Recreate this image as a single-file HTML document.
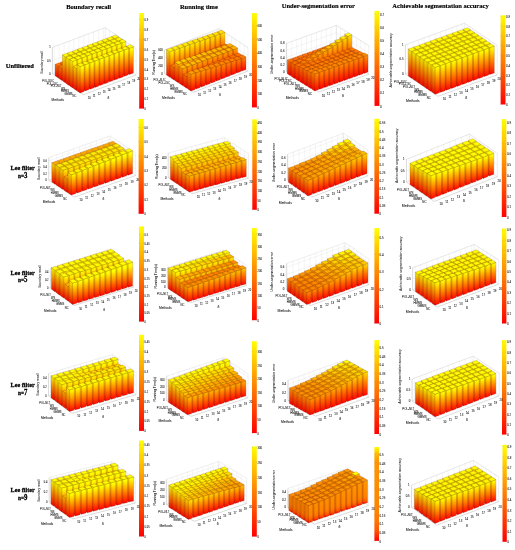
<!DOCTYPE html><html><head><meta charset="utf-8"><style>html,body{margin:0;padding:0;background:#fff;width:515px;height:550px;overflow:hidden}svg{display:block}.t{font-family:'Liberation Sans',sans-serif;fill:#222;stroke:#222;stroke-width:0.06px}.l{fill:#700;fill-opacity:.13;stroke:none}</style></head><body><svg width="515" height="550" viewBox="0 0 515 550"><path d="M52.4 73.8L105.3 54L136.1 75M52.4 60.6L105.3 40.8L136.1 61.8M52.4 47.4L105.3 27.6L136.1 48.6M54.2 73.1L54.2 46.7M54.2 73.1L85 94.1M59.1 71.3L59.1 44.9M59.1 71.3L89.9 92.3M64.1 69.4L64.1 43M64.1 69.4L94.9 90.4M69 67.6L69 41.2M69 67.6L99.8 88.6M73.9 65.7L73.9 39.3M73.9 65.7L104.7 86.7M78.8 63.9L78.8 37.5M78.8 63.9L109.7 84.9M83.8 62.1L83.8 35.7M83.8 62.1L114.6 83.1M88.7 60.2L88.7 33.8M88.7 60.2L119.5 81.2M93.6 58.4L93.6 32M93.6 58.4L124.4 79.4M98.6 56.5L98.6 30.1M98.6 56.5L129.4 77.5M103.5 54.7L103.5 28.3M103.5 54.7L134.3 75.7M109.6 57L109.6 30.6M56.7 76.7L109.6 57M113.3 59.5L113.3 33.1M60.4 79.3L113.3 59.5M117 62L117 35.6M64.1 81.8L117 62M120.7 64.5L120.7 38.1M67.8 84.3L120.7 64.5M124.4 67L124.4 40.6M71.5 86.8L124.4 67M128.1 69.5L128.1 43.1M75.2 89.3L128.1 69.5M131.8 72.1L131.8 45.7M78.9 91.8L131.8 72.1" stroke="#e2e2e2" stroke-width="0.35" fill="none"/>
<path d="M52.4 73.8L105.3 54M105.3 54L136.1 75M105.3 54L105.3 27.6M136.1 75L136.1 48.6M52.4 47.4L105.3 27.6M105.3 27.6L136.1 48.6" stroke="#d0d0d0" stroke-width="0.35" fill="none"/>
<path d="M52.4 73.8L83.2 94.8M83.2 94.8L136.1 75M52.4 73.8L52.4 47.4" stroke="#aaa" stroke-width="0.4" fill="none"/>
<linearGradient id="g0" gradientUnits="userSpaceOnUse" x1="0" y1="0" x2="0" y2="-25.5"><stop offset="0" stop-color="#f00"/><stop offset="1" stop-color="#ff0"/></linearGradient>
<g fill="url(#g0)" stroke="rgba(100,30,0,0.55)" stroke-width="0.35">
<g transform="translate(107.3 59.4)"><path d="M-3 -2l3 2 3.9 -1.5v-11.5l-3.9 1.5 -3 -2zM0 0v-11.5"/><path class="l" d="M-3 -2L0 0v-11.5l-3 -2z"/><path d="M-3 -13.5L0 -11.5L3.9 -13L1 -15z" fill="#ff7300"/></g>
<g transform="translate(102.4 61.2)"><path d="M-3 -2l3 2 3.9 -1.5v-11.5l-3.9 1.5 -3 -2zM0 0v-11.5"/><path class="l" d="M-3 -2L0 0v-11.5l-3 -2z"/><path d="M-3 -13.5L0 -11.5L3.9 -13L1 -15z" fill="#ff7300"/></g>
<g transform="translate(97.5 63.1)"><path d="M-3 -2l3 2 3.9 -1.5v-11.5l-3.9 1.5 -3 -2zM0 0v-11.5"/><path class="l" d="M-3 -2L0 0v-11.5l-3 -2z"/><path d="M-3 -13.5L0 -11.5L3.9 -13L1 -15z" fill="#ff7300"/></g>
<g transform="translate(92.5 64.9)"><path d="M-3 -2l3 2 3.9 -1.5v-11.5l-3.9 1.5 -3 -2zM0 0v-11.5"/><path class="l" d="M-3 -2L0 0v-11.5l-3 -2z"/><path d="M-3 -13.5L0 -11.5L3.9 -13L1 -15z" fill="#ff7300"/></g>
<g transform="translate(87.6 66.8)"><path d="M-3 -2l3 2 3.9 -1.5v-11.5l-3.9 1.5 -3 -2zM0 0v-11.5"/><path class="l" d="M-3 -2L0 0v-11.5l-3 -2z"/><path d="M-3 -13.5L0 -11.5L3.9 -13L1 -15z" fill="#ff7300"/></g>
<g transform="translate(82.7 68.6)"><path d="M-3 -2l3 2 3.9 -1.5v-11.5l-3.9 1.5 -3 -2zM0 0v-11.5"/><path class="l" d="M-3 -2L0 0v-11.5l-3 -2z"/><path d="M-3 -13.5L0 -11.5L3.9 -13L1 -15z" fill="#ff7300"/></g>
<g transform="translate(77.8 70.4)"><path d="M-3 -2l3 2 3.9 -1.5v-11.5l-3.9 1.5 -3 -2zM0 0v-11.5"/><path class="l" d="M-3 -2L0 0v-11.5l-3 -2z"/><path d="M-3 -13.5L0 -11.5L3.9 -13L1 -15z" fill="#ff7300"/></g>
<g transform="translate(72.8 72.3)"><path d="M-3 -2l3 2 3.9 -1.5v-11.5l-3.9 1.5 -3 -2zM0 0v-11.5"/><path class="l" d="M-3 -2L0 0v-11.5l-3 -2z"/><path d="M-3 -13.5L0 -11.5L3.9 -13L1 -15z" fill="#ff7300"/></g>
<g transform="translate(67.9 74.1)"><path d="M-3 -2l3 2 3.9 -1.5v-11.5l-3.9 1.5 -3 -2zM0 0v-11.5"/><path class="l" d="M-3 -2L0 0v-11.5l-3 -2z"/><path d="M-3 -13.5L0 -11.5L3.9 -13L1 -15z" fill="#ff7300"/></g>
<g transform="translate(63 76)"><path d="M-3 -2l3 2 3.9 -1.5v-11.5l-3.9 1.5 -3 -2zM0 0v-11.5"/><path class="l" d="M-3 -2L0 0v-11.5l-3 -2z"/><path d="M-3 -13.5L0 -11.5L3.9 -13L1 -15z" fill="#ff7300"/></g>
<g transform="translate(58.1 77.8)"><path d="M-3 -2l3 2 3.9 -1.5v-11.5l-3.9 1.5 -3 -2zM0 0v-11.5"/><path class="l" d="M-3 -2L0 0v-11.5l-3 -2z"/><path d="M-3 -13.5L0 -11.5L3.9 -13L1 -15z" fill="#ff7300"/></g>
<g transform="translate(111 61.9)"><path d="M-3 -2l3 2 3.9 -1.5v-12l-3.9 1.5 -3 -2zM0 0v-12"/><path class="l" d="M-3 -2L0 0v-12l-3 -2z"/><path d="M-3 -14L0 -12L3.9 -13.5L1 -15.5z" fill="#ff7800"/></g>
<g transform="translate(106.1 63.7)"><path d="M-3 -2l3 2 3.9 -1.5v-12l-3.9 1.5 -3 -2zM0 0v-12"/><path class="l" d="M-3 -2L0 0v-12l-3 -2z"/><path d="M-3 -14L0 -12L3.9 -13.5L1 -15.5z" fill="#ff7800"/></g>
<g transform="translate(101.2 65.6)"><path d="M-3 -2l3 2 3.9 -1.5v-12l-3.9 1.5 -3 -2zM0 0v-12"/><path class="l" d="M-3 -2L0 0v-12l-3 -2z"/><path d="M-3 -14L0 -12L3.9 -13.5L1 -15.5z" fill="#ff7800"/></g>
<g transform="translate(96.2 67.4)"><path d="M-3 -2l3 2 3.9 -1.5v-12l-3.9 1.5 -3 -2zM0 0v-12"/><path class="l" d="M-3 -2L0 0v-12l-3 -2z"/><path d="M-3 -14L0 -12L3.9 -13.5L1 -15.5z" fill="#ff7800"/></g>
<g transform="translate(91.3 69.3)"><path d="M-3 -2l3 2 3.9 -1.5v-12l-3.9 1.5 -3 -2zM0 0v-12"/><path class="l" d="M-3 -2L0 0v-12l-3 -2z"/><path d="M-3 -14L0 -12L3.9 -13.5L1 -15.5z" fill="#ff7800"/></g>
<g transform="translate(86.4 71.1)"><path d="M-3 -2l3 2 3.9 -1.5v-12l-3.9 1.5 -3 -2zM0 0v-12"/><path class="l" d="M-3 -2L0 0v-12l-3 -2z"/><path d="M-3 -14L0 -12L3.9 -13.5L1 -15.5z" fill="#ff7800"/></g>
<g transform="translate(81.4 73)"><path d="M-3 -2l3 2 3.9 -1.5v-12l-3.9 1.5 -3 -2zM0 0v-12"/><path class="l" d="M-3 -2L0 0v-12l-3 -2z"/><path d="M-3 -14L0 -12L3.9 -13.5L1 -15.5z" fill="#ff7800"/></g>
<g transform="translate(76.5 74.8)"><path d="M-3 -2l3 2 3.9 -1.5v-12l-3.9 1.5 -3 -2zM0 0v-12"/><path class="l" d="M-3 -2L0 0v-12l-3 -2z"/><path d="M-3 -14L0 -12L3.9 -13.5L1 -15.5z" fill="#ff7800"/></g>
<g transform="translate(71.6 76.6)"><path d="M-3 -2l3 2 3.9 -1.5v-12l-3.9 1.5 -3 -2zM0 0v-12"/><path class="l" d="M-3 -2L0 0v-12l-3 -2z"/><path d="M-3 -14L0 -12L3.9 -13.5L1 -15.5z" fill="#ff7800"/></g>
<g transform="translate(66.7 78.5)"><path d="M-3 -2l3 2 3.9 -1.5v-12l-3.9 1.5 -3 -2zM0 0v-12"/><path class="l" d="M-3 -2L0 0v-12l-3 -2z"/><path d="M-3 -14L0 -12L3.9 -13.5L1 -15.5z" fill="#ff7800"/></g>
<g transform="translate(61.7 80.3)"><path d="M-3 -2l3 2 3.9 -1.5v-12l-3.9 1.5 -3 -2zM0 0v-12"/><path class="l" d="M-3 -2L0 0v-12l-3 -2z"/><path d="M-3 -14L0 -12L3.9 -13.5L1 -15.5z" fill="#ff7800"/></g>
<g transform="translate(114.7 64.4)"><path d="M-3 -2l3 2 3.9 -1.5v-26l-3.9 1.5 -3 -2zM0 0v-26"/><path class="l" d="M-3 -2L0 0v-26l-3 -2z"/><path d="M-3 -28L0 -26L3.9 -27.5L1 -29.5z" fill="#ffff00"/></g>
<g transform="translate(109.8 66.3)"><path d="M-3 -2l3 2 3.9 -1.5v-26l-3.9 1.5 -3 -2zM0 0v-26"/><path class="l" d="M-3 -2L0 0v-26l-3 -2z"/><path d="M-3 -28L0 -26L3.9 -27.5L1 -29.5z" fill="#ffff00"/></g>
<g transform="translate(104.8 68.1)"><path d="M-3 -2l3 2 3.9 -1.5v-26l-3.9 1.5 -3 -2zM0 0v-26"/><path class="l" d="M-3 -2L0 0v-26l-3 -2z"/><path d="M-3 -28L0 -26L3.9 -27.5L1 -29.5z" fill="#ffff00"/></g>
<g transform="translate(99.9 69.9)"><path d="M-3 -2l3 2 3.9 -1.5v-26l-3.9 1.5 -3 -2zM0 0v-26"/><path class="l" d="M-3 -2L0 0v-26l-3 -2z"/><path d="M-3 -28L0 -26L3.9 -27.5L1 -29.5z" fill="#ffff00"/></g>
<g transform="translate(95 71.8)"><path d="M-3 -2l3 2 3.9 -1.5v-26l-3.9 1.5 -3 -2zM0 0v-26"/><path class="l" d="M-3 -2L0 0v-26l-3 -2z"/><path d="M-3 -28L0 -26L3.9 -27.5L1 -29.5z" fill="#ffff00"/></g>
<g transform="translate(90.1 73.6)"><path d="M-3 -2l3 2 3.9 -1.5v-26l-3.9 1.5 -3 -2zM0 0v-26"/><path class="l" d="M-3 -2L0 0v-26l-3 -2z"/><path d="M-3 -28L0 -26L3.9 -27.5L1 -29.5z" fill="#ffff00"/></g>
<g transform="translate(85.1 75.5)"><path d="M-3 -2l3 2 3.9 -1.5v-26l-3.9 1.5 -3 -2zM0 0v-26"/><path class="l" d="M-3 -2L0 0v-26l-3 -2z"/><path d="M-3 -28L0 -26L3.9 -27.5L1 -29.5z" fill="#ffff00"/></g>
<g transform="translate(80.2 77.3)"><path d="M-3 -2l3 2 3.9 -1.5v-26l-3.9 1.5 -3 -2zM0 0v-26"/><path class="l" d="M-3 -2L0 0v-26l-3 -2z"/><path d="M-3 -28L0 -26L3.9 -27.5L1 -29.5z" fill="#ffff00"/></g>
<g transform="translate(75.3 79.2)"><path d="M-3 -2l3 2 3.9 -1.5v-26l-3.9 1.5 -3 -2zM0 0v-26"/><path class="l" d="M-3 -2L0 0v-26l-3 -2z"/><path d="M-3 -28L0 -26L3.9 -27.5L1 -29.5z" fill="#ffff00"/></g>
<g transform="translate(70.4 81)"><path d="M-3 -2l3 2 3.9 -1.5v-26l-3.9 1.5 -3 -2zM0 0v-26"/><path class="l" d="M-3 -2L0 0v-26l-3 -2z"/><path d="M-3 -28L0 -26L3.9 -27.5L1 -29.5z" fill="#ffff00"/></g>
<g transform="translate(65.4 82.8)"><path d="M-3 -2l3 2 3.9 -1.5v-26l-3.9 1.5 -3 -2zM0 0v-26"/><path class="l" d="M-3 -2L0 0v-26l-3 -2z"/><path d="M-3 -28L0 -26L3.9 -27.5L1 -29.5z" fill="#ffff00"/></g>
<g transform="translate(118.4 66.9)"><path d="M-3 -2l3 2 3.9 -1.5v-26l-3.9 1.5 -3 -2zM0 0v-26"/><path class="l" d="M-3 -2L0 0v-26l-3 -2z"/><path d="M-3 -28L0 -26L3.9 -27.5L1 -29.5z" fill="#ffff00"/></g>
<g transform="translate(113.5 68.8)"><path d="M-3 -2l3 2 3.9 -1.5v-26l-3.9 1.5 -3 -2zM0 0v-26"/><path class="l" d="M-3 -2L0 0v-26l-3 -2z"/><path d="M-3 -28L0 -26L3.9 -27.5L1 -29.5z" fill="#ffff00"/></g>
<g transform="translate(108.5 70.6)"><path d="M-3 -2l3 2 3.9 -1.5v-26l-3.9 1.5 -3 -2zM0 0v-26"/><path class="l" d="M-3 -2L0 0v-26l-3 -2z"/><path d="M-3 -28L0 -26L3.9 -27.5L1 -29.5z" fill="#ffff00"/></g>
<g transform="translate(103.6 72.5)"><path d="M-3 -2l3 2 3.9 -1.5v-26l-3.9 1.5 -3 -2zM0 0v-26"/><path class="l" d="M-3 -2L0 0v-26l-3 -2z"/><path d="M-3 -28L0 -26L3.9 -27.5L1 -29.5z" fill="#ffff00"/></g>
<g transform="translate(98.7 74.3)"><path d="M-3 -2l3 2 3.9 -1.5v-26l-3.9 1.5 -3 -2zM0 0v-26"/><path class="l" d="M-3 -2L0 0v-26l-3 -2z"/><path d="M-3 -28L0 -26L3.9 -27.5L1 -29.5z" fill="#ffff00"/></g>
<g transform="translate(93.8 76.1)"><path d="M-3 -2l3 2 3.9 -1.5v-26l-3.9 1.5 -3 -2zM0 0v-26"/><path class="l" d="M-3 -2L0 0v-26l-3 -2z"/><path d="M-3 -28L0 -26L3.9 -27.5L1 -29.5z" fill="#ffff00"/></g>
<g transform="translate(88.8 78)"><path d="M-3 -2l3 2 3.9 -1.5v-26l-3.9 1.5 -3 -2zM0 0v-26"/><path class="l" d="M-3 -2L0 0v-26l-3 -2z"/><path d="M-3 -28L0 -26L3.9 -27.5L1 -29.5z" fill="#ffff00"/></g>
<g transform="translate(83.9 79.8)"><path d="M-3 -2l3 2 3.9 -1.5v-26l-3.9 1.5 -3 -2zM0 0v-26"/><path class="l" d="M-3 -2L0 0v-26l-3 -2z"/><path d="M-3 -28L0 -26L3.9 -27.5L1 -29.5z" fill="#ffff00"/></g>
<g transform="translate(79 81.7)"><path d="M-3 -2l3 2 3.9 -1.5v-26l-3.9 1.5 -3 -2zM0 0v-26"/><path class="l" d="M-3 -2L0 0v-26l-3 -2z"/><path d="M-3 -28L0 -26L3.9 -27.5L1 -29.5z" fill="#ffff00"/></g>
<g transform="translate(74.1 83.5)"><path d="M-3 -2l3 2 3.9 -1.5v-26l-3.9 1.5 -3 -2zM0 0v-26"/><path class="l" d="M-3 -2L0 0v-26l-3 -2z"/><path d="M-3 -28L0 -26L3.9 -27.5L1 -29.5z" fill="#ffff00"/></g>
<g transform="translate(69.1 85.4)"><path d="M-3 -2l3 2 3.9 -1.5v-26l-3.9 1.5 -3 -2zM0 0v-26"/><path class="l" d="M-3 -2L0 0v-26l-3 -2z"/><path d="M-3 -28L0 -26L3.9 -27.5L1 -29.5z" fill="#ffff00"/></g>
<g transform="translate(122.1 69.4)"><path d="M-3 -2l3 2 3.9 -1.5v-26.5l-3.9 1.5 -3 -2zM0 0v-26.5"/><path class="l" d="M-3 -2L0 0v-26.5l-3 -2z"/><path d="M-3 -28.5L0 -26.5L3.9 -28L1 -30z" fill="#ffff00"/></g>
<g transform="translate(117.2 71.3)"><path d="M-3 -2l3 2 3.9 -1.5v-26.5l-3.9 1.5 -3 -2zM0 0v-26.5"/><path class="l" d="M-3 -2L0 0v-26.5l-3 -2z"/><path d="M-3 -28.5L0 -26.5L3.9 -28L1 -30z" fill="#ffff00"/></g>
<g transform="translate(112.2 73.1)"><path d="M-3 -2l3 2 3.9 -1.5v-26.5l-3.9 1.5 -3 -2zM0 0v-26.5"/><path class="l" d="M-3 -2L0 0v-26.5l-3 -2z"/><path d="M-3 -28.5L0 -26.5L3.9 -28L1 -30z" fill="#ffff00"/></g>
<g transform="translate(107.3 75)"><path d="M-3 -2l3 2 3.9 -1.5v-26.5l-3.9 1.5 -3 -2zM0 0v-26.5"/><path class="l" d="M-3 -2L0 0v-26.5l-3 -2z"/><path d="M-3 -28.5L0 -26.5L3.9 -28L1 -30z" fill="#ffff00"/></g>
<g transform="translate(102.4 76.8)"><path d="M-3 -2l3 2 3.9 -1.5v-26.5l-3.9 1.5 -3 -2zM0 0v-26.5"/><path class="l" d="M-3 -2L0 0v-26.5l-3 -2z"/><path d="M-3 -28.5L0 -26.5L3.9 -28L1 -30z" fill="#ffff00"/></g>
<g transform="translate(97.4 78.7)"><path d="M-3 -2l3 2 3.9 -1.5v-26.5l-3.9 1.5 -3 -2zM0 0v-26.5"/><path class="l" d="M-3 -2L0 0v-26.5l-3 -2z"/><path d="M-3 -28.5L0 -26.5L3.9 -28L1 -30z" fill="#ffff00"/></g>
<g transform="translate(92.5 80.5)"><path d="M-3 -2l3 2 3.9 -1.5v-26.5l-3.9 1.5 -3 -2zM0 0v-26.5"/><path class="l" d="M-3 -2L0 0v-26.5l-3 -2z"/><path d="M-3 -28.5L0 -26.5L3.9 -28L1 -30z" fill="#ffff00"/></g>
<g transform="translate(87.6 82.3)"><path d="M-3 -2l3 2 3.9 -1.5v-26.5l-3.9 1.5 -3 -2zM0 0v-26.5"/><path class="l" d="M-3 -2L0 0v-26.5l-3 -2z"/><path d="M-3 -28.5L0 -26.5L3.9 -28L1 -30z" fill="#ffff00"/></g>
<g transform="translate(82.7 84.2)"><path d="M-3 -2l3 2 3.9 -1.5v-26.5l-3.9 1.5 -3 -2zM0 0v-26.5"/><path class="l" d="M-3 -2L0 0v-26.5l-3 -2z"/><path d="M-3 -28.5L0 -26.5L3.9 -28L1 -30z" fill="#ffff00"/></g>
<g transform="translate(77.7 86)"><path d="M-3 -2l3 2 3.9 -1.5v-26.5l-3.9 1.5 -3 -2zM0 0v-26.5"/><path class="l" d="M-3 -2L0 0v-26.5l-3 -2z"/><path d="M-3 -28.5L0 -26.5L3.9 -28L1 -30z" fill="#ffff00"/></g>
<g transform="translate(72.8 87.9)"><path d="M-3 -2l3 2 3.9 -1.5v-26.5l-3.9 1.5 -3 -2zM0 0v-26.5"/><path class="l" d="M-3 -2L0 0v-26.5l-3 -2z"/><path d="M-3 -28.5L0 -26.5L3.9 -28L1 -30z" fill="#ffff00"/></g>
<g transform="translate(125.8 72)"><path d="M-3 -2l3 2 3.9 -1.5v-22l-3.9 1.5 -3 -2zM0 0v-22"/><path class="l" d="M-3 -2L0 0v-22l-3 -2z"/><path d="M-3 -24L0 -22L3.9 -23.5L1 -25.5z" fill="#ffdc00"/></g>
<g transform="translate(120.8 73.8)"><path d="M-3 -2l3 2 3.9 -1.5v-22l-3.9 1.5 -3 -2zM0 0v-22"/><path class="l" d="M-3 -2L0 0v-22l-3 -2z"/><path d="M-3 -24L0 -22L3.9 -23.5L1 -25.5z" fill="#ffdc00"/></g>
<g transform="translate(115.9 75.6)"><path d="M-3 -2l3 2 3.9 -1.5v-22l-3.9 1.5 -3 -2zM0 0v-22"/><path class="l" d="M-3 -2L0 0v-22l-3 -2z"/><path d="M-3 -24L0 -22L3.9 -23.5L1 -25.5z" fill="#ffdc00"/></g>
<g transform="translate(111 77.5)"><path d="M-3 -2l3 2 3.9 -1.5v-22l-3.9 1.5 -3 -2zM0 0v-22"/><path class="l" d="M-3 -2L0 0v-22l-3 -2z"/><path d="M-3 -24L0 -22L3.9 -23.5L1 -25.5z" fill="#ffdc00"/></g>
<g transform="translate(106.1 79.3)"><path d="M-3 -2l3 2 3.9 -1.5v-22l-3.9 1.5 -3 -2zM0 0v-22"/><path class="l" d="M-3 -2L0 0v-22l-3 -2z"/><path d="M-3 -24L0 -22L3.9 -23.5L1 -25.5z" fill="#ffdc00"/></g>
<g transform="translate(101.1 81.2)"><path d="M-3 -2l3 2 3.9 -1.5v-22l-3.9 1.5 -3 -2zM0 0v-22"/><path class="l" d="M-3 -2L0 0v-22l-3 -2z"/><path d="M-3 -24L0 -22L3.9 -23.5L1 -25.5z" fill="#ffdc00"/></g>
<g transform="translate(96.2 83)"><path d="M-3 -2l3 2 3.9 -1.5v-22l-3.9 1.5 -3 -2zM0 0v-22"/><path class="l" d="M-3 -2L0 0v-22l-3 -2z"/><path d="M-3 -24L0 -22L3.9 -23.5L1 -25.5z" fill="#ffdc00"/></g>
<g transform="translate(91.3 84.9)"><path d="M-3 -2l3 2 3.9 -1.5v-22l-3.9 1.5 -3 -2zM0 0v-22"/><path class="l" d="M-3 -2L0 0v-22l-3 -2z"/><path d="M-3 -24L0 -22L3.9 -23.5L1 -25.5z" fill="#ffdc00"/></g>
<g transform="translate(86.4 86.7)"><path d="M-3 -2l3 2 3.9 -1.5v-22l-3.9 1.5 -3 -2zM0 0v-22"/><path class="l" d="M-3 -2L0 0v-22l-3 -2z"/><path d="M-3 -24L0 -22L3.9 -23.5L1 -25.5z" fill="#ffdc00"/></g>
<g transform="translate(81.4 88.5)"><path d="M-3 -2l3 2 3.9 -1.5v-22l-3.9 1.5 -3 -2zM0 0v-22"/><path class="l" d="M-3 -2L0 0v-22l-3 -2z"/><path d="M-3 -24L0 -22L3.9 -23.5L1 -25.5z" fill="#ffdc00"/></g>
<g transform="translate(76.5 90.4)"><path d="M-3 -2l3 2 3.9 -1.5v-22l-3.9 1.5 -3 -2zM0 0v-22"/><path class="l" d="M-3 -2L0 0v-22l-3 -2z"/><path d="M-3 -24L0 -22L3.9 -23.5L1 -25.5z" fill="#ffdc00"/></g>
<g transform="translate(129.5 74.5)"><path d="M-3 -2l3 2 3.9 -1.5v-26.4l-3.9 1.5 -3 -2zM0 0v-26.4"/><path class="l" d="M-3 -2L0 0v-26.4l-3 -2z"/><path d="M-3 -28.4L0 -26.4L3.9 -27.9L1 -29.9z" fill="#ffff00"/></g>
<g transform="translate(124.5 76.3)"><path d="M-3 -2l3 2 3.9 -1.5v-26.4l-3.9 1.5 -3 -2zM0 0v-26.4"/><path class="l" d="M-3 -2L0 0v-26.4l-3 -2z"/><path d="M-3 -28.4L0 -26.4L3.9 -27.9L1 -29.9z" fill="#ffff00"/></g>
<g transform="translate(119.6 78.2)"><path d="M-3 -2l3 2 3.9 -1.5v-26.4l-3.9 1.5 -3 -2zM0 0v-26.4"/><path class="l" d="M-3 -2L0 0v-26.4l-3 -2z"/><path d="M-3 -28.4L0 -26.4L3.9 -27.9L1 -29.9z" fill="#ffff00"/></g>
<g transform="translate(114.7 80)"><path d="M-3 -2l3 2 3.9 -1.5v-26.4l-3.9 1.5 -3 -2zM0 0v-26.4"/><path class="l" d="M-3 -2L0 0v-26.4l-3 -2z"/><path d="M-3 -28.4L0 -26.4L3.9 -27.9L1 -29.9z" fill="#ffff00"/></g>
<g transform="translate(109.8 81.8)"><path d="M-3 -2l3 2 3.9 -1.5v-26.4l-3.9 1.5 -3 -2zM0 0v-26.4"/><path class="l" d="M-3 -2L0 0v-26.4l-3 -2z"/><path d="M-3 -28.4L0 -26.4L3.9 -27.9L1 -29.9z" fill="#ffff00"/></g>
<g transform="translate(104.8 83.7)"><path d="M-3 -2l3 2 3.9 -1.5v-26.4l-3.9 1.5 -3 -2zM0 0v-26.4"/><path class="l" d="M-3 -2L0 0v-26.4l-3 -2z"/><path d="M-3 -28.4L0 -26.4L3.9 -27.9L1 -29.9z" fill="#ffff00"/></g>
<g transform="translate(99.9 85.5)"><path d="M-3 -2l3 2 3.9 -1.5v-26.4l-3.9 1.5 -3 -2zM0 0v-26.4"/><path class="l" d="M-3 -2L0 0v-26.4l-3 -2z"/><path d="M-3 -28.4L0 -26.4L3.9 -27.9L1 -29.9z" fill="#ffff00"/></g>
<g transform="translate(95 87.4)"><path d="M-3 -2l3 2 3.9 -1.5v-26.4l-3.9 1.5 -3 -2zM0 0v-26.4"/><path class="l" d="M-3 -2L0 0v-26.4l-3 -2z"/><path d="M-3 -28.4L0 -26.4L3.9 -27.9L1 -29.9z" fill="#ffff00"/></g>
<g transform="translate(90.1 89.2)"><path d="M-3 -2l3 2 3.9 -1.5v-26.4l-3.9 1.5 -3 -2zM0 0v-26.4"/><path class="l" d="M-3 -2L0 0v-26.4l-3 -2z"/><path d="M-3 -28.4L0 -26.4L3.9 -27.9L1 -29.9z" fill="#ffff00"/></g>
<g transform="translate(85.1 91.1)"><path d="M-3 -2l3 2 3.9 -1.5v-26.4l-3.9 1.5 -3 -2zM0 0v-26.4"/><path class="l" d="M-3 -2L0 0v-26.4l-3 -2z"/><path d="M-3 -28.4L0 -26.4L3.9 -27.9L1 -29.9z" fill="#ffff00"/></g>
<g transform="translate(80.2 92.9)"><path d="M-3 -2l3 2 3.9 -1.5v-26.4l-3.9 1.5 -3 -2zM0 0v-26.4"/><path class="l" d="M-3 -2L0 0v-26.4l-3 -2z"/><path d="M-3 -28.4L0 -26.4L3.9 -27.9L1 -29.9z" fill="#ffff00"/></g>
</g>
<linearGradient id="cb0" x1="0" y1="1" x2="0" y2="0"><stop offset="0" stop-color="#f00"/><stop offset="1" stop-color="#ff0"/></linearGradient>
<rect x="139.2" y="13" width="4.8" height="95.6" fill="url(#cb0)"/>
<g class="t" font-size="2.6">
<text x="50.6" y="74.7" text-anchor="end">0</text>
<text x="50.6" y="61.5" text-anchor="end">0.5</text>
<text x="50.6" y="48.3" text-anchor="end">1</text>
<text x="43.4" y="62.3" font-size="3.2" text-anchor="middle" transform="rotate(-90 43.4 62.3)">Boundary recall</text>
<text x="54.1" y="82.1" text-anchor="end">POL-SLIC</text>
<text x="57.8" y="84.7" text-anchor="end">POL-LSC</text>
<text x="61.5" y="87.2" text-anchor="end">POL-NLT</text>
<text x="65.2" y="89.7" text-anchor="end">WS</text>
<text x="68.9" y="92.2" text-anchor="end">HMMS</text>
<text x="72.6" y="94.7" text-anchor="end">GMMS</text>
<text x="76.3" y="97.2" text-anchor="end">NC</text>
<text x="89.3" y="98.8" text-anchor="middle">10</text>
<text x="94.2" y="97" text-anchor="middle">11</text>
<text x="99.2" y="95.1" text-anchor="middle">12</text>
<text x="104.1" y="93.3" text-anchor="middle">13</text>
<text x="109" y="91.4" text-anchor="middle">14</text>
<text x="114" y="89.6" text-anchor="middle">15</text>
<text x="118.9" y="87.8" text-anchor="middle">16</text>
<text x="123.8" y="85.9" text-anchor="middle">17</text>
<text x="128.7" y="84.1" text-anchor="middle">18</text>
<text x="133.7" y="82.2" text-anchor="middle">19</text>
<text x="138.6" y="80.4" text-anchor="middle">20</text>
<text x="57.7" y="100.5" font-size="3.2" text-anchor="middle">Methods</text>
<text x="108.3" y="98.5" font-size="3.2" text-anchor="middle">δ</text>
<path d="M139.2 108.6h0.8M144 108.6h-0.8" stroke="#777" stroke-width="0.3"/>
<text x="144.6" y="110">0</text>
<path d="M139.2 98.7h0.8M144 98.7h-0.8" stroke="#777" stroke-width="0.3"/>
<text x="144.6" y="100.1">0.1</text>
<path d="M139.2 88.8h0.8M144 88.8h-0.8" stroke="#777" stroke-width="0.3"/>
<text x="144.6" y="90.2">0.2</text>
<path d="M139.2 78.9h0.8M144 78.9h-0.8" stroke="#777" stroke-width="0.3"/>
<text x="144.6" y="80.3">0.3</text>
<path d="M139.2 69h0.8M144 69h-0.8" stroke="#777" stroke-width="0.3"/>
<text x="144.6" y="70.5">0.4</text>
<path d="M139.2 59.1h0.8M144 59.1h-0.8" stroke="#777" stroke-width="0.3"/>
<text x="144.6" y="60.6">0.5</text>
<path d="M139.2 49.2h0.8M144 49.2h-0.8" stroke="#777" stroke-width="0.3"/>
<text x="144.6" y="50.7">0.6</text>
<path d="M139.2 39.3h0.8M144 39.3h-0.8" stroke="#777" stroke-width="0.3"/>
<text x="144.6" y="40.8">0.7</text>
<path d="M139.2 29.4h0.8M144 29.4h-0.8" stroke="#777" stroke-width="0.3"/>
<text x="144.6" y="30.9">0.8</text>
<path d="M139.2 19.5h0.8M144 19.5h-0.8" stroke="#777" stroke-width="0.3"/>
<text x="144.6" y="21">0.9</text>
</g>
<path d="M164.5 73.5L219.1 52.1L248 71M164.5 65.7L219.1 44.3L248 63.2M164.5 57.9L219.1 36.5L248 55.4M164.5 50.1L219.1 28.7L248 47.6M166.4 72.8L166.4 49.4M166.4 72.8L195.2 91.6M171.4 70.8L171.4 47.4M171.4 70.8L200.3 89.6M176.5 68.8L176.5 45.4M176.5 68.8L205.4 87.6M181.6 66.8L181.6 43.4M181.6 66.8L210.5 85.7M186.7 64.8L186.7 41.4M186.7 64.8L215.6 83.7M191.8 62.8L191.8 39.4M191.8 62.8L220.7 81.7M196.9 60.8L196.9 37.4M196.9 60.8L225.8 79.7M202 58.8L202 35.4M202 58.8L230.9 77.7M207.1 56.9L207.1 33.5M207.1 56.9L236 75.7M212.2 54.9L212.2 31.5M212.2 54.9L241.1 73.7M217.3 52.9L217.3 29.5M217.3 52.9L246.1 71.7M223 54.7L223 31.3M168.4 76L223 54.7M227.2 57.4L227.2 34M172.6 78.8L227.2 57.4M231.5 60.2L231.5 36.8M176.8 81.5L231.5 60.2M235.7 63L235.7 39.6M181 84.3L235.7 63M239.9 65.7L239.9 42.3M185.3 87.1L239.9 65.7M244.1 68.5L244.1 45.1M189.5 89.8L244.1 68.5" stroke="#e2e2e2" stroke-width="0.35" fill="none"/>
<path d="M164.5 73.5L219.1 52.1M219.1 52.1L248 71M219.1 52.1L219.1 28.7M248 71L248 47.6M164.5 50.1L219.1 28.7M219.1 28.7L248 47.6" stroke="#d0d0d0" stroke-width="0.35" fill="none"/>
<path d="M164.5 73.5L193.4 92.4M193.4 92.4L248 71M164.5 73.5L164.5 50.1" stroke="#aaa" stroke-width="0.4" fill="none"/>
<linearGradient id="g1" gradientUnits="userSpaceOnUse" x1="0" y1="0" x2="0" y2="-27"><stop offset="0" stop-color="#f00"/><stop offset="1" stop-color="#ff0"/></linearGradient>
<g fill="url(#g1)" stroke="rgba(100,30,0,0.55)" stroke-width="0.35">
<g transform="translate(220.8 57.3)"><path d="M-3.4 -2.2l3.4 2.2 4.1 -1.6v-23.4l-4.1 1.6 -3.4 -2.2zM0 0v-23.4"/><path class="l" d="M-3.4 -2.2L0 0v-23.4l-3.4 -2.2z"/><path d="M-3.4 -25.6L0 -23.4L4.1 -25L0.7 -27.2z" fill="#ffdd00"/></g>
<g transform="translate(215.7 59.3)"><path d="M-3.4 -2.2l3.4 2.2 4.1 -1.6v-23.6l-4.1 1.6 -3.4 -2.2zM0 0v-23.6"/><path class="l" d="M-3.4 -2.2L0 0v-23.6l-3.4 -2.2z"/><path d="M-3.4 -25.8L0 -23.6L4.1 -25.2L0.7 -27.4z" fill="#ffdf00"/></g>
<g transform="translate(210.6 61.3)"><path d="M-3.4 -2.2l3.4 2.2 4.1 -1.6v-23.8l-4.1 1.6 -3.4 -2.2zM0 0v-23.8"/><path class="l" d="M-3.4 -2.2L0 0v-23.8l-3.4 -2.2z"/><path d="M-3.4 -26L0 -23.8L4.1 -25.4L0.7 -27.6z" fill="#ffe100"/></g>
<g transform="translate(205.5 63.3)"><path d="M-3.4 -2.2l3.4 2.2 4.1 -1.6v-24l-4.1 1.6 -3.4 -2.2zM0 0v-24"/><path class="l" d="M-3.4 -2.2L0 0v-24l-3.4 -2.2z"/><path d="M-3.4 -26.3L0 -24L4.1 -25.6L0.7 -27.8z" fill="#ffe300"/></g>
<g transform="translate(200.4 65.3)"><path d="M-3.4 -2.2l3.4 2.2 4.1 -1.6v-24.3l-4.1 1.6 -3.4 -2.2zM0 0v-24.3"/><path class="l" d="M-3.4 -2.2L0 0v-24.3l-3.4 -2.2z"/><path d="M-3.4 -26.5L0 -24.3L4.1 -25.9L0.7 -28.1z" fill="#ffe500"/></g>
<g transform="translate(195.3 67.3)"><path d="M-3.4 -2.2l3.4 2.2 4.1 -1.6v-24.5l-4.1 1.6 -3.4 -2.2zM0 0v-24.5"/><path class="l" d="M-3.4 -2.2L0 0v-24.5l-3.4 -2.2z"/><path d="M-3.4 -26.7L0 -24.5L4.1 -26.1L0.7 -28.3z" fill="#ffe700"/></g>
<g transform="translate(190.2 69.2)"><path d="M-3.4 -2.2l3.4 2.2 4.1 -1.6v-24.7l-4.1 1.6 -3.4 -2.2zM0 0v-24.7"/><path class="l" d="M-3.4 -2.2L0 0v-24.7l-3.4 -2.2z"/><path d="M-3.4 -26.9L0 -24.7L4.1 -26.3L0.7 -28.5z" fill="#ffe900"/></g>
<g transform="translate(185.2 71.2)"><path d="M-3.4 -2.2l3.4 2.2 4.1 -1.6v-24.9l-4.1 1.6 -3.4 -2.2zM0 0v-24.9"/><path class="l" d="M-3.4 -2.2L0 0v-24.9l-3.4 -2.2z"/><path d="M-3.4 -27.1L0 -24.9L4.1 -26.5L0.7 -28.7z" fill="#ffeb00"/></g>
<g transform="translate(180.1 73.2)"><path d="M-3.4 -2.2l3.4 2.2 4.1 -1.6v-25.1l-4.1 1.6 -3.4 -2.2zM0 0v-25.1"/><path class="l" d="M-3.4 -2.2L0 0v-25.1l-3.4 -2.2z"/><path d="M-3.4 -27.3L0 -25.1L4.1 -26.7L0.7 -28.9z" fill="#ffed00"/></g>
<g transform="translate(175 75.2)"><path d="M-3.4 -2.2l3.4 2.2 4.1 -1.6v-25.3l-4.1 1.6 -3.4 -2.2zM0 0v-25.3"/><path class="l" d="M-3.4 -2.2L0 0v-25.3l-3.4 -2.2z"/><path d="M-3.4 -27.5L0 -25.3L4.1 -26.9L0.7 -29.1z" fill="#ffef00"/></g>
<g transform="translate(169.9 77.2)"><path d="M-3.4 -2.2l3.4 2.2 4.1 -1.6v-25.5l-4.1 1.6 -3.4 -2.2zM0 0v-25.5"/><path class="l" d="M-3.4 -2.2L0 0v-25.5l-3.4 -2.2z"/><path d="M-3.4 -27.8L0 -25.5L4.1 -27.1L0.7 -29.3z" fill="#fff100"/></g>
<g transform="translate(225 60.1)"><path d="M-3.4 -2.2l3.4 2.2 4.1 -1.6v-12.5l-4.1 1.6 -3.4 -2.2zM0 0v-12.5"/><path class="l" d="M-3.4 -2.2L0 0v-12.5l-3.4 -2.2z"/><path d="M-3.4 -14.7L0 -12.5L4.1 -14.1L0.7 -16.3z" fill="#ff7600"/></g>
<g transform="translate(219.9 62)"><path d="M-3.4 -2.2l3.4 2.2 4.1 -1.6v-12.5l-4.1 1.6 -3.4 -2.2zM0 0v-12.5"/><path class="l" d="M-3.4 -2.2L0 0v-12.5l-3.4 -2.2z"/><path d="M-3.4 -14.7L0 -12.5L4.1 -14.1L0.7 -16.3z" fill="#ff7600"/></g>
<g transform="translate(214.8 64)"><path d="M-3.4 -2.2l3.4 2.2 4.1 -1.6v-12.5l-4.1 1.6 -3.4 -2.2zM0 0v-12.5"/><path class="l" d="M-3.4 -2.2L0 0v-12.5l-3.4 -2.2z"/><path d="M-3.4 -14.7L0 -12.5L4.1 -14.1L0.7 -16.3z" fill="#ff7600"/></g>
<g transform="translate(209.8 66)"><path d="M-3.4 -2.2l3.4 2.2 4.1 -1.6v-12.5l-4.1 1.6 -3.4 -2.2zM0 0v-12.5"/><path class="l" d="M-3.4 -2.2L0 0v-12.5l-3.4 -2.2z"/><path d="M-3.4 -14.7L0 -12.5L4.1 -14.1L0.7 -16.3z" fill="#ff7600"/></g>
<g transform="translate(204.7 68)"><path d="M-3.4 -2.2l3.4 2.2 4.1 -1.6v-12.5l-4.1 1.6 -3.4 -2.2zM0 0v-12.5"/><path class="l" d="M-3.4 -2.2L0 0v-12.5l-3.4 -2.2z"/><path d="M-3.4 -14.7L0 -12.5L4.1 -14.1L0.7 -16.3z" fill="#ff7600"/></g>
<g transform="translate(199.6 70)"><path d="M-3.4 -2.2l3.4 2.2 4.1 -1.6v-12.5l-4.1 1.6 -3.4 -2.2zM0 0v-12.5"/><path class="l" d="M-3.4 -2.2L0 0v-12.5l-3.4 -2.2z"/><path d="M-3.4 -14.7L0 -12.5L4.1 -14.1L0.7 -16.3z" fill="#ff7600"/></g>
<g transform="translate(194.5 72)"><path d="M-3.4 -2.2l3.4 2.2 4.1 -1.6v-12.5l-4.1 1.6 -3.4 -2.2zM0 0v-12.5"/><path class="l" d="M-3.4 -2.2L0 0v-12.5l-3.4 -2.2z"/><path d="M-3.4 -14.7L0 -12.5L4.1 -14.1L0.7 -16.3z" fill="#ff7600"/></g>
<g transform="translate(189.4 74)"><path d="M-3.4 -2.2l3.4 2.2 4.1 -1.6v-12.5l-4.1 1.6 -3.4 -2.2zM0 0v-12.5"/><path class="l" d="M-3.4 -2.2L0 0v-12.5l-3.4 -2.2z"/><path d="M-3.4 -14.7L0 -12.5L4.1 -14.1L0.7 -16.3z" fill="#ff7600"/></g>
<g transform="translate(184.3 76)"><path d="M-3.4 -2.2l3.4 2.2 4.1 -1.6v-12.5l-4.1 1.6 -3.4 -2.2zM0 0v-12.5"/><path class="l" d="M-3.4 -2.2L0 0v-12.5l-3.4 -2.2z"/><path d="M-3.4 -14.7L0 -12.5L4.1 -14.1L0.7 -16.3z" fill="#ff7600"/></g>
<g transform="translate(179.2 78)"><path d="M-3.4 -2.2l3.4 2.2 4.1 -1.6v-12.5l-4.1 1.6 -3.4 -2.2zM0 0v-12.5"/><path class="l" d="M-3.4 -2.2L0 0v-12.5l-3.4 -2.2z"/><path d="M-3.4 -14.7L0 -12.5L4.1 -14.1L0.7 -16.3z" fill="#ff7600"/></g>
<g transform="translate(174.1 80)"><path d="M-3.4 -2.2l3.4 2.2 4.1 -1.6v-12.5l-4.1 1.6 -3.4 -2.2zM0 0v-12.5"/><path class="l" d="M-3.4 -2.2L0 0v-12.5l-3.4 -2.2z"/><path d="M-3.4 -14.7L0 -12.5L4.1 -14.1L0.7 -16.3z" fill="#ff7600"/></g>
<g transform="translate(229.3 62.8)"><path d="M-3.4 -2.2l3.4 2.2 4.1 -1.6v-15.6l-4.1 1.6 -3.4 -2.2zM0 0v-15.6"/><path class="l" d="M-3.4 -2.2L0 0v-15.6l-3.4 -2.2z"/><path d="M-3.4 -17.8L0 -15.6L4.1 -17.2L0.7 -19.4z" fill="#ffb100"/></g>
<g transform="translate(224.2 64.8)"><path d="M-3.4 -2.2l3.4 2.2 4.1 -1.6v-15.9l-4.1 1.6 -3.4 -2.2zM0 0v-15.9"/><path class="l" d="M-3.4 -2.2L0 0v-15.9l-3.4 -2.2z"/><path d="M-3.4 -18.1L0 -15.9L4.1 -17.5L0.7 -19.7z" fill="#ffb400"/></g>
<g transform="translate(219.1 66.8)"><path d="M-3.4 -2.2l3.4 2.2 4.1 -1.6v-16.1l-4.1 1.6 -3.4 -2.2zM0 0v-16.1"/><path class="l" d="M-3.4 -2.2L0 0v-16.1l-3.4 -2.2z"/><path d="M-3.4 -18.4L0 -16.1L4.1 -17.7L0.7 -19.9z" fill="#ffb700"/></g>
<g transform="translate(214 68.8)"><path d="M-3.4 -2.2l3.4 2.2 4.1 -1.6v-16.4l-4.1 1.6 -3.4 -2.2zM0 0v-16.4"/><path class="l" d="M-3.4 -2.2L0 0v-16.4l-3.4 -2.2z"/><path d="M-3.4 -18.6L0 -16.4L4.1 -18L0.7 -20.2z" fill="#ffba00"/></g>
<g transform="translate(208.9 70.8)"><path d="M-3.4 -2.2l3.4 2.2 4.1 -1.6v-16.7l-4.1 1.6 -3.4 -2.2zM0 0v-16.7"/><path class="l" d="M-3.4 -2.2L0 0v-16.7l-3.4 -2.2z"/><path d="M-3.4 -18.9L0 -16.7L4.1 -18.3L0.7 -20.5z" fill="#ffbd00"/></g>
<g transform="translate(203.8 72.8)"><path d="M-3.4 -2.2l3.4 2.2 4.1 -1.6v-17l-4.1 1.6 -3.4 -2.2zM0 0v-17"/><path class="l" d="M-3.4 -2.2L0 0v-17l-3.4 -2.2z"/><path d="M-3.4 -19.2L0 -17L4.1 -18.6L0.7 -20.8z" fill="#ffc000"/></g>
<g transform="translate(198.7 74.8)"><path d="M-3.4 -2.2l3.4 2.2 4.1 -1.6v-17.2l-4.1 1.6 -3.4 -2.2zM0 0v-17.2"/><path class="l" d="M-3.4 -2.2L0 0v-17.2l-3.4 -2.2z"/><path d="M-3.4 -19.4L0 -17.2L4.1 -18.8L0.7 -21z" fill="#ffc300"/></g>
<g transform="translate(193.6 76.8)"><path d="M-3.4 -2.2l3.4 2.2 4.1 -1.6v-17.5l-4.1 1.6 -3.4 -2.2zM0 0v-17.5"/><path class="l" d="M-3.4 -2.2L0 0v-17.5l-3.4 -2.2z"/><path d="M-3.4 -19.7L0 -17.5L4.1 -19.1L0.7 -21.3z" fill="#ffc600"/></g>
<g transform="translate(188.5 78.7)"><path d="M-3.4 -2.2l3.4 2.2 4.1 -1.6v-17.8l-4.1 1.6 -3.4 -2.2zM0 0v-17.8"/><path class="l" d="M-3.4 -2.2L0 0v-17.8l-3.4 -2.2z"/><path d="M-3.4 -20L0 -17.8L4.1 -19.4L0.7 -21.6z" fill="#ffc900"/></g>
<g transform="translate(183.4 80.7)"><path d="M-3.4 -2.2l3.4 2.2 4.1 -1.6v-18.1l-4.1 1.6 -3.4 -2.2zM0 0v-18.1"/><path class="l" d="M-3.4 -2.2L0 0v-18.1l-3.4 -2.2z"/><path d="M-3.4 -20.3L0 -18.1L4.1 -19.6L0.7 -21.9z" fill="#ffcc00"/></g>
<g transform="translate(178.3 82.7)"><path d="M-3.4 -2.2l3.4 2.2 4.1 -1.6v-18.3l-4.1 1.6 -3.4 -2.2zM0 0v-18.3"/><path class="l" d="M-3.4 -2.2L0 0v-18.3l-3.4 -2.2z"/><path d="M-3.4 -20.5L0 -18.3L4.1 -19.9L0.7 -22.1z" fill="#ffd000"/></g>
<g transform="translate(233.5 65.6)"><path d="M-3.4 -2.2l3.4 2.2 4.1 -1.6v-16l-4.1 1.6 -3.4 -2.2zM0 0v-16"/><path class="l" d="M-3.4 -2.2L0 0v-16l-3.4 -2.2z"/><path d="M-3.4 -18.2L0 -16L4.1 -17.6L0.7 -19.8z" fill="#ffb500"/></g>
<g transform="translate(228.4 67.6)"><path d="M-3.4 -2.2l3.4 2.2 4.1 -1.6v-16.1l-4.1 1.6 -3.4 -2.2zM0 0v-16.1"/><path class="l" d="M-3.4 -2.2L0 0v-16.1l-3.4 -2.2z"/><path d="M-3.4 -18.3L0 -16.1L4.1 -17.7L0.7 -19.9z" fill="#ffb600"/></g>
<g transform="translate(223.3 69.6)"><path d="M-3.4 -2.2l3.4 2.2 4.1 -1.6v-16.1l-4.1 1.6 -3.4 -2.2zM0 0v-16.1"/><path class="l" d="M-3.4 -2.2L0 0v-16.1l-3.4 -2.2z"/><path d="M-3.4 -18.4L0 -16.1L4.1 -17.7L0.7 -19.9z" fill="#ffb700"/></g>
<g transform="translate(218.2 71.5)"><path d="M-3.4 -2.2l3.4 2.2 4.1 -1.6v-16.2l-4.1 1.6 -3.4 -2.2zM0 0v-16.2"/><path class="l" d="M-3.4 -2.2L0 0v-16.2l-3.4 -2.2z"/><path d="M-3.4 -18.4L0 -16.2L4.1 -17.8L0.7 -20z" fill="#ffb800"/></g>
<g transform="translate(213.1 73.5)"><path d="M-3.4 -2.2l3.4 2.2 4.1 -1.6v-16.3l-4.1 1.6 -3.4 -2.2zM0 0v-16.3"/><path class="l" d="M-3.4 -2.2L0 0v-16.3l-3.4 -2.2z"/><path d="M-3.4 -18.5L0 -16.3L4.1 -17.9L0.7 -20.1z" fill="#ffb900"/></g>
<g transform="translate(208 75.5)"><path d="M-3.4 -2.2l3.4 2.2 4.1 -1.6v-16.4l-4.1 1.6 -3.4 -2.2zM0 0v-16.4"/><path class="l" d="M-3.4 -2.2L0 0v-16.4l-3.4 -2.2z"/><path d="M-3.4 -18.6L0 -16.4L4.1 -18L0.7 -20.2z" fill="#ffb900"/></g>
<g transform="translate(202.9 77.5)"><path d="M-3.4 -2.2l3.4 2.2 4.1 -1.6v-16.5l-4.1 1.6 -3.4 -2.2zM0 0v-16.5"/><path class="l" d="M-3.4 -2.2L0 0v-16.5l-3.4 -2.2z"/><path d="M-3.4 -18.7L0 -16.5L4.1 -18.1L0.7 -20.3z" fill="#ffba00"/></g>
<g transform="translate(197.8 79.5)"><path d="M-3.4 -2.2l3.4 2.2 4.1 -1.6v-16.5l-4.1 1.6 -3.4 -2.2zM0 0v-16.5"/><path class="l" d="M-3.4 -2.2L0 0v-16.5l-3.4 -2.2z"/><path d="M-3.4 -18.7L0 -16.5L4.1 -18.1L0.7 -20.3z" fill="#ffbb00"/></g>
<g transform="translate(192.7 81.5)"><path d="M-3.4 -2.2l3.4 2.2 4.1 -1.6v-16.6l-4.1 1.6 -3.4 -2.2zM0 0v-16.6"/><path class="l" d="M-3.4 -2.2L0 0v-16.6l-3.4 -2.2z"/><path d="M-3.4 -18.8L0 -16.6L4.1 -18.2L0.7 -20.4z" fill="#ffbc00"/></g>
<g transform="translate(187.6 83.5)"><path d="M-3.4 -2.2l3.4 2.2 4.1 -1.6v-16.7l-4.1 1.6 -3.4 -2.2zM0 0v-16.7"/><path class="l" d="M-3.4 -2.2L0 0v-16.7l-3.4 -2.2z"/><path d="M-3.4 -18.9L0 -16.7L4.1 -18.3L0.7 -20.5z" fill="#ffbd00"/></g>
<g transform="translate(182.6 85.5)"><path d="M-3.4 -2.2l3.4 2.2 4.1 -1.6v-16.8l-4.1 1.6 -3.4 -2.2zM0 0v-16.8"/><path class="l" d="M-3.4 -2.2L0 0v-16.8l-3.4 -2.2z"/><path d="M-3.4 -19L0 -16.8L4.1 -18.4L0.7 -20.6z" fill="#ffbe00"/></g>
<g transform="translate(237.7 68.3)"><path d="M-3.4 -2.2l3.4 2.2 4.1 -1.6v-11.7l-4.1 1.6 -3.4 -2.2zM0 0v-11.7"/><path class="l" d="M-3.4 -2.2L0 0v-11.7l-3.4 -2.2z"/><path d="M-3.4 -13.9L0 -11.7L4.1 -13.3L0.7 -15.5z" fill="#ff6e00"/></g>
<g transform="translate(232.6 70.3)"><path d="M-3.4 -2.2l3.4 2.2 4.1 -1.6v-11.7l-4.1 1.6 -3.4 -2.2zM0 0v-11.7"/><path class="l" d="M-3.4 -2.2L0 0v-11.7l-3.4 -2.2z"/><path d="M-3.4 -13.9L0 -11.7L4.1 -13.3L0.7 -15.5z" fill="#ff6e00"/></g>
<g transform="translate(227.5 72.3)"><path d="M-3.4 -2.2l3.4 2.2 4.1 -1.6v-11.7l-4.1 1.6 -3.4 -2.2zM0 0v-11.7"/><path class="l" d="M-3.4 -2.2L0 0v-11.7l-3.4 -2.2z"/><path d="M-3.4 -13.9L0 -11.7L4.1 -13.3L0.7 -15.5z" fill="#ff6e00"/></g>
<g transform="translate(222.4 74.3)"><path d="M-3.4 -2.2l3.4 2.2 4.1 -1.6v-11.7l-4.1 1.6 -3.4 -2.2zM0 0v-11.7"/><path class="l" d="M-3.4 -2.2L0 0v-11.7l-3.4 -2.2z"/><path d="M-3.4 -13.9L0 -11.7L4.1 -13.3L0.7 -15.5z" fill="#ff6e00"/></g>
<g transform="translate(217.3 76.3)"><path d="M-3.4 -2.2l3.4 2.2 4.1 -1.6v-11.7l-4.1 1.6 -3.4 -2.2zM0 0v-11.7"/><path class="l" d="M-3.4 -2.2L0 0v-11.7l-3.4 -2.2z"/><path d="M-3.4 -13.9L0 -11.7L4.1 -13.3L0.7 -15.5z" fill="#ff6e00"/></g>
<g transform="translate(212.2 78.3)"><path d="M-3.4 -2.2l3.4 2.2 4.1 -1.6v-11.7l-4.1 1.6 -3.4 -2.2zM0 0v-11.7"/><path class="l" d="M-3.4 -2.2L0 0v-11.7l-3.4 -2.2z"/><path d="M-3.4 -13.9L0 -11.7L4.1 -13.3L0.7 -15.5z" fill="#ff6e00"/></g>
<g transform="translate(207.1 80.3)"><path d="M-3.4 -2.2l3.4 2.2 4.1 -1.6v-11.7l-4.1 1.6 -3.4 -2.2zM0 0v-11.7"/><path class="l" d="M-3.4 -2.2L0 0v-11.7l-3.4 -2.2z"/><path d="M-3.4 -13.9L0 -11.7L4.1 -13.3L0.7 -15.5z" fill="#ff6e00"/></g>
<g transform="translate(202.1 82.3)"><path d="M-3.4 -2.2l3.4 2.2 4.1 -1.6v-11.7l-4.1 1.6 -3.4 -2.2zM0 0v-11.7"/><path class="l" d="M-3.4 -2.2L0 0v-11.7l-3.4 -2.2z"/><path d="M-3.4 -13.9L0 -11.7L4.1 -13.3L0.7 -15.5z" fill="#ff6e00"/></g>
<g transform="translate(197 84.3)"><path d="M-3.4 -2.2l3.4 2.2 4.1 -1.6v-11.7l-4.1 1.6 -3.4 -2.2zM0 0v-11.7"/><path class="l" d="M-3.4 -2.2L0 0v-11.7l-3.4 -2.2z"/><path d="M-3.4 -13.9L0 -11.7L4.1 -13.3L0.7 -15.5z" fill="#ff6e00"/></g>
<g transform="translate(191.9 86.3)"><path d="M-3.4 -2.2l3.4 2.2 4.1 -1.6v-11.7l-4.1 1.6 -3.4 -2.2zM0 0v-11.7"/><path class="l" d="M-3.4 -2.2L0 0v-11.7l-3.4 -2.2z"/><path d="M-3.4 -13.9L0 -11.7L4.1 -13.3L0.7 -15.5z" fill="#ff6e00"/></g>
<g transform="translate(186.8 88.2)"><path d="M-3.4 -2.2l3.4 2.2 4.1 -1.6v-11.7l-4.1 1.6 -3.4 -2.2zM0 0v-11.7"/><path class="l" d="M-3.4 -2.2L0 0v-11.7l-3.4 -2.2z"/><path d="M-3.4 -13.9L0 -11.7L4.1 -13.3L0.7 -15.5z" fill="#ff6e00"/></g>
<g transform="translate(241.9 71.1)"><path d="M-3.4 -2.2l3.4 2.2 4.1 -1.6v-12.5l-4.1 1.6 -3.4 -2.2zM0 0v-12.5"/><path class="l" d="M-3.4 -2.2L0 0v-12.5l-3.4 -2.2z"/><path d="M-3.4 -14.7L0 -12.5L4.1 -14.1L0.7 -16.3z" fill="#ff7600"/></g>
<g transform="translate(236.8 73.1)"><path d="M-3.4 -2.2l3.4 2.2 4.1 -1.6v-12.9l-4.1 1.6 -3.4 -2.2zM0 0v-12.9"/><path class="l" d="M-3.4 -2.2L0 0v-12.9l-3.4 -2.2z"/><path d="M-3.4 -15.1L0 -12.9L4.1 -14.5L0.7 -16.7z" fill="#ff7a00"/></g>
<g transform="translate(231.7 75.1)"><path d="M-3.4 -2.2l3.4 2.2 4.1 -1.6v-13.3l-4.1 1.6 -3.4 -2.2zM0 0v-13.3"/><path class="l" d="M-3.4 -2.2L0 0v-13.3l-3.4 -2.2z"/><path d="M-3.4 -15.5L0 -13.3L4.1 -14.9L0.7 -17.1z" fill="#ff7d00"/></g>
<g transform="translate(226.6 77.1)"><path d="M-3.4 -2.2l3.4 2.2 4.1 -1.6v-13.7l-4.1 1.6 -3.4 -2.2zM0 0v-13.7"/><path class="l" d="M-3.4 -2.2L0 0v-13.7l-3.4 -2.2z"/><path d="M-3.4 -15.9L0 -13.7L4.1 -15.3L0.7 -17.5z" fill="#ff8100"/></g>
<g transform="translate(221.6 79.1)"><path d="M-3.4 -2.2l3.4 2.2 4.1 -1.6v-14.1l-4.1 1.6 -3.4 -2.2zM0 0v-14.1"/><path class="l" d="M-3.4 -2.2L0 0v-14.1l-3.4 -2.2z"/><path d="M-3.4 -16.3L0 -14.1L4.1 -15.7L0.7 -17.9z" fill="#ff8500"/></g>
<g transform="translate(216.5 81)"><path d="M-3.4 -2.2l3.4 2.2 4.1 -1.6v-14.5l-4.1 1.6 -3.4 -2.2zM0 0v-14.5"/><path class="l" d="M-3.4 -2.2L0 0v-14.5l-3.4 -2.2z"/><path d="M-3.4 -16.7L0 -14.5L4.1 -16.1L0.7 -18.3z" fill="#ff8900"/></g>
<g transform="translate(211.4 83)"><path d="M-3.4 -2.2l3.4 2.2 4.1 -1.6v-14.9l-4.1 1.6 -3.4 -2.2zM0 0v-14.9"/><path class="l" d="M-3.4 -2.2L0 0v-14.9l-3.4 -2.2z"/><path d="M-3.4 -17.1L0 -14.9L4.1 -16.5L0.7 -18.7z" fill="#ff8d00"/></g>
<g transform="translate(206.3 85)"><path d="M-3.4 -2.2l3.4 2.2 4.1 -1.6v-15.3l-4.1 1.6 -3.4 -2.2zM0 0v-15.3"/><path class="l" d="M-3.4 -2.2L0 0v-15.3l-3.4 -2.2z"/><path d="M-3.4 -17.6L0 -15.3L4.1 -16.9L0.7 -19.1z" fill="#ff9100"/></g>
<g transform="translate(201.2 87)"><path d="M-3.4 -2.2l3.4 2.2 4.1 -1.6v-15.8l-4.1 1.6 -3.4 -2.2zM0 0v-15.8"/><path class="l" d="M-3.4 -2.2L0 0v-15.8l-3.4 -2.2z"/><path d="M-3.4 -18L0 -15.8L4.1 -17.3L0.7 -19.6z" fill="#ff9500"/></g>
<g transform="translate(196.1 89)"><path d="M-3.4 -2.2l3.4 2.2 4.1 -1.6v-16.2l-4.1 1.6 -3.4 -2.2zM0 0v-16.2"/><path class="l" d="M-3.4 -2.2L0 0v-16.2l-3.4 -2.2z"/><path d="M-3.4 -18.4L0 -16.2L4.1 -17.8L0.7 -20z" fill="#ff9900"/></g>
<g transform="translate(191 91)"><path d="M-3.4 -2.2l3.4 2.2 4.1 -1.6v-16.6l-4.1 1.6 -3.4 -2.2zM0 0v-16.6"/><path class="l" d="M-3.4 -2.2L0 0v-16.6l-3.4 -2.2z"/><path d="M-3.4 -18.8L0 -16.6L4.1 -18.2L0.7 -20.4z" fill="#ff9c00"/></g>
</g>
<linearGradient id="cb1" x1="0" y1="1" x2="0" y2="0"><stop offset="0" stop-color="#f00"/><stop offset="1" stop-color="#ff0"/></linearGradient>
<rect x="252" y="13.1" width="4.9" height="94.3" fill="url(#cb1)"/>
<g class="t" font-size="2.7">
<text x="162.7" y="74.5" text-anchor="end">0</text>
<text x="162.7" y="66.7" text-anchor="end">200</text>
<text x="162.7" y="58.9" text-anchor="end">400</text>
<text x="162.7" y="51.1" text-anchor="end">600</text>
<text x="154.5" y="62.5" font-size="3.35" text-anchor="middle" transform="rotate(-90 154.5 62.5)">Running Time(s)</text>
<text x="165.8" y="81.4" text-anchor="end">POL-SLIC</text>
<text x="170" y="84.2" text-anchor="end">POL-LSC</text>
<text x="174.2" y="86.9" text-anchor="end">WS</text>
<text x="178.4" y="89.7" text-anchor="end">HMMS</text>
<text x="182.7" y="92.5" text-anchor="end">GMMS</text>
<text x="186.9" y="95.2" text-anchor="end">NC</text>
<text x="199.5" y="96.3" text-anchor="middle">10</text>
<text x="204.6" y="94.3" text-anchor="middle">11</text>
<text x="209.7" y="92.3" text-anchor="middle">12</text>
<text x="214.8" y="90.4" text-anchor="middle">13</text>
<text x="219.9" y="88.4" text-anchor="middle">14</text>
<text x="225" y="86.4" text-anchor="middle">15</text>
<text x="230.1" y="84.4" text-anchor="middle">16</text>
<text x="235.2" y="82.4" text-anchor="middle">17</text>
<text x="240.3" y="80.4" text-anchor="middle">18</text>
<text x="245.4" y="78.4" text-anchor="middle">19</text>
<text x="250.4" y="76.4" text-anchor="middle">20</text>
<text x="168.5" y="98.6" font-size="3.35" text-anchor="middle">Methods</text>
<text x="220" y="95.8" font-size="3.35" text-anchor="middle">δ</text>
<path d="M252 107.4h0.8M256.9 107.4h-0.8" stroke="#777" stroke-width="0.3"/>
<text x="257.5" y="108.9">0</text>
<path d="M252 93.8h0.8M256.9 93.8h-0.8" stroke="#777" stroke-width="0.3"/>
<text x="257.5" y="95.3">100</text>
<path d="M252 80.2h0.8M256.9 80.2h-0.8" stroke="#777" stroke-width="0.3"/>
<text x="257.5" y="81.7">200</text>
<path d="M252 66.6h0.8M256.9 66.6h-0.8" stroke="#777" stroke-width="0.3"/>
<text x="257.5" y="68">300</text>
<path d="M252 53h0.8M256.9 53h-0.8" stroke="#777" stroke-width="0.3"/>
<text x="257.5" y="54.4">400</text>
<path d="M252 39.4h0.8M256.9 39.4h-0.8" stroke="#777" stroke-width="0.3"/>
<text x="257.5" y="40.8">500</text>
<path d="M252 25.8h0.8M256.9 25.8h-0.8" stroke="#777" stroke-width="0.3"/>
<text x="257.5" y="27.2">600</text>
</g>
<path d="M286.4 71.7L336.5 53.8L368.9 74.1M286.4 64.6L336.5 46.7L368.9 67M286.4 57.5L336.5 39.6L368.9 59.9M286.4 50.4L336.5 32.5L368.9 52.8M286.4 43.3L336.5 25.4L368.9 45.7M286.8 71.6L286.8 43.2M286.8 71.6L319.2 91.8M291.7 69.8L291.7 41.4M291.7 69.8L324.2 90.1M296.7 68L296.7 39.6M296.7 68L329.1 88.3M301.6 66.3L301.6 37.9M301.6 66.3L334 86.6M306.5 64.5L306.5 36.1M306.5 64.5L338.9 84.8M311.4 62.8L311.4 34.4M311.4 62.8L343.9 83M316.4 61L316.4 32.6M316.4 61L348.8 81.3M321.3 59.2L321.3 30.8M321.3 59.2L353.7 79.5M326.2 57.5L326.2 29.1M326.2 57.5L358.6 77.8M331.1 55.7L331.1 27.3M331.1 55.7L363.6 76M336.1 54L336.1 25.6M336.1 54L368.5 74.2M340.6 56.4L340.6 28M290.5 74.3L340.6 56.4M344.6 58.9L344.6 30.5M294.5 76.8L344.6 58.9M348.6 61.4L348.6 33M298.6 79.3L348.6 61.4M352.7 64L352.7 35.6M302.6 81.8L352.7 64M356.7 66.5L356.7 38.1M306.7 84.4L356.7 66.5M360.8 69L360.8 40.6M310.7 86.9L360.8 69M364.8 71.5L364.8 43.1M314.7 89.4L364.8 71.5" stroke="#e2e2e2" stroke-width="0.35" fill="none"/>
<path d="M286.4 71.7L336.5 53.8M336.5 53.8L368.9 74.1M336.5 53.8L336.5 25.4M368.9 74.1L368.9 45.7M286.4 43.3L336.5 25.4M336.5 25.4L368.9 45.7" stroke="#d0d0d0" stroke-width="0.35" fill="none"/>
<path d="M286.4 71.7L318.8 92M318.8 92L368.9 74.1M286.4 71.7L286.4 43.3" stroke="#aaa" stroke-width="0.4" fill="none"/>
<linearGradient id="g2" gradientUnits="userSpaceOnUse" x1="0" y1="0" x2="0" y2="-31.9"><stop offset="0" stop-color="#f00"/><stop offset="1" stop-color="#ff0"/></linearGradient>
<g fill="url(#g2)" stroke="rgba(100,30,0,0.55)" stroke-width="0.35">
<g transform="translate(339.8 58.2)"><path d="M-3.2 -2l3.2 2 3.9 -1.4v-13.8l-3.9 1.4 -3.2 -2zM0 0v-13.8"/><path class="l" d="M-3.2 -2L0 0v-13.8l-3.2 -2z"/><path d="M-3.2 -15.9L0 -13.8L3.9 -15.3L0.7 -17.3z" fill="#ff6e00"/></g>
<g transform="translate(334.9 60)"><path d="M-3.2 -2l3.2 2 3.9 -1.4v-13.8l-3.9 1.4 -3.2 -2zM0 0v-13.8"/><path class="l" d="M-3.2 -2L0 0v-13.8l-3.2 -2z"/><path d="M-3.2 -15.9L0 -13.8L3.9 -15.3L0.7 -17.3z" fill="#ff6e00"/></g>
<g transform="translate(329.9 61.7)"><path d="M-3.2 -2l3.2 2 3.9 -1.4v-13.8l-3.9 1.4 -3.2 -2zM0 0v-13.8"/><path class="l" d="M-3.2 -2L0 0v-13.8l-3.2 -2z"/><path d="M-3.2 -15.9L0 -13.8L3.9 -15.3L0.7 -17.3z" fill="#ff6e00"/></g>
<g transform="translate(325 63.5)"><path d="M-3.2 -2l3.2 2 3.9 -1.4v-13.8l-3.9 1.4 -3.2 -2zM0 0v-13.8"/><path class="l" d="M-3.2 -2L0 0v-13.8l-3.2 -2z"/><path d="M-3.2 -15.9L0 -13.8L3.9 -15.3L0.7 -17.3z" fill="#ff6e00"/></g>
<g transform="translate(320.1 65.3)"><path d="M-3.2 -2l3.2 2 3.9 -1.4v-13.8l-3.9 1.4 -3.2 -2zM0 0v-13.8"/><path class="l" d="M-3.2 -2L0 0v-13.8l-3.2 -2z"/><path d="M-3.2 -15.9L0 -13.8L3.9 -15.3L0.7 -17.3z" fill="#ff6e00"/></g>
<g transform="translate(315.2 67)"><path d="M-3.2 -2l3.2 2 3.9 -1.4v-13.8l-3.9 1.4 -3.2 -2zM0 0v-13.8"/><path class="l" d="M-3.2 -2L0 0v-13.8l-3.2 -2z"/><path d="M-3.2 -15.9L0 -13.8L3.9 -15.3L0.7 -17.3z" fill="#ff6e00"/></g>
<g transform="translate(310.2 68.8)"><path d="M-3.2 -2l3.2 2 3.9 -1.4v-13.8l-3.9 1.4 -3.2 -2zM0 0v-13.8"/><path class="l" d="M-3.2 -2L0 0v-13.8l-3.2 -2z"/><path d="M-3.2 -15.9L0 -13.8L3.9 -15.3L0.7 -17.3z" fill="#ff6e00"/></g>
<g transform="translate(305.3 70.5)"><path d="M-3.2 -2l3.2 2 3.9 -1.4v-13.8l-3.9 1.4 -3.2 -2zM0 0v-13.8"/><path class="l" d="M-3.2 -2L0 0v-13.8l-3.2 -2z"/><path d="M-3.2 -15.9L0 -13.8L3.9 -15.3L0.7 -17.3z" fill="#ff6e00"/></g>
<g transform="translate(300.4 72.3)"><path d="M-3.2 -2l3.2 2 3.9 -1.4v-13.8l-3.9 1.4 -3.2 -2zM0 0v-13.8"/><path class="l" d="M-3.2 -2L0 0v-13.8l-3.2 -2z"/><path d="M-3.2 -15.9L0 -13.8L3.9 -15.3L0.7 -17.3z" fill="#ff6e00"/></g>
<g transform="translate(295.5 74.1)"><path d="M-3.2 -2l3.2 2 3.9 -1.4v-13.8l-3.9 1.4 -3.2 -2zM0 0v-13.8"/><path class="l" d="M-3.2 -2L0 0v-13.8l-3.2 -2z"/><path d="M-3.2 -15.9L0 -13.8L3.9 -15.3L0.7 -17.3z" fill="#ff6e00"/></g>
<g transform="translate(290.5 75.8)"><path d="M-3.2 -2l3.2 2 3.9 -1.4v-13.8l-3.9 1.4 -3.2 -2zM0 0v-13.8"/><path class="l" d="M-3.2 -2L0 0v-13.8l-3.2 -2z"/><path d="M-3.2 -15.9L0 -13.8L3.9 -15.3L0.7 -17.3z" fill="#ff6e00"/></g>
<g transform="translate(343.8 60.8)"><path d="M-3.2 -2l3.2 2 3.9 -1.4v-17.8l-3.9 1.4 -3.2 -2zM0 0v-17.8"/><path class="l" d="M-3.2 -2L0 0v-17.8l-3.2 -2z"/><path d="M-3.2 -19.8L0 -17.8L3.9 -19.2L0.7 -21.2z" fill="#ff8e00"/></g>
<g transform="translate(338.9 62.5)"><path d="M-3.2 -2l3.2 2 3.9 -1.4v-17.4l-3.9 1.4 -3.2 -2zM0 0v-17.4"/><path class="l" d="M-3.2 -2L0 0v-17.4l-3.2 -2z"/><path d="M-3.2 -19.4L0 -17.4L3.9 -18.8L0.7 -20.8z" fill="#ff8b00"/></g>
<g transform="translate(334 64.3)"><path d="M-3.2 -2l3.2 2 3.9 -1.4v-17l-3.9 1.4 -3.2 -2zM0 0v-17"/><path class="l" d="M-3.2 -2L0 0v-17l-3.2 -2z"/><path d="M-3.2 -19L0 -17L3.9 -18.4L0.7 -20.4z" fill="#ff8700"/></g>
<g transform="translate(329.1 66)"><path d="M-3.2 -2l3.2 2 3.9 -1.4v-16.6l-3.9 1.4 -3.2 -2zM0 0v-16.6"/><path class="l" d="M-3.2 -2L0 0v-16.6l-3.2 -2z"/><path d="M-3.2 -18.6L0 -16.6L3.9 -18L0.7 -20z" fill="#ff8400"/></g>
<g transform="translate(324.1 67.8)"><path d="M-3.2 -2l3.2 2 3.9 -1.4v-16.2l-3.9 1.4 -3.2 -2zM0 0v-16.2"/><path class="l" d="M-3.2 -2L0 0v-16.2l-3.2 -2z"/><path d="M-3.2 -18.2L0 -16.2L3.9 -17.6L0.7 -19.6z" fill="#ff8100"/></g>
<g transform="translate(319.2 69.6)"><path d="M-3.2 -2l3.2 2 3.9 -1.4v-15.8l-3.9 1.4 -3.2 -2zM0 0v-15.8"/><path class="l" d="M-3.2 -2L0 0v-15.8l-3.2 -2z"/><path d="M-3.2 -17.8L0 -15.8L3.9 -17.2L0.7 -19.2z" fill="#ff7e00"/></g>
<g transform="translate(314.3 71.3)"><path d="M-3.2 -2l3.2 2 3.9 -1.4v-15.4l-3.9 1.4 -3.2 -2zM0 0v-15.4"/><path class="l" d="M-3.2 -2L0 0v-15.4l-3.2 -2z"/><path d="M-3.2 -17.4L0 -15.4L3.9 -16.8L0.7 -18.8z" fill="#ff7b00"/></g>
<g transform="translate(309.4 73.1)"><path d="M-3.2 -2l3.2 2 3.9 -1.4v-15l-3.9 1.4 -3.2 -2zM0 0v-15"/><path class="l" d="M-3.2 -2L0 0v-15l-3.2 -2z"/><path d="M-3.2 -17L0 -15L3.9 -16.4L0.7 -18.4z" fill="#ff7800"/></g>
<g transform="translate(304.4 74.8)"><path d="M-3.2 -2l3.2 2 3.9 -1.4v-14.6l-3.9 1.4 -3.2 -2zM0 0v-14.6"/><path class="l" d="M-3.2 -2L0 0v-14.6l-3.2 -2z"/><path d="M-3.2 -16.6L0 -14.6L3.9 -16L0.7 -18.1z" fill="#ff7500"/></g>
<g transform="translate(299.5 76.6)"><path d="M-3.2 -2l3.2 2 3.9 -1.4v-14.2l-3.9 1.4 -3.2 -2zM0 0v-14.2"/><path class="l" d="M-3.2 -2L0 0v-14.2l-3.2 -2z"/><path d="M-3.2 -16.3L0 -14.2L3.9 -15.6L0.7 -17.7z" fill="#ff7200"/></g>
<g transform="translate(294.6 78.4)"><path d="M-3.2 -2l3.2 2 3.9 -1.4v-13.8l-3.9 1.4 -3.2 -2zM0 0v-13.8"/><path class="l" d="M-3.2 -2L0 0v-13.8l-3.2 -2z"/><path d="M-3.2 -15.9L0 -13.8L3.9 -15.3L0.7 -17.3z" fill="#ff6e00"/></g>
<g transform="translate(347.9 63.3)"><path d="M-3.2 -2l3.2 2 3.9 -1.4v-27l-3.9 1.4 -3.2 -2zM0 0v-27"/><path class="l" d="M-3.2 -2L0 0v-27l-3.2 -2z"/><path d="M-3.2 -29L0 -27L3.9 -28.4L0.7 -30.4z" fill="#ffff00"/></g>
<g transform="translate(343 65)"><path d="M-3.2 -2l3.2 2 3.9 -1.4v-25.6l-3.9 1.4 -3.2 -2zM0 0v-25.6"/><path class="l" d="M-3.2 -2L0 0v-25.6l-3.2 -2z"/><path d="M-3.2 -27.6L0 -25.6L3.9 -27L0.7 -29z" fill="#fff100"/></g>
<g transform="translate(338 66.8)"><path d="M-3.2 -2l3.2 2 3.9 -1.4v-24.1l-3.9 1.4 -3.2 -2zM0 0v-24.1"/><path class="l" d="M-3.2 -2L0 0v-24.1l-3.2 -2z"/><path d="M-3.2 -26.2L0 -24.1L3.9 -25.5L0.7 -27.6z" fill="#ffdf00"/></g>
<g transform="translate(333.1 68.6)"><path d="M-3.2 -2l3.2 2 3.9 -1.4v-22.7l-3.9 1.4 -3.2 -2zM0 0v-22.7"/><path class="l" d="M-3.2 -2L0 0v-22.7l-3.2 -2z"/><path d="M-3.2 -24.7L0 -22.7L3.9 -24.1L0.7 -26.2z" fill="#ffcf00"/></g>
<g transform="translate(328.2 70.3)"><path d="M-3.2 -2l3.2 2 3.9 -1.4v-21.3l-3.9 1.4 -3.2 -2zM0 0v-21.3"/><path class="l" d="M-3.2 -2L0 0v-21.3l-3.2 -2z"/><path d="M-3.2 -23.3L0 -21.3L3.9 -22.7L0.7 -24.7z" fill="#ffbe00"/></g>
<g transform="translate(323.3 72.1)"><path d="M-3.2 -2l3.2 2 3.9 -1.4v-20.2l-3.9 1.4 -3.2 -2zM0 0v-20.2"/><path class="l" d="M-3.2 -2L0 0v-20.2l-3.2 -2z"/><path d="M-3.2 -22.3L0 -20.2L3.9 -21.6L0.7 -23.7z" fill="#ffb200"/></g>
<g transform="translate(318.3 73.8)"><path d="M-3.2 -2l3.2 2 3.9 -1.4v-18.8l-3.9 1.4 -3.2 -2zM0 0v-18.8"/><path class="l" d="M-3.2 -2L0 0v-18.8l-3.2 -2z"/><path d="M-3.2 -20.8L0 -18.8L3.9 -20.2L0.7 -22.2z" fill="#ffa200"/></g>
<g transform="translate(313.4 75.6)"><path d="M-3.2 -2l3.2 2 3.9 -1.4v-17.8l-3.9 1.4 -3.2 -2zM0 0v-17.8"/><path class="l" d="M-3.2 -2L0 0v-17.8l-3.2 -2z"/><path d="M-3.2 -19.8L0 -17.8L3.9 -19.2L0.7 -21.2z" fill="#ff9600"/></g>
<g transform="translate(308.5 77.4)"><path d="M-3.2 -2l3.2 2 3.9 -1.4v-16.3l-3.9 1.4 -3.2 -2zM0 0v-16.3"/><path class="l" d="M-3.2 -2L0 0v-16.3l-3.2 -2z"/><path d="M-3.2 -18.4L0 -16.3L3.9 -17.7L0.7 -19.8z" fill="#ff8800"/></g>
<g transform="translate(303.5 79.1)"><path d="M-3.2 -2l3.2 2 3.9 -1.4v-15.3l-3.9 1.4 -3.2 -2zM0 0v-15.3"/><path class="l" d="M-3.2 -2L0 0v-15.3l-3.2 -2z"/><path d="M-3.2 -17.3L0 -15.3L3.9 -16.7L0.7 -18.7z" fill="#ff7c00"/></g>
<g transform="translate(298.6 80.9)"><path d="M-3.2 -2l3.2 2 3.9 -1.4v-14.2l-3.9 1.4 -3.2 -2zM0 0v-14.2"/><path class="l" d="M-3.2 -2L0 0v-14.2l-3.2 -2z"/><path d="M-3.2 -16.2L0 -14.2L3.9 -15.6L0.7 -17.6z" fill="#ff7100"/></g>
<g transform="translate(351.9 65.8)"><path d="M-3.2 -2l3.2 2 3.9 -1.4v-14.9l-3.9 1.4 -3.2 -2zM0 0v-14.9"/><path class="l" d="M-3.2 -2L0 0v-14.9l-3.2 -2z"/><path d="M-3.2 -16.9L0 -14.9L3.9 -16.3L0.7 -18.3z" fill="#ff7700"/></g>
<g transform="translate(347 67.6)"><path d="M-3.2 -2l3.2 2 3.9 -1.4v-14.9l-3.9 1.4 -3.2 -2zM0 0v-14.9"/><path class="l" d="M-3.2 -2L0 0v-14.9l-3.2 -2z"/><path d="M-3.2 -16.9L0 -14.9L3.9 -16.3L0.7 -18.3z" fill="#ff7700"/></g>
<g transform="translate(342.1 69.3)"><path d="M-3.2 -2l3.2 2 3.9 -1.4v-14.9l-3.9 1.4 -3.2 -2zM0 0v-14.9"/><path class="l" d="M-3.2 -2L0 0v-14.9l-3.2 -2z"/><path d="M-3.2 -16.9L0 -14.9L3.9 -16.3L0.7 -18.3z" fill="#ff7700"/></g>
<g transform="translate(337.1 71.1)"><path d="M-3.2 -2l3.2 2 3.9 -1.4v-14.9l-3.9 1.4 -3.2 -2zM0 0v-14.9"/><path class="l" d="M-3.2 -2L0 0v-14.9l-3.2 -2z"/><path d="M-3.2 -16.9L0 -14.9L3.9 -16.3L0.7 -18.3z" fill="#ff7700"/></g>
<g transform="translate(332.2 72.9)"><path d="M-3.2 -2l3.2 2 3.9 -1.4v-14.9l-3.9 1.4 -3.2 -2zM0 0v-14.9"/><path class="l" d="M-3.2 -2L0 0v-14.9l-3.2 -2z"/><path d="M-3.2 -16.9L0 -14.9L3.9 -16.3L0.7 -18.3z" fill="#ff7700"/></g>
<g transform="translate(327.3 74.6)"><path d="M-3.2 -2l3.2 2 3.9 -1.4v-14.9l-3.9 1.4 -3.2 -2zM0 0v-14.9"/><path class="l" d="M-3.2 -2L0 0v-14.9l-3.2 -2z"/><path d="M-3.2 -16.9L0 -14.9L3.9 -16.3L0.7 -18.3z" fill="#ff7700"/></g>
<g transform="translate(322.4 76.4)"><path d="M-3.2 -2l3.2 2 3.9 -1.4v-14.9l-3.9 1.4 -3.2 -2zM0 0v-14.9"/><path class="l" d="M-3.2 -2L0 0v-14.9l-3.2 -2z"/><path d="M-3.2 -16.9L0 -14.9L3.9 -16.3L0.7 -18.3z" fill="#ff7700"/></g>
<g transform="translate(317.4 78.1)"><path d="M-3.2 -2l3.2 2 3.9 -1.4v-14.9l-3.9 1.4 -3.2 -2zM0 0v-14.9"/><path class="l" d="M-3.2 -2L0 0v-14.9l-3.2 -2z"/><path d="M-3.2 -16.9L0 -14.9L3.9 -16.3L0.7 -18.3z" fill="#ff7700"/></g>
<g transform="translate(312.5 79.9)"><path d="M-3.2 -2l3.2 2 3.9 -1.4v-14.9l-3.9 1.4 -3.2 -2zM0 0v-14.9"/><path class="l" d="M-3.2 -2L0 0v-14.9l-3.2 -2z"/><path d="M-3.2 -16.9L0 -14.9L3.9 -16.3L0.7 -18.3z" fill="#ff7700"/></g>
<g transform="translate(307.6 81.7)"><path d="M-3.2 -2l3.2 2 3.9 -1.4v-14.9l-3.9 1.4 -3.2 -2zM0 0v-14.9"/><path class="l" d="M-3.2 -2L0 0v-14.9l-3.2 -2z"/><path d="M-3.2 -16.9L0 -14.9L3.9 -16.3L0.7 -18.3z" fill="#ff7700"/></g>
<g transform="translate(302.7 83.4)"><path d="M-3.2 -2l3.2 2 3.9 -1.4v-14.9l-3.9 1.4 -3.2 -2zM0 0v-14.9"/><path class="l" d="M-3.2 -2L0 0v-14.9l-3.2 -2z"/><path d="M-3.2 -16.9L0 -14.9L3.9 -16.3L0.7 -18.3z" fill="#ff7700"/></g>
<g transform="translate(356 68.3)"><path d="M-3.2 -2l3.2 2 3.9 -1.4v-15.3l-3.9 1.4 -3.2 -2zM0 0v-15.3"/><path class="l" d="M-3.2 -2L0 0v-15.3l-3.2 -2z"/><path d="M-3.2 -17.3L0 -15.3L3.9 -16.7L0.7 -18.7z" fill="#ff7a00"/></g>
<g transform="translate(351 70.1)"><path d="M-3.2 -2l3.2 2 3.9 -1.4v-15.3l-3.9 1.4 -3.2 -2zM0 0v-15.3"/><path class="l" d="M-3.2 -2L0 0v-15.3l-3.2 -2z"/><path d="M-3.2 -17.3L0 -15.3L3.9 -16.7L0.7 -18.7z" fill="#ff7a00"/></g>
<g transform="translate(346.1 71.9)"><path d="M-3.2 -2l3.2 2 3.9 -1.4v-15.3l-3.9 1.4 -3.2 -2zM0 0v-15.3"/><path class="l" d="M-3.2 -2L0 0v-15.3l-3.2 -2z"/><path d="M-3.2 -17.3L0 -15.3L3.9 -16.7L0.7 -18.7z" fill="#ff7a00"/></g>
<g transform="translate(341.2 73.6)"><path d="M-3.2 -2l3.2 2 3.9 -1.4v-15.3l-3.9 1.4 -3.2 -2zM0 0v-15.3"/><path class="l" d="M-3.2 -2L0 0v-15.3l-3.2 -2z"/><path d="M-3.2 -17.3L0 -15.3L3.9 -16.7L0.7 -18.7z" fill="#ff7a00"/></g>
<g transform="translate(336.3 75.4)"><path d="M-3.2 -2l3.2 2 3.9 -1.4v-15.3l-3.9 1.4 -3.2 -2zM0 0v-15.3"/><path class="l" d="M-3.2 -2L0 0v-15.3l-3.2 -2z"/><path d="M-3.2 -17.3L0 -15.3L3.9 -16.7L0.7 -18.7z" fill="#ff7a00"/></g>
<g transform="translate(331.3 77.1)"><path d="M-3.2 -2l3.2 2 3.9 -1.4v-15.3l-3.9 1.4 -3.2 -2zM0 0v-15.3"/><path class="l" d="M-3.2 -2L0 0v-15.3l-3.2 -2z"/><path d="M-3.2 -17.3L0 -15.3L3.9 -16.7L0.7 -18.7z" fill="#ff7a00"/></g>
<g transform="translate(326.4 78.9)"><path d="M-3.2 -2l3.2 2 3.9 -1.4v-15.3l-3.9 1.4 -3.2 -2zM0 0v-15.3"/><path class="l" d="M-3.2 -2L0 0v-15.3l-3.2 -2z"/><path d="M-3.2 -17.3L0 -15.3L3.9 -16.7L0.7 -18.7z" fill="#ff7a00"/></g>
<g transform="translate(321.5 80.7)"><path d="M-3.2 -2l3.2 2 3.9 -1.4v-15.3l-3.9 1.4 -3.2 -2zM0 0v-15.3"/><path class="l" d="M-3.2 -2L0 0v-15.3l-3.2 -2z"/><path d="M-3.2 -17.3L0 -15.3L3.9 -16.7L0.7 -18.7z" fill="#ff7a00"/></g>
<g transform="translate(316.6 82.4)"><path d="M-3.2 -2l3.2 2 3.9 -1.4v-15.3l-3.9 1.4 -3.2 -2zM0 0v-15.3"/><path class="l" d="M-3.2 -2L0 0v-15.3l-3.2 -2z"/><path d="M-3.2 -17.3L0 -15.3L3.9 -16.7L0.7 -18.7z" fill="#ff7a00"/></g>
<g transform="translate(311.6 84.2)"><path d="M-3.2 -2l3.2 2 3.9 -1.4v-15.3l-3.9 1.4 -3.2 -2zM0 0v-15.3"/><path class="l" d="M-3.2 -2L0 0v-15.3l-3.2 -2z"/><path d="M-3.2 -17.3L0 -15.3L3.9 -16.7L0.7 -18.7z" fill="#ff7a00"/></g>
<g transform="translate(306.7 85.9)"><path d="M-3.2 -2l3.2 2 3.9 -1.4v-15.3l-3.9 1.4 -3.2 -2zM0 0v-15.3"/><path class="l" d="M-3.2 -2L0 0v-15.3l-3.2 -2z"/><path d="M-3.2 -17.3L0 -15.3L3.9 -16.7L0.7 -18.7z" fill="#ff7a00"/></g>
<g transform="translate(360 70.9)"><path d="M-3.2 -2l3.2 2 3.9 -1.4v-16l-3.9 1.4 -3.2 -2zM0 0v-16"/><path class="l" d="M-3.2 -2L0 0v-16l-3.2 -2z"/><path d="M-3.2 -18L0 -16L3.9 -17.4L0.7 -19.4z" fill="#ff8000"/></g>
<g transform="translate(355.1 72.6)"><path d="M-3.2 -2l3.2 2 3.9 -1.4v-16l-3.9 1.4 -3.2 -2zM0 0v-16"/><path class="l" d="M-3.2 -2L0 0v-16l-3.2 -2z"/><path d="M-3.2 -18L0 -16L3.9 -17.4L0.7 -19.4z" fill="#ff8000"/></g>
<g transform="translate(350.2 74.4)"><path d="M-3.2 -2l3.2 2 3.9 -1.4v-16l-3.9 1.4 -3.2 -2zM0 0v-16"/><path class="l" d="M-3.2 -2L0 0v-16l-3.2 -2z"/><path d="M-3.2 -18L0 -16L3.9 -17.4L0.7 -19.4z" fill="#ff8000"/></g>
<g transform="translate(345.2 76.2)"><path d="M-3.2 -2l3.2 2 3.9 -1.4v-16l-3.9 1.4 -3.2 -2zM0 0v-16"/><path class="l" d="M-3.2 -2L0 0v-16l-3.2 -2z"/><path d="M-3.2 -18L0 -16L3.9 -17.4L0.7 -19.4z" fill="#ff8000"/></g>
<g transform="translate(340.3 77.9)"><path d="M-3.2 -2l3.2 2 3.9 -1.4v-16l-3.9 1.4 -3.2 -2zM0 0v-16"/><path class="l" d="M-3.2 -2L0 0v-16l-3.2 -2z"/><path d="M-3.2 -18L0 -16L3.9 -17.4L0.7 -19.4z" fill="#ff8000"/></g>
<g transform="translate(335.4 79.7)"><path d="M-3.2 -2l3.2 2 3.9 -1.4v-16l-3.9 1.4 -3.2 -2zM0 0v-16"/><path class="l" d="M-3.2 -2L0 0v-16l-3.2 -2z"/><path d="M-3.2 -18L0 -16L3.9 -17.4L0.7 -19.4z" fill="#ff8000"/></g>
<g transform="translate(330.5 81.4)"><path d="M-3.2 -2l3.2 2 3.9 -1.4v-16l-3.9 1.4 -3.2 -2zM0 0v-16"/><path class="l" d="M-3.2 -2L0 0v-16l-3.2 -2z"/><path d="M-3.2 -18L0 -16L3.9 -17.4L0.7 -19.4z" fill="#ff8000"/></g>
<g transform="translate(325.5 83.2)"><path d="M-3.2 -2l3.2 2 3.9 -1.4v-16l-3.9 1.4 -3.2 -2zM0 0v-16"/><path class="l" d="M-3.2 -2L0 0v-16l-3.2 -2z"/><path d="M-3.2 -18L0 -16L3.9 -17.4L0.7 -19.4z" fill="#ff8000"/></g>
<g transform="translate(320.6 85)"><path d="M-3.2 -2l3.2 2 3.9 -1.4v-16l-3.9 1.4 -3.2 -2zM0 0v-16"/><path class="l" d="M-3.2 -2L0 0v-16l-3.2 -2z"/><path d="M-3.2 -18L0 -16L3.9 -17.4L0.7 -19.4z" fill="#ff8000"/></g>
<g transform="translate(315.7 86.7)"><path d="M-3.2 -2l3.2 2 3.9 -1.4v-16l-3.9 1.4 -3.2 -2zM0 0v-16"/><path class="l" d="M-3.2 -2L0 0v-16l-3.2 -2z"/><path d="M-3.2 -18L0 -16L3.9 -17.4L0.7 -19.4z" fill="#ff8000"/></g>
<g transform="translate(310.8 88.5)"><path d="M-3.2 -2l3.2 2 3.9 -1.4v-16l-3.9 1.4 -3.2 -2zM0 0v-16"/><path class="l" d="M-3.2 -2L0 0v-16l-3.2 -2z"/><path d="M-3.2 -18L0 -16L3.9 -17.4L0.7 -19.4z" fill="#ff8000"/></g>
<g transform="translate(364.1 73.4)"><path d="M-3.2 -2l3.2 2 3.9 -1.4v-17l-3.9 1.4 -3.2 -2zM0 0v-17"/><path class="l" d="M-3.2 -2L0 0v-17l-3.2 -2z"/><path d="M-3.2 -19.1L0 -17L3.9 -18.4L0.7 -20.5z" fill="#ff8800"/></g>
<g transform="translate(359.1 75.2)"><path d="M-3.2 -2l3.2 2 3.9 -1.4v-17l-3.9 1.4 -3.2 -2zM0 0v-17"/><path class="l" d="M-3.2 -2L0 0v-17l-3.2 -2z"/><path d="M-3.2 -19.1L0 -17L3.9 -18.4L0.7 -20.5z" fill="#ff8800"/></g>
<g transform="translate(354.2 76.9)"><path d="M-3.2 -2l3.2 2 3.9 -1.4v-17l-3.9 1.4 -3.2 -2zM0 0v-17"/><path class="l" d="M-3.2 -2L0 0v-17l-3.2 -2z"/><path d="M-3.2 -19.1L0 -17L3.9 -18.4L0.7 -20.5z" fill="#ff8800"/></g>
<g transform="translate(349.3 78.7)"><path d="M-3.2 -2l3.2 2 3.9 -1.4v-17l-3.9 1.4 -3.2 -2zM0 0v-17"/><path class="l" d="M-3.2 -2L0 0v-17l-3.2 -2z"/><path d="M-3.2 -19.1L0 -17L3.9 -18.4L0.7 -20.5z" fill="#ff8800"/></g>
<g transform="translate(344.4 80.4)"><path d="M-3.2 -2l3.2 2 3.9 -1.4v-17l-3.9 1.4 -3.2 -2zM0 0v-17"/><path class="l" d="M-3.2 -2L0 0v-17l-3.2 -2z"/><path d="M-3.2 -19.1L0 -17L3.9 -18.4L0.7 -20.5z" fill="#ff8800"/></g>
<g transform="translate(339.4 82.2)"><path d="M-3.2 -2l3.2 2 3.9 -1.4v-17l-3.9 1.4 -3.2 -2zM0 0v-17"/><path class="l" d="M-3.2 -2L0 0v-17l-3.2 -2z"/><path d="M-3.2 -19.1L0 -17L3.9 -18.4L0.7 -20.5z" fill="#ff8800"/></g>
<g transform="translate(334.5 84)"><path d="M-3.2 -2l3.2 2 3.9 -1.4v-17l-3.9 1.4 -3.2 -2zM0 0v-17"/><path class="l" d="M-3.2 -2L0 0v-17l-3.2 -2z"/><path d="M-3.2 -19.1L0 -17L3.9 -18.4L0.7 -20.5z" fill="#ff8800"/></g>
<g transform="translate(329.6 85.7)"><path d="M-3.2 -2l3.2 2 3.9 -1.4v-17l-3.9 1.4 -3.2 -2zM0 0v-17"/><path class="l" d="M-3.2 -2L0 0v-17l-3.2 -2z"/><path d="M-3.2 -19.1L0 -17L3.9 -18.4L0.7 -20.5z" fill="#ff8800"/></g>
<g transform="translate(324.7 87.5)"><path d="M-3.2 -2l3.2 2 3.9 -1.4v-17l-3.9 1.4 -3.2 -2zM0 0v-17"/><path class="l" d="M-3.2 -2L0 0v-17l-3.2 -2z"/><path d="M-3.2 -19.1L0 -17L3.9 -18.4L0.7 -20.5z" fill="#ff8800"/></g>
<g transform="translate(319.7 89.2)"><path d="M-3.2 -2l3.2 2 3.9 -1.4v-17l-3.9 1.4 -3.2 -2zM0 0v-17"/><path class="l" d="M-3.2 -2L0 0v-17l-3.2 -2z"/><path d="M-3.2 -19.1L0 -17L3.9 -18.4L0.7 -20.5z" fill="#ff8800"/></g>
<g transform="translate(314.8 91)"><path d="M-3.2 -2l3.2 2 3.9 -1.4v-17l-3.9 1.4 -3.2 -2zM0 0v-17"/><path class="l" d="M-3.2 -2L0 0v-17l-3.2 -2z"/><path d="M-3.2 -19.1L0 -17L3.9 -18.4L0.7 -20.5z" fill="#ff8800"/></g>
</g>
<linearGradient id="cb2" x1="0" y1="1" x2="0" y2="0"><stop offset="0" stop-color="#f00"/><stop offset="1" stop-color="#ff0"/></linearGradient>
<rect x="374.5" y="10.9" width="4.9" height="95" fill="url(#cb2)"/>
<g class="t" font-size="2.95">
<text x="284.6" y="72.8" text-anchor="end">0</text>
<text x="284.6" y="65.7" text-anchor="end">0.2</text>
<text x="284.6" y="58.6" text-anchor="end">0.4</text>
<text x="284.6" y="51.5" text-anchor="end">0.6</text>
<text x="284.6" y="44.4" text-anchor="end">0.8</text>
<text x="273.4" y="54.2" font-size="3.45" text-anchor="middle" transform="rotate(-90 273.4 54.2)">Under-segmentation error</text>
<text x="287.9" y="79.7" text-anchor="end">POL-SLIC</text>
<text x="291.9" y="82.2" text-anchor="end">POL-LSC</text>
<text x="296" y="84.7" text-anchor="end">POL-NLT</text>
<text x="300" y="87.2" text-anchor="end">WS</text>
<text x="304.1" y="89.8" text-anchor="end">HMMS</text>
<text x="308.1" y="92.3" text-anchor="end">GMMS</text>
<text x="312.1" y="94.8" text-anchor="end">NC</text>
<text x="323.5" y="96.5" text-anchor="middle">10</text>
<text x="328.5" y="94.8" text-anchor="middle">11</text>
<text x="333.4" y="93" text-anchor="middle">12</text>
<text x="338.3" y="91.3" text-anchor="middle">13</text>
<text x="343.2" y="89.5" text-anchor="middle">14</text>
<text x="348.2" y="87.7" text-anchor="middle">15</text>
<text x="353.1" y="86" text-anchor="middle">16</text>
<text x="358" y="84.2" text-anchor="middle">17</text>
<text x="362.9" y="82.5" text-anchor="middle">18</text>
<text x="367.9" y="80.7" text-anchor="middle">19</text>
<text x="372.8" y="78.9" text-anchor="middle">20</text>
<text x="292.3" y="98.6" font-size="3.45" text-anchor="middle">Methods</text>
<text x="342.9" y="97" font-size="3.45" text-anchor="middle">δ</text>
<path d="M374.5 105.9h0.8M379.4 105.9h-0.8" stroke="#777" stroke-width="0.3"/>
<text x="380" y="107.5">0</text>
<path d="M374.5 92.8h0.8M379.4 92.8h-0.8" stroke="#777" stroke-width="0.3"/>
<text x="380" y="94.4">0.1</text>
<path d="M374.5 79.7h0.8M379.4 79.7h-0.8" stroke="#777" stroke-width="0.3"/>
<text x="380" y="81.3">0.2</text>
<path d="M374.5 66.6h0.8M379.4 66.6h-0.8" stroke="#777" stroke-width="0.3"/>
<text x="380" y="68.2">0.3</text>
<path d="M374.5 53.5h0.8M379.4 53.5h-0.8" stroke="#777" stroke-width="0.3"/>
<text x="380" y="55">0.4</text>
<path d="M374.5 40.4h0.8M379.4 40.4h-0.8" stroke="#777" stroke-width="0.3"/>
<text x="380" y="41.9">0.5</text>
<path d="M374.5 27.3h0.8M379.4 27.3h-0.8" stroke="#777" stroke-width="0.3"/>
<text x="380" y="28.8">0.6</text>
<path d="M374.5 14.2h0.8M379.4 14.2h-0.8" stroke="#777" stroke-width="0.3"/>
<text x="380" y="15.7">0.7</text>
</g>
<path d="M405.4 74.1L464.6 52.6L497.2 74.8M405.4 59.4L464.6 37.9L497.2 60.1M405.4 44.7L464.6 23.2L497.2 45.4M407.7 73.3L407.7 43.9M407.7 73.3L440.2 95.4M413.1 71.3L413.1 41.9M413.1 71.3L445.7 93.5M418.6 69.3L418.6 39.9M418.6 69.3L451.2 91.5M424.1 67.3L424.1 37.9M424.1 67.3L456.6 89.5M429.5 65.4L429.5 36M429.5 65.4L462.1 87.5M435 63.4L435 34M435 63.4L467.6 85.5M440.5 61.4L440.5 32M440.5 61.4L473.1 83.5M446 59.4L446 30M446 59.4L478.5 81.6M451.4 57.4L451.4 28M451.4 57.4L484 79.6M456.9 55.4L456.9 26M456.9 55.4L489.5 77.6M462.4 53.5L462.4 24.1M462.4 53.5L494.9 75.6M469.1 55.7L469.1 26.3M409.8 77.1L469.1 55.7M473 58.3L473 28.9M413.8 79.8L473 58.3M477 61L477 31.6M417.7 82.5L477 61M480.9 63.7L480.9 34.3M421.7 85.2L480.9 63.7M484.9 66.4L484.9 37M425.6 87.9L484.9 66.4M488.8 69.1L488.8 39.7M429.6 90.6L488.8 69.1M492.8 71.8L492.8 42.4M433.5 93.2L492.8 71.8" stroke="#e2e2e2" stroke-width="0.35" fill="none"/>
<path d="M405.4 74.1L464.6 52.6M464.6 52.6L497.2 74.8M464.6 52.6L464.6 23.2M497.2 74.8L497.2 45.4M405.4 44.7L464.6 23.2M464.6 23.2L497.2 45.4" stroke="#d0d0d0" stroke-width="0.35" fill="none"/>
<path d="M405.4 74.1L438 96.3M438 96.3L497.2 74.8M405.4 74.1L405.4 44.7" stroke="#aaa" stroke-width="0.4" fill="none"/>
<linearGradient id="g3" gradientUnits="userSpaceOnUse" x1="0" y1="0" x2="0" y2="-26.8"><stop offset="0" stop-color="#f00"/><stop offset="1" stop-color="#ff0"/></linearGradient>
<g fill="url(#g3)" stroke="rgba(100,30,0,0.55)" stroke-width="0.35">
<g transform="translate(466.2 58.3)"><path d="M-3.2 -2.2l3.2 2.2 4.4 -1.6v-26.9l-4.4 1.6 -3.2 -2.2zM0 0v-26.9"/><path class="l" d="M-3.2 -2.2L0 0v-26.9l-3.2 -2.2z"/><path d="M-3.2 -29.1L0 -26.9L4.4 -28.5L1.2 -30.6z" fill="#ffff00"/></g>
<g transform="translate(460.7 60.3)"><path d="M-3.2 -2.2l3.2 2.2 4.4 -1.6v-26.9l-4.4 1.6 -3.2 -2.2zM0 0v-26.9"/><path class="l" d="M-3.2 -2.2L0 0v-26.9l-3.2 -2.2z"/><path d="M-3.2 -29.1L0 -26.9L4.4 -28.5L1.2 -30.6z" fill="#ffff00"/></g>
<g transform="translate(455.2 62.3)"><path d="M-3.2 -2.2l3.2 2.2 4.4 -1.6v-26.9l-4.4 1.6 -3.2 -2.2zM0 0v-26.9"/><path class="l" d="M-3.2 -2.2L0 0v-26.9l-3.2 -2.2z"/><path d="M-3.2 -29.1L0 -26.9L4.4 -28.5L1.2 -30.6z" fill="#ffff00"/></g>
<g transform="translate(449.8 64.3)"><path d="M-3.2 -2.2l3.2 2.2 4.4 -1.6v-26.9l-4.4 1.6 -3.2 -2.2zM0 0v-26.9"/><path class="l" d="M-3.2 -2.2L0 0v-26.9l-3.2 -2.2z"/><path d="M-3.2 -29.1L0 -26.9L4.4 -28.5L1.2 -30.6z" fill="#ffff00"/></g>
<g transform="translate(444.3 66.3)"><path d="M-3.2 -2.2l3.2 2.2 4.4 -1.6v-26.9l-4.4 1.6 -3.2 -2.2zM0 0v-26.9"/><path class="l" d="M-3.2 -2.2L0 0v-26.9l-3.2 -2.2z"/><path d="M-3.2 -29.1L0 -26.9L4.4 -28.5L1.2 -30.6z" fill="#ffff00"/></g>
<g transform="translate(438.8 68.2)"><path d="M-3.2 -2.2l3.2 2.2 4.4 -1.6v-26.9l-4.4 1.6 -3.2 -2.2zM0 0v-26.9"/><path class="l" d="M-3.2 -2.2L0 0v-26.9l-3.2 -2.2z"/><path d="M-3.2 -29.1L0 -26.9L4.4 -28.5L1.2 -30.6z" fill="#ffff00"/></g>
<g transform="translate(433.4 70.2)"><path d="M-3.2 -2.2l3.2 2.2 4.4 -1.6v-26.9l-4.4 1.6 -3.2 -2.2zM0 0v-26.9"/><path class="l" d="M-3.2 -2.2L0 0v-26.9l-3.2 -2.2z"/><path d="M-3.2 -29.1L0 -26.9L4.4 -28.5L1.2 -30.6z" fill="#ffff00"/></g>
<g transform="translate(427.9 72.2)"><path d="M-3.2 -2.2l3.2 2.2 4.4 -1.6v-26.9l-4.4 1.6 -3.2 -2.2zM0 0v-26.9"/><path class="l" d="M-3.2 -2.2L0 0v-26.9l-3.2 -2.2z"/><path d="M-3.2 -29.1L0 -26.9L4.4 -28.5L1.2 -30.6z" fill="#ffff00"/></g>
<g transform="translate(422.4 74.2)"><path d="M-3.2 -2.2l3.2 2.2 4.4 -1.6v-26.9l-4.4 1.6 -3.2 -2.2zM0 0v-26.9"/><path class="l" d="M-3.2 -2.2L0 0v-26.9l-3.2 -2.2z"/><path d="M-3.2 -29.1L0 -26.9L4.4 -28.5L1.2 -30.6z" fill="#ffff00"/></g>
<g transform="translate(416.9 76.2)"><path d="M-3.2 -2.2l3.2 2.2 4.4 -1.6v-26.9l-4.4 1.6 -3.2 -2.2zM0 0v-26.9"/><path class="l" d="M-3.2 -2.2L0 0v-26.9l-3.2 -2.2z"/><path d="M-3.2 -29.1L0 -26.9L4.4 -28.5L1.2 -30.6z" fill="#ffff00"/></g>
<g transform="translate(411.5 78.2)"><path d="M-3.2 -2.2l3.2 2.2 4.4 -1.6v-26.9l-4.4 1.6 -3.2 -2.2zM0 0v-26.9"/><path class="l" d="M-3.2 -2.2L0 0v-26.9l-3.2 -2.2z"/><path d="M-3.2 -29.1L0 -26.9L4.4 -28.5L1.2 -30.6z" fill="#ffff00"/></g>
<g transform="translate(470.1 61)"><path d="M-3.2 -2.2l3.2 2.2 4.4 -1.6v-26.9l-4.4 1.6 -3.2 -2.2zM0 0v-26.9"/><path class="l" d="M-3.2 -2.2L0 0v-26.9l-3.2 -2.2z"/><path d="M-3.2 -29.1L0 -26.9L4.4 -28.5L1.2 -30.6z" fill="#ffff00"/></g>
<g transform="translate(464.7 63)"><path d="M-3.2 -2.2l3.2 2.2 4.4 -1.6v-26.9l-4.4 1.6 -3.2 -2.2zM0 0v-26.9"/><path class="l" d="M-3.2 -2.2L0 0v-26.9l-3.2 -2.2z"/><path d="M-3.2 -29.1L0 -26.9L4.4 -28.5L1.2 -30.6z" fill="#ffff00"/></g>
<g transform="translate(459.2 65)"><path d="M-3.2 -2.2l3.2 2.2 4.4 -1.6v-26.9l-4.4 1.6 -3.2 -2.2zM0 0v-26.9"/><path class="l" d="M-3.2 -2.2L0 0v-26.9l-3.2 -2.2z"/><path d="M-3.2 -29.1L0 -26.9L4.4 -28.5L1.2 -30.6z" fill="#ffff00"/></g>
<g transform="translate(453.7 67)"><path d="M-3.2 -2.2l3.2 2.2 4.4 -1.6v-26.9l-4.4 1.6 -3.2 -2.2zM0 0v-26.9"/><path class="l" d="M-3.2 -2.2L0 0v-26.9l-3.2 -2.2z"/><path d="M-3.2 -29.1L0 -26.9L4.4 -28.5L1.2 -30.6z" fill="#ffff00"/></g>
<g transform="translate(448.3 69)"><path d="M-3.2 -2.2l3.2 2.2 4.4 -1.6v-26.9l-4.4 1.6 -3.2 -2.2zM0 0v-26.9"/><path class="l" d="M-3.2 -2.2L0 0v-26.9l-3.2 -2.2z"/><path d="M-3.2 -29.1L0 -26.9L4.4 -28.5L1.2 -30.6z" fill="#ffff00"/></g>
<g transform="translate(442.8 70.9)"><path d="M-3.2 -2.2l3.2 2.2 4.4 -1.6v-26.9l-4.4 1.6 -3.2 -2.2zM0 0v-26.9"/><path class="l" d="M-3.2 -2.2L0 0v-26.9l-3.2 -2.2z"/><path d="M-3.2 -29.1L0 -26.9L4.4 -28.5L1.2 -30.6z" fill="#ffff00"/></g>
<g transform="translate(437.3 72.9)"><path d="M-3.2 -2.2l3.2 2.2 4.4 -1.6v-26.9l-4.4 1.6 -3.2 -2.2zM0 0v-26.9"/><path class="l" d="M-3.2 -2.2L0 0v-26.9l-3.2 -2.2z"/><path d="M-3.2 -29.1L0 -26.9L4.4 -28.5L1.2 -30.6z" fill="#ffff00"/></g>
<g transform="translate(431.8 74.9)"><path d="M-3.2 -2.2l3.2 2.2 4.4 -1.6v-26.9l-4.4 1.6 -3.2 -2.2zM0 0v-26.9"/><path class="l" d="M-3.2 -2.2L0 0v-26.9l-3.2 -2.2z"/><path d="M-3.2 -29.1L0 -26.9L4.4 -28.5L1.2 -30.6z" fill="#ffff00"/></g>
<g transform="translate(426.4 76.9)"><path d="M-3.2 -2.2l3.2 2.2 4.4 -1.6v-26.9l-4.4 1.6 -3.2 -2.2zM0 0v-26.9"/><path class="l" d="M-3.2 -2.2L0 0v-26.9l-3.2 -2.2z"/><path d="M-3.2 -29.1L0 -26.9L4.4 -28.5L1.2 -30.6z" fill="#ffff00"/></g>
<g transform="translate(420.9 78.9)"><path d="M-3.2 -2.2l3.2 2.2 4.4 -1.6v-26.9l-4.4 1.6 -3.2 -2.2zM0 0v-26.9"/><path class="l" d="M-3.2 -2.2L0 0v-26.9l-3.2 -2.2z"/><path d="M-3.2 -29.1L0 -26.9L4.4 -28.5L1.2 -30.6z" fill="#ffff00"/></g>
<g transform="translate(415.4 80.8)"><path d="M-3.2 -2.2l3.2 2.2 4.4 -1.6v-26.9l-4.4 1.6 -3.2 -2.2zM0 0v-26.9"/><path class="l" d="M-3.2 -2.2L0 0v-26.9l-3.2 -2.2z"/><path d="M-3.2 -29.1L0 -26.9L4.4 -28.5L1.2 -30.6z" fill="#ffff00"/></g>
<g transform="translate(474.1 63.7)"><path d="M-3.2 -2.2l3.2 2.2 4.4 -1.6v-26.9l-4.4 1.6 -3.2 -2.2zM0 0v-26.9"/><path class="l" d="M-3.2 -2.2L0 0v-26.9l-3.2 -2.2z"/><path d="M-3.2 -29.1L0 -26.9L4.4 -28.5L1.2 -30.6z" fill="#ffff00"/></g>
<g transform="translate(468.6 65.7)"><path d="M-3.2 -2.2l3.2 2.2 4.4 -1.6v-26.9l-4.4 1.6 -3.2 -2.2zM0 0v-26.9"/><path class="l" d="M-3.2 -2.2L0 0v-26.9l-3.2 -2.2z"/><path d="M-3.2 -29.1L0 -26.9L4.4 -28.5L1.2 -30.6z" fill="#ffff00"/></g>
<g transform="translate(463.2 67.7)"><path d="M-3.2 -2.2l3.2 2.2 4.4 -1.6v-26.9l-4.4 1.6 -3.2 -2.2zM0 0v-26.9"/><path class="l" d="M-3.2 -2.2L0 0v-26.9l-3.2 -2.2z"/><path d="M-3.2 -29.1L0 -26.9L4.4 -28.5L1.2 -30.6z" fill="#ffff00"/></g>
<g transform="translate(457.7 69.7)"><path d="M-3.2 -2.2l3.2 2.2 4.4 -1.6v-26.9l-4.4 1.6 -3.2 -2.2zM0 0v-26.9"/><path class="l" d="M-3.2 -2.2L0 0v-26.9l-3.2 -2.2z"/><path d="M-3.2 -29.1L0 -26.9L4.4 -28.5L1.2 -30.6z" fill="#ffff00"/></g>
<g transform="translate(452.2 71.6)"><path d="M-3.2 -2.2l3.2 2.2 4.4 -1.6v-26.9l-4.4 1.6 -3.2 -2.2zM0 0v-26.9"/><path class="l" d="M-3.2 -2.2L0 0v-26.9l-3.2 -2.2z"/><path d="M-3.2 -29.1L0 -26.9L4.4 -28.5L1.2 -30.6z" fill="#ffff00"/></g>
<g transform="translate(446.7 73.6)"><path d="M-3.2 -2.2l3.2 2.2 4.4 -1.6v-26.9l-4.4 1.6 -3.2 -2.2zM0 0v-26.9"/><path class="l" d="M-3.2 -2.2L0 0v-26.9l-3.2 -2.2z"/><path d="M-3.2 -29.1L0 -26.9L4.4 -28.5L1.2 -30.6z" fill="#ffff00"/></g>
<g transform="translate(441.3 75.6)"><path d="M-3.2 -2.2l3.2 2.2 4.4 -1.6v-26.9l-4.4 1.6 -3.2 -2.2zM0 0v-26.9"/><path class="l" d="M-3.2 -2.2L0 0v-26.9l-3.2 -2.2z"/><path d="M-3.2 -29.1L0 -26.9L4.4 -28.5L1.2 -30.6z" fill="#ffff00"/></g>
<g transform="translate(435.8 77.6)"><path d="M-3.2 -2.2l3.2 2.2 4.4 -1.6v-26.9l-4.4 1.6 -3.2 -2.2zM0 0v-26.9"/><path class="l" d="M-3.2 -2.2L0 0v-26.9l-3.2 -2.2z"/><path d="M-3.2 -29.1L0 -26.9L4.4 -28.5L1.2 -30.6z" fill="#ffff00"/></g>
<g transform="translate(430.3 79.6)"><path d="M-3.2 -2.2l3.2 2.2 4.4 -1.6v-26.9l-4.4 1.6 -3.2 -2.2zM0 0v-26.9"/><path class="l" d="M-3.2 -2.2L0 0v-26.9l-3.2 -2.2z"/><path d="M-3.2 -29.1L0 -26.9L4.4 -28.5L1.2 -30.6z" fill="#ffff00"/></g>
<g transform="translate(424.8 81.6)"><path d="M-3.2 -2.2l3.2 2.2 4.4 -1.6v-26.9l-4.4 1.6 -3.2 -2.2zM0 0v-26.9"/><path class="l" d="M-3.2 -2.2L0 0v-26.9l-3.2 -2.2z"/><path d="M-3.2 -29.1L0 -26.9L4.4 -28.5L1.2 -30.6z" fill="#ffff00"/></g>
<g transform="translate(419.4 83.5)"><path d="M-3.2 -2.2l3.2 2.2 4.4 -1.6v-26.9l-4.4 1.6 -3.2 -2.2zM0 0v-26.9"/><path class="l" d="M-3.2 -2.2L0 0v-26.9l-3.2 -2.2z"/><path d="M-3.2 -29.1L0 -26.9L4.4 -28.5L1.2 -30.6z" fill="#ffff00"/></g>
<g transform="translate(478.1 66.4)"><path d="M-3.2 -2.2l3.2 2.2 4.4 -1.6v-26.9l-4.4 1.6 -3.2 -2.2zM0 0v-26.9"/><path class="l" d="M-3.2 -2.2L0 0v-26.9l-3.2 -2.2z"/><path d="M-3.2 -29.1L0 -26.9L4.4 -28.5L1.2 -30.6z" fill="#ffff00"/></g>
<g transform="translate(472.6 68.4)"><path d="M-3.2 -2.2l3.2 2.2 4.4 -1.6v-26.9l-4.4 1.6 -3.2 -2.2zM0 0v-26.9"/><path class="l" d="M-3.2 -2.2L0 0v-26.9l-3.2 -2.2z"/><path d="M-3.2 -29.1L0 -26.9L4.4 -28.5L1.2 -30.6z" fill="#ffff00"/></g>
<g transform="translate(467.1 70.4)"><path d="M-3.2 -2.2l3.2 2.2 4.4 -1.6v-26.9l-4.4 1.6 -3.2 -2.2zM0 0v-26.9"/><path class="l" d="M-3.2 -2.2L0 0v-26.9l-3.2 -2.2z"/><path d="M-3.2 -29.1L0 -26.9L4.4 -28.5L1.2 -30.6z" fill="#ffff00"/></g>
<g transform="translate(461.6 72.4)"><path d="M-3.2 -2.2l3.2 2.2 4.4 -1.6v-26.9l-4.4 1.6 -3.2 -2.2zM0 0v-26.9"/><path class="l" d="M-3.2 -2.2L0 0v-26.9l-3.2 -2.2z"/><path d="M-3.2 -29.1L0 -26.9L4.4 -28.5L1.2 -30.6z" fill="#ffff00"/></g>
<g transform="translate(456.2 74.3)"><path d="M-3.2 -2.2l3.2 2.2 4.4 -1.6v-26.9l-4.4 1.6 -3.2 -2.2zM0 0v-26.9"/><path class="l" d="M-3.2 -2.2L0 0v-26.9l-3.2 -2.2z"/><path d="M-3.2 -29.1L0 -26.9L4.4 -28.5L1.2 -30.6z" fill="#ffff00"/></g>
<g transform="translate(450.7 76.3)"><path d="M-3.2 -2.2l3.2 2.2 4.4 -1.6v-26.9l-4.4 1.6 -3.2 -2.2zM0 0v-26.9"/><path class="l" d="M-3.2 -2.2L0 0v-26.9l-3.2 -2.2z"/><path d="M-3.2 -29.1L0 -26.9L4.4 -28.5L1.2 -30.6z" fill="#ffff00"/></g>
<g transform="translate(445.2 78.3)"><path d="M-3.2 -2.2l3.2 2.2 4.4 -1.6v-26.9l-4.4 1.6 -3.2 -2.2zM0 0v-26.9"/><path class="l" d="M-3.2 -2.2L0 0v-26.9l-3.2 -2.2z"/><path d="M-3.2 -29.1L0 -26.9L4.4 -28.5L1.2 -30.6z" fill="#ffff00"/></g>
<g transform="translate(439.7 80.3)"><path d="M-3.2 -2.2l3.2 2.2 4.4 -1.6v-26.9l-4.4 1.6 -3.2 -2.2zM0 0v-26.9"/><path class="l" d="M-3.2 -2.2L0 0v-26.9l-3.2 -2.2z"/><path d="M-3.2 -29.1L0 -26.9L4.4 -28.5L1.2 -30.6z" fill="#ffff00"/></g>
<g transform="translate(434.3 82.3)"><path d="M-3.2 -2.2l3.2 2.2 4.4 -1.6v-26.9l-4.4 1.6 -3.2 -2.2zM0 0v-26.9"/><path class="l" d="M-3.2 -2.2L0 0v-26.9l-3.2 -2.2z"/><path d="M-3.2 -29.1L0 -26.9L4.4 -28.5L1.2 -30.6z" fill="#ffff00"/></g>
<g transform="translate(428.8 84.2)"><path d="M-3.2 -2.2l3.2 2.2 4.4 -1.6v-26.9l-4.4 1.6 -3.2 -2.2zM0 0v-26.9"/><path class="l" d="M-3.2 -2.2L0 0v-26.9l-3.2 -2.2z"/><path d="M-3.2 -29.1L0 -26.9L4.4 -28.5L1.2 -30.6z" fill="#ffff00"/></g>
<g transform="translate(423.3 86.2)"><path d="M-3.2 -2.2l3.2 2.2 4.4 -1.6v-26.9l-4.4 1.6 -3.2 -2.2zM0 0v-26.9"/><path class="l" d="M-3.2 -2.2L0 0v-26.9l-3.2 -2.2z"/><path d="M-3.2 -29.1L0 -26.9L4.4 -28.5L1.2 -30.6z" fill="#ffff00"/></g>
<g transform="translate(482 69.1)"><path d="M-3.2 -2.2l3.2 2.2 4.4 -1.6v-26.9l-4.4 1.6 -3.2 -2.2zM0 0v-26.9"/><path class="l" d="M-3.2 -2.2L0 0v-26.9l-3.2 -2.2z"/><path d="M-3.2 -29.1L0 -26.9L4.4 -28.5L1.2 -30.6z" fill="#ffff00"/></g>
<g transform="translate(476.5 71.1)"><path d="M-3.2 -2.2l3.2 2.2 4.4 -1.6v-26.9l-4.4 1.6 -3.2 -2.2zM0 0v-26.9"/><path class="l" d="M-3.2 -2.2L0 0v-26.9l-3.2 -2.2z"/><path d="M-3.2 -29.1L0 -26.9L4.4 -28.5L1.2 -30.6z" fill="#ffff00"/></g>
<g transform="translate(471.1 73.1)"><path d="M-3.2 -2.2l3.2 2.2 4.4 -1.6v-26.9l-4.4 1.6 -3.2 -2.2zM0 0v-26.9"/><path class="l" d="M-3.2 -2.2L0 0v-26.9l-3.2 -2.2z"/><path d="M-3.2 -29.1L0 -26.9L4.4 -28.5L1.2 -30.6z" fill="#ffff00"/></g>
<g transform="translate(465.6 75)"><path d="M-3.2 -2.2l3.2 2.2 4.4 -1.6v-26.9l-4.4 1.6 -3.2 -2.2zM0 0v-26.9"/><path class="l" d="M-3.2 -2.2L0 0v-26.9l-3.2 -2.2z"/><path d="M-3.2 -29.1L0 -26.9L4.4 -28.5L1.2 -30.6z" fill="#ffff00"/></g>
<g transform="translate(460.1 77)"><path d="M-3.2 -2.2l3.2 2.2 4.4 -1.6v-26.9l-4.4 1.6 -3.2 -2.2zM0 0v-26.9"/><path class="l" d="M-3.2 -2.2L0 0v-26.9l-3.2 -2.2z"/><path d="M-3.2 -29.1L0 -26.9L4.4 -28.5L1.2 -30.6z" fill="#ffff00"/></g>
<g transform="translate(454.6 79)"><path d="M-3.2 -2.2l3.2 2.2 4.4 -1.6v-26.9l-4.4 1.6 -3.2 -2.2zM0 0v-26.9"/><path class="l" d="M-3.2 -2.2L0 0v-26.9l-3.2 -2.2z"/><path d="M-3.2 -29.1L0 -26.9L4.4 -28.5L1.2 -30.6z" fill="#ffff00"/></g>
<g transform="translate(449.2 81)"><path d="M-3.2 -2.2l3.2 2.2 4.4 -1.6v-26.9l-4.4 1.6 -3.2 -2.2zM0 0v-26.9"/><path class="l" d="M-3.2 -2.2L0 0v-26.9l-3.2 -2.2z"/><path d="M-3.2 -29.1L0 -26.9L4.4 -28.5L1.2 -30.6z" fill="#ffff00"/></g>
<g transform="translate(443.7 83)"><path d="M-3.2 -2.2l3.2 2.2 4.4 -1.6v-26.9l-4.4 1.6 -3.2 -2.2zM0 0v-26.9"/><path class="l" d="M-3.2 -2.2L0 0v-26.9l-3.2 -2.2z"/><path d="M-3.2 -29.1L0 -26.9L4.4 -28.5L1.2 -30.6z" fill="#ffff00"/></g>
<g transform="translate(438.2 85)"><path d="M-3.2 -2.2l3.2 2.2 4.4 -1.6v-26.9l-4.4 1.6 -3.2 -2.2zM0 0v-26.9"/><path class="l" d="M-3.2 -2.2L0 0v-26.9l-3.2 -2.2z"/><path d="M-3.2 -29.1L0 -26.9L4.4 -28.5L1.2 -30.6z" fill="#ffff00"/></g>
<g transform="translate(432.8 86.9)"><path d="M-3.2 -2.2l3.2 2.2 4.4 -1.6v-26.9l-4.4 1.6 -3.2 -2.2zM0 0v-26.9"/><path class="l" d="M-3.2 -2.2L0 0v-26.9l-3.2 -2.2z"/><path d="M-3.2 -29.1L0 -26.9L4.4 -28.5L1.2 -30.6z" fill="#ffff00"/></g>
<g transform="translate(427.3 88.9)"><path d="M-3.2 -2.2l3.2 2.2 4.4 -1.6v-26.9l-4.4 1.6 -3.2 -2.2zM0 0v-26.9"/><path class="l" d="M-3.2 -2.2L0 0v-26.9l-3.2 -2.2z"/><path d="M-3.2 -29.1L0 -26.9L4.4 -28.5L1.2 -30.6z" fill="#ffff00"/></g>
<g transform="translate(486 71.8)"><path d="M-3.2 -2.2l3.2 2.2 4.4 -1.6v-26.9l-4.4 1.6 -3.2 -2.2zM0 0v-26.9"/><path class="l" d="M-3.2 -2.2L0 0v-26.9l-3.2 -2.2z"/><path d="M-3.2 -29.1L0 -26.9L4.4 -28.5L1.2 -30.6z" fill="#ffff00"/></g>
<g transform="translate(480.5 73.8)"><path d="M-3.2 -2.2l3.2 2.2 4.4 -1.6v-26.9l-4.4 1.6 -3.2 -2.2zM0 0v-26.9"/><path class="l" d="M-3.2 -2.2L0 0v-26.9l-3.2 -2.2z"/><path d="M-3.2 -29.1L0 -26.9L4.4 -28.5L1.2 -30.6z" fill="#ffff00"/></g>
<g transform="translate(475 75.8)"><path d="M-3.2 -2.2l3.2 2.2 4.4 -1.6v-26.9l-4.4 1.6 -3.2 -2.2zM0 0v-26.9"/><path class="l" d="M-3.2 -2.2L0 0v-26.9l-3.2 -2.2z"/><path d="M-3.2 -29.1L0 -26.9L4.4 -28.5L1.2 -30.6z" fill="#ffff00"/></g>
<g transform="translate(469.5 77.7)"><path d="M-3.2 -2.2l3.2 2.2 4.4 -1.6v-26.9l-4.4 1.6 -3.2 -2.2zM0 0v-26.9"/><path class="l" d="M-3.2 -2.2L0 0v-26.9l-3.2 -2.2z"/><path d="M-3.2 -29.1L0 -26.9L4.4 -28.5L1.2 -30.6z" fill="#ffff00"/></g>
<g transform="translate(464.1 79.7)"><path d="M-3.2 -2.2l3.2 2.2 4.4 -1.6v-26.9l-4.4 1.6 -3.2 -2.2zM0 0v-26.9"/><path class="l" d="M-3.2 -2.2L0 0v-26.9l-3.2 -2.2z"/><path d="M-3.2 -29.1L0 -26.9L4.4 -28.5L1.2 -30.6z" fill="#ffff00"/></g>
<g transform="translate(458.6 81.7)"><path d="M-3.2 -2.2l3.2 2.2 4.4 -1.6v-26.9l-4.4 1.6 -3.2 -2.2zM0 0v-26.9"/><path class="l" d="M-3.2 -2.2L0 0v-26.9l-3.2 -2.2z"/><path d="M-3.2 -29.1L0 -26.9L4.4 -28.5L1.2 -30.6z" fill="#ffff00"/></g>
<g transform="translate(453.1 83.7)"><path d="M-3.2 -2.2l3.2 2.2 4.4 -1.6v-26.9l-4.4 1.6 -3.2 -2.2zM0 0v-26.9"/><path class="l" d="M-3.2 -2.2L0 0v-26.9l-3.2 -2.2z"/><path d="M-3.2 -29.1L0 -26.9L4.4 -28.5L1.2 -30.6z" fill="#ffff00"/></g>
<g transform="translate(447.7 85.7)"><path d="M-3.2 -2.2l3.2 2.2 4.4 -1.6v-26.9l-4.4 1.6 -3.2 -2.2zM0 0v-26.9"/><path class="l" d="M-3.2 -2.2L0 0v-26.9l-3.2 -2.2z"/><path d="M-3.2 -29.1L0 -26.9L4.4 -28.5L1.2 -30.6z" fill="#ffff00"/></g>
<g transform="translate(442.2 87.6)"><path d="M-3.2 -2.2l3.2 2.2 4.4 -1.6v-26.9l-4.4 1.6 -3.2 -2.2zM0 0v-26.9"/><path class="l" d="M-3.2 -2.2L0 0v-26.9l-3.2 -2.2z"/><path d="M-3.2 -29.1L0 -26.9L4.4 -28.5L1.2 -30.6z" fill="#ffff00"/></g>
<g transform="translate(436.7 89.6)"><path d="M-3.2 -2.2l3.2 2.2 4.4 -1.6v-26.9l-4.4 1.6 -3.2 -2.2zM0 0v-26.9"/><path class="l" d="M-3.2 -2.2L0 0v-26.9l-3.2 -2.2z"/><path d="M-3.2 -29.1L0 -26.9L4.4 -28.5L1.2 -30.6z" fill="#ffff00"/></g>
<g transform="translate(431.2 91.6)"><path d="M-3.2 -2.2l3.2 2.2 4.4 -1.6v-26.9l-4.4 1.6 -3.2 -2.2zM0 0v-26.9"/><path class="l" d="M-3.2 -2.2L0 0v-26.9l-3.2 -2.2z"/><path d="M-3.2 -29.1L0 -26.9L4.4 -28.5L1.2 -30.6z" fill="#ffff00"/></g>
<g transform="translate(489.9 74.5)"><path d="M-3.2 -2.2l3.2 2.2 4.4 -1.6v-26.9l-4.4 1.6 -3.2 -2.2zM0 0v-26.9"/><path class="l" d="M-3.2 -2.2L0 0v-26.9l-3.2 -2.2z"/><path d="M-3.2 -29.1L0 -26.9L4.4 -28.5L1.2 -30.6z" fill="#ffff00"/></g>
<g transform="translate(484.4 76.5)"><path d="M-3.2 -2.2l3.2 2.2 4.4 -1.6v-26.9l-4.4 1.6 -3.2 -2.2zM0 0v-26.9"/><path class="l" d="M-3.2 -2.2L0 0v-26.9l-3.2 -2.2z"/><path d="M-3.2 -29.1L0 -26.9L4.4 -28.5L1.2 -30.6z" fill="#ffff00"/></g>
<g transform="translate(479 78.4)"><path d="M-3.2 -2.2l3.2 2.2 4.4 -1.6v-26.9l-4.4 1.6 -3.2 -2.2zM0 0v-26.9"/><path class="l" d="M-3.2 -2.2L0 0v-26.9l-3.2 -2.2z"/><path d="M-3.2 -29.1L0 -26.9L4.4 -28.5L1.2 -30.6z" fill="#ffff00"/></g>
<g transform="translate(473.5 80.4)"><path d="M-3.2 -2.2l3.2 2.2 4.4 -1.6v-26.9l-4.4 1.6 -3.2 -2.2zM0 0v-26.9"/><path class="l" d="M-3.2 -2.2L0 0v-26.9l-3.2 -2.2z"/><path d="M-3.2 -29.1L0 -26.9L4.4 -28.5L1.2 -30.6z" fill="#ffff00"/></g>
<g transform="translate(468 82.4)"><path d="M-3.2 -2.2l3.2 2.2 4.4 -1.6v-26.9l-4.4 1.6 -3.2 -2.2zM0 0v-26.9"/><path class="l" d="M-3.2 -2.2L0 0v-26.9l-3.2 -2.2z"/><path d="M-3.2 -29.1L0 -26.9L4.4 -28.5L1.2 -30.6z" fill="#ffff00"/></g>
<g transform="translate(462.6 84.4)"><path d="M-3.2 -2.2l3.2 2.2 4.4 -1.6v-26.9l-4.4 1.6 -3.2 -2.2zM0 0v-26.9"/><path class="l" d="M-3.2 -2.2L0 0v-26.9l-3.2 -2.2z"/><path d="M-3.2 -29.1L0 -26.9L4.4 -28.5L1.2 -30.6z" fill="#ffff00"/></g>
<g transform="translate(457.1 86.4)"><path d="M-3.2 -2.2l3.2 2.2 4.4 -1.6v-26.9l-4.4 1.6 -3.2 -2.2zM0 0v-26.9"/><path class="l" d="M-3.2 -2.2L0 0v-26.9l-3.2 -2.2z"/><path d="M-3.2 -29.1L0 -26.9L4.4 -28.5L1.2 -30.6z" fill="#ffff00"/></g>
<g transform="translate(451.6 88.4)"><path d="M-3.2 -2.2l3.2 2.2 4.4 -1.6v-26.9l-4.4 1.6 -3.2 -2.2zM0 0v-26.9"/><path class="l" d="M-3.2 -2.2L0 0v-26.9l-3.2 -2.2z"/><path d="M-3.2 -29.1L0 -26.9L4.4 -28.5L1.2 -30.6z" fill="#ffff00"/></g>
<g transform="translate(446.1 90.3)"><path d="M-3.2 -2.2l3.2 2.2 4.4 -1.6v-26.9l-4.4 1.6 -3.2 -2.2zM0 0v-26.9"/><path class="l" d="M-3.2 -2.2L0 0v-26.9l-3.2 -2.2z"/><path d="M-3.2 -29.1L0 -26.9L4.4 -28.5L1.2 -30.6z" fill="#ffff00"/></g>
<g transform="translate(440.7 92.3)"><path d="M-3.2 -2.2l3.2 2.2 4.4 -1.6v-26.9l-4.4 1.6 -3.2 -2.2zM0 0v-26.9"/><path class="l" d="M-3.2 -2.2L0 0v-26.9l-3.2 -2.2z"/><path d="M-3.2 -29.1L0 -26.9L4.4 -28.5L1.2 -30.6z" fill="#ffff00"/></g>
<g transform="translate(435.2 94.3)"><path d="M-3.2 -2.2l3.2 2.2 4.4 -1.6v-26.9l-4.4 1.6 -3.2 -2.2zM0 0v-26.9"/><path class="l" d="M-3.2 -2.2L0 0v-26.9l-3.2 -2.2z"/><path d="M-3.2 -29.1L0 -26.9L4.4 -28.5L1.2 -30.6z" fill="#ffff00"/></g>
</g>
<linearGradient id="cb3" x1="0" y1="1" x2="0" y2="0"><stop offset="0" stop-color="#f00"/><stop offset="1" stop-color="#ff0"/></linearGradient>
<rect x="500.6" y="15.3" width="4.9" height="89.2" fill="url(#cb3)"/>
<g class="t" font-size="2.9">
<text x="403.6" y="75.1" text-anchor="end">0</text>
<text x="403.6" y="60.4" text-anchor="end">0.5</text>
<text x="403.6" y="45.7" text-anchor="end">1</text>
<text x="392.4" y="60.4" font-size="3.53" text-anchor="middle" transform="rotate(-90 392.4 60.4)">Achievable segmentation accuracy</text>
<text x="407.2" y="82.5" text-anchor="end">POL-SLIC</text>
<text x="411.2" y="85.2" text-anchor="end">POL-LSC</text>
<text x="415.1" y="87.9" text-anchor="end">POL-NLT</text>
<text x="419.1" y="90.6" text-anchor="end">WS</text>
<text x="423" y="93.3" text-anchor="end">HMMS</text>
<text x="427" y="96" text-anchor="end">GMMS</text>
<text x="430.9" y="98.6" text-anchor="end">NC</text>
<text x="444.5" y="100.1" text-anchor="middle">10</text>
<text x="450" y="98.2" text-anchor="middle">11</text>
<text x="455.5" y="96.2" text-anchor="middle">12</text>
<text x="460.9" y="94.2" text-anchor="middle">13</text>
<text x="466.4" y="92.2" text-anchor="middle">14</text>
<text x="471.9" y="90.2" text-anchor="middle">15</text>
<text x="477.4" y="88.2" text-anchor="middle">16</text>
<text x="482.8" y="86.3" text-anchor="middle">17</text>
<text x="488.3" y="84.3" text-anchor="middle">18</text>
<text x="493.8" y="82.3" text-anchor="middle">19</text>
<text x="499.2" y="80.3" text-anchor="middle">20</text>
<text x="412.7" y="101.9" font-size="3.53" text-anchor="middle">Methods</text>
<text x="466.2" y="99.1" font-size="3.53" text-anchor="middle">δ</text>
<path d="M500.6 104.5h0.8M505.5 104.5h-0.8" stroke="#777" stroke-width="0.3"/>
<text x="506.1" y="106">0</text>
<path d="M500.6 94.7h0.8M505.5 94.7h-0.8" stroke="#777" stroke-width="0.3"/>
<text x="506.1" y="96.2">0.1</text>
<path d="M500.6 84.9h0.8M505.5 84.9h-0.8" stroke="#777" stroke-width="0.3"/>
<text x="506.1" y="86.4">0.2</text>
<path d="M500.6 75.1h0.8M505.5 75.1h-0.8" stroke="#777" stroke-width="0.3"/>
<text x="506.1" y="76.6">0.3</text>
<path d="M500.6 65.3h0.8M505.5 65.3h-0.8" stroke="#777" stroke-width="0.3"/>
<text x="506.1" y="66.8">0.4</text>
<path d="M500.6 55.5h0.8M505.5 55.5h-0.8" stroke="#777" stroke-width="0.3"/>
<text x="506.1" y="57">0.5</text>
<path d="M500.6 45.7h0.8M505.5 45.7h-0.8" stroke="#777" stroke-width="0.3"/>
<text x="506.1" y="47.2">0.6</text>
<path d="M500.6 35.9h0.8M505.5 35.9h-0.8" stroke="#777" stroke-width="0.3"/>
<text x="506.1" y="37.4">0.7</text>
<path d="M500.6 26.1h0.8M505.5 26.1h-0.8" stroke="#777" stroke-width="0.3"/>
<text x="506.1" y="27.6">0.8</text>
<path d="M500.6 16.3h0.8M505.5 16.3h-0.8" stroke="#777" stroke-width="0.3"/>
<text x="506.1" y="17.8">0.9</text>
</g>
<path d="M48.7 180.1L110.2 158.5L135.7 175.5M48.7 173.7L110.2 152L135.7 169.1M48.7 167.2L110.2 145.6L135.7 162.6M48.7 160.8L110.2 139.2L135.7 156.2M51.1 179.2L51.1 156.7M51.1 179.2L76.6 196.3M56.8 177.3L56.8 154.7M56.8 177.3L82.3 194.3M62.5 175.3L62.5 152.7M62.5 175.3L87.9 192.3M68.1 173.3L68.1 150.7M68.1 173.3L93.6 190.3M73.8 171.3L73.8 148.7M73.8 171.3L99.3 188.3M79.5 169.3L79.5 146.8M79.5 169.3L104.9 186.3M85.1 167.3L85.1 144.8M85.1 167.3L110.6 184.3M90.8 165.3L90.8 142.8M90.8 165.3L116.3 182.3M96.5 163.3L96.5 140.8M96.5 163.3L121.9 180.3M102.1 161.3L102.1 138.8M102.1 161.3L127.6 178.3M107.8 159.3L107.8 136.8M107.8 159.3L133.3 176.4M114.8 161.5L114.8 139M53.3 183.2L114.8 161.5M118.9 164.3L118.9 141.7M57.3 185.9L118.9 164.3M123 167L123 144.5M61.4 188.6L123 167M127.1 169.7L127.1 147.2M65.5 191.3L127.1 169.7M131.1 172.4L131.1 149.9M69.6 194.1L131.1 172.4" stroke="#e2e2e2" stroke-width="0.35" fill="none"/>
<path d="M48.7 180.1L110.2 158.5M110.2 158.5L135.7 175.5M110.2 158.5L110.2 135.9M135.7 175.5L135.7 153M48.7 157.6L110.2 135.9M110.2 135.9L135.7 153" stroke="#d0d0d0" stroke-width="0.35" fill="none"/>
<path d="M48.7 180.1L74.2 197.1M74.2 197.1L135.7 175.5M48.7 180.1L48.7 157.6" stroke="#aaa" stroke-width="0.4" fill="none"/>
<linearGradient id="g4" gradientUnits="userSpaceOnUse" x1="0" y1="0" x2="0" y2="-21.2"><stop offset="0" stop-color="#f00"/><stop offset="1" stop-color="#ff0"/></linearGradient>
<g fill="url(#g4)" stroke="rgba(100,30,0,0.55)" stroke-width="0.35">
<g transform="translate(111.7 164.3)"><path d="M-3.3 -2.2l3.3 2.2 4.5 -1.6v-19.3l-4.5 1.6 -3.3 -2.2zM0 0v-19.3"/><path class="l" d="M-3.3 -2.2L0 0v-19.3l-3.3 -2.2z"/><path d="M-3.3 -21.5L0 -19.3L4.5 -20.9L1.3 -23.1z" fill="#ffa700"/></g>
<g transform="translate(106.1 166.3)"><path d="M-3.3 -2.2l3.3 2.2 4.5 -1.6v-19.3l-4.5 1.6 -3.3 -2.2zM0 0v-19.3"/><path class="l" d="M-3.3 -2.2L0 0v-19.3l-3.3 -2.2z"/><path d="M-3.3 -21.5L0 -19.3L4.5 -20.9L1.3 -23.1z" fill="#ffa700"/></g>
<g transform="translate(100.4 168.3)"><path d="M-3.3 -2.2l3.3 2.2 4.5 -1.6v-19.3l-4.5 1.6 -3.3 -2.2zM0 0v-19.3"/><path class="l" d="M-3.3 -2.2L0 0v-19.3l-3.3 -2.2z"/><path d="M-3.3 -21.5L0 -19.3L4.5 -20.9L1.3 -23.1z" fill="#ffa700"/></g>
<g transform="translate(94.7 170.2)"><path d="M-3.3 -2.2l3.3 2.2 4.5 -1.6v-19.3l-4.5 1.6 -3.3 -2.2zM0 0v-19.3"/><path class="l" d="M-3.3 -2.2L0 0v-19.3l-3.3 -2.2z"/><path d="M-3.3 -21.5L0 -19.3L4.5 -20.9L1.3 -23.1z" fill="#ffa700"/></g>
<g transform="translate(89.1 172.2)"><path d="M-3.3 -2.2l3.3 2.2 4.5 -1.6v-19.3l-4.5 1.6 -3.3 -2.2zM0 0v-19.3"/><path class="l" d="M-3.3 -2.2L0 0v-19.3l-3.3 -2.2z"/><path d="M-3.3 -21.5L0 -19.3L4.5 -20.9L1.3 -23.1z" fill="#ffa700"/></g>
<g transform="translate(83.4 174.2)"><path d="M-3.3 -2.2l3.3 2.2 4.5 -1.6v-19.3l-4.5 1.6 -3.3 -2.2zM0 0v-19.3"/><path class="l" d="M-3.3 -2.2L0 0v-19.3l-3.3 -2.2z"/><path d="M-3.3 -21.5L0 -19.3L4.5 -20.9L1.3 -23.1z" fill="#ffa700"/></g>
<g transform="translate(77.7 176.2)"><path d="M-3.3 -2.2l3.3 2.2 4.5 -1.6v-19.3l-4.5 1.6 -3.3 -2.2zM0 0v-19.3"/><path class="l" d="M-3.3 -2.2L0 0v-19.3l-3.3 -2.2z"/><path d="M-3.3 -21.5L0 -19.3L4.5 -20.9L1.3 -23.1z" fill="#ffa700"/></g>
<g transform="translate(72.1 178.2)"><path d="M-3.3 -2.2l3.3 2.2 4.5 -1.6v-19.3l-4.5 1.6 -3.3 -2.2zM0 0v-19.3"/><path class="l" d="M-3.3 -2.2L0 0v-19.3l-3.3 -2.2z"/><path d="M-3.3 -21.5L0 -19.3L4.5 -20.9L1.3 -23.1z" fill="#ffa700"/></g>
<g transform="translate(66.4 180.2)"><path d="M-3.3 -2.2l3.3 2.2 4.5 -1.6v-19.3l-4.5 1.6 -3.3 -2.2zM0 0v-19.3"/><path class="l" d="M-3.3 -2.2L0 0v-19.3l-3.3 -2.2z"/><path d="M-3.3 -21.5L0 -19.3L4.5 -20.9L1.3 -23.1z" fill="#ffa700"/></g>
<g transform="translate(60.7 182.2)"><path d="M-3.3 -2.2l3.3 2.2 4.5 -1.6v-19.3l-4.5 1.6 -3.3 -2.2zM0 0v-19.3"/><path class="l" d="M-3.3 -2.2L0 0v-19.3l-3.3 -2.2z"/><path d="M-3.3 -21.5L0 -19.3L4.5 -20.9L1.3 -23.1z" fill="#ffa700"/></g>
<g transform="translate(55.1 184.2)"><path d="M-3.3 -2.2l3.3 2.2 4.5 -1.6v-19.3l-4.5 1.6 -3.3 -2.2zM0 0v-19.3"/><path class="l" d="M-3.3 -2.2L0 0v-19.3l-3.3 -2.2z"/><path d="M-3.3 -21.5L0 -19.3L4.5 -20.9L1.3 -23.1z" fill="#ffa700"/></g>
<g transform="translate(115.8 167)"><path d="M-3.3 -2.2l3.3 2.2 4.5 -1.6v-19.6l-4.5 1.6 -3.3 -2.2zM0 0v-19.6"/><path class="l" d="M-3.3 -2.2L0 0v-19.6l-3.3 -2.2z"/><path d="M-3.3 -21.8L0 -19.6L4.5 -21.2L1.3 -23.4z" fill="#ffec00"/></g>
<g transform="translate(110.1 169)"><path d="M-3.3 -2.2l3.3 2.2 4.5 -1.6v-19.6l-4.5 1.6 -3.3 -2.2zM0 0v-19.6"/><path class="l" d="M-3.3 -2.2L0 0v-19.6l-3.3 -2.2z"/><path d="M-3.3 -21.8L0 -19.6L4.5 -21.2L1.3 -23.4z" fill="#ffec00"/></g>
<g transform="translate(104.5 171)"><path d="M-3.3 -2.2l3.3 2.2 4.5 -1.6v-19.6l-4.5 1.6 -3.3 -2.2zM0 0v-19.6"/><path class="l" d="M-3.3 -2.2L0 0v-19.6l-3.3 -2.2z"/><path d="M-3.3 -21.8L0 -19.6L4.5 -21.2L1.3 -23.4z" fill="#ffec00"/></g>
<g transform="translate(98.8 173)"><path d="M-3.3 -2.2l3.3 2.2 4.5 -1.6v-19.6l-4.5 1.6 -3.3 -2.2zM0 0v-19.6"/><path class="l" d="M-3.3 -2.2L0 0v-19.6l-3.3 -2.2z"/><path d="M-3.3 -21.8L0 -19.6L4.5 -21.2L1.3 -23.4z" fill="#ffec00"/></g>
<g transform="translate(93.1 175)"><path d="M-3.3 -2.2l3.3 2.2 4.5 -1.6v-19.6l-4.5 1.6 -3.3 -2.2zM0 0v-19.6"/><path class="l" d="M-3.3 -2.2L0 0v-19.6l-3.3 -2.2z"/><path d="M-3.3 -21.8L0 -19.6L4.5 -21.2L1.3 -23.4z" fill="#ffec00"/></g>
<g transform="translate(87.5 177)"><path d="M-3.3 -2.2l3.3 2.2 4.5 -1.6v-19.6l-4.5 1.6 -3.3 -2.2zM0 0v-19.6"/><path class="l" d="M-3.3 -2.2L0 0v-19.6l-3.3 -2.2z"/><path d="M-3.3 -21.8L0 -19.6L4.5 -21.2L1.3 -23.4z" fill="#ffec00"/></g>
<g transform="translate(81.8 178.9)"><path d="M-3.3 -2.2l3.3 2.2 4.5 -1.6v-19.6l-4.5 1.6 -3.3 -2.2zM0 0v-19.6"/><path class="l" d="M-3.3 -2.2L0 0v-19.6l-3.3 -2.2z"/><path d="M-3.3 -21.8L0 -19.6L4.5 -21.2L1.3 -23.4z" fill="#ffec00"/></g>
<g transform="translate(76.1 180.9)"><path d="M-3.3 -2.2l3.3 2.2 4.5 -1.6v-19.6l-4.5 1.6 -3.3 -2.2zM0 0v-19.6"/><path class="l" d="M-3.3 -2.2L0 0v-19.6l-3.3 -2.2z"/><path d="M-3.3 -21.8L0 -19.6L4.5 -21.2L1.3 -23.4z" fill="#ffec00"/></g>
<g transform="translate(70.5 182.9)"><path d="M-3.3 -2.2l3.3 2.2 4.5 -1.6v-19.6l-4.5 1.6 -3.3 -2.2zM0 0v-19.6"/><path class="l" d="M-3.3 -2.2L0 0v-19.6l-3.3 -2.2z"/><path d="M-3.3 -21.8L0 -19.6L4.5 -21.2L1.3 -23.4z" fill="#ffec00"/></g>
<g transform="translate(64.8 184.9)"><path d="M-3.3 -2.2l3.3 2.2 4.5 -1.6v-19.6l-4.5 1.6 -3.3 -2.2zM0 0v-19.6"/><path class="l" d="M-3.3 -2.2L0 0v-19.6l-3.3 -2.2z"/><path d="M-3.3 -21.8L0 -19.6L4.5 -21.2L1.3 -23.4z" fill="#ffec00"/></g>
<g transform="translate(59.2 186.9)"><path d="M-3.3 -2.2l3.3 2.2 4.5 -1.6v-19.6l-4.5 1.6 -3.3 -2.2zM0 0v-19.6"/><path class="l" d="M-3.3 -2.2L0 0v-19.6l-3.3 -2.2z"/><path d="M-3.3 -21.8L0 -19.6L4.5 -21.2L1.3 -23.4z" fill="#ffec00"/></g>
<g transform="translate(119.9 169.7)"><path d="M-3.3 -2.2l3.3 2.2 4.5 -1.6v-19.3l-4.5 1.6 -3.3 -2.2zM0 0v-19.3"/><path class="l" d="M-3.3 -2.2L0 0v-19.3l-3.3 -2.2z"/><path d="M-3.3 -21.5L0 -19.3L4.5 -20.9L1.3 -23.1z" fill="#ffe800"/></g>
<g transform="translate(114.2 171.7)"><path d="M-3.3 -2.2l3.3 2.2 4.5 -1.6v-19.3l-4.5 1.6 -3.3 -2.2zM0 0v-19.3"/><path class="l" d="M-3.3 -2.2L0 0v-19.3l-3.3 -2.2z"/><path d="M-3.3 -21.5L0 -19.3L4.5 -20.9L1.3 -23.1z" fill="#ffe800"/></g>
<g transform="translate(108.6 173.7)"><path d="M-3.3 -2.2l3.3 2.2 4.5 -1.6v-19.3l-4.5 1.6 -3.3 -2.2zM0 0v-19.3"/><path class="l" d="M-3.3 -2.2L0 0v-19.3l-3.3 -2.2z"/><path d="M-3.3 -21.5L0 -19.3L4.5 -20.9L1.3 -23.1z" fill="#ffe800"/></g>
<g transform="translate(102.9 175.7)"><path d="M-3.3 -2.2l3.3 2.2 4.5 -1.6v-19.3l-4.5 1.6 -3.3 -2.2zM0 0v-19.3"/><path class="l" d="M-3.3 -2.2L0 0v-19.3l-3.3 -2.2z"/><path d="M-3.3 -21.5L0 -19.3L4.5 -20.9L1.3 -23.1z" fill="#ffe800"/></g>
<g transform="translate(97.2 177.7)"><path d="M-3.3 -2.2l3.3 2.2 4.5 -1.6v-19.3l-4.5 1.6 -3.3 -2.2zM0 0v-19.3"/><path class="l" d="M-3.3 -2.2L0 0v-19.3l-3.3 -2.2z"/><path d="M-3.3 -21.5L0 -19.3L4.5 -20.9L1.3 -23.1z" fill="#ffe800"/></g>
<g transform="translate(91.6 179.7)"><path d="M-3.3 -2.2l3.3 2.2 4.5 -1.6v-19.3l-4.5 1.6 -3.3 -2.2zM0 0v-19.3"/><path class="l" d="M-3.3 -2.2L0 0v-19.3l-3.3 -2.2z"/><path d="M-3.3 -21.5L0 -19.3L4.5 -20.9L1.3 -23.1z" fill="#ffe800"/></g>
<g transform="translate(85.9 181.7)"><path d="M-3.3 -2.2l3.3 2.2 4.5 -1.6v-19.3l-4.5 1.6 -3.3 -2.2zM0 0v-19.3"/><path class="l" d="M-3.3 -2.2L0 0v-19.3l-3.3 -2.2z"/><path d="M-3.3 -21.5L0 -19.3L4.5 -20.9L1.3 -23.1z" fill="#ffe800"/></g>
<g transform="translate(80.2 183.7)"><path d="M-3.3 -2.2l3.3 2.2 4.5 -1.6v-19.3l-4.5 1.6 -3.3 -2.2zM0 0v-19.3"/><path class="l" d="M-3.3 -2.2L0 0v-19.3l-3.3 -2.2z"/><path d="M-3.3 -21.5L0 -19.3L4.5 -20.9L1.3 -23.1z" fill="#ffe800"/></g>
<g transform="translate(74.6 185.7)"><path d="M-3.3 -2.2l3.3 2.2 4.5 -1.6v-19.3l-4.5 1.6 -3.3 -2.2zM0 0v-19.3"/><path class="l" d="M-3.3 -2.2L0 0v-19.3l-3.3 -2.2z"/><path d="M-3.3 -21.5L0 -19.3L4.5 -20.9L1.3 -23.1z" fill="#ffe800"/></g>
<g transform="translate(68.9 187.7)"><path d="M-3.3 -2.2l3.3 2.2 4.5 -1.6v-19.3l-4.5 1.6 -3.3 -2.2zM0 0v-19.3"/><path class="l" d="M-3.3 -2.2L0 0v-19.3l-3.3 -2.2z"/><path d="M-3.3 -21.5L0 -19.3L4.5 -20.9L1.3 -23.1z" fill="#ffe800"/></g>
<g transform="translate(63.2 189.6)"><path d="M-3.3 -2.2l3.3 2.2 4.5 -1.6v-19.3l-4.5 1.6 -3.3 -2.2zM0 0v-19.3"/><path class="l" d="M-3.3 -2.2L0 0v-19.3l-3.3 -2.2z"/><path d="M-3.3 -21.5L0 -19.3L4.5 -20.9L1.3 -23.1z" fill="#ffe800"/></g>
<g transform="translate(124 172.5)"><path d="M-3.3 -2.2l3.3 2.2 4.5 -1.6v-13.5l-4.5 1.6 -3.3 -2.2zM0 0v-13.5"/><path class="l" d="M-3.3 -2.2L0 0v-13.5l-3.3 -2.2z"/><path d="M-3.3 -15.7L0 -13.5L4.5 -15.1L1.3 -17.3z" fill="#ffa300"/></g>
<g transform="translate(118.3 174.5)"><path d="M-3.3 -2.2l3.3 2.2 4.5 -1.6v-13.5l-4.5 1.6 -3.3 -2.2zM0 0v-13.5"/><path class="l" d="M-3.3 -2.2L0 0v-13.5l-3.3 -2.2z"/><path d="M-3.3 -15.7L0 -13.5L4.5 -15.1L1.3 -17.3z" fill="#ffa300"/></g>
<g transform="translate(112.6 176.4)"><path d="M-3.3 -2.2l3.3 2.2 4.5 -1.6v-13.5l-4.5 1.6 -3.3 -2.2zM0 0v-13.5"/><path class="l" d="M-3.3 -2.2L0 0v-13.5l-3.3 -2.2z"/><path d="M-3.3 -15.7L0 -13.5L4.5 -15.1L1.3 -17.3z" fill="#ffa300"/></g>
<g transform="translate(107 178.4)"><path d="M-3.3 -2.2l3.3 2.2 4.5 -1.6v-13.5l-4.5 1.6 -3.3 -2.2zM0 0v-13.5"/><path class="l" d="M-3.3 -2.2L0 0v-13.5l-3.3 -2.2z"/><path d="M-3.3 -15.7L0 -13.5L4.5 -15.1L1.3 -17.3z" fill="#ffa300"/></g>
<g transform="translate(101.3 180.4)"><path d="M-3.3 -2.2l3.3 2.2 4.5 -1.6v-13.5l-4.5 1.6 -3.3 -2.2zM0 0v-13.5"/><path class="l" d="M-3.3 -2.2L0 0v-13.5l-3.3 -2.2z"/><path d="M-3.3 -15.7L0 -13.5L4.5 -15.1L1.3 -17.3z" fill="#ffa300"/></g>
<g transform="translate(95.6 182.4)"><path d="M-3.3 -2.2l3.3 2.2 4.5 -1.6v-13.5l-4.5 1.6 -3.3 -2.2zM0 0v-13.5"/><path class="l" d="M-3.3 -2.2L0 0v-13.5l-3.3 -2.2z"/><path d="M-3.3 -15.7L0 -13.5L4.5 -15.1L1.3 -17.3z" fill="#ffa300"/></g>
<g transform="translate(90 184.4)"><path d="M-3.3 -2.2l3.3 2.2 4.5 -1.6v-13.5l-4.5 1.6 -3.3 -2.2zM0 0v-13.5"/><path class="l" d="M-3.3 -2.2L0 0v-13.5l-3.3 -2.2z"/><path d="M-3.3 -15.7L0 -13.5L4.5 -15.1L1.3 -17.3z" fill="#ffa300"/></g>
<g transform="translate(84.3 186.4)"><path d="M-3.3 -2.2l3.3 2.2 4.5 -1.6v-13.5l-4.5 1.6 -3.3 -2.2zM0 0v-13.5"/><path class="l" d="M-3.3 -2.2L0 0v-13.5l-3.3 -2.2z"/><path d="M-3.3 -15.7L0 -13.5L4.5 -15.1L1.3 -17.3z" fill="#ffa300"/></g>
<g transform="translate(78.7 188.4)"><path d="M-3.3 -2.2l3.3 2.2 4.5 -1.6v-13.5l-4.5 1.6 -3.3 -2.2zM0 0v-13.5"/><path class="l" d="M-3.3 -2.2L0 0v-13.5l-3.3 -2.2z"/><path d="M-3.3 -15.7L0 -13.5L4.5 -15.1L1.3 -17.3z" fill="#ffa300"/></g>
<g transform="translate(73 190.4)"><path d="M-3.3 -2.2l3.3 2.2 4.5 -1.6v-13.5l-4.5 1.6 -3.3 -2.2zM0 0v-13.5"/><path class="l" d="M-3.3 -2.2L0 0v-13.5l-3.3 -2.2z"/><path d="M-3.3 -15.7L0 -13.5L4.5 -15.1L1.3 -17.3z" fill="#ffa300"/></g>
<g transform="translate(67.3 192.4)"><path d="M-3.3 -2.2l3.3 2.2 4.5 -1.6v-13.5l-4.5 1.6 -3.3 -2.2zM0 0v-13.5"/><path class="l" d="M-3.3 -2.2L0 0v-13.5l-3.3 -2.2z"/><path d="M-3.3 -15.7L0 -13.5L4.5 -15.1L1.3 -17.3z" fill="#ffa300"/></g>
<g transform="translate(128.1 175.2)"><path d="M-3.3 -2.2l3.3 2.2 4.5 -1.6v-22.9l-4.5 1.6 -3.3 -2.2zM0 0v-22.9"/><path class="l" d="M-3.3 -2.2L0 0v-22.9l-3.3 -2.2z"/><path d="M-3.3 -25L0 -22.9L4.5 -24.5L1.3 -26.6z" fill="#ffff00"/></g>
<g transform="translate(122.4 177.2)"><path d="M-3.3 -2.2l3.3 2.2 4.5 -1.6v-22.6l-4.5 1.6 -3.3 -2.2zM0 0v-22.6"/><path class="l" d="M-3.3 -2.2L0 0v-22.6l-3.3 -2.2z"/><path d="M-3.3 -24.8L0 -22.6L4.5 -24.2L1.3 -26.4z" fill="#ffff00"/></g>
<g transform="translate(116.7 179.2)"><path d="M-3.3 -2.2l3.3 2.2 4.5 -1.6v-22.3l-4.5 1.6 -3.3 -2.2zM0 0v-22.3"/><path class="l" d="M-3.3 -2.2L0 0v-22.3l-3.3 -2.2z"/><path d="M-3.3 -24.5L0 -22.3L4.5 -23.9L1.3 -26.1z" fill="#ffff00"/></g>
<g transform="translate(111.1 181.2)"><path d="M-3.3 -2.2l3.3 2.2 4.5 -1.6v-22.1l-4.5 1.6 -3.3 -2.2zM0 0v-22.1"/><path class="l" d="M-3.3 -2.2L0 0v-22.1l-3.3 -2.2z"/><path d="M-3.3 -24.3L0 -22.1L4.5 -23.7L1.3 -25.9z" fill="#ffff00"/></g>
<g transform="translate(105.4 183.2)"><path d="M-3.3 -2.2l3.3 2.2 4.5 -1.6v-21.8l-4.5 1.6 -3.3 -2.2zM0 0v-21.8"/><path class="l" d="M-3.3 -2.2L0 0v-21.8l-3.3 -2.2z"/><path d="M-3.3 -24L0 -21.8L4.5 -23.4L1.3 -25.6z" fill="#ffff00"/></g>
<g transform="translate(99.7 185.1)"><path d="M-3.3 -2.2l3.3 2.2 4.5 -1.6v-21.6l-4.5 1.6 -3.3 -2.2zM0 0v-21.6"/><path class="l" d="M-3.3 -2.2L0 0v-21.6l-3.3 -2.2z"/><path d="M-3.3 -23.8L0 -21.6L4.5 -23.2L1.3 -25.3z" fill="#ffff00"/></g>
<g transform="translate(94.1 187.1)"><path d="M-3.3 -2.2l3.3 2.2 4.5 -1.6v-21.3l-4.5 1.6 -3.3 -2.2zM0 0v-21.3"/><path class="l" d="M-3.3 -2.2L0 0v-21.3l-3.3 -2.2z"/><path d="M-3.3 -23.5L0 -21.3L4.5 -22.9L1.3 -25.1z" fill="#ffff00"/></g>
<g transform="translate(88.4 189.1)"><path d="M-3.3 -2.2l3.3 2.2 4.5 -1.6v-21.1l-4.5 1.6 -3.3 -2.2zM0 0v-21.1"/><path class="l" d="M-3.3 -2.2L0 0v-21.1l-3.3 -2.2z"/><path d="M-3.3 -23.2L0 -21.1L4.5 -22.7L1.3 -24.8z" fill="#fffd00"/></g>
<g transform="translate(82.7 191.1)"><path d="M-3.3 -2.2l3.3 2.2 4.5 -1.6v-20.8l-4.5 1.6 -3.3 -2.2zM0 0v-20.8"/><path class="l" d="M-3.3 -2.2L0 0v-20.8l-3.3 -2.2z"/><path d="M-3.3 -23L0 -20.8L4.5 -22.4L1.3 -24.6z" fill="#fffa00"/></g>
<g transform="translate(77.1 193.1)"><path d="M-3.3 -2.2l3.3 2.2 4.5 -1.6v-20.5l-4.5 1.6 -3.3 -2.2zM0 0v-20.5"/><path class="l" d="M-3.3 -2.2L0 0v-20.5l-3.3 -2.2z"/><path d="M-3.3 -22.7L0 -20.5L4.5 -22.1L1.3 -24.3z" fill="#fff700"/></g>
<g transform="translate(71.4 195.1)"><path d="M-3.3 -2.2l3.3 2.2 4.5 -1.6v-20.3l-4.5 1.6 -3.3 -2.2zM0 0v-20.3"/><path class="l" d="M-3.3 -2.2L0 0v-20.3l-3.3 -2.2z"/><path d="M-3.3 -22.5L0 -20.3L4.5 -21.9L1.3 -24.1z" fill="#fff400"/></g>
</g>
<linearGradient id="cb4" x1="0" y1="1" x2="0" y2="0"><stop offset="0" stop-color="#f00"/><stop offset="1" stop-color="#ff0"/></linearGradient>
<rect x="138.6" y="118.9" width="5.2" height="94.9" fill="url(#cb4)"/>
<g class="t" font-size="2.6">
<text x="46.9" y="181" text-anchor="end">0</text>
<text x="46.9" y="174.6" text-anchor="end">0.2</text>
<text x="46.9" y="168.2" text-anchor="end">0.4</text>
<text x="46.9" y="161.7" text-anchor="end">0.6</text>
<text x="39.7" y="168.6" font-size="3.2" text-anchor="middle" transform="rotate(-90 39.7 168.6)">Boundary recall</text>
<text x="50.7" y="188.6" text-anchor="end">POL-NLT</text>
<text x="54.7" y="191.3" text-anchor="end">WS</text>
<text x="58.8" y="194" text-anchor="end">HMMS</text>
<text x="62.9" y="196.7" text-anchor="end">GMMS</text>
<text x="67" y="199.5" text-anchor="end">NC</text>
<text x="80.9" y="201" text-anchor="middle">10</text>
<text x="86.6" y="199" text-anchor="middle">11</text>
<text x="92.2" y="197" text-anchor="middle">12</text>
<text x="97.9" y="195" text-anchor="middle">13</text>
<text x="103.6" y="193" text-anchor="middle">14</text>
<text x="109.2" y="191" text-anchor="middle">15</text>
<text x="114.9" y="189" text-anchor="middle">16</text>
<text x="120.6" y="187" text-anchor="middle">17</text>
<text x="126.2" y="185" text-anchor="middle">18</text>
<text x="131.9" y="183" text-anchor="middle">19</text>
<text x="137.6" y="181.1" text-anchor="middle">20</text>
<text x="48.9" y="202.7" font-size="3.2" text-anchor="middle">Methods</text>
<text x="103.5" y="199.8" font-size="3.2" text-anchor="middle">δ</text>
<path d="M138.6 213.8h0.8M143.8 213.8h-0.8" stroke="#777" stroke-width="0.3"/>
<text x="144.4" y="215.2">0</text>
<path d="M138.6 199.4h0.8M143.8 199.4h-0.8" stroke="#777" stroke-width="0.3"/>
<text x="144.4" y="200.8">0.1</text>
<path d="M138.6 185h0.8M143.8 185h-0.8" stroke="#777" stroke-width="0.3"/>
<text x="144.4" y="186.4">0.2</text>
<path d="M138.6 170.6h0.8M143.8 170.6h-0.8" stroke="#777" stroke-width="0.3"/>
<text x="144.4" y="172">0.3</text>
<path d="M138.6 156.2h0.8M143.8 156.2h-0.8" stroke="#777" stroke-width="0.3"/>
<text x="144.4" y="157.6">0.4</text>
<path d="M138.6 141.8h0.8M143.8 141.8h-0.8" stroke="#777" stroke-width="0.3"/>
<text x="144.4" y="143.2">0.5</text>
<path d="M138.6 127.4h0.8M143.8 127.4h-0.8" stroke="#777" stroke-width="0.3"/>
<text x="144.4" y="128.8">0.6</text>
</g>
<path d="M168.2 177.6L224.6 162.1L248.5 178.2M168.2 167.8L224.6 152.3L248.5 168.4M168.2 158L224.6 142.5L248.5 158.6M170.1 177.1L170.1 152.6M170.1 177.1L193.9 193.2M175.3 175.6L175.3 151.1M175.3 175.6L199.2 191.7M180.6 174.2L180.6 149.7M180.6 174.2L204.5 190.3M185.9 172.8L185.9 148.3M185.9 172.8L209.7 188.8M191.2 171.3L191.2 146.8M191.2 171.3L215 187.4M196.4 169.9L196.4 145.4M196.4 169.9L220.3 185.9M201.7 168.4L201.7 143.9M201.7 168.4L225.5 184.5M207 167L207 142.5M207 167L230.8 183M212.2 165.5L212.2 141M212.2 165.5L236.1 181.6M217.5 164.1L217.5 139.6M217.5 164.1L241.4 180.2M222.8 162.6L222.8 138.1M222.8 162.6L246.6 178.7M228.7 164.8L228.7 140.3M172.2 180.3L228.7 164.8M232.6 167.5L232.6 143M176.2 183L232.6 167.5M236.6 170.2L236.6 145.7M180.1 185.6L236.6 170.2M240.5 172.8L240.5 148.3M184.1 188.3L240.5 172.8M244.5 175.5L244.5 151M188 191L244.5 175.5" stroke="#e2e2e2" stroke-width="0.35" fill="none"/>
<path d="M168.2 177.6L224.6 162.1M224.6 162.1L248.5 178.2M224.6 162.1L224.6 137.6M248.5 178.2L248.5 153.7M168.2 153.1L224.6 137.6M224.6 137.6L248.5 153.7" stroke="#d0d0d0" stroke-width="0.35" fill="none"/>
<path d="M168.2 177.6L192.1 193.7M192.1 193.7L248.5 178.2M168.2 177.6L168.2 153.1" stroke="#aaa" stroke-width="0.4" fill="none"/>
<linearGradient id="g5" gradientUnits="userSpaceOnUse" x1="0" y1="0" x2="0" y2="-22.9"><stop offset="0" stop-color="#f00"/><stop offset="1" stop-color="#ff0"/></linearGradient>
<g fill="url(#g5)" stroke="rgba(100,30,0,0.55)" stroke-width="0.35">
<g transform="translate(226.3 167)"><path d="M-3.2 -2.1l3.2 2.1 4.2 -1.2v-22.5l-4.2 1.2 -3.2 -2.1zM0 0v-22.5"/><path class="l" d="M-3.2 -2.1L0 0v-22.5l-3.2 -2.1z"/><path d="M-3.2 -24.7L0 -22.5L4.2 -23.7L1 -25.8z" fill="#fffb00"/></g>
<g transform="translate(221 168.4)"><path d="M-3.2 -2.1l3.2 2.1 4.2 -1.2v-22.5l-4.2 1.2 -3.2 -2.1zM0 0v-22.5"/><path class="l" d="M-3.2 -2.1L0 0v-22.5l-3.2 -2.1z"/><path d="M-3.2 -24.7L0 -22.5L4.2 -23.7L1 -25.8z" fill="#fffb00"/></g>
<g transform="translate(215.7 169.9)"><path d="M-3.2 -2.1l3.2 2.1 4.2 -1.2v-22.5l-4.2 1.2 -3.2 -2.1zM0 0v-22.5"/><path class="l" d="M-3.2 -2.1L0 0v-22.5l-3.2 -2.1z"/><path d="M-3.2 -24.7L0 -22.5L4.2 -23.7L1 -25.8z" fill="#fffb00"/></g>
<g transform="translate(210.4 171.3)"><path d="M-3.2 -2.1l3.2 2.1 4.2 -1.2v-22.5l-4.2 1.2 -3.2 -2.1zM0 0v-22.5"/><path class="l" d="M-3.2 -2.1L0 0v-22.5l-3.2 -2.1z"/><path d="M-3.2 -24.7L0 -22.5L4.2 -23.7L1 -25.8z" fill="#fffb00"/></g>
<g transform="translate(205.2 172.8)"><path d="M-3.2 -2.1l3.2 2.1 4.2 -1.2v-22.5l-4.2 1.2 -3.2 -2.1zM0 0v-22.5"/><path class="l" d="M-3.2 -2.1L0 0v-22.5l-3.2 -2.1z"/><path d="M-3.2 -24.7L0 -22.5L4.2 -23.7L1 -25.8z" fill="#fffb00"/></g>
<g transform="translate(199.9 174.2)"><path d="M-3.2 -2.1l3.2 2.1 4.2 -1.2v-22.5l-4.2 1.2 -3.2 -2.1zM0 0v-22.5"/><path class="l" d="M-3.2 -2.1L0 0v-22.5l-3.2 -2.1z"/><path d="M-3.2 -24.7L0 -22.5L4.2 -23.7L1 -25.8z" fill="#fffb00"/></g>
<g transform="translate(194.6 175.7)"><path d="M-3.2 -2.1l3.2 2.1 4.2 -1.2v-22.5l-4.2 1.2 -3.2 -2.1zM0 0v-22.5"/><path class="l" d="M-3.2 -2.1L0 0v-22.5l-3.2 -2.1z"/><path d="M-3.2 -24.7L0 -22.5L4.2 -23.7L1 -25.8z" fill="#fffb00"/></g>
<g transform="translate(189.4 177.1)"><path d="M-3.2 -2.1l3.2 2.1 4.2 -1.2v-22.5l-4.2 1.2 -3.2 -2.1zM0 0v-22.5"/><path class="l" d="M-3.2 -2.1L0 0v-22.5l-3.2 -2.1z"/><path d="M-3.2 -24.7L0 -22.5L4.2 -23.7L1 -25.8z" fill="#fffb00"/></g>
<g transform="translate(184.1 178.5)"><path d="M-3.2 -2.1l3.2 2.1 4.2 -1.2v-22.5l-4.2 1.2 -3.2 -2.1zM0 0v-22.5"/><path class="l" d="M-3.2 -2.1L0 0v-22.5l-3.2 -2.1z"/><path d="M-3.2 -24.7L0 -22.5L4.2 -23.7L1 -25.8z" fill="#fffb00"/></g>
<g transform="translate(178.8 180)"><path d="M-3.2 -2.1l3.2 2.1 4.2 -1.2v-22.5l-4.2 1.2 -3.2 -2.1zM0 0v-22.5"/><path class="l" d="M-3.2 -2.1L0 0v-22.5l-3.2 -2.1z"/><path d="M-3.2 -24.7L0 -22.5L4.2 -23.7L1 -25.8z" fill="#fffb00"/></g>
<g transform="translate(173.6 181.4)"><path d="M-3.2 -2.1l3.2 2.1 4.2 -1.2v-22.5l-4.2 1.2 -3.2 -2.1zM0 0v-22.5"/><path class="l" d="M-3.2 -2.1L0 0v-22.5l-3.2 -2.1z"/><path d="M-3.2 -24.7L0 -22.5L4.2 -23.7L1 -25.8z" fill="#fffb00"/></g>
<g transform="translate(230.2 169.7)"><path d="M-3.2 -2.1l3.2 2.1 4.2 -1.2v-20.6l-4.2 1.2 -3.2 -2.1zM0 0v-20.6"/><path class="l" d="M-3.2 -2.1L0 0v-20.6l-3.2 -2.1z"/><path d="M-3.2 -22.7L0 -20.6L4.2 -21.7L1 -23.9z" fill="#ffe500"/></g>
<g transform="translate(224.9 171.1)"><path d="M-3.2 -2.1l3.2 2.1 4.2 -1.2v-20.6l-4.2 1.2 -3.2 -2.1zM0 0v-20.6"/><path class="l" d="M-3.2 -2.1L0 0v-20.6l-3.2 -2.1z"/><path d="M-3.2 -22.7L0 -20.6L4.2 -21.7L1 -23.9z" fill="#ffe500"/></g>
<g transform="translate(219.7 172.5)"><path d="M-3.2 -2.1l3.2 2.1 4.2 -1.2v-20.6l-4.2 1.2 -3.2 -2.1zM0 0v-20.6"/><path class="l" d="M-3.2 -2.1L0 0v-20.6l-3.2 -2.1z"/><path d="M-3.2 -22.7L0 -20.6L4.2 -21.7L1 -23.8z" fill="#ffe500"/></g>
<g transform="translate(214.4 174)"><path d="M-3.2 -2.1l3.2 2.1 4.2 -1.2v-20.6l-4.2 1.2 -3.2 -2.1zM0 0v-20.6"/><path class="l" d="M-3.2 -2.1L0 0v-20.6l-3.2 -2.1z"/><path d="M-3.2 -22.7L0 -20.6L4.2 -21.7L1 -23.8z" fill="#ffe500"/></g>
<g transform="translate(209.1 175.4)"><path d="M-3.2 -2.1l3.2 2.1 4.2 -1.2v-20.5l-4.2 1.2 -3.2 -2.1zM0 0v-20.5"/><path class="l" d="M-3.2 -2.1L0 0v-20.5l-3.2 -2.1z"/><path d="M-3.2 -22.7L0 -20.5L4.2 -21.7L1 -23.8z" fill="#ffe500"/></g>
<g transform="translate(203.9 176.9)"><path d="M-3.2 -2.1l3.2 2.1 4.2 -1.2v-20.5l-4.2 1.2 -3.2 -2.1zM0 0v-20.5"/><path class="l" d="M-3.2 -2.1L0 0v-20.5l-3.2 -2.1z"/><path d="M-3.2 -22.7L0 -20.5L4.2 -21.7L1 -23.8z" fill="#ffe500"/></g>
<g transform="translate(198.6 178.3)"><path d="M-3.2 -2.1l3.2 2.1 4.2 -1.2v-20.5l-4.2 1.2 -3.2 -2.1zM0 0v-20.5"/><path class="l" d="M-3.2 -2.1L0 0v-20.5l-3.2 -2.1z"/><path d="M-3.2 -22.7L0 -20.5L4.2 -21.7L1 -23.8z" fill="#ffe500"/></g>
<g transform="translate(193.3 179.8)"><path d="M-3.2 -2.1l3.2 2.1 4.2 -1.2v-20.5l-4.2 1.2 -3.2 -2.1zM0 0v-20.5"/><path class="l" d="M-3.2 -2.1L0 0v-20.5l-3.2 -2.1z"/><path d="M-3.2 -22.6L0 -20.5L4.2 -21.7L1 -23.8z" fill="#ffe500"/></g>
<g transform="translate(188.1 181.2)"><path d="M-3.2 -2.1l3.2 2.1 4.2 -1.2v-20.5l-4.2 1.2 -3.2 -2.1zM0 0v-20.5"/><path class="l" d="M-3.2 -2.1L0 0v-20.5l-3.2 -2.1z"/><path d="M-3.2 -22.6L0 -20.5L4.2 -21.7L1 -23.8z" fill="#ffe400"/></g>
<g transform="translate(182.8 182.7)"><path d="M-3.2 -2.1l3.2 2.1 4.2 -1.2v-20.5l-4.2 1.2 -3.2 -2.1zM0 0v-20.5"/><path class="l" d="M-3.2 -2.1L0 0v-20.5l-3.2 -2.1z"/><path d="M-3.2 -22.6L0 -20.5L4.2 -21.6L1 -23.8z" fill="#ffe400"/></g>
<g transform="translate(177.5 184.1)"><path d="M-3.2 -2.1l3.2 2.1 4.2 -1.2v-20.5l-4.2 1.2 -3.2 -2.1zM0 0v-20.5"/><path class="l" d="M-3.2 -2.1L0 0v-20.5l-3.2 -2.1z"/><path d="M-3.2 -22.6L0 -20.5L4.2 -21.6L1 -23.8z" fill="#ffe400"/></g>
<g transform="translate(234.2 172.3)"><path d="M-3.2 -2.1l3.2 2.1 4.2 -1.2v-18.9l-4.2 1.2 -3.2 -2.1zM0 0v-18.9"/><path class="l" d="M-3.2 -2.1L0 0v-18.9l-3.2 -2.1z"/><path d="M-3.2 -21L0 -18.9L4.2 -20L1 -22.2z" fill="#ffd200"/></g>
<g transform="translate(228.9 173.8)"><path d="M-3.2 -2.1l3.2 2.1 4.2 -1.2v-18.8l-4.2 1.2 -3.2 -2.1zM0 0v-18.8"/><path class="l" d="M-3.2 -2.1L0 0v-18.8l-3.2 -2.1z"/><path d="M-3.2 -21L0 -18.8L4.2 -20L1 -22.1z" fill="#ffd200"/></g>
<g transform="translate(223.6 175.2)"><path d="M-3.2 -2.1l3.2 2.1 4.2 -1.2v-18.8l-4.2 1.2 -3.2 -2.1zM0 0v-18.8"/><path class="l" d="M-3.2 -2.1L0 0v-18.8l-3.2 -2.1z"/><path d="M-3.2 -20.9L0 -18.8L4.2 -20L1 -22.1z" fill="#ffd100"/></g>
<g transform="translate(218.4 176.7)"><path d="M-3.2 -2.1l3.2 2.1 4.2 -1.2v-18.8l-4.2 1.2 -3.2 -2.1zM0 0v-18.8"/><path class="l" d="M-3.2 -2.1L0 0v-18.8l-3.2 -2.1z"/><path d="M-3.2 -20.9L0 -18.8L4.2 -19.9L1 -22.1z" fill="#ffd100"/></g>
<g transform="translate(213.1 178.1)"><path d="M-3.2 -2.1l3.2 2.1 4.2 -1.2v-18.7l-4.2 1.2 -3.2 -2.1zM0 0v-18.7"/><path class="l" d="M-3.2 -2.1L0 0v-18.7l-3.2 -2.1z"/><path d="M-3.2 -20.9L0 -18.7L4.2 -19.9L1 -22z" fill="#ffd100"/></g>
<g transform="translate(207.8 179.5)"><path d="M-3.2 -2.1l3.2 2.1 4.2 -1.2v-18.7l-4.2 1.2 -3.2 -2.1zM0 0v-18.7"/><path class="l" d="M-3.2 -2.1L0 0v-18.7l-3.2 -2.1z"/><path d="M-3.2 -20.8L0 -18.7L4.2 -19.8L1 -22z" fill="#ffd000"/></g>
<g transform="translate(202.6 181)"><path d="M-3.2 -2.1l3.2 2.1 4.2 -1.2v-18.7l-4.2 1.2 -3.2 -2.1zM0 0v-18.7"/><path class="l" d="M-3.2 -2.1L0 0v-18.7l-3.2 -2.1z"/><path d="M-3.2 -20.8L0 -18.7L4.2 -19.8L1 -21.9z" fill="#ffd000"/></g>
<g transform="translate(197.3 182.4)"><path d="M-3.2 -2.1l3.2 2.1 4.2 -1.2v-18.6l-4.2 1.2 -3.2 -2.1zM0 0v-18.6"/><path class="l" d="M-3.2 -2.1L0 0v-18.6l-3.2 -2.1z"/><path d="M-3.2 -20.8L0 -18.6L4.2 -19.8L1 -21.9z" fill="#ffd000"/></g>
<g transform="translate(192 183.9)"><path d="M-3.2 -2.1l3.2 2.1 4.2 -1.2v-18.6l-4.2 1.2 -3.2 -2.1zM0 0v-18.6"/><path class="l" d="M-3.2 -2.1L0 0v-18.6l-3.2 -2.1z"/><path d="M-3.2 -20.7L0 -18.6L4.2 -19.7L1 -21.9z" fill="#ffcf00"/></g>
<g transform="translate(186.8 185.3)"><path d="M-3.2 -2.1l3.2 2.1 4.2 -1.2v-18.6l-4.2 1.2 -3.2 -2.1zM0 0v-18.6"/><path class="l" d="M-3.2 -2.1L0 0v-18.6l-3.2 -2.1z"/><path d="M-3.2 -20.7L0 -18.6L4.2 -19.7L1 -21.8z" fill="#ffcf00"/></g>
<g transform="translate(181.5 186.8)"><path d="M-3.2 -2.1l3.2 2.1 4.2 -1.2v-18.5l-4.2 1.2 -3.2 -2.1zM0 0v-18.5"/><path class="l" d="M-3.2 -2.1L0 0v-18.5l-3.2 -2.1z"/><path d="M-3.2 -20.7L0 -18.5L4.2 -19.7L1 -21.8z" fill="#ffce00"/></g>
<g transform="translate(238.1 175)"><path d="M-3.2 -2.1l3.2 2.1 4.2 -1.2v-15.6l-4.2 1.2 -3.2 -2.1zM0 0v-15.6"/><path class="l" d="M-3.2 -2.1L0 0v-15.6l-3.2 -2.1z"/><path d="M-3.2 -17.7L0 -15.6L4.2 -16.7L1 -18.9z" fill="#ffae00"/></g>
<g transform="translate(232.9 176.4)"><path d="M-3.2 -2.1l3.2 2.1 4.2 -1.2v-15.5l-4.2 1.2 -3.2 -2.1zM0 0v-15.5"/><path class="l" d="M-3.2 -2.1L0 0v-15.5l-3.2 -2.1z"/><path d="M-3.2 -17.7L0 -15.5L4.2 -16.7L1 -18.8z" fill="#ffad00"/></g>
<g transform="translate(227.6 177.9)"><path d="M-3.2 -2.1l3.2 2.1 4.2 -1.2v-15.5l-4.2 1.2 -3.2 -2.1zM0 0v-15.5"/><path class="l" d="M-3.2 -2.1L0 0v-15.5l-3.2 -2.1z"/><path d="M-3.2 -17.6L0 -15.5L4.2 -16.7L1 -18.8z" fill="#ffad00"/></g>
<g transform="translate(222.3 179.3)"><path d="M-3.2 -2.1l3.2 2.1 4.2 -1.2v-15.5l-4.2 1.2 -3.2 -2.1zM0 0v-15.5"/><path class="l" d="M-3.2 -2.1L0 0v-15.5l-3.2 -2.1z"/><path d="M-3.2 -17.6L0 -15.5L4.2 -16.6L1 -18.8z" fill="#ffac00"/></g>
<g transform="translate(217.1 180.8)"><path d="M-3.2 -2.1l3.2 2.1 4.2 -1.2v-15.4l-4.2 1.2 -3.2 -2.1zM0 0v-15.4"/><path class="l" d="M-3.2 -2.1L0 0v-15.4l-3.2 -2.1z"/><path d="M-3.2 -17.6L0 -15.4L4.2 -16.6L1 -18.7z" fill="#ffac00"/></g>
<g transform="translate(211.8 182.2)"><path d="M-3.2 -2.1l3.2 2.1 4.2 -1.2v-15.4l-4.2 1.2 -3.2 -2.1zM0 0v-15.4"/><path class="l" d="M-3.2 -2.1L0 0v-15.4l-3.2 -2.1z"/><path d="M-3.2 -17.5L0 -15.4L4.2 -16.5L1 -18.7z" fill="#ffab00"/></g>
<g transform="translate(206.5 183.7)"><path d="M-3.2 -2.1l3.2 2.1 4.2 -1.2v-15.3l-4.2 1.2 -3.2 -2.1zM0 0v-15.3"/><path class="l" d="M-3.2 -2.1L0 0v-15.3l-3.2 -2.1z"/><path d="M-3.2 -17.5L0 -15.3L4.2 -16.5L1 -18.6z" fill="#ffab00"/></g>
<g transform="translate(201.2 185.1)"><path d="M-3.2 -2.1l3.2 2.1 4.2 -1.2v-15.3l-4.2 1.2 -3.2 -2.1zM0 0v-15.3"/><path class="l" d="M-3.2 -2.1L0 0v-15.3l-3.2 -2.1z"/><path d="M-3.2 -17.4L0 -15.3L4.2 -16.5L1 -18.6z" fill="#ffab00"/></g>
<g transform="translate(196 186.5)"><path d="M-3.2 -2.1l3.2 2.1 4.2 -1.2v-15.3l-4.2 1.2 -3.2 -2.1zM0 0v-15.3"/><path class="l" d="M-3.2 -2.1L0 0v-15.3l-3.2 -2.1z"/><path d="M-3.2 -17.4L0 -15.3L4.2 -16.4L1 -18.6z" fill="#ffaa00"/></g>
<g transform="translate(190.7 188)"><path d="M-3.2 -2.1l3.2 2.1 4.2 -1.2v-15.2l-4.2 1.2 -3.2 -2.1zM0 0v-15.2"/><path class="l" d="M-3.2 -2.1L0 0v-15.2l-3.2 -2.1z"/><path d="M-3.2 -17.4L0 -15.2L4.2 -16.4L1 -18.5z" fill="#ffaa00"/></g>
<g transform="translate(185.4 189.4)"><path d="M-3.2 -2.1l3.2 2.1 4.2 -1.2v-15.2l-4.2 1.2 -3.2 -2.1zM0 0v-15.2"/><path class="l" d="M-3.2 -2.1L0 0v-15.2l-3.2 -2.1z"/><path d="M-3.2 -17.3L0 -15.2L4.2 -16.3L1 -18.5z" fill="#ffa900"/></g>
<g transform="translate(242.1 177.7)"><path d="M-3.2 -2.1l3.2 2.1 4.2 -1.2v-16.9l-4.2 1.2 -3.2 -2.1zM0 0v-16.9"/><path class="l" d="M-3.2 -2.1L0 0v-16.9l-3.2 -2.1z"/><path d="M-3.2 -19L0 -16.9L4.2 -18.1L1 -20.2z" fill="#ffbc00"/></g>
<g transform="translate(236.8 179.1)"><path d="M-3.2 -2.1l3.2 2.1 4.2 -1.2v-16.8l-4.2 1.2 -3.2 -2.1zM0 0v-16.8"/><path class="l" d="M-3.2 -2.1L0 0v-16.8l-3.2 -2.1z"/><path d="M-3.2 -19L0 -16.8L4.2 -18L1 -20.1z" fill="#ffbb00"/></g>
<g transform="translate(231.5 180.5)"><path d="M-3.2 -2.1l3.2 2.1 4.2 -1.2v-16.7l-4.2 1.2 -3.2 -2.1zM0 0v-16.7"/><path class="l" d="M-3.2 -2.1L0 0v-16.7l-3.2 -2.1z"/><path d="M-3.2 -18.9L0 -16.7L4.2 -17.9L1 -20z" fill="#ffbb00"/></g>
<g transform="translate(226.3 182)"><path d="M-3.2 -2.1l3.2 2.1 4.2 -1.2v-16.7l-4.2 1.2 -3.2 -2.1zM0 0v-16.7"/><path class="l" d="M-3.2 -2.1L0 0v-16.7l-3.2 -2.1z"/><path d="M-3.2 -18.8L0 -16.7L4.2 -17.8L1 -19.9z" fill="#ffba00"/></g>
<g transform="translate(221 183.4)"><path d="M-3.2 -2.1l3.2 2.1 4.2 -1.2v-16.6l-4.2 1.2 -3.2 -2.1zM0 0v-16.6"/><path class="l" d="M-3.2 -2.1L0 0v-16.6l-3.2 -2.1z"/><path d="M-3.2 -18.7L0 -16.6L4.2 -17.7L1 -19.9z" fill="#ffb900"/></g>
<g transform="translate(215.7 184.9)"><path d="M-3.2 -2.1l3.2 2.1 4.2 -1.2v-16.5l-4.2 1.2 -3.2 -2.1zM0 0v-16.5"/><path class="l" d="M-3.2 -2.1L0 0v-16.5l-3.2 -2.1z"/><path d="M-3.2 -18.6L0 -16.5L4.2 -17.6L1 -19.8z" fill="#ffb800"/></g>
<g transform="translate(210.5 186.3)"><path d="M-3.2 -2.1l3.2 2.1 4.2 -1.2v-16.4l-4.2 1.2 -3.2 -2.1zM0 0v-16.4"/><path class="l" d="M-3.2 -2.1L0 0v-16.4l-3.2 -2.1z"/><path d="M-3.2 -18.5L0 -16.4L4.2 -17.6L1 -19.7z" fill="#ffb700"/></g>
<g transform="translate(205.2 187.8)"><path d="M-3.2 -2.1l3.2 2.1 4.2 -1.2v-16.3l-4.2 1.2 -3.2 -2.1zM0 0v-16.3"/><path class="l" d="M-3.2 -2.1L0 0v-16.3l-3.2 -2.1z"/><path d="M-3.2 -18.5L0 -16.3L4.2 -17.5L1 -19.6z" fill="#ffb600"/></g>
<g transform="translate(199.9 189.2)"><path d="M-3.2 -2.1l3.2 2.1 4.2 -1.2v-16.2l-4.2 1.2 -3.2 -2.1zM0 0v-16.2"/><path class="l" d="M-3.2 -2.1L0 0v-16.2l-3.2 -2.1z"/><path d="M-3.2 -18.4L0 -16.2L4.2 -17.4L1 -19.5z" fill="#ffb500"/></g>
<g transform="translate(194.7 190.7)"><path d="M-3.2 -2.1l3.2 2.1 4.2 -1.2v-16.2l-4.2 1.2 -3.2 -2.1zM0 0v-16.2"/><path class="l" d="M-3.2 -2.1L0 0v-16.2l-3.2 -2.1z"/><path d="M-3.2 -18.3L0 -16.2L4.2 -17.3L1 -19.4z" fill="#ffb400"/></g>
<g transform="translate(189.4 192.1)"><path d="M-3.2 -2.1l3.2 2.1 4.2 -1.2v-16.1l-4.2 1.2 -3.2 -2.1zM0 0v-16.1"/><path class="l" d="M-3.2 -2.1L0 0v-16.1l-3.2 -2.1z"/><path d="M-3.2 -18.2L0 -16.1L4.2 -17.2L1 -19.4z" fill="#ffb300"/></g>
</g>
<linearGradient id="cb5" x1="0" y1="1" x2="0" y2="0"><stop offset="0" stop-color="#f00"/><stop offset="1" stop-color="#ff0"/></linearGradient>
<rect x="252.3" y="119.3" width="4.5" height="90.5" fill="url(#cb5)"/>
<g class="t" font-size="2.7">
<text x="166.4" y="178.6" text-anchor="end">0</text>
<text x="166.4" y="168.8" text-anchor="end">200</text>
<text x="166.4" y="159" text-anchor="end">400</text>
<text x="158.2" y="166.6" font-size="3.35" text-anchor="middle" transform="rotate(-90 158.2 166.6)">Running Time(s)</text>
<text x="169.6" y="185.7" text-anchor="end">POL-NLT</text>
<text x="173.6" y="188.4" text-anchor="end">WS</text>
<text x="177.5" y="191" text-anchor="end">HMMS</text>
<text x="181.5" y="193.7" text-anchor="end">GMMS</text>
<text x="185.4" y="196.4" text-anchor="end">NC</text>
<text x="198.2" y="197.9" text-anchor="middle">10</text>
<text x="203.5" y="196.4" text-anchor="middle">11</text>
<text x="208.8" y="195" text-anchor="middle">12</text>
<text x="214" y="193.5" text-anchor="middle">13</text>
<text x="219.3" y="192.1" text-anchor="middle">14</text>
<text x="224.6" y="190.6" text-anchor="middle">15</text>
<text x="229.8" y="189.2" text-anchor="middle">16</text>
<text x="235.1" y="187.7" text-anchor="middle">17</text>
<text x="240.4" y="186.3" text-anchor="middle">18</text>
<text x="245.7" y="184.9" text-anchor="middle">19</text>
<text x="250.9" y="183.4" text-anchor="middle">20</text>
<text x="166.9" y="199.7" font-size="3.35" text-anchor="middle">Methods</text>
<text x="219.4" y="199.8" font-size="3.35" text-anchor="middle">δ</text>
<path d="M252.3 209.8h0.8M256.8 209.8h-0.8" stroke="#777" stroke-width="0.3"/>
<text x="257.4" y="211.3">0</text>
<path d="M252.3 200.1h0.8M256.8 200.1h-0.8" stroke="#777" stroke-width="0.3"/>
<text x="257.4" y="201.6">50</text>
<path d="M252.3 190.4h0.8M256.8 190.4h-0.8" stroke="#777" stroke-width="0.3"/>
<text x="257.4" y="191.9">100</text>
<path d="M252.3 180.7h0.8M256.8 180.7h-0.8" stroke="#777" stroke-width="0.3"/>
<text x="257.4" y="182.2">150</text>
<path d="M252.3 171h0.8M256.8 171h-0.8" stroke="#777" stroke-width="0.3"/>
<text x="257.4" y="172.5">200</text>
<path d="M252.3 161.4h0.8M256.8 161.4h-0.8" stroke="#777" stroke-width="0.3"/>
<text x="257.4" y="162.8">250</text>
<path d="M252.3 151.7h0.8M256.8 151.7h-0.8" stroke="#777" stroke-width="0.3"/>
<text x="257.4" y="153.1">300</text>
<path d="M252.3 142h0.8M256.8 142h-0.8" stroke="#777" stroke-width="0.3"/>
<text x="257.4" y="143.4">350</text>
<path d="M252.3 132.3h0.8M256.8 132.3h-0.8" stroke="#777" stroke-width="0.3"/>
<text x="257.4" y="133.8">400</text>
<path d="M252.3 122.6h0.8M256.8 122.6h-0.8" stroke="#777" stroke-width="0.3"/>
<text x="257.4" y="124.1">450</text>
</g>
<path d="M287.5 180L343.5 158.8L367.9 175.8M287.5 172.7L343.5 151.4L367.9 168.5M287.5 165.3L343.5 144.1L367.9 161.1M287.5 158L343.5 136.8L367.9 153.8M288.1 179.8L288.1 154.1M288.1 179.8L312.5 196.8M293.6 177.7L293.6 152M293.6 177.7L318 194.7M299.1 175.6L299.1 149.9M299.1 175.6L323.5 192.6M304.6 173.5L304.6 147.8M304.6 173.5L329 190.6M310 171.5L310 145.8M310 171.5L334.4 188.5M315.5 169.4L315.5 143.7M315.5 169.4L339.9 186.4M321 167.3L321 141.6M321 167.3L345.4 184.3M326.4 165.2L326.4 139.6M326.4 165.2L350.8 182.3M331.9 163.2L331.9 137.5M331.9 163.2L356.3 180.2M337.4 161.1L337.4 135.4M337.4 161.1L361.8 178.1M342.9 159L342.9 133.3M342.9 159L367.3 176M347.6 161.6L347.6 135.9M291.6 182.8L347.6 161.6M351.6 164.5L351.6 138.8M295.6 185.7L351.6 164.5M355.7 167.3L355.7 141.6M299.7 188.5L355.7 167.3M359.8 170.1L359.8 144.4M303.8 191.3L359.8 170.1M363.8 173L363.8 147.3M307.8 194.2L363.8 173" stroke="#e2e2e2" stroke-width="0.35" fill="none"/>
<path d="M287.5 180L343.5 158.8M343.5 158.8L367.9 175.8M343.5 158.8L343.5 133.1M367.9 175.8L367.9 150.1M287.5 154.3L343.5 133.1M343.5 133.1L367.9 150.1" stroke="#d0d0d0" stroke-width="0.35" fill="none"/>
<path d="M287.5 180L311.9 197M311.9 197L367.9 175.8M287.5 180L287.5 154.3" stroke="#aaa" stroke-width="0.4" fill="none"/>
<linearGradient id="g6" gradientUnits="userSpaceOnUse" x1="0" y1="0" x2="0" y2="-25"><stop offset="0" stop-color="#f00"/><stop offset="1" stop-color="#ff0"/></linearGradient>
<g fill="url(#g6)" stroke="rgba(100,30,0,0.55)" stroke-width="0.35">
<g transform="translate(346.4 163.8)"><path d="M-3.2 -2.3l3.2 2.3 4.4 -1.7v-20.9l-4.4 1.7 -3.2 -2.3zM0 0v-20.9"/><path class="l" d="M-3.2 -2.3L0 0v-20.9l-3.2 -2.3z"/><path d="M-3.2 -23.2L0 -20.9L4.4 -22.6L1.1 -24.8z" fill="#ffff00"/></g>
<g transform="translate(340.9 165.9)"><path d="M-3.2 -2.3l3.2 2.3 4.4 -1.7v-20.2l-4.4 1.7 -3.2 -2.3zM0 0v-20.2"/><path class="l" d="M-3.2 -2.3L0 0v-20.2l-3.2 -2.3z"/><path d="M-3.2 -22.5L0 -20.2L4.4 -21.8L1.1 -24.1z" fill="#fff300"/></g>
<g transform="translate(335.4 168)"><path d="M-3.2 -2.3l3.2 2.3 4.4 -1.7v-19.1l-4.4 1.7 -3.2 -2.3zM0 0v-19.1"/><path class="l" d="M-3.2 -2.3L0 0v-19.1l-3.2 -2.3z"/><path d="M-3.2 -21.4L0 -19.1L4.4 -20.7L1.1 -23z" fill="#ffe200"/></g>
<g transform="translate(330 170)"><path d="M-3.2 -2.3l3.2 2.3 4.4 -1.7v-18l-4.4 1.7 -3.2 -2.3zM0 0v-18"/><path class="l" d="M-3.2 -2.3L0 0v-18l-3.2 -2.3z"/><path d="M-3.2 -20.2L0 -18L4.4 -19.6L1.1 -21.9z" fill="#ffd100"/></g>
<g transform="translate(324.5 172.1)"><path d="M-3.2 -2.3l3.2 2.3 4.4 -1.7v-16.9l-4.4 1.7 -3.2 -2.3zM0 0v-16.9"/><path class="l" d="M-3.2 -2.3L0 0v-16.9l-3.2 -2.3z"/><path d="M-3.2 -19.1L0 -16.9L4.4 -18.5L1.1 -20.8z" fill="#ffc100"/></g>
<g transform="translate(319 174.2)"><path d="M-3.2 -2.3l3.2 2.3 4.4 -1.7v-15.8l-4.4 1.7 -3.2 -2.3zM0 0v-15.8"/><path class="l" d="M-3.2 -2.3L0 0v-15.8l-3.2 -2.3z"/><path d="M-3.2 -18L0 -15.8L4.4 -17.4L1.1 -19.7z" fill="#ffb100"/></g>
<g transform="translate(313.5 176.3)"><path d="M-3.2 -2.3l3.2 2.3 4.4 -1.7v-15l-4.4 1.7 -3.2 -2.3zM0 0v-15"/><path class="l" d="M-3.2 -2.3L0 0v-15l-3.2 -2.3z"/><path d="M-3.2 -17.3L0 -15L4.4 -16.7L1.1 -19z" fill="#ffa600"/></g>
<g transform="translate(308.1 178.3)"><path d="M-3.2 -2.3l3.2 2.3 4.4 -1.7v-14.7l-4.4 1.7 -3.2 -2.3zM0 0v-14.7"/><path class="l" d="M-3.2 -2.3L0 0v-14.7l-3.2 -2.3z"/><path d="M-3.2 -16.9L0 -14.7L4.4 -16.3L1.1 -18.6z" fill="#ff9f00"/></g>
<g transform="translate(302.6 180.4)"><path d="M-3.2 -2.3l3.2 2.3 4.4 -1.7v-14.7l-4.4 1.7 -3.2 -2.3zM0 0v-14.7"/><path class="l" d="M-3.2 -2.3L0 0v-14.7l-3.2 -2.3z"/><path d="M-3.2 -16.9L0 -14.7L4.4 -16.3L1.1 -18.6z" fill="#ff9c00"/></g>
<g transform="translate(297.1 182.5)"><path d="M-3.2 -2.3l3.2 2.3 4.4 -1.7v-14.3l-4.4 1.7 -3.2 -2.3zM0 0v-14.3"/><path class="l" d="M-3.2 -2.3L0 0v-14.3l-3.2 -2.3z"/><path d="M-3.2 -16.6L0 -14.3L4.4 -16L1.1 -18.2z" fill="#ff9500"/></g>
<g transform="translate(291.6 184.6)"><path d="M-3.2 -2.3l3.2 2.3 4.4 -1.7v-14.3l-4.4 1.7 -3.2 -2.3zM0 0v-14.3"/><path class="l" d="M-3.2 -2.3L0 0v-14.3l-3.2 -2.3z"/><path d="M-3.2 -16.6L0 -14.3L4.4 -16L1.1 -18.2z" fill="#ff9200"/></g>
<g transform="translate(350.4 166.7)"><path d="M-3.3 -2.3l3.3 2.3 4.4 -1.7v-19.8l-4.4 1.7 -3.3 -2.3zM0 0v-19.8"/><path class="l" d="M-3.3 -2.3L0 0v-19.8l-3.3 -2.3z"/><path d="M-3.3 -22.1L0 -19.8L4.4 -21.5L1.1 -23.7z" fill="#ffe900"/></g>
<g transform="translate(345 168.7)"><path d="M-3.2 -2.3l3.2 2.3 4.4 -1.7v-19.1l-4.4 1.7 -3.2 -2.3zM0 0v-19.1"/><path class="l" d="M-3.2 -2.3L0 0v-19.1l-3.2 -2.3z"/><path d="M-3.2 -21.4L0 -19.1L4.4 -20.7L1.1 -23z" fill="#ffdd00"/></g>
<g transform="translate(339.5 170.8)"><path d="M-3.3 -2.3l3.3 2.3 4.4 -1.7v-18l-4.4 1.7 -3.3 -2.3zM0 0v-18"/><path class="l" d="M-3.3 -2.3L0 0v-18l-3.3 -2.3z"/><path d="M-3.3 -20.2L0 -18L4.4 -19.6L1.1 -21.9z" fill="#ffce00"/></g>
<g transform="translate(334 172.9)"><path d="M-3.2 -2.3l3.2 2.3 4.4 -1.7v-16.9l-4.4 1.7 -3.2 -2.3zM0 0v-16.9"/><path class="l" d="M-3.2 -2.3L0 0v-16.9l-3.2 -2.3z"/><path d="M-3.2 -19.1L0 -16.9L4.4 -18.5L1.1 -20.8z" fill="#ffbf00"/></g>
<g transform="translate(328.5 175)"><path d="M-3.2 -2.3l3.2 2.3 4.4 -1.7v-16.1l-4.4 1.7 -3.2 -2.3zM0 0v-16.1"/><path class="l" d="M-3.2 -2.3L0 0v-16.1l-3.2 -2.3z"/><path d="M-3.2 -18.4L0 -16.1L4.4 -17.8L1.1 -20.1z" fill="#ffb400"/></g>
<g transform="translate(323.1 177)"><path d="M-3.2 -2.3l3.2 2.3 4.4 -1.7v-15.4l-4.4 1.7 -3.2 -2.3zM0 0v-15.4"/><path class="l" d="M-3.2 -2.3L0 0v-15.4l-3.2 -2.3z"/><path d="M-3.2 -17.7L0 -15.4L4.4 -17.1L1.1 -19.3z" fill="#ffa900"/></g>
<g transform="translate(317.6 179.1)"><path d="M-3.2 -2.3l3.2 2.3 4.4 -1.7v-15l-4.4 1.7 -3.2 -2.3zM0 0v-15"/><path class="l" d="M-3.2 -2.3L0 0v-15l-3.2 -2.3z"/><path d="M-3.2 -17.3L0 -15L4.4 -16.7L1.1 -19z" fill="#ffa300"/></g>
<g transform="translate(312.1 181.2)"><path d="M-3.2 -2.3l3.2 2.3 4.4 -1.7v-14.7l-4.4 1.7 -3.2 -2.3zM0 0v-14.7"/><path class="l" d="M-3.2 -2.3L0 0v-14.7l-3.2 -2.3z"/><path d="M-3.2 -16.9L0 -14.7L4.4 -16.3L1.1 -18.6z" fill="#ff9d00"/></g>
<g transform="translate(306.7 183.3)"><path d="M-3.2 -2.3l3.2 2.3 4.4 -1.7v-14.7l-4.4 1.7 -3.2 -2.3zM0 0v-14.7"/><path class="l" d="M-3.2 -2.3L0 0v-14.7l-3.2 -2.3z"/><path d="M-3.2 -16.9L0 -14.7L4.4 -16.3L1.1 -18.6z" fill="#ff9b00"/></g>
<g transform="translate(301.2 185.3)"><path d="M-3.2 -2.3l3.2 2.3 4.4 -1.7v-14.3l-4.4 1.7 -3.2 -2.3zM0 0v-14.3"/><path class="l" d="M-3.2 -2.3L0 0v-14.3l-3.2 -2.3z"/><path d="M-3.2 -16.6L0 -14.3L4.4 -16L1.1 -18.2z" fill="#ff9400"/></g>
<g transform="translate(295.7 187.4)"><path d="M-3.2 -2.3l3.2 2.3 4.4 -1.7v-14.3l-4.4 1.7 -3.2 -2.3zM0 0v-14.3"/><path class="l" d="M-3.2 -2.3L0 0v-14.3l-3.2 -2.3z"/><path d="M-3.2 -16.6L0 -14.3L4.4 -16L1.1 -18.2z" fill="#ff9200"/></g>
<g transform="translate(354.5 169.5)"><path d="M-3.3 -2.3l3.3 2.3 4.4 -1.7v-18.4l-4.4 1.7 -3.3 -2.3zM0 0v-18.4"/><path class="l" d="M-3.3 -2.3L0 0v-18.4l-3.3 -2.3z"/><path d="M-3.3 -20.6L0 -18.4L4.4 -20L1.1 -22.3z" fill="#ffb200"/></g>
<g transform="translate(349 171.6)"><path d="M-3.2 -2.3l3.2 2.3 4.4 -1.7v-18l-4.4 1.7 -3.2 -2.3zM0 0v-18"/><path class="l" d="M-3.2 -2.3L0 0v-18l-3.2 -2.3z"/><path d="M-3.2 -20.2L0 -18L4.4 -19.6L1.1 -21.9z" fill="#ffaf00"/></g>
<g transform="translate(343.6 173.6)"><path d="M-3.2 -2.3l3.2 2.3 4.4 -1.7v-17.6l-4.4 1.7 -3.2 -2.3zM0 0v-17.6"/><path class="l" d="M-3.2 -2.3L0 0v-17.6l-3.2 -2.3z"/><path d="M-3.2 -19.9L0 -17.6L4.4 -19.3L1.1 -21.5z" fill="#ffad00"/></g>
<g transform="translate(338.1 175.7)"><path d="M-3.2 -2.3l3.2 2.3 4.4 -1.7v-17.2l-4.4 1.7 -3.2 -2.3zM0 0v-17.2"/><path class="l" d="M-3.2 -2.3L0 0v-17.2l-3.2 -2.3z"/><path d="M-3.2 -19.5L0 -17.2L4.4 -18.9L1.1 -21.2z" fill="#ffaa00"/></g>
<g transform="translate(332.6 177.8)"><path d="M-3.3 -2.3l3.3 2.3 4.4 -1.7v-16.9l-4.4 1.7 -3.3 -2.3zM0 0v-16.9"/><path class="l" d="M-3.3 -2.3L0 0v-16.9l-3.3 -2.3z"/><path d="M-3.3 -19.1L0 -16.9L4.4 -18.5L1.1 -20.8z" fill="#ffa700"/></g>
<g transform="translate(327.1 179.9)"><path d="M-3.3 -2.3l3.3 2.3 4.4 -1.7v-16.5l-4.4 1.7 -3.3 -2.3zM0 0v-16.5"/><path class="l" d="M-3.3 -2.3L0 0v-16.5l-3.3 -2.3z"/><path d="M-3.3 -18.8L0 -16.5L4.4 -18.2L1.1 -20.4z" fill="#ffa500"/></g>
<g transform="translate(321.7 181.9)"><path d="M-3.2 -2.3l3.2 2.3 4.4 -1.7v-16.1l-4.4 1.7 -3.2 -2.3zM0 0v-16.1"/><path class="l" d="M-3.2 -2.3L0 0v-16.1l-3.2 -2.3z"/><path d="M-3.2 -18.4L0 -16.1L4.4 -17.8L1.1 -20.1z" fill="#ffa200"/></g>
<g transform="translate(316.2 184)"><path d="M-3.3 -2.3l3.3 2.3 4.4 -1.7v-15.8l-4.4 1.7 -3.3 -2.3zM0 0v-15.8"/><path class="l" d="M-3.3 -2.3L0 0v-15.8l-3.3 -2.3z"/><path d="M-3.3 -18L0 -15.8L4.4 -17.4L1.1 -19.7z" fill="#ff9f00"/></g>
<g transform="translate(310.7 186.1)"><path d="M-3.2 -2.3l3.2 2.3 4.4 -1.7v-15.4l-4.4 1.7 -3.2 -2.3zM0 0v-15.4"/><path class="l" d="M-3.2 -2.3L0 0v-15.4l-3.2 -2.3z"/><path d="M-3.2 -17.7L0 -15.4L4.4 -17.1L1.1 -19.3z" fill="#ff9c00"/></g>
<g transform="translate(305.2 188.2)"><path d="M-3.2 -2.3l3.2 2.3 4.4 -1.7v-15l-4.4 1.7 -3.2 -2.3zM0 0v-15"/><path class="l" d="M-3.2 -2.3L0 0v-15l-3.2 -2.3z"/><path d="M-3.2 -17.3L0 -15L4.4 -16.7L1.1 -19z" fill="#ff9900"/></g>
<g transform="translate(299.8 190.2)"><path d="M-3.2 -2.3l3.2 2.3 4.4 -1.7v-14.7l-4.4 1.7 -3.2 -2.3zM0 0v-14.7"/><path class="l" d="M-3.2 -2.3L0 0v-14.7l-3.2 -2.3z"/><path d="M-3.2 -16.9L0 -14.7L4.4 -16.3L1.1 -18.6z" fill="#ff9600"/></g>
<g transform="translate(358.6 172.3)"><path d="M-3.2 -2.3l3.2 2.3 4.4 -1.7v-18.4l-4.4 1.7 -3.2 -2.3zM0 0v-18.4"/><path class="l" d="M-3.2 -2.3L0 0v-18.4l-3.2 -2.3z"/><path d="M-3.2 -20.6L0 -18.4L4.4 -20L1.1 -22.3z" fill="#ffac00"/></g>
<g transform="translate(353.1 174.4)"><path d="M-3.3 -2.3l3.3 2.3 4.4 -1.7v-18l-4.4 1.7 -3.3 -2.3zM0 0v-18"/><path class="l" d="M-3.3 -2.3L0 0v-18l-3.3 -2.3z"/><path d="M-3.3 -20.3L0 -18L4.4 -19.7L1.1 -21.9z" fill="#ffab00"/></g>
<g transform="translate(347.6 176.5)"><path d="M-3.3 -2.3l3.3 2.3 4.4 -1.7v-17.7l-4.4 1.7 -3.3 -2.3zM0 0v-17.7"/><path class="l" d="M-3.3 -2.3L0 0v-17.7l-3.3 -2.3z"/><path d="M-3.3 -20L0 -17.7L4.4 -19.3L1.1 -21.6z" fill="#ffa900"/></g>
<g transform="translate(342.1 178.5)"><path d="M-3.3 -2.3l3.3 2.3 4.4 -1.7v-17.4l-4.4 1.7 -3.3 -2.3zM0 0v-17.4"/><path class="l" d="M-3.3 -2.3L0 0v-17.4l-3.3 -2.3z"/><path d="M-3.3 -19.6L0 -17.4L4.4 -19L1.1 -21.3z" fill="#ffa700"/></g>
<g transform="translate(336.7 180.6)"><path d="M-3.3 -2.3l3.3 2.3 4.4 -1.7v-17l-4.4 1.7 -3.3 -2.3zM0 0v-17"/><path class="l" d="M-3.3 -2.3L0 0v-17l-3.3 -2.3z"/><path d="M-3.3 -19.3L0 -17L4.4 -18.7L1.1 -21z" fill="#ffa600"/></g>
<g transform="translate(331.2 182.7)"><path d="M-3.3 -2.3l3.3 2.3 4.4 -1.7v-16.7l-4.4 1.7 -3.3 -2.3zM0 0v-16.7"/><path class="l" d="M-3.3 -2.3L0 0v-16.7l-3.3 -2.3z"/><path d="M-3.3 -19L0 -16.7L4.4 -18.4L1.1 -20.6z" fill="#ffa400"/></g>
<g transform="translate(325.7 184.8)"><path d="M-3.3 -2.3l3.3 2.3 4.4 -1.7v-16.4l-4.4 1.7 -3.3 -2.3zM0 0v-16.4"/><path class="l" d="M-3.3 -2.3L0 0v-16.4l-3.3 -2.3z"/><path d="M-3.3 -18.6L0 -16.4L4.4 -18L1.1 -20.3z" fill="#ffa200"/></g>
<g transform="translate(320.3 186.8)"><path d="M-3.2 -2.3l3.2 2.3 4.4 -1.7v-16l-4.4 1.7 -3.2 -2.3zM0 0v-16"/><path class="l" d="M-3.2 -2.3L0 0v-16l-3.2 -2.3z"/><path d="M-3.2 -18.3L0 -16L4.4 -17.7L1.1 -20z" fill="#ffa000"/></g>
<g transform="translate(314.8 188.9)"><path d="M-3.2 -2.3l3.2 2.3 4.4 -1.7v-15.7l-4.4 1.7 -3.2 -2.3zM0 0v-15.7"/><path class="l" d="M-3.2 -2.3L0 0v-15.7l-3.2 -2.3z"/><path d="M-3.2 -18L0 -15.7L4.4 -17.4L1.1 -19.6z" fill="#ff9e00"/></g>
<g transform="translate(309.3 191)"><path d="M-3.2 -2.3l3.2 2.3 4.4 -1.7v-15.4l-4.4 1.7 -3.2 -2.3zM0 0v-15.4"/><path class="l" d="M-3.2 -2.3L0 0v-15.4l-3.2 -2.3z"/><path d="M-3.2 -17.6L0 -15.4L4.4 -17L1.1 -19.3z" fill="#ff9c00"/></g>
<g transform="translate(303.8 193.1)"><path d="M-3.2 -2.3l3.2 2.3 4.4 -1.7v-15l-4.4 1.7 -3.2 -2.3zM0 0v-15"/><path class="l" d="M-3.2 -2.3L0 0v-15l-3.2 -2.3z"/><path d="M-3.2 -17.3L0 -15L4.4 -16.7L1.1 -19z" fill="#ff9a00"/></g>
<g transform="translate(362.6 175.2)"><path d="M-3.2 -2.3l3.2 2.3 4.4 -1.7v-20.2l-4.4 1.7 -3.2 -2.3zM0 0v-20.2"/><path class="l" d="M-3.2 -2.3L0 0v-20.2l-3.2 -2.3z"/><path d="M-3.2 -22.5L0 -20.2L4.4 -21.8L1.1 -24.1z" fill="#ffba00"/></g>
<g transform="translate(357.1 177.2)"><path d="M-3.2 -2.3l3.2 2.3 4.4 -1.7v-19.7l-4.4 1.7 -3.2 -2.3zM0 0v-19.7"/><path class="l" d="M-3.2 -2.3L0 0v-19.7l-3.2 -2.3z"/><path d="M-3.2 -22L0 -19.7L4.4 -21.4L1.1 -23.6z" fill="#ffb700"/></g>
<g transform="translate(351.7 179.3)"><path d="M-3.2 -2.3l3.2 2.3 4.4 -1.7v-19.2l-4.4 1.7 -3.2 -2.3zM0 0v-19.2"/><path class="l" d="M-3.2 -2.3L0 0v-19.2l-3.2 -2.3z"/><path d="M-3.2 -21.5L0 -19.2L4.4 -20.9L1.1 -23.2z" fill="#ffb500"/></g>
<g transform="translate(346.2 181.4)"><path d="M-3.2 -2.3l3.2 2.3 4.4 -1.7v-18.8l-4.4 1.7 -3.2 -2.3zM0 0v-18.8"/><path class="l" d="M-3.2 -2.3L0 0v-18.8l-3.2 -2.3z"/><path d="M-3.2 -21L0 -18.8L4.4 -20.4L1.1 -22.7z" fill="#ffb200"/></g>
<g transform="translate(340.7 183.5)"><path d="M-3.2 -2.3l3.2 2.3 4.4 -1.7v-18.3l-4.4 1.7 -3.2 -2.3zM0 0v-18.3"/><path class="l" d="M-3.2 -2.3L0 0v-18.3l-3.2 -2.3z"/><path d="M-3.2 -20.5L0 -18.3L4.4 -19.9L1.1 -22.2z" fill="#ffb000"/></g>
<g transform="translate(335.3 185.5)"><path d="M-3.2 -2.3l3.2 2.3 4.4 -1.7v-17.8l-4.4 1.7 -3.2 -2.3zM0 0v-17.8"/><path class="l" d="M-3.2 -2.3L0 0v-17.8l-3.2 -2.3z"/><path d="M-3.2 -20.1L0 -17.8L4.4 -19.5L1.1 -21.7z" fill="#ffad00"/></g>
<g transform="translate(329.8 187.6)"><path d="M-3.2 -2.3l3.2 2.3 4.4 -1.7v-17.3l-4.4 1.7 -3.2 -2.3zM0 0v-17.3"/><path class="l" d="M-3.2 -2.3L0 0v-17.3l-3.2 -2.3z"/><path d="M-3.2 -19.6L0 -17.3L4.4 -19L1.1 -21.2z" fill="#ffaa00"/></g>
<g transform="translate(324.3 189.7)"><path d="M-3.2 -2.3l3.2 2.3 4.4 -1.7v-16.8l-4.4 1.7 -3.2 -2.3zM0 0v-16.8"/><path class="l" d="M-3.2 -2.3L0 0v-16.8l-3.2 -2.3z"/><path d="M-3.2 -19.1L0 -16.8L4.4 -18.5L1.1 -20.8z" fill="#ffa700"/></g>
<g transform="translate(318.8 191.8)"><path d="M-3.3 -2.3l3.3 2.3 4.4 -1.7v-16.4l-4.4 1.7 -3.3 -2.3zM0 0v-16.4"/><path class="l" d="M-3.3 -2.3L0 0v-16.4l-3.3 -2.3z"/><path d="M-3.3 -18.6L0 -16.4L4.4 -18L1.1 -20.3z" fill="#ffa400"/></g>
<g transform="translate(313.4 193.8)"><path d="M-3.2 -2.3l3.2 2.3 4.4 -1.7v-15.9l-4.4 1.7 -3.2 -2.3zM0 0v-15.9"/><path class="l" d="M-3.2 -2.3L0 0v-15.9l-3.2 -2.3z"/><path d="M-3.2 -18.2L0 -15.9L4.4 -17.6L1.1 -19.8z" fill="#ffa100"/></g>
<g transform="translate(307.9 195.9)"><path d="M-3.2 -2.3l3.2 2.3 4.4 -1.7v-15.4l-4.4 1.7 -3.2 -2.3zM0 0v-15.4"/><path class="l" d="M-3.2 -2.3L0 0v-15.4l-3.2 -2.3z"/><path d="M-3.2 -17.7L0 -15.4L4.4 -17.1L1.1 -19.3z" fill="#ff9d00"/></g>
</g>
<linearGradient id="cb6" x1="0" y1="1" x2="0" y2="0"><stop offset="0" stop-color="#f00"/><stop offset="1" stop-color="#ff0"/></linearGradient>
<rect x="374.4" y="118.7" width="4.6" height="95" fill="url(#cb6)"/>
<g class="t" font-size="2.95">
<text x="285.7" y="181.1" text-anchor="end">0</text>
<text x="285.7" y="173.7" text-anchor="end">0.2</text>
<text x="285.7" y="166.4" text-anchor="end">0.4</text>
<text x="285.7" y="159" text-anchor="end">0.6</text>
<text x="274.5" y="162.5" font-size="3.45" text-anchor="middle" transform="rotate(-90 274.5 162.5)">Under-segmentation error</text>
<text x="289" y="188.2" text-anchor="end">POL-NLT</text>
<text x="293" y="191.1" text-anchor="end">WS</text>
<text x="297.1" y="193.9" text-anchor="end">HMMS</text>
<text x="301.2" y="196.7" text-anchor="end">GMMS</text>
<text x="305.2" y="199.6" text-anchor="end">NC</text>
<text x="316.8" y="201.5" text-anchor="middle">10</text>
<text x="322.3" y="199.4" text-anchor="middle">11</text>
<text x="327.8" y="197.3" text-anchor="middle">12</text>
<text x="333.3" y="195.3" text-anchor="middle">13</text>
<text x="338.7" y="193.2" text-anchor="middle">14</text>
<text x="344.2" y="191.1" text-anchor="middle">15</text>
<text x="349.7" y="189" text-anchor="middle">16</text>
<text x="355.1" y="187" text-anchor="middle">17</text>
<text x="360.6" y="184.9" text-anchor="middle">18</text>
<text x="366.1" y="182.8" text-anchor="middle">19</text>
<text x="371.6" y="180.7" text-anchor="middle">20</text>
<text x="285.4" y="203.5" font-size="3.45" text-anchor="middle">Methods</text>
<text x="338.9" y="200.2" font-size="3.45" text-anchor="middle">δ</text>
<path d="M374.4 213.7h0.8M379 213.7h-0.8" stroke="#777" stroke-width="0.3"/>
<text x="379.6" y="215.3">0</text>
<path d="M374.4 205.4h0.8M379 205.4h-0.8" stroke="#777" stroke-width="0.3"/>
<text x="379.6" y="207">0.05</text>
<path d="M374.4 197.1h0.8M379 197.1h-0.8" stroke="#777" stroke-width="0.3"/>
<text x="379.6" y="198.7">0.1</text>
<path d="M374.4 188.9h0.8M379 188.9h-0.8" stroke="#777" stroke-width="0.3"/>
<text x="379.6" y="190.4">0.15</text>
<path d="M374.4 180.6h0.8M379 180.6h-0.8" stroke="#777" stroke-width="0.3"/>
<text x="379.6" y="182.2">0.2</text>
<path d="M374.4 172.3h0.8M379 172.3h-0.8" stroke="#777" stroke-width="0.3"/>
<text x="379.6" y="173.9">0.25</text>
<path d="M374.4 164h0.8M379 164h-0.8" stroke="#777" stroke-width="0.3"/>
<text x="379.6" y="165.6">0.3</text>
<path d="M374.4 155.8h0.8M379 155.8h-0.8" stroke="#777" stroke-width="0.3"/>
<text x="379.6" y="157.3">0.35</text>
<path d="M374.4 147.5h0.8M379 147.5h-0.8" stroke="#777" stroke-width="0.3"/>
<text x="379.6" y="149.1">0.4</text>
<path d="M374.4 139.2h0.8M379 139.2h-0.8" stroke="#777" stroke-width="0.3"/>
<text x="379.6" y="140.8">0.45</text>
<path d="M374.4 130.9h0.8M379 130.9h-0.8" stroke="#777" stroke-width="0.3"/>
<text x="379.6" y="132.5">0.5</text>
<path d="M374.4 122.7h0.8M379 122.7h-0.8" stroke="#777" stroke-width="0.3"/>
<text x="379.6" y="124.2">0.55</text>
</g>
<path d="M406.5 182.2L469.5 157.4L497.3 176.6M406.5 170.7L469.5 145.7L497.3 165M406.5 159.3L469.5 134L497.3 153.5M408.9 181.2L408.9 158.3M408.9 181.2L436.7 200.4M414.7 179L414.7 155.9M414.7 179L442.5 198.1M420.6 176.7L420.6 153.6M420.6 176.7L448.3 195.9M426.4 174.4L426.4 151.3M426.4 174.4L454.2 193.6M432.2 172.1L432.2 148.9M432.2 172.1L460 191.3M438 169.8L438 146.6M438 169.8L465.8 189M443.8 167.5L443.8 144.3M443.8 167.5L471.6 186.7M449.6 165.2L449.6 142M449.6 165.2L477.4 184.4M455.5 162.9L455.5 139.6M455.5 162.9L483.2 182.1M461.3 160.7L461.3 137.3M461.3 160.7L489.1 179.8M467.1 158.4L467.1 135M467.1 158.4L494.9 177.6M474.7 161L474.7 137.6M411.6 185.8L474.7 161M479 164L479 140.7M416 188.8L479 164M483.4 167L483.4 143.7M420.4 191.8L483.4 167M487.8 170L487.8 146.8M424.8 194.8L487.8 170M492.2 173L492.2 149.9M429.1 197.8L492.2 173" stroke="#e2e2e2" stroke-width="0.35" fill="none"/>
<path d="M406.5 182.2L469.5 157.4M469.5 157.4L497.3 176.6M469.5 157.4L469.5 134M497.3 176.6L497.3 153.5M406.5 159.3L469.5 134M469.5 134L497.3 153.5" stroke="#d0d0d0" stroke-width="0.35" fill="none"/>
<path d="M406.5 182.2L434.3 201.4M434.3 201.4L497.3 176.6M406.5 182.2L406.5 159.3" stroke="#aaa" stroke-width="0.4" fill="none"/>
<linearGradient id="g7" gradientUnits="userSpaceOnUse" x1="0" y1="0" x2="0" y2="-21.1"><stop offset="0" stop-color="#f00"/><stop offset="1" stop-color="#ff0"/></linearGradient>
<g fill="url(#g7)" stroke="rgba(100,30,0,0.55)" stroke-width="0.35">
<g transform="translate(471.6 164)"><path d="M-3.5 -2.4l3.5 2.4 4.7 -1.8v-21.1l-4.7 1.8 -3.5 -2.4zM0 0v-21.1"/><path class="l" d="M-3.5 -2.4L0 0v-21.1l-3.5 -2.4z"/><path d="M-3.5 -23.5L0 -21.1L4.7 -22.9L1.2 -25.3z" fill="#ffff00"/></g>
<g transform="translate(465.8 166.3)"><path d="M-3.5 -2.4l3.5 2.4 4.7 -1.8v-21.1l-4.7 1.8 -3.5 -2.4zM0 0v-21.1"/><path class="l" d="M-3.5 -2.4L0 0v-21.1l-3.5 -2.4z"/><path d="M-3.5 -23.5L0 -21.1L4.7 -22.9L1.2 -25.3z" fill="#ffff00"/></g>
<g transform="translate(460 168.6)"><path d="M-3.5 -2.4l3.5 2.4 4.7 -1.8v-21.1l-4.7 1.8 -3.5 -2.4zM0 0v-21.1"/><path class="l" d="M-3.5 -2.4L0 0v-21.1l-3.5 -2.4z"/><path d="M-3.5 -23.5L0 -21.1L4.7 -22.9L1.2 -25.3z" fill="#ffff00"/></g>
<g transform="translate(454.2 170.9)"><path d="M-3.5 -2.4l3.5 2.4 4.7 -1.8v-21.1l-4.7 1.8 -3.5 -2.4zM0 0v-21.1"/><path class="l" d="M-3.5 -2.4L0 0v-21.1l-3.5 -2.4z"/><path d="M-3.5 -23.5L0 -21.1L4.7 -22.9L1.2 -25.3z" fill="#ffff00"/></g>
<g transform="translate(448.4 173.2)"><path d="M-3.5 -2.4l3.5 2.4 4.7 -1.8v-21.1l-4.7 1.8 -3.5 -2.4zM0 0v-21.1"/><path class="l" d="M-3.5 -2.4L0 0v-21.1l-3.5 -2.4z"/><path d="M-3.5 -23.5L0 -21.1L4.7 -22.9L1.2 -25.3z" fill="#ffff00"/></g>
<g transform="translate(442.6 175.5)"><path d="M-3.5 -2.4l3.5 2.4 4.7 -1.8v-21.1l-4.7 1.8 -3.5 -2.4zM0 0v-21.1"/><path class="l" d="M-3.5 -2.4L0 0v-21.1l-3.5 -2.4z"/><path d="M-3.5 -23.5L0 -21.1L4.7 -22.9L1.2 -25.3z" fill="#ffff00"/></g>
<g transform="translate(436.8 177.8)scale(1 1.006)"><path d="M-3.5 -2.4l3.5 2.4 4.7 -1.8v-21.1l-4.7 1.8 -3.5 -2.4zM0 0v-21.1"/><path class="l" d="M-3.5 -2.4L0 0v-21.1l-3.5 -2.4z"/><path d="M-3.5 -23.5L0 -21.1L4.7 -22.9L1.2 -25.3z" fill="#ffff00"/></g>
<g transform="translate(430.9 180.1)scale(1 1.007)"><path d="M-3.5 -2.4l3.5 2.4 4.7 -1.8v-21.1l-4.7 1.8 -3.5 -2.4zM0 0v-21.1"/><path class="l" d="M-3.5 -2.4L0 0v-21.1l-3.5 -2.4z"/><path d="M-3.5 -23.5L0 -21.1L4.7 -22.9L1.2 -25.3z" fill="#ffff00"/></g>
<g transform="translate(425.1 182.3)scale(1 1.008)"><path d="M-3.5 -2.4l3.5 2.4 4.7 -1.8v-21.1l-4.7 1.8 -3.5 -2.4zM0 0v-21.1"/><path class="l" d="M-3.5 -2.4L0 0v-21.1l-3.5 -2.4z"/><path d="M-3.5 -23.5L0 -21.1L4.7 -22.9L1.2 -25.3z" fill="#ffff00"/></g>
<g transform="translate(419.3 184.6)scale(1 1.009)"><path d="M-3.5 -2.4l3.5 2.4 4.7 -1.8v-21.1l-4.7 1.8 -3.5 -2.4zM0 0v-21.1"/><path class="l" d="M-3.5 -2.4L0 0v-21.1l-3.5 -2.4z"/><path d="M-3.5 -23.5L0 -21.1L4.7 -22.9L1.2 -25.3z" fill="#ffff00"/></g>
<g transform="translate(413.5 186.9)scale(1 1.01)"><path d="M-3.5 -2.4l3.5 2.4 4.7 -1.8v-21.1l-4.7 1.8 -3.5 -2.4zM0 0v-21.1"/><path class="l" d="M-3.5 -2.4L0 0v-21.1l-3.5 -2.4z"/><path d="M-3.5 -23.5L0 -21.1L4.7 -22.9L1.2 -25.3z" fill="#ffff00"/></g>
<g transform="translate(476 167.1)"><path d="M-3.5 -2.4l3.5 2.4 4.7 -1.8v-21.1l-4.7 1.8 -3.5 -2.4zM0 0v-21.1"/><path class="l" d="M-3.5 -2.4L0 0v-21.1l-3.5 -2.4z"/><path d="M-3.5 -23.5L0 -21.1L4.7 -22.9L1.2 -25.3z" fill="#ffff00"/></g>
<g transform="translate(470.2 169.4)"><path d="M-3.5 -2.4l3.5 2.4 4.7 -1.8v-21.1l-4.7 1.8 -3.5 -2.4zM0 0v-21.1"/><path class="l" d="M-3.5 -2.4L0 0v-21.1l-3.5 -2.4z"/><path d="M-3.5 -23.5L0 -21.1L4.7 -22.9L1.2 -25.3z" fill="#ffff00"/></g>
<g transform="translate(464.4 171.6)scale(1 1.006)"><path d="M-3.5 -2.4l3.5 2.4 4.7 -1.8v-21.1l-4.7 1.8 -3.5 -2.4zM0 0v-21.1"/><path class="l" d="M-3.5 -2.4L0 0v-21.1l-3.5 -2.4z"/><path d="M-3.5 -23.5L0 -21.1L4.7 -22.9L1.2 -25.3z" fill="#ffff00"/></g>
<g transform="translate(458.6 173.9)scale(1 1.009)"><path d="M-3.5 -2.4l3.5 2.4 4.7 -1.8v-21.1l-4.7 1.8 -3.5 -2.4zM0 0v-21.1"/><path class="l" d="M-3.5 -2.4L0 0v-21.1l-3.5 -2.4z"/><path d="M-3.5 -23.5L0 -21.1L4.7 -22.9L1.2 -25.3z" fill="#ffff00"/></g>
<g transform="translate(452.8 176.2)scale(1 1.013)"><path d="M-3.5 -2.4l3.5 2.4 4.7 -1.8v-21.1l-4.7 1.8 -3.5 -2.4zM0 0v-21.1"/><path class="l" d="M-3.5 -2.4L0 0v-21.1l-3.5 -2.4z"/><path d="M-3.5 -23.4L0 -21.1L4.7 -22.9L1.2 -25.3z" fill="#ffff00"/></g>
<g transform="translate(446.9 178.5)scale(1 1.016)"><path d="M-3.5 -2.4l3.5 2.4 4.7 -1.8v-21.1l-4.7 1.8 -3.5 -2.4zM0 0v-21.1"/><path class="l" d="M-3.5 -2.4L0 0v-21.1l-3.5 -2.4z"/><path d="M-3.5 -23.4L0 -21.1L4.7 -22.9L1.2 -25.2z" fill="#ffff00"/></g>
<g transform="translate(441.1 180.8)scale(1 1.02)"><path d="M-3.5 -2.4l3.5 2.4 4.7 -1.8v-21.1l-4.7 1.8 -3.5 -2.4zM0 0v-21.1"/><path class="l" d="M-3.5 -2.4L0 0v-21.1l-3.5 -2.4z"/><path d="M-3.5 -23.4L0 -21.1L4.7 -22.9L1.2 -25.2z" fill="#ffff00"/></g>
<g transform="translate(435.3 183.1)scale(1 1.023)"><path d="M-3.5 -2.4l3.5 2.4 4.7 -1.8v-21.1l-4.7 1.8 -3.5 -2.4zM0 0v-21.1"/><path class="l" d="M-3.5 -2.4L0 0v-21.1l-3.5 -2.4z"/><path d="M-3.5 -23.4L0 -21.1L4.7 -22.8L1.2 -25.2z" fill="#ffff00"/></g>
<g transform="translate(429.5 185.4)scale(1 1.027)"><path d="M-3.5 -2.4l3.5 2.4 4.7 -1.8v-21.1l-4.7 1.8 -3.5 -2.4zM0 0v-21.1"/><path class="l" d="M-3.5 -2.4L0 0v-21.1l-3.5 -2.4z"/><path d="M-3.5 -23.4L0 -21.1L4.7 -22.8L1.2 -25.2z" fill="#ffff00"/></g>
<g transform="translate(423.7 187.7)scale(1 1.03)"><path d="M-3.5 -2.3l3.5 2.3 4.7 -1.8v-21.1l-4.7 1.8 -3.5 -2.3zM0 0v-21.1"/><path class="l" d="M-3.5 -2.3L0 0v-21.1l-3.5 -2.3z"/><path d="M-3.5 -23.4L0 -21.1L4.7 -22.8L1.2 -25.2z" fill="#ffff00"/></g>
<g transform="translate(417.9 189.9)scale(1 1.034)"><path d="M-3.5 -2.3l3.5 2.3 4.7 -1.8v-21.1l-4.7 1.8 -3.5 -2.3zM0 0v-21.1"/><path class="l" d="M-3.5 -2.3L0 0v-21.1l-3.5 -2.3z"/><path d="M-3.5 -23.4L0 -21.1L4.7 -22.8L1.2 -25.2z" fill="#ffff00"/></g>
<g transform="translate(480.4 170.1)"><path d="M-3.5 -2.4l3.5 2.4 4.7 -1.8v-21.1l-4.7 1.8 -3.5 -2.4zM0 0v-21.1"/><path class="l" d="M-3.5 -2.4L0 0v-21.1l-3.5 -2.4z"/><path d="M-3.5 -23.5L0 -21.1L4.7 -22.9L1.2 -25.3z" fill="#ffff00"/></g>
<g transform="translate(474.6 172.4)"><path d="M-3.5 -2.4l3.5 2.4 4.7 -1.8v-21.1l-4.7 1.8 -3.5 -2.4zM0 0v-21.1"/><path class="l" d="M-3.5 -2.4L0 0v-21.1l-3.5 -2.4z"/><path d="M-3.5 -23.5L0 -21.1L4.7 -22.9L1.2 -25.3z" fill="#ffff00"/></g>
<g transform="translate(468.8 174.7)scale(1 1.009)"><path d="M-3.5 -2.4l3.5 2.4 4.7 -1.8v-21.1l-4.7 1.8 -3.5 -2.4zM0 0v-21.1"/><path class="l" d="M-3.5 -2.4L0 0v-21.1l-3.5 -2.4z"/><path d="M-3.5 -23.5L0 -21.1L4.7 -22.9L1.2 -25.3z" fill="#ffff00"/></g>
<g transform="translate(463 176.9)scale(1 1.015)"><path d="M-3.5 -2.4l3.5 2.4 4.7 -1.8v-21.1l-4.7 1.8 -3.5 -2.4zM0 0v-21.1"/><path class="l" d="M-3.5 -2.4L0 0v-21.1l-3.5 -2.4z"/><path d="M-3.5 -23.4L0 -21.1L4.7 -22.9L1.2 -25.2z" fill="#ffff00"/></g>
<g transform="translate(457.1 179.2)scale(1 1.021)"><path d="M-3.5 -2.4l3.5 2.4 4.7 -1.8v-21.1l-4.7 1.8 -3.5 -2.4zM0 0v-21.1"/><path class="l" d="M-3.5 -2.4L0 0v-21.1l-3.5 -2.4z"/><path d="M-3.5 -23.4L0 -21.1L4.7 -22.9L1.2 -25.2z" fill="#ffff00"/></g>
<g transform="translate(451.3 181.5)scale(1 1.028)"><path d="M-3.5 -2.4l3.5 2.4 4.7 -1.8v-21.1l-4.7 1.8 -3.5 -2.4zM0 0v-21.1"/><path class="l" d="M-3.5 -2.4L0 0v-21.1l-3.5 -2.4z"/><path d="M-3.5 -23.4L0 -21.1L4.7 -22.8L1.2 -25.2z" fill="#ffff00"/></g>
<g transform="translate(445.5 183.8)scale(1 1.034)"><path d="M-3.5 -2.3l3.5 2.3 4.7 -1.8v-21.1l-4.7 1.8 -3.5 -2.3zM0 0v-21.1"/><path class="l" d="M-3.5 -2.3L0 0v-21.1l-3.5 -2.3z"/><path d="M-3.5 -23.4L0 -21.1L4.7 -22.8L1.2 -25.2z" fill="#ffff00"/></g>
<g transform="translate(439.7 186.1)scale(1 1.04)"><path d="M-3.5 -2.3l3.5 2.3 4.7 -1.8v-21.1l-4.7 1.8 -3.5 -2.3zM0 0v-21.1"/><path class="l" d="M-3.5 -2.3L0 0v-21.1l-3.5 -2.3z"/><path d="M-3.5 -23.4L0 -21.1L4.7 -22.8L1.2 -25.1z" fill="#ffff00"/></g>
<g transform="translate(433.9 188.4)scale(1 1.046)"><path d="M-3.5 -2.3l3.5 2.3 4.7 -1.7v-21.1l-4.7 1.7 -3.5 -2.3zM0 0v-21.1"/><path class="l" d="M-3.5 -2.3L0 0v-21.1l-3.5 -2.3z"/><path d="M-3.5 -23.4L0 -21.1L4.7 -22.8L1.2 -25.1z" fill="#ffff00"/></g>
<g transform="translate(428.1 190.7)scale(1 1.052)"><path d="M-3.5 -2.3l3.5 2.3 4.7 -1.7v-21.1l-4.7 1.7 -3.5 -2.3zM0 0v-21.1"/><path class="l" d="M-3.5 -2.3L0 0v-21.1l-3.5 -2.3z"/><path d="M-3.5 -23.4L0 -21.1L4.7 -22.8L1.2 -25.1z" fill="#ffff00"/></g>
<g transform="translate(422.2 193)scale(1 1.058)"><path d="M-3.5 -2.3l3.5 2.3 4.7 -1.7v-21.1l-4.7 1.7 -3.5 -2.3zM0 0v-21.1"/><path class="l" d="M-3.5 -2.3L0 0v-21.1l-3.5 -2.3z"/><path d="M-3.5 -23.3L0 -21.1L4.7 -22.8L1.2 -25.1z" fill="#ffff00"/></g>
<g transform="translate(484.8 173.1)"><path d="M-3.5 -2.4l3.5 2.4 4.7 -1.8v-21.1l-4.7 1.8 -3.5 -2.4zM0 0v-21.1"/><path class="l" d="M-3.5 -2.4L0 0v-21.1l-3.5 -2.4z"/><path d="M-3.5 -23.5L0 -21.1L4.7 -22.9L1.2 -25.3z" fill="#ffff00"/></g>
<g transform="translate(479 175.4)"><path d="M-3.5 -2.4l3.5 2.4 4.7 -1.8v-21.1l-4.7 1.8 -3.5 -2.4zM0 0v-21.1"/><path class="l" d="M-3.5 -2.4L0 0v-21.1l-3.5 -2.4z"/><path d="M-3.5 -23.5L0 -21.1L4.7 -22.9L1.2 -25.3z" fill="#ffff00"/></g>
<g transform="translate(473.1 177.7)scale(1 1.013)"><path d="M-3.5 -2.4l3.5 2.4 4.7 -1.8v-21.1l-4.7 1.8 -3.5 -2.4zM0 0v-21.1"/><path class="l" d="M-3.5 -2.4L0 0v-21.1l-3.5 -2.4z"/><path d="M-3.5 -23.4L0 -21.1L4.7 -22.9L1.2 -25.3z" fill="#ffff00"/></g>
<g transform="translate(467.3 180)scale(1 1.022)"><path d="M-3.5 -2.4l3.5 2.4 4.7 -1.8v-21.1l-4.7 1.8 -3.5 -2.4zM0 0v-21.1"/><path class="l" d="M-3.5 -2.4L0 0v-21.1l-3.5 -2.4z"/><path d="M-3.5 -23.4L0 -21.1L4.7 -22.9L1.2 -25.2z" fill="#ffff00"/></g>
<g transform="translate(461.5 182.3)scale(1 1.03)"><path d="M-3.5 -2.3l3.5 2.3 4.7 -1.8v-21.1l-4.7 1.8 -3.5 -2.3zM0 0v-21.1"/><path class="l" d="M-3.5 -2.3L0 0v-21.1l-3.5 -2.3z"/><path d="M-3.5 -23.4L0 -21.1L4.7 -22.8L1.2 -25.2z" fill="#ffff00"/></g>
<g transform="translate(455.7 184.5)scale(1 1.039)"><path d="M-3.5 -2.3l3.5 2.3 4.7 -1.8v-21.1l-4.7 1.8 -3.5 -2.3zM0 0v-21.1"/><path class="l" d="M-3.5 -2.3L0 0v-21.1l-3.5 -2.3z"/><path d="M-3.5 -23.4L0 -21.1L4.7 -22.8L1.2 -25.1z" fill="#ffff00"/></g>
<g transform="translate(449.9 186.8)scale(1 1.047)"><path d="M-3.5 -2.3l3.5 2.3 4.7 -1.7v-21.1l-4.7 1.7 -3.5 -2.3zM0 0v-21.1"/><path class="l" d="M-3.5 -2.3L0 0v-21.1l-3.5 -2.3z"/><path d="M-3.5 -23.4L0 -21.1L4.7 -22.8L1.2 -25.1z" fill="#ffff00"/></g>
<g transform="translate(444.1 189.1)scale(1 1.056)"><path d="M-3.5 -2.3l3.5 2.3 4.7 -1.7v-21.1l-4.7 1.7 -3.5 -2.3zM0 0v-21.1"/><path class="l" d="M-3.5 -2.3L0 0v-21.1l-3.5 -2.3z"/><path d="M-3.5 -23.3L0 -21.1L4.7 -22.8L1.2 -25.1z" fill="#ffff00"/></g>
<g transform="translate(438.3 191.4)scale(1 1.065)"><path d="M-3.5 -2.3l3.5 2.3 4.7 -1.7v-21.1l-4.7 1.7 -3.5 -2.3zM0 0v-21.1"/><path class="l" d="M-3.5 -2.3L0 0v-21.1l-3.5 -2.3z"/><path d="M-3.5 -23.3L0 -21.1L4.7 -22.8L1.2 -25z" fill="#ffff00"/></g>
<g transform="translate(432.4 193.7)scale(1 1.073)"><path d="M-3.5 -2.3l3.5 2.3 4.7 -1.7v-21.1l-4.7 1.7 -3.5 -2.3zM0 0v-21.1"/><path class="l" d="M-3.5 -2.3L0 0v-21.1l-3.5 -2.3z"/><path d="M-3.5 -23.3L0 -21.1L4.7 -22.8L1.2 -25z" fill="#ffff00"/></g>
<g transform="translate(426.6 196)scale(1 1.082)"><path d="M-3.5 -2.2l3.5 2.2 4.7 -1.7v-21.1l-4.7 1.7 -3.5 -2.2zM0 0v-21.1"/><path class="l" d="M-3.5 -2.2L0 0v-21.1l-3.5 -2.2z"/><path d="M-3.5 -23.3L0 -21.1L4.7 -22.8L1.2 -25z" fill="#ffff00"/></g>
<g transform="translate(489.1 176.1)"><path d="M-3.5 -2.4l3.5 2.4 4.7 -1.8v-21.1l-4.7 1.8 -3.5 -2.4zM0 0v-21.1"/><path class="l" d="M-3.5 -2.4L0 0v-21.1l-3.5 -2.4z"/><path d="M-3.5 -23.5L0 -21.1L4.7 -22.9L1.2 -25.3z" fill="#ffff00"/></g>
<g transform="translate(483.3 178.4)scale(1 1.006)"><path d="M-3.5 -2.4l3.5 2.4 4.7 -1.8v-21.1l-4.7 1.8 -3.5 -2.4zM0 0v-21.1"/><path class="l" d="M-3.5 -2.4L0 0v-21.1l-3.5 -2.4z"/><path d="M-3.5 -23.5L0 -21.1L4.7 -22.9L1.2 -25.3z" fill="#ffff00"/></g>
<g transform="translate(477.5 180.7)scale(1 1.017)"><path d="M-3.5 -2.4l3.5 2.4 4.7 -1.8v-21.1l-4.7 1.8 -3.5 -2.4zM0 0v-21.1"/><path class="l" d="M-3.5 -2.4L0 0v-21.1l-3.5 -2.4z"/><path d="M-3.5 -23.4L0 -21.1L4.7 -22.9L1.2 -25.2z" fill="#ffff00"/></g>
<g transform="translate(471.7 183)scale(1 1.028)"><path d="M-3.5 -2.4l3.5 2.4 4.7 -1.8v-21.1l-4.7 1.8 -3.5 -2.4zM0 0v-21.1"/><path class="l" d="M-3.5 -2.4L0 0v-21.1l-3.5 -2.4z"/><path d="M-3.5 -23.4L0 -21.1L4.7 -22.8L1.2 -25.2z" fill="#ffff00"/></g>
<g transform="translate(465.9 185.3)scale(1 1.039)"><path d="M-3.5 -2.3l3.5 2.3 4.7 -1.8v-21.1l-4.7 1.8 -3.5 -2.3zM0 0v-21.1"/><path class="l" d="M-3.5 -2.3L0 0v-21.1l-3.5 -2.3z"/><path d="M-3.5 -23.4L0 -21.1L4.7 -22.8L1.2 -25.1z" fill="#ffff00"/></g>
<g transform="translate(460.1 187.6)scale(1 1.05)"><path d="M-3.5 -2.3l3.5 2.3 4.7 -1.7v-21.1l-4.7 1.7 -3.5 -2.3zM0 0v-21.1"/><path class="l" d="M-3.5 -2.3L0 0v-21.1l-3.5 -2.3z"/><path d="M-3.5 -23.4L0 -21.1L4.7 -22.8L1.2 -25.1z" fill="#ffff00"/></g>
<g transform="translate(454.3 189.9)scale(1 1.061)"><path d="M-3.5 -2.3l3.5 2.3 4.7 -1.7v-21.1l-4.7 1.7 -3.5 -2.3zM0 0v-21.1"/><path class="l" d="M-3.5 -2.3L0 0v-21.1l-3.5 -2.3z"/><path d="M-3.5 -23.3L0 -21.1L4.7 -22.8L1.2 -25.1z" fill="#ffff00"/></g>
<g transform="translate(448.4 192.1)scale(1 1.072)"><path d="M-3.5 -2.3l3.5 2.3 4.7 -1.7v-21.1l-4.7 1.7 -3.5 -2.3zM0 0v-21.1"/><path class="l" d="M-3.5 -2.3L0 0v-21.1l-3.5 -2.3z"/><path d="M-3.5 -23.3L0 -21.1L4.7 -22.8L1.2 -25z" fill="#ffff00"/></g>
<g transform="translate(442.6 194.4)scale(1 1.084)"><path d="M-3.5 -2.2l3.5 2.2 4.7 -1.7v-21.1l-4.7 1.7 -3.5 -2.2zM0 0v-21.1"/><path class="l" d="M-3.5 -2.2L0 0v-21.1l-3.5 -2.2z"/><path d="M-3.5 -23.3L0 -21.1L4.7 -22.7L1.2 -25z" fill="#ffff00"/></g>
<g transform="translate(436.8 196.7)scale(1 1.095)"><path d="M-3.5 -2.2l3.5 2.2 4.7 -1.7v-21.1l-4.7 1.7 -3.5 -2.2zM0 0v-21.1"/><path class="l" d="M-3.5 -2.2L0 0v-21.1l-3.5 -2.2z"/><path d="M-3.5 -23.3L0 -21.1L4.7 -22.7L1.2 -24.9z" fill="#ffff00"/></g>
<g transform="translate(431 199)scale(1 1.106)"><path d="M-3.5 -2.2l3.5 2.2 4.7 -1.7v-21.1l-4.7 1.7 -3.5 -2.2zM0 0v-21.1"/><path class="l" d="M-3.5 -2.2L0 0v-21.1l-3.5 -2.2z"/><path d="M-3.5 -23.2L0 -21.1L4.7 -22.7L1.2 -24.9z" fill="#ffff00"/></g>
</g>
<linearGradient id="cb7" x1="0" y1="1" x2="0" y2="0"><stop offset="0" stop-color="#f00"/><stop offset="1" stop-color="#ff0"/></linearGradient>
<rect x="501.8" y="119.2" width="4.6" height="97.8" fill="url(#cb7)"/>
<g class="t" font-size="2.9">
<text x="404.7" y="183.2" text-anchor="end">0</text>
<text x="404.7" y="171.8" text-anchor="end">0.5</text>
<text x="404.7" y="160.3" text-anchor="end">1</text>
<text x="397.6" y="155.7" font-size="3.53" text-anchor="middle" transform="rotate(-90 397.6 155.7)">Achievable segmentation accuracy</text>
<text x="409" y="191.2" text-anchor="end">POL-NLT</text>
<text x="413.4" y="194.2" text-anchor="end">WS</text>
<text x="417.8" y="197.2" text-anchor="end">HMMS</text>
<text x="422.2" y="200.2" text-anchor="end">GMMS</text>
<text x="426.5" y="203.2" text-anchor="end">NC</text>
<text x="441" y="205.1" text-anchor="middle">10</text>
<text x="446.8" y="202.8" text-anchor="middle">11</text>
<text x="452.6" y="200.6" text-anchor="middle">12</text>
<text x="458.5" y="198.3" text-anchor="middle">13</text>
<text x="464.3" y="196" text-anchor="middle">14</text>
<text x="470.1" y="193.7" text-anchor="middle">15</text>
<text x="475.9" y="191.4" text-anchor="middle">16</text>
<text x="481.7" y="189.1" text-anchor="middle">17</text>
<text x="487.5" y="186.8" text-anchor="middle">18</text>
<text x="493.4" y="184.5" text-anchor="middle">19</text>
<text x="499.2" y="182.3" text-anchor="middle">20</text>
<text x="408.5" y="206.6" font-size="3.53" text-anchor="middle">Methods</text>
<text x="463.9" y="202.2" font-size="3.53" text-anchor="middle">δ</text>
<path d="M501.8 217h0.8M506.4 217h-0.8" stroke="#777" stroke-width="0.3"/>
<text x="507" y="218.5">0</text>
<path d="M501.8 206.5h0.8M506.4 206.5h-0.8" stroke="#777" stroke-width="0.3"/>
<text x="507" y="208">0.1</text>
<path d="M501.8 196h0.8M506.4 196h-0.8" stroke="#777" stroke-width="0.3"/>
<text x="507" y="197.5">0.2</text>
<path d="M501.8 185.5h0.8M506.4 185.5h-0.8" stroke="#777" stroke-width="0.3"/>
<text x="507" y="187">0.3</text>
<path d="M501.8 174.9h0.8M506.4 174.9h-0.8" stroke="#777" stroke-width="0.3"/>
<text x="507" y="176.5">0.4</text>
<path d="M501.8 164.4h0.8M506.4 164.4h-0.8" stroke="#777" stroke-width="0.3"/>
<text x="507" y="166">0.5</text>
<path d="M501.8 153.9h0.8M506.4 153.9h-0.8" stroke="#777" stroke-width="0.3"/>
<text x="507" y="155.4">0.6</text>
<path d="M501.8 143.4h0.8M506.4 143.4h-0.8" stroke="#777" stroke-width="0.3"/>
<text x="507" y="144.9">0.7</text>
<path d="M501.8 132.9h0.8M506.4 132.9h-0.8" stroke="#777" stroke-width="0.3"/>
<text x="507" y="134.4">0.8</text>
<path d="M501.8 122.4h0.8M506.4 122.4h-0.8" stroke="#777" stroke-width="0.3"/>
<text x="507" y="123.9">0.9</text>
</g>
<path d="M50.3 288L109.6 269.6L133.7 287M50.3 280.2L109.6 261.8L133.7 279.2M50.3 272.4L109.6 254L133.7 271.4M52.2 287.4L52.2 267.9M52.2 287.4L76.3 304.8M57.8 285.7L57.8 266.2M57.8 285.7L81.9 303.1M63.3 284L63.3 264.5M63.3 284L87.4 301.4M68.9 282.2L68.9 262.7M68.9 282.2L93 299.7M74.4 280.5L74.4 261M74.4 280.5L98.5 297.9M80 278.8L80 259.3M80 278.8L104 296.2M85.5 277.1L85.5 257.6M85.5 277.1L109.6 294.5M91 275.3L91 255.8M91 275.3L115.1 292.8M96.6 273.6L96.6 254.1M96.6 273.6L120.7 291M102.1 271.9L102.1 252.4M102.1 271.9L126.2 289.3M107.7 270.2L107.7 250.7M107.7 270.2L131.8 287.6M112.8 271.9L112.8 252.4M53.5 290.3L112.8 271.9M117.2 275.1L117.2 255.6M57.9 293.5L117.2 275.1M121.7 278.3L121.7 258.8M62.3 296.7L121.7 278.3M126.1 281.5L126.1 262M66.8 299.9L126.1 281.5M130.5 284.7L130.5 265.2M71.2 303.1L130.5 284.7" stroke="#e2e2e2" stroke-width="0.35" fill="none"/>
<path d="M50.3 288L109.6 269.6M109.6 269.6L133.7 287M109.6 269.6L109.6 250.1M133.7 287L133.7 267.5M50.3 268.5L109.6 250.1M109.6 250.1L133.7 267.5" stroke="#d0d0d0" stroke-width="0.35" fill="none"/>
<path d="M50.3 288L74.4 305.4M74.4 305.4L133.7 287M50.3 288L50.3 268.5" stroke="#aaa" stroke-width="0.4" fill="none"/>
<linearGradient id="g8" gradientUnits="userSpaceOnUse" x1="0" y1="0" x2="0" y2="-21.3"><stop offset="0" stop-color="#f00"/><stop offset="1" stop-color="#ff0"/></linearGradient>
<g fill="url(#g8)" stroke="rgba(100,30,0,0.55)" stroke-width="0.35">
<g transform="translate(110.4 274.4)"><path d="M-3.5 -2.6l3.5 2.6 4.4 -1.4v-21.5l-4.4 1.4 -3.5 -2.6zM0 0v-21.5"/><path class="l" d="M-3.5 -2.6L0 0v-21.5l-3.5 -2.6z"/><path d="M-3.5 -24L0 -21.5L4.4 -22.8L0.9 -25.4z" fill="#ffff00"/></g>
<g transform="translate(104.9 276.2)"><path d="M-3.5 -2.6l3.5 2.6 4.4 -1.4v-21.5l-4.4 1.4 -3.5 -2.6zM0 0v-21.5"/><path class="l" d="M-3.5 -2.6L0 0v-21.5l-3.5 -2.6z"/><path d="M-3.5 -24L0 -21.5L4.4 -22.8L0.9 -25.4z" fill="#ffff00"/></g>
<g transform="translate(99.3 277.9)"><path d="M-3.5 -2.6l3.5 2.6 4.4 -1.4v-21.5l-4.4 1.4 -3.5 -2.6zM0 0v-21.5"/><path class="l" d="M-3.5 -2.6L0 0v-21.5l-3.5 -2.6z"/><path d="M-3.5 -24L0 -21.5L4.4 -22.8L0.9 -25.4z" fill="#ffff00"/></g>
<g transform="translate(93.8 279.6)"><path d="M-3.5 -2.6l3.5 2.6 4.4 -1.4v-21.5l-4.4 1.4 -3.5 -2.6zM0 0v-21.5"/><path class="l" d="M-3.5 -2.6L0 0v-21.5l-3.5 -2.6z"/><path d="M-3.5 -24L0 -21.5L4.4 -22.8L0.9 -25.4z" fill="#ffff00"/></g>
<g transform="translate(88.2 281.3)"><path d="M-3.5 -2.6l3.5 2.6 4.4 -1.4v-21.5l-4.4 1.4 -3.5 -2.6zM0 0v-21.5"/><path class="l" d="M-3.5 -2.6L0 0v-21.5l-3.5 -2.6z"/><path d="M-3.5 -24L0 -21.5L4.4 -22.8L0.9 -25.4z" fill="#ffff00"/></g>
<g transform="translate(82.7 283.1)"><path d="M-3.6 -2.6l3.6 2.6 4.4 -1.4v-21.5l-4.4 1.4 -3.6 -2.6zM0 0v-21.5"/><path class="l" d="M-3.6 -2.6L0 0v-21.5l-3.6 -2.6z"/><path d="M-3.6 -24L0 -21.5L4.4 -22.8L0.9 -25.4z" fill="#ffff00"/></g>
<g transform="translate(77.1 284.8)"><path d="M-3.5 -2.6l3.5 2.6 4.4 -1.4v-21.5l-4.4 1.4 -3.5 -2.6zM0 0v-21.5"/><path class="l" d="M-3.5 -2.6L0 0v-21.5l-3.5 -2.6z"/><path d="M-3.5 -24L0 -21.5L4.4 -22.8L0.9 -25.4z" fill="#ffff00"/></g>
<g transform="translate(71.6 286.5)"><path d="M-3.5 -2.6l3.5 2.6 4.4 -1.4v-21.5l-4.4 1.4 -3.5 -2.6zM0 0v-21.5"/><path class="l" d="M-3.5 -2.6L0 0v-21.5l-3.5 -2.6z"/><path d="M-3.5 -24L0 -21.5L4.4 -22.8L0.9 -25.4z" fill="#ffff00"/></g>
<g transform="translate(66 288.2)"><path d="M-3.5 -2.6l3.5 2.6 4.4 -1.4v-21.5l-4.4 1.4 -3.5 -2.6zM0 0v-21.5"/><path class="l" d="M-3.5 -2.6L0 0v-21.5l-3.5 -2.6z"/><path d="M-3.5 -24L0 -21.5L4.4 -22.8L0.9 -25.4z" fill="#ffff00"/></g>
<g transform="translate(60.5 289.9)"><path d="M-3.5 -2.6l3.5 2.6 4.4 -1.4v-21.5l-4.4 1.4 -3.5 -2.6zM0 0v-21.5"/><path class="l" d="M-3.5 -2.6L0 0v-21.5l-3.5 -2.6z"/><path d="M-3.5 -24L0 -21.5L4.4 -22.8L0.9 -25.4z" fill="#ffff00"/></g>
<g transform="translate(54.9 291.7)"><path d="M-3.5 -2.6l3.5 2.6 4.4 -1.4v-21.5l-4.4 1.4 -3.5 -2.6zM0 0v-21.5"/><path class="l" d="M-3.5 -2.6L0 0v-21.5l-3.5 -2.6z"/><path d="M-3.5 -24L0 -21.5L4.4 -22.8L0.9 -25.4z" fill="#ffff00"/></g>
<g transform="translate(114.9 277.7)"><path d="M-3.5 -2.6l3.5 2.6 4.4 -1.4v-21.5l-4.4 1.4 -3.5 -2.6zM0 0v-21.5"/><path class="l" d="M-3.5 -2.6L0 0v-21.5l-3.5 -2.6z"/><path d="M-3.5 -24L0 -21.5L4.4 -22.8L0.9 -25.4z" fill="#ffff00"/></g>
<g transform="translate(109.3 279.4)"><path d="M-3.6 -2.6l3.6 2.6 4.4 -1.4v-21.5l-4.4 1.4 -3.6 -2.6zM0 0v-21.5"/><path class="l" d="M-3.6 -2.6L0 0v-21.5l-3.6 -2.6z"/><path d="M-3.6 -24L0 -21.5L4.4 -22.8L0.9 -25.4z" fill="#ffff00"/></g>
<g transform="translate(103.8 281.1)"><path d="M-3.6 -2.6l3.6 2.6 4.4 -1.4v-21.5l-4.4 1.4 -3.6 -2.6zM0 0v-21.5"/><path class="l" d="M-3.6 -2.6L0 0v-21.5l-3.6 -2.6z"/><path d="M-3.6 -24L0 -21.5L4.4 -22.8L0.9 -25.4z" fill="#ffff00"/></g>
<g transform="translate(98.2 282.8)"><path d="M-3.5 -2.6l3.5 2.6 4.4 -1.4v-21.5l-4.4 1.4 -3.5 -2.6zM0 0v-21.5"/><path class="l" d="M-3.5 -2.6L0 0v-21.5l-3.5 -2.6z"/><path d="M-3.5 -24L0 -21.5L4.4 -22.8L0.9 -25.4z" fill="#ffff00"/></g>
<g transform="translate(92.7 284.5)"><path d="M-3.5 -2.6l3.5 2.6 4.4 -1.4v-21.5l-4.4 1.4 -3.5 -2.6zM0 0v-21.5"/><path class="l" d="M-3.5 -2.6L0 0v-21.5l-3.5 -2.6z"/><path d="M-3.5 -24L0 -21.5L4.4 -22.8L0.9 -25.4z" fill="#ffff00"/></g>
<g transform="translate(87.1 286.3)"><path d="M-3.6 -2.6l3.6 2.6 4.4 -1.4v-21.5l-4.4 1.4 -3.6 -2.6zM0 0v-21.5"/><path class="l" d="M-3.6 -2.6L0 0v-21.5l-3.6 -2.6z"/><path d="M-3.6 -24L0 -21.5L4.4 -22.8L0.9 -25.4z" fill="#ffff00"/></g>
<g transform="translate(81.6 288)"><path d="M-3.5 -2.6l3.5 2.6 4.4 -1.4v-21.5l-4.4 1.4 -3.5 -2.6zM0 0v-21.5"/><path class="l" d="M-3.5 -2.6L0 0v-21.5l-3.5 -2.6z"/><path d="M-3.5 -24L0 -21.5L4.4 -22.8L0.9 -25.4z" fill="#ffff00"/></g>
<g transform="translate(76 289.7)"><path d="M-3.6 -2.6l3.6 2.6 4.4 -1.4v-21.5l-4.4 1.4 -3.6 -2.6zM0 0v-21.5"/><path class="l" d="M-3.6 -2.6L0 0v-21.5l-3.6 -2.6z"/><path d="M-3.6 -24L0 -21.5L4.4 -22.8L0.9 -25.4z" fill="#ffff00"/></g>
<g transform="translate(70.5 291.4)"><path d="M-3.6 -2.6l3.6 2.6 4.4 -1.4v-21.5l-4.4 1.4 -3.6 -2.6zM0 0v-21.5"/><path class="l" d="M-3.6 -2.6L0 0v-21.5l-3.6 -2.6z"/><path d="M-3.6 -24L0 -21.5L4.4 -22.8L0.9 -25.4z" fill="#ffff00"/></g>
<g transform="translate(64.9 293.2)"><path d="M-3.5 -2.6l3.5 2.6 4.4 -1.4v-21.5l-4.4 1.4 -3.5 -2.6zM0 0v-21.5"/><path class="l" d="M-3.5 -2.6L0 0v-21.5l-3.5 -2.6z"/><path d="M-3.5 -24L0 -21.5L4.4 -22.8L0.9 -25.4z" fill="#ffff00"/></g>
<g transform="translate(59.4 294.9)"><path d="M-3.6 -2.6l3.6 2.6 4.4 -1.4v-21.5l-4.4 1.4 -3.6 -2.6zM0 0v-21.5"/><path class="l" d="M-3.6 -2.6L0 0v-21.5l-3.6 -2.6z"/><path d="M-3.6 -24L0 -21.5L4.4 -22.8L0.9 -25.4z" fill="#ffff00"/></g>
<g transform="translate(119.3 280.9)"><path d="M-3.6 -2.6l3.6 2.6 4.4 -1.4v-21.1l-4.4 1.4 -3.6 -2.6zM0 0v-21.1"/><path class="l" d="M-3.6 -2.6L0 0v-21.1l-3.6 -2.6z"/><path d="M-3.6 -23.6L0 -21.1L4.4 -22.4L0.9 -25z" fill="#fffc00"/></g>
<g transform="translate(113.7 282.6)"><path d="M-3.5 -2.6l3.5 2.6 4.4 -1.4v-21.1l-4.4 1.4 -3.5 -2.6zM0 0v-21.1"/><path class="l" d="M-3.5 -2.6L0 0v-21.1l-3.5 -2.6z"/><path d="M-3.5 -23.6L0 -21.1L4.4 -22.4L0.9 -25z" fill="#fffc00"/></g>
<g transform="translate(108.2 284.3)"><path d="M-3.6 -2.6l3.6 2.6 4.4 -1.4v-21.1l-4.4 1.4 -3.6 -2.6zM0 0v-21.1"/><path class="l" d="M-3.6 -2.6L0 0v-21.1l-3.6 -2.6z"/><path d="M-3.6 -23.6L0 -21.1L4.4 -22.4L0.9 -25z" fill="#fffc00"/></g>
<g transform="translate(102.6 286)"><path d="M-3.5 -2.6l3.5 2.6 4.4 -1.4v-21.1l-4.4 1.4 -3.5 -2.6zM0 0v-21.1"/><path class="l" d="M-3.5 -2.6L0 0v-21.1l-3.5 -2.6z"/><path d="M-3.5 -23.6L0 -21.1L4.4 -22.4L0.9 -25z" fill="#fffc00"/></g>
<g transform="translate(97.1 287.8)"><path d="M-3.6 -2.6l3.6 2.6 4.4 -1.4v-21.1l-4.4 1.4 -3.6 -2.6zM0 0v-21.1"/><path class="l" d="M-3.6 -2.6L0 0v-21.1l-3.6 -2.6z"/><path d="M-3.6 -23.6L0 -21.1L4.4 -22.4L0.9 -25z" fill="#fffc00"/></g>
<g transform="translate(91.6 289.5)"><path d="M-3.6 -2.6l3.6 2.6 4.4 -1.4v-21.1l-4.4 1.4 -3.6 -2.6zM0 0v-21.1"/><path class="l" d="M-3.6 -2.6L0 0v-21.1l-3.6 -2.6z"/><path d="M-3.6 -23.6L0 -21.1L4.4 -22.4L0.9 -25z" fill="#fffc00"/></g>
<g transform="translate(86 291.2)"><path d="M-3.5 -2.6l3.5 2.6 4.4 -1.4v-21.1l-4.4 1.4 -3.5 -2.6zM0 0v-21.1"/><path class="l" d="M-3.5 -2.6L0 0v-21.1l-3.5 -2.6z"/><path d="M-3.5 -23.6L0 -21.1L4.4 -22.4L0.9 -25z" fill="#fffc00"/></g>
<g transform="translate(80.5 292.9)"><path d="M-3.6 -2.6l3.6 2.6 4.4 -1.4v-21.1l-4.4 1.4 -3.6 -2.6zM0 0v-21.1"/><path class="l" d="M-3.6 -2.6L0 0v-21.1l-3.6 -2.6z"/><path d="M-3.6 -23.6L0 -21.1L4.4 -22.4L0.9 -25z" fill="#fffc00"/></g>
<g transform="translate(74.9 294.6)"><path d="M-3.6 -2.6l3.6 2.6 4.4 -1.4v-21.1l-4.4 1.4 -3.6 -2.6zM0 0v-21.1"/><path class="l" d="M-3.6 -2.6L0 0v-21.1l-3.6 -2.6z"/><path d="M-3.6 -23.6L0 -21.1L4.4 -22.4L0.9 -25z" fill="#fffc00"/></g>
<g transform="translate(69.4 296.4)"><path d="M-3.5 -2.6l3.5 2.6 4.4 -1.4v-21.1l-4.4 1.4 -3.5 -2.6zM0 0v-21.1"/><path class="l" d="M-3.5 -2.6L0 0v-21.1l-3.5 -2.6z"/><path d="M-3.5 -23.6L0 -21.1L4.4 -22.4L0.9 -25z" fill="#fffc00"/></g>
<g transform="translate(63.8 298.1)"><path d="M-3.6 -2.6l3.6 2.6 4.4 -1.4v-21.1l-4.4 1.4 -3.6 -2.6zM0 0v-21.1"/><path class="l" d="M-3.6 -2.6L0 0v-21.1l-3.6 -2.6z"/><path d="M-3.6 -23.6L0 -21.1L4.4 -22.4L0.9 -25z" fill="#fffc00"/></g>
<g transform="translate(123.7 284.1)"><path d="M-3.5 -2.6l3.5 2.6 4.4 -1.4v-14.8l-4.4 1.4 -3.5 -2.6zM0 0v-14.8"/><path class="l" d="M-3.5 -2.6L0 0v-14.8l-3.5 -2.6z"/><path d="M-3.5 -17.4L0 -14.8L4.4 -16.2L0.9 -18.8z" fill="#ffb100"/></g>
<g transform="translate(118.2 285.8)"><path d="M-3.5 -2.6l3.5 2.6 4.4 -1.4v-14.8l-4.4 1.4 -3.5 -2.6zM0 0v-14.8"/><path class="l" d="M-3.5 -2.6L0 0v-14.8l-3.5 -2.6z"/><path d="M-3.5 -17.4L0 -14.8L4.4 -16.2L0.9 -18.8z" fill="#ffb100"/></g>
<g transform="translate(112.6 287.5)"><path d="M-3.5 -2.6l3.5 2.6 4.4 -1.4v-14.8l-4.4 1.4 -3.5 -2.6zM0 0v-14.8"/><path class="l" d="M-3.5 -2.6L0 0v-14.8l-3.5 -2.6z"/><path d="M-3.5 -17.4L0 -14.8L4.4 -16.2L0.9 -18.8z" fill="#ffb100"/></g>
<g transform="translate(107.1 289.2)"><path d="M-3.6 -2.6l3.6 2.6 4.4 -1.4v-14.8l-4.4 1.4 -3.6 -2.6zM0 0v-14.8"/><path class="l" d="M-3.6 -2.6L0 0v-14.8l-3.6 -2.6z"/><path d="M-3.6 -17.4L0 -14.8L4.4 -16.2L0.9 -18.8z" fill="#ffb100"/></g>
<g transform="translate(101.5 291)"><path d="M-3.5 -2.6l3.5 2.6 4.4 -1.4v-14.8l-4.4 1.4 -3.5 -2.6zM0 0v-14.8"/><path class="l" d="M-3.5 -2.6L0 0v-14.8l-3.5 -2.6z"/><path d="M-3.5 -17.4L0 -14.8L4.4 -16.2L0.9 -18.8z" fill="#ffb100"/></g>
<g transform="translate(96 292.7)"><path d="M-3.6 -2.6l3.6 2.6 4.4 -1.4v-14.8l-4.4 1.4 -3.6 -2.6zM0 0v-14.8"/><path class="l" d="M-3.6 -2.6L0 0v-14.8l-3.6 -2.6z"/><path d="M-3.6 -17.4L0 -14.8L4.4 -16.2L0.9 -18.8z" fill="#ffb100"/></g>
<g transform="translate(90.4 294.4)"><path d="M-3.5 -2.6l3.5 2.6 4.4 -1.4v-14.8l-4.4 1.4 -3.5 -2.6zM0 0v-14.8"/><path class="l" d="M-3.5 -2.6L0 0v-14.8l-3.5 -2.6z"/><path d="M-3.5 -17.4L0 -14.8L4.4 -16.2L0.9 -18.8z" fill="#ffb100"/></g>
<g transform="translate(84.9 296.1)"><path d="M-3.6 -2.6l3.6 2.6 4.4 -1.4v-14.8l-4.4 1.4 -3.6 -2.6zM0 0v-14.8"/><path class="l" d="M-3.6 -2.6L0 0v-14.8l-3.6 -2.6z"/><path d="M-3.6 -17.4L0 -14.8L4.4 -16.2L0.9 -18.8z" fill="#ffb100"/></g>
<g transform="translate(79.4 297.8)"><path d="M-3.5 -2.6l3.5 2.6 4.4 -1.4v-14.8l-4.4 1.4 -3.5 -2.6zM0 0v-14.8"/><path class="l" d="M-3.5 -2.6L0 0v-14.8l-3.5 -2.6z"/><path d="M-3.5 -17.4L0 -14.8L4.4 -16.2L0.9 -18.8z" fill="#ffb100"/></g>
<g transform="translate(73.8 299.6)"><path d="M-3.6 -2.6l3.6 2.6 4.4 -1.4v-14.8l-4.4 1.4 -3.6 -2.6zM0 0v-14.8"/><path class="l" d="M-3.6 -2.6L0 0v-14.8l-3.6 -2.6z"/><path d="M-3.6 -17.4L0 -14.8L4.4 -16.2L0.9 -18.8z" fill="#ffb100"/></g>
<g transform="translate(68.3 301.3)"><path d="M-3.5 -2.6l3.5 2.6 4.4 -1.4v-14.8l-4.4 1.4 -3.5 -2.6zM0 0v-14.8"/><path class="l" d="M-3.5 -2.6L0 0v-14.8l-3.5 -2.6z"/><path d="M-3.5 -17.4L0 -14.8L4.4 -16.2L0.9 -18.8z" fill="#ffb100"/></g>
<g transform="translate(128.2 287.3)"><path d="M-3.5 -2.6l3.5 2.6 4.4 -1.4v-23.8l-4.4 1.4 -3.5 -2.6zM0 0v-23.8"/><path class="l" d="M-3.5 -2.6L0 0v-23.8l-3.5 -2.6z"/><path d="M-3.5 -26.4L0 -23.8L4.4 -25.2L0.9 -27.7z" fill="#ffff00"/></g>
<g transform="translate(122.6 289)"><path d="M-3.6 -2.6l3.6 2.6 4.4 -1.4v-23.6l-4.4 1.4 -3.6 -2.6zM0 0v-23.6"/><path class="l" d="M-3.6 -2.6L0 0v-23.6l-3.6 -2.6z"/><path d="M-3.6 -26.1L0 -23.6L4.4 -24.9L0.9 -27.5z" fill="#ffff00"/></g>
<g transform="translate(117.1 290.7)"><path d="M-3.5 -2.6l3.5 2.6 4.4 -1.4v-23.3l-4.4 1.4 -3.5 -2.6zM0 0v-23.3"/><path class="l" d="M-3.5 -2.6L0 0v-23.3l-3.5 -2.6z"/><path d="M-3.5 -25.9L0 -23.3L4.4 -24.7L0.9 -27.3z" fill="#ffff00"/></g>
<g transform="translate(111.5 292.4)"><path d="M-3.5 -2.6l3.5 2.6 4.4 -1.4v-23.1l-4.4 1.4 -3.5 -2.6zM0 0v-23.1"/><path class="l" d="M-3.5 -2.6L0 0v-23.1l-3.5 -2.6z"/><path d="M-3.5 -25.7L0 -23.1L4.4 -24.5L0.9 -27z" fill="#ffff00"/></g>
<g transform="translate(106 294.2)"><path d="M-3.6 -2.6l3.6 2.6 4.4 -1.4v-22.9l-4.4 1.4 -3.6 -2.6zM0 0v-22.9"/><path class="l" d="M-3.6 -2.6L0 0v-22.9l-3.6 -2.6z"/><path d="M-3.6 -25.4L0 -22.9L4.4 -24.2L0.9 -26.8z" fill="#ffff00"/></g>
<g transform="translate(100.4 295.9)"><path d="M-3.5 -2.6l3.5 2.6 4.4 -1.4v-22.6l-4.4 1.4 -3.5 -2.6zM0 0v-22.6"/><path class="l" d="M-3.5 -2.6L0 0v-22.6l-3.5 -2.6z"/><path d="M-3.5 -25.2L0 -22.6L4.4 -24L0.9 -26.6z" fill="#ffff00"/></g>
<g transform="translate(94.9 297.6)"><path d="M-3.5 -2.6l3.5 2.6 4.4 -1.4v-22.4l-4.4 1.4 -3.5 -2.6zM0 0v-22.4"/><path class="l" d="M-3.5 -2.6L0 0v-22.4l-3.5 -2.6z"/><path d="M-3.5 -25L0 -22.4L4.4 -23.8L0.9 -26.3z" fill="#ffff00"/></g>
<g transform="translate(89.3 299.3)"><path d="M-3.6 -2.6l3.6 2.6 4.4 -1.4v-22.2l-4.4 1.4 -3.6 -2.6zM0 0v-22.2"/><path class="l" d="M-3.6 -2.6L0 0v-22.2l-3.6 -2.6z"/><path d="M-3.6 -24.7L0 -22.2L4.4 -23.5L0.9 -26.1z" fill="#ffff00"/></g>
<g transform="translate(83.8 301.1)"><path d="M-3.5 -2.6l3.5 2.6 4.4 -1.4v-21.9l-4.4 1.4 -3.5 -2.6zM0 0v-21.9"/><path class="l" d="M-3.5 -2.6L0 0v-21.9l-3.5 -2.6z"/><path d="M-3.5 -24.5L0 -21.9L4.4 -23.3L0.9 -25.9z" fill="#ffff00"/></g>
<g transform="translate(78.2 302.8)"><path d="M-3.5 -2.6l3.5 2.6 4.4 -1.4v-21.7l-4.4 1.4 -3.5 -2.6zM0 0v-21.7"/><path class="l" d="M-3.5 -2.6L0 0v-21.7l-3.5 -2.6z"/><path d="M-3.5 -24.3L0 -21.7L4.4 -23.1L0.9 -25.6z" fill="#ffff00"/></g>
<g transform="translate(72.7 304.5)"><path d="M-3.5 -2.6l3.5 2.6 4.4 -1.4v-21.5l-4.4 1.4 -3.5 -2.6zM0 0v-21.5"/><path class="l" d="M-3.5 -2.6L0 0v-21.5l-3.5 -2.6z"/><path d="M-3.5 -24L0 -21.5L4.4 -22.8L0.9 -25.4z" fill="#ffff00"/></g>
</g>
<linearGradient id="cb8" x1="0" y1="1" x2="0" y2="0"><stop offset="0" stop-color="#f00"/><stop offset="1" stop-color="#ff0"/></linearGradient>
<rect x="139" y="226.4" width="5" height="95.2" fill="url(#cb8)"/>
<g class="t" font-size="2.6">
<text x="48.5" y="288.9" text-anchor="end">0</text>
<text x="48.5" y="281.1" text-anchor="end">0.2</text>
<text x="48.5" y="273.3" text-anchor="end">0.4</text>
<text x="41.3" y="276.5" font-size="3.2" text-anchor="middle" transform="rotate(-90 41.3 276.5)">Boundary recall</text>
<text x="50.9" y="295.7" text-anchor="end">POL-NLT</text>
<text x="55.3" y="298.9" text-anchor="end">WS</text>
<text x="59.7" y="302.1" text-anchor="end">HMMS</text>
<text x="64.2" y="305.3" text-anchor="end">GMMS</text>
<text x="68.6" y="308.5" text-anchor="end">NC</text>
<text x="80.6" y="309.5" text-anchor="middle">10</text>
<text x="86.2" y="307.8" text-anchor="middle">11</text>
<text x="91.7" y="306.1" text-anchor="middle">12</text>
<text x="97.3" y="304.4" text-anchor="middle">13</text>
<text x="102.8" y="302.6" text-anchor="middle">14</text>
<text x="108.3" y="300.9" text-anchor="middle">15</text>
<text x="113.9" y="299.2" text-anchor="middle">16</text>
<text x="119.4" y="297.5" text-anchor="middle">17</text>
<text x="125" y="295.7" text-anchor="middle">18</text>
<text x="130.5" y="294" text-anchor="middle">19</text>
<text x="136.1" y="292.3" text-anchor="middle">20</text>
<text x="50.2" y="312.1" font-size="3.2" text-anchor="middle">Methods</text>
<text x="104.2" y="310.7" font-size="3.2" text-anchor="middle">δ</text>
<path d="M139 321.6h0.8M144 321.6h-0.8" stroke="#777" stroke-width="0.3"/>
<text x="144.6" y="323">0</text>
<path d="M139 312.9h0.8M144 312.9h-0.8" stroke="#777" stroke-width="0.3"/>
<text x="144.6" y="314.3">0.05</text>
<path d="M139 304.2h0.8M144 304.2h-0.8" stroke="#777" stroke-width="0.3"/>
<text x="144.6" y="305.6">0.1</text>
<path d="M139 295.5h0.8M144 295.5h-0.8" stroke="#777" stroke-width="0.3"/>
<text x="144.6" y="296.9">0.15</text>
<path d="M139 286.8h0.8M144 286.8h-0.8" stroke="#777" stroke-width="0.3"/>
<text x="144.6" y="288.2">0.2</text>
<path d="M139 278.1h0.8M144 278.1h-0.8" stroke="#777" stroke-width="0.3"/>
<text x="144.6" y="279.5">0.25</text>
<path d="M139 269.4h0.8M144 269.4h-0.8" stroke="#777" stroke-width="0.3"/>
<text x="144.6" y="270.8">0.3</text>
<path d="M139 260.7h0.8M144 260.7h-0.8" stroke="#777" stroke-width="0.3"/>
<text x="144.6" y="262.1">0.35</text>
<path d="M139 252h0.8M144 252h-0.8" stroke="#777" stroke-width="0.3"/>
<text x="144.6" y="253.4">0.4</text>
<path d="M139 243.3h0.8M144 243.3h-0.8" stroke="#777" stroke-width="0.3"/>
<text x="144.6" y="244.7">0.45</text>
<path d="M139 234.6h0.8M144 234.6h-0.8" stroke="#777" stroke-width="0.3"/>
<text x="144.6" y="236">0.5</text>
</g>
<path d="M167.4 287.3L223.7 270L246.7 285.4M167.4 281.6L223.7 264.3L246.7 279.7M167.4 275.9L223.7 258.6L246.7 274M167.4 270.2L223.7 252.9L246.7 268.3M168.7 286.9L168.7 267M168.7 286.9L191.6 302.3M174 285.3L174 265.3M174 285.3L197 300.6M179.4 283.6L179.4 263.7M179.4 283.6L202.4 299M184.8 282L184.8 262M184.8 282L207.8 297.3M190.2 280.3L190.2 260.4M190.2 280.3L213.2 295.7M195.6 278.7L195.6 258.7M195.6 278.7L218.5 294M200.9 277L200.9 257.1M200.9 277L223.9 292.4M206.3 275.4L206.3 255.4M206.3 275.4L229.3 290.7M211.7 273.7L211.7 253.8M211.7 273.7L234.7 289.1M217.1 272.1L217.1 252.1M217.1 272.1L240.1 287.4M222.5 270.4L222.5 250.5M222.5 270.4L245.4 285.8M227 272.3L227 252.3M170.7 289.5L227 272.3M231.1 275L231.1 255M174.8 292.2L231.1 275M235.2 277.7L235.2 257.8M178.9 295L235.2 277.7M239.3 280.5L239.3 260.5M183 297.7L239.3 280.5M243.4 283.2L243.4 263.2M187.1 300.4L243.4 283.2" stroke="#e2e2e2" stroke-width="0.35" fill="none"/>
<path d="M167.4 287.3L223.7 270M223.7 270L246.7 285.4M223.7 270L223.7 250.1M246.7 285.4L246.7 265.4M167.4 267.4L223.7 250.1M223.7 250.1L246.7 265.4" stroke="#d0d0d0" stroke-width="0.35" fill="none"/>
<path d="M167.4 287.3L190.4 302.7M190.4 302.7L246.7 285.4M167.4 287.3L167.4 267.4" stroke="#aaa" stroke-width="0.4" fill="none"/>
<linearGradient id="g9" gradientUnits="userSpaceOnUse" x1="0" y1="0" x2="0" y2="-21.3"><stop offset="0" stop-color="#f00"/><stop offset="1" stop-color="#ff0"/></linearGradient>
<g fill="url(#g9)" stroke="rgba(100,30,0,0.55)" stroke-width="0.35">
<g transform="translate(225.3 274.4)"><path d="M-3.3 -2.2l3.3 2.2 4.3 -1.3v-20.7l-4.3 1.3 -3.3 -2.2zM0 0v-20.7"/><path class="l" d="M-3.3 -2.2L0 0v-20.7l-3.3 -2.2z"/><path d="M-3.3 -22.9L0 -20.7L4.3 -22L1 -24.2z" fill="#fff800"/></g>
<g transform="translate(219.9 276.1)"><path d="M-3.3 -2.2l3.3 2.2 4.3 -1.3v-20.7l-4.3 1.3 -3.3 -2.2zM0 0v-20.7"/><path class="l" d="M-3.3 -2.2L0 0v-20.7l-3.3 -2.2z"/><path d="M-3.3 -22.9L0 -20.7L4.3 -22L1 -24.2z" fill="#fff800"/></g>
<g transform="translate(214.5 277.7)"><path d="M-3.3 -2.2l3.3 2.2 4.3 -1.3v-20.7l-4.3 1.3 -3.3 -2.2zM0 0v-20.7"/><path class="l" d="M-3.3 -2.2L0 0v-20.7l-3.3 -2.2z"/><path d="M-3.3 -22.9L0 -20.7L4.3 -22L1 -24.2z" fill="#fff800"/></g>
<g transform="translate(209.1 279.3)"><path d="M-3.3 -2.2l3.3 2.2 4.3 -1.3v-20.7l-4.3 1.3 -3.3 -2.2zM0 0v-20.7"/><path class="l" d="M-3.3 -2.2L0 0v-20.7l-3.3 -2.2z"/><path d="M-3.3 -22.9L0 -20.7L4.3 -22L1 -24.2z" fill="#fff800"/></g>
<g transform="translate(203.7 281)"><path d="M-3.3 -2.2l3.3 2.2 4.3 -1.3v-20.7l-4.3 1.3 -3.3 -2.2zM0 0v-20.7"/><path class="l" d="M-3.3 -2.2L0 0v-20.7l-3.3 -2.2z"/><path d="M-3.3 -22.9L0 -20.7L4.3 -22L1 -24.2z" fill="#fff800"/></g>
<g transform="translate(198.4 282.6)"><path d="M-3.3 -2.2l3.3 2.2 4.3 -1.3v-20.7l-4.3 1.3 -3.3 -2.2zM0 0v-20.7"/><path class="l" d="M-3.3 -2.2L0 0v-20.7l-3.3 -2.2z"/><path d="M-3.3 -22.9L0 -20.7L4.3 -22L1 -24.2z" fill="#fff800"/></g>
<g transform="translate(193 284.3)"><path d="M-3.3 -2.2l3.3 2.2 4.3 -1.3v-20.7l-4.3 1.3 -3.3 -2.2zM0 0v-20.7"/><path class="l" d="M-3.3 -2.2L0 0v-20.7l-3.3 -2.2z"/><path d="M-3.3 -22.9L0 -20.7L4.3 -22L1 -24.2z" fill="#fff800"/></g>
<g transform="translate(187.6 285.9)"><path d="M-3.3 -2.2l3.3 2.2 4.3 -1.3v-20.7l-4.3 1.3 -3.3 -2.2zM0 0v-20.7"/><path class="l" d="M-3.3 -2.2L0 0v-20.7l-3.3 -2.2z"/><path d="M-3.3 -22.9L0 -20.7L4.3 -22L1 -24.2z" fill="#fff800"/></g>
<g transform="translate(182.2 287.6)"><path d="M-3.3 -2.2l3.3 2.2 4.3 -1.3v-20.7l-4.3 1.3 -3.3 -2.2zM0 0v-20.7"/><path class="l" d="M-3.3 -2.2L0 0v-20.7l-3.3 -2.2z"/><path d="M-3.3 -22.9L0 -20.7L4.3 -22L1 -24.2z" fill="#fff800"/></g>
<g transform="translate(176.8 289.2)"><path d="M-3.3 -2.2l3.3 2.2 4.3 -1.3v-20.7l-4.3 1.3 -3.3 -2.2zM0 0v-20.7"/><path class="l" d="M-3.3 -2.2L0 0v-20.7l-3.3 -2.2z"/><path d="M-3.3 -22.9L0 -20.7L4.3 -22L1 -24.2z" fill="#fff800"/></g>
<g transform="translate(171.5 290.9)"><path d="M-3.3 -2.2l3.3 2.2 4.3 -1.3v-20.7l-4.3 1.3 -3.3 -2.2zM0 0v-20.7"/><path class="l" d="M-3.3 -2.2L0 0v-20.7l-3.3 -2.2z"/><path d="M-3.3 -22.9L0 -20.7L4.3 -22L1 -24.2z" fill="#fff800"/></g>
<g transform="translate(229.3 277.1)"><path d="M-3.3 -2.2l3.3 2.2 4.3 -1.3v-19l-4.3 1.3 -3.3 -2.2zM0 0v-19"/><path class="l" d="M-3.3 -2.2L0 0v-19l-3.3 -2.2z"/><path d="M-3.3 -21.2L0 -19L4.3 -20.3L1 -22.5z" fill="#ffb600"/></g>
<g transform="translate(224 278.8)"><path d="M-3.3 -2.2l3.3 2.2 4.3 -1.3v-19.2l-4.3 1.3 -3.3 -2.2zM0 0v-19.2"/><path class="l" d="M-3.3 -2.2L0 0v-19.2l-3.3 -2.2z"/><path d="M-3.3 -21.4L0 -19.2L4.3 -20.5L1 -22.7z" fill="#ffbd00"/></g>
<g transform="translate(218.6 280.4)"><path d="M-3.3 -2.2l3.3 2.2 4.3 -1.3v-19.4l-4.3 1.3 -3.3 -2.2zM0 0v-19.4"/><path class="l" d="M-3.3 -2.2L0 0v-19.4l-3.3 -2.2z"/><path d="M-3.3 -21.6L0 -19.4L4.3 -20.8L1 -22.9z" fill="#ffc300"/></g>
<g transform="translate(213.2 282.1)"><path d="M-3.3 -2.2l3.3 2.2 4.3 -1.3v-19.7l-4.3 1.3 -3.3 -2.2zM0 0v-19.7"/><path class="l" d="M-3.3 -2.2L0 0v-19.7l-3.3 -2.2z"/><path d="M-3.3 -21.8L0 -19.7L4.3 -21L1 -23.2z" fill="#ffca00"/></g>
<g transform="translate(207.8 283.7)"><path d="M-3.3 -2.2l3.3 2.2 4.3 -1.3v-19.9l-4.3 1.3 -3.3 -2.2zM0 0v-19.9"/><path class="l" d="M-3.3 -2.2L0 0v-19.9l-3.3 -2.2z"/><path d="M-3.3 -22.1L0 -19.9L4.3 -21.2L1 -23.4z" fill="#ffd100"/></g>
<g transform="translate(202.4 285.4)"><path d="M-3.3 -2.2l3.3 2.2 4.3 -1.3v-20.1l-4.3 1.3 -3.3 -2.2zM0 0v-20.1"/><path class="l" d="M-3.3 -2.2L0 0v-20.1l-3.3 -2.2z"/><path d="M-3.3 -22.3L0 -20.1L4.3 -21.4L1 -23.6z" fill="#ffd800"/></g>
<g transform="translate(197.1 287)"><path d="M-3.3 -2.2l3.3 2.2 4.3 -1.3v-20.3l-4.3 1.3 -3.3 -2.2zM0 0v-20.3"/><path class="l" d="M-3.3 -2.2L0 0v-20.3l-3.3 -2.2z"/><path d="M-3.3 -22.5L0 -20.3L4.3 -21.6L1 -23.8z" fill="#ffe000"/></g>
<g transform="translate(191.7 288.7)"><path d="M-3.3 -2.2l3.3 2.2 4.3 -1.3v-20.5l-4.3 1.3 -3.3 -2.2zM0 0v-20.5"/><path class="l" d="M-3.3 -2.2L0 0v-20.5l-3.3 -2.2z"/><path d="M-3.3 -22.7L0 -20.5L4.3 -21.9L1 -24z" fill="#ffe700"/></g>
<g transform="translate(186.3 290.3)"><path d="M-3.3 -2.2l3.3 2.2 4.3 -1.3v-20.8l-4.3 1.3 -3.3 -2.2zM0 0v-20.8"/><path class="l" d="M-3.3 -2.2L0 0v-20.8l-3.3 -2.2z"/><path d="M-3.3 -22.9L0 -20.8L4.3 -22.1L1 -24.3z" fill="#ffee00"/></g>
<g transform="translate(180.9 292)"><path d="M-3.3 -2.2l3.3 2.2 4.3 -1.3v-21l-4.3 1.3 -3.3 -2.2zM0 0v-21"/><path class="l" d="M-3.3 -2.2L0 0v-21l-3.3 -2.2z"/><path d="M-3.3 -23.2L0 -21L4.3 -22.3L1 -24.5z" fill="#fff600"/></g>
<g transform="translate(175.6 293.6)"><path d="M-3.3 -2.2l3.3 2.2 4.3 -1.3v-21.2l-4.3 1.3 -3.3 -2.2zM0 0v-21.2"/><path class="l" d="M-3.3 -2.2L0 0v-21.2l-3.3 -2.2z"/><path d="M-3.3 -23.4L0 -21.2L4.3 -22.5L1 -24.7z" fill="#fffe00"/></g>
<g transform="translate(233.4 279.9)"><path d="M-3.3 -2.2l3.3 2.2 4.3 -1.3v-16l-4.3 1.3 -3.3 -2.2zM0 0v-16"/><path class="l" d="M-3.3 -2.2L0 0v-16l-3.3 -2.2z"/><path d="M-3.3 -18.2L0 -16L4.3 -17.3L1 -19.5z" fill="#ff8a00"/></g>
<g transform="translate(228.1 281.5)"><path d="M-3.3 -2.2l3.3 2.2 4.3 -1.3v-16.1l-4.3 1.3 -3.3 -2.2zM0 0v-16.1"/><path class="l" d="M-3.3 -2.2L0 0v-16.1l-3.3 -2.2z"/><path d="M-3.3 -18.3L0 -16.1L4.3 -17.4L1 -19.6z" fill="#ff8e00"/></g>
<g transform="translate(222.7 283.2)"><path d="M-3.3 -2.2l3.3 2.2 4.3 -1.3v-16.2l-4.3 1.3 -3.3 -2.2zM0 0v-16.2"/><path class="l" d="M-3.3 -2.2L0 0v-16.2l-3.3 -2.2z"/><path d="M-3.3 -18.4L0 -16.2L4.3 -17.5L1 -19.7z" fill="#ff9200"/></g>
<g transform="translate(217.3 284.8)"><path d="M-3.3 -2.2l3.3 2.2 4.3 -1.3v-16.3l-4.3 1.3 -3.3 -2.2zM0 0v-16.3"/><path class="l" d="M-3.3 -2.2L0 0v-16.3l-3.3 -2.2z"/><path d="M-3.3 -18.5L0 -16.3L4.3 -17.6L1 -19.8z" fill="#ff9500"/></g>
<g transform="translate(211.9 286.5)"><path d="M-3.3 -2.2l3.3 2.2 4.3 -1.3v-16.4l-4.3 1.3 -3.3 -2.2zM0 0v-16.4"/><path class="l" d="M-3.3 -2.2L0 0v-16.4l-3.3 -2.2z"/><path d="M-3.3 -18.5L0 -16.4L4.3 -17.7L1 -19.9z" fill="#ff9900"/></g>
<g transform="translate(206.5 288.1)"><path d="M-3.3 -2.2l3.3 2.2 4.3 -1.3v-16.4l-4.3 1.3 -3.3 -2.2zM0 0v-16.4"/><path class="l" d="M-3.3 -2.2L0 0v-16.4l-3.3 -2.2z"/><path d="M-3.3 -18.6L0 -16.4L4.3 -17.8L1 -20z" fill="#ff9d00"/></g>
<g transform="translate(201.2 289.7)"><path d="M-3.3 -2.2l3.3 2.2 4.3 -1.3v-16.5l-4.3 1.3 -3.3 -2.2zM0 0v-16.5"/><path class="l" d="M-3.3 -2.2L0 0v-16.5l-3.3 -2.2z"/><path d="M-3.3 -18.7L0 -16.5L4.3 -17.9L1 -20z" fill="#ffa100"/></g>
<g transform="translate(195.8 291.4)"><path d="M-3.3 -2.2l3.3 2.2 4.3 -1.3v-16.6l-4.3 1.3 -3.3 -2.2zM0 0v-16.6"/><path class="l" d="M-3.3 -2.2L0 0v-16.6l-3.3 -2.2z"/><path d="M-3.3 -18.8L0 -16.6L4.3 -17.9L1 -20.1z" fill="#ffa600"/></g>
<g transform="translate(190.4 293)"><path d="M-3.3 -2.2l3.3 2.2 4.3 -1.3v-16.7l-4.3 1.3 -3.3 -2.2zM0 0v-16.7"/><path class="l" d="M-3.3 -2.2L0 0v-16.7l-3.3 -2.2z"/><path d="M-3.3 -18.9L0 -16.7L4.3 -18L1 -20.2z" fill="#ffaa00"/></g>
<g transform="translate(185 294.7)"><path d="M-3.3 -2.2l3.3 2.2 4.3 -1.3v-16.8l-4.3 1.3 -3.3 -2.2zM0 0v-16.8"/><path class="l" d="M-3.3 -2.2L0 0v-16.8l-3.3 -2.2z"/><path d="M-3.3 -19L0 -16.8L4.3 -18.1L1 -20.3z" fill="#ffae00"/></g>
<g transform="translate(179.6 296.3)"><path d="M-3.3 -2.2l3.3 2.2 4.3 -1.3v-16.9l-4.3 1.3 -3.3 -2.2zM0 0v-16.9"/><path class="l" d="M-3.3 -2.2L0 0v-16.9l-3.3 -2.2z"/><path d="M-3.3 -19.1L0 -16.9L4.3 -18.2L1 -20.4z" fill="#ffb200"/></g>
<g transform="translate(237.5 282.6)"><path d="M-3.3 -2.2l3.3 2.2 4.3 -1.3v-14.2l-4.3 1.3 -3.3 -2.2zM0 0v-14.2"/><path class="l" d="M-3.3 -2.2L0 0v-14.2l-3.3 -2.2z"/><path d="M-3.3 -16.4L0 -14.2L4.3 -15.5L1 -17.7z" fill="#ff7f00"/></g>
<g transform="translate(232.1 284.2)"><path d="M-3.3 -2.2l3.3 2.2 4.3 -1.3v-14.2l-4.3 1.3 -3.3 -2.2zM0 0v-14.2"/><path class="l" d="M-3.3 -2.2L0 0v-14.2l-3.3 -2.2z"/><path d="M-3.3 -16.4L0 -14.2L4.3 -15.5L1 -17.7z" fill="#ff7f00"/></g>
<g transform="translate(226.8 285.9)"><path d="M-3.3 -2.2l3.3 2.2 4.3 -1.3v-14.2l-4.3 1.3 -3.3 -2.2zM0 0v-14.2"/><path class="l" d="M-3.3 -2.2L0 0v-14.2l-3.3 -2.2z"/><path d="M-3.3 -16.4L0 -14.2L4.3 -15.5L1 -17.7z" fill="#ff7f00"/></g>
<g transform="translate(221.4 287.5)"><path d="M-3.3 -2.2l3.3 2.2 4.3 -1.3v-14.2l-4.3 1.3 -3.3 -2.2zM0 0v-14.2"/><path class="l" d="M-3.3 -2.2L0 0v-14.2l-3.3 -2.2z"/><path d="M-3.3 -16.4L0 -14.2L4.3 -15.5L1 -17.7z" fill="#ff7f00"/></g>
<g transform="translate(216 289.2)"><path d="M-3.3 -2.2l3.3 2.2 4.3 -1.3v-14.2l-4.3 1.3 -3.3 -2.2zM0 0v-14.2"/><path class="l" d="M-3.3 -2.2L0 0v-14.2l-3.3 -2.2z"/><path d="M-3.3 -16.4L0 -14.2L4.3 -15.5L1 -17.7z" fill="#ff7f00"/></g>
<g transform="translate(210.6 290.8)"><path d="M-3.3 -2.2l3.3 2.2 4.3 -1.3v-14.2l-4.3 1.3 -3.3 -2.2zM0 0v-14.2"/><path class="l" d="M-3.3 -2.2L0 0v-14.2l-3.3 -2.2z"/><path d="M-3.3 -16.4L0 -14.2L4.3 -15.5L1 -17.7z" fill="#ff7f00"/></g>
<g transform="translate(205.2 292.5)"><path d="M-3.3 -2.2l3.3 2.2 4.3 -1.3v-14.2l-4.3 1.3 -3.3 -2.2zM0 0v-14.2"/><path class="l" d="M-3.3 -2.2L0 0v-14.2l-3.3 -2.2z"/><path d="M-3.3 -16.4L0 -14.2L4.3 -15.5L1 -17.7z" fill="#ff7f00"/></g>
<g transform="translate(199.9 294.1)"><path d="M-3.3 -2.2l3.3 2.2 4.3 -1.3v-14.2l-4.3 1.3 -3.3 -2.2zM0 0v-14.2"/><path class="l" d="M-3.3 -2.2L0 0v-14.2l-3.3 -2.2z"/><path d="M-3.3 -16.4L0 -14.2L4.3 -15.5L1 -17.7z" fill="#ff7f00"/></g>
<g transform="translate(194.5 295.8)"><path d="M-3.3 -2.2l3.3 2.2 4.3 -1.3v-14.2l-4.3 1.3 -3.3 -2.2zM0 0v-14.2"/><path class="l" d="M-3.3 -2.2L0 0v-14.2l-3.3 -2.2z"/><path d="M-3.3 -16.4L0 -14.2L4.3 -15.5L1 -17.7z" fill="#ff7f00"/></g>
<g transform="translate(189.1 297.4)"><path d="M-3.3 -2.2l3.3 2.2 4.3 -1.3v-14.2l-4.3 1.3 -3.3 -2.2zM0 0v-14.2"/><path class="l" d="M-3.3 -2.2L0 0v-14.2l-3.3 -2.2z"/><path d="M-3.3 -16.4L0 -14.2L4.3 -15.5L1 -17.7z" fill="#ff7f00"/></g>
<g transform="translate(183.7 299.1)"><path d="M-3.3 -2.2l3.3 2.2 4.3 -1.3v-14.2l-4.3 1.3 -3.3 -2.2zM0 0v-14.2"/><path class="l" d="M-3.3 -2.2L0 0v-14.2l-3.3 -2.2z"/><path d="M-3.3 -16.4L0 -14.2L4.3 -15.5L1 -17.7z" fill="#ff7f00"/></g>
<g transform="translate(241.6 285.3)"><path d="M-3.3 -2.2l3.3 2.2 4.3 -1.3v-16.2l-4.3 1.3 -3.3 -2.2zM0 0v-16.2"/><path class="l" d="M-3.3 -2.2L0 0v-16.2l-3.3 -2.2z"/><path d="M-3.3 -18.4L0 -16.2L4.3 -17.5L1 -19.7z" fill="#ff9b00"/></g>
<g transform="translate(236.2 287)"><path d="M-3.3 -2.2l3.3 2.2 4.3 -1.3v-16l-4.3 1.3 -3.3 -2.2zM0 0v-16"/><path class="l" d="M-3.3 -2.2L0 0v-16l-3.3 -2.2z"/><path d="M-3.3 -18.2L0 -16L4.3 -17.3L1 -19.5z" fill="#ff9900"/></g>
<g transform="translate(230.8 288.6)"><path d="M-3.3 -2.2l3.3 2.2 4.3 -1.3v-15.8l-4.3 1.3 -3.3 -2.2zM0 0v-15.8"/><path class="l" d="M-3.3 -2.2L0 0v-15.8l-3.3 -2.2z"/><path d="M-3.3 -18L0 -15.8L4.3 -17.1L1 -19.3z" fill="#ff9700"/></g>
<g transform="translate(225.5 290.3)"><path d="M-3.3 -2.2l3.3 2.2 4.3 -1.3v-15.6l-4.3 1.3 -3.3 -2.2zM0 0v-15.6"/><path class="l" d="M-3.3 -2.2L0 0v-15.6l-3.3 -2.2z"/><path d="M-3.3 -17.8L0 -15.6L4.3 -16.9L1 -19.1z" fill="#ff9500"/></g>
<g transform="translate(220.1 291.9)"><path d="M-3.3 -2.2l3.3 2.2 4.3 -1.3v-15.4l-4.3 1.3 -3.3 -2.2zM0 0v-15.4"/><path class="l" d="M-3.3 -2.2L0 0v-15.4l-3.3 -2.2z"/><path d="M-3.3 -17.6L0 -15.4L4.3 -16.7L1 -18.9z" fill="#ff9300"/></g>
<g transform="translate(214.7 293.6)"><path d="M-3.3 -2.2l3.3 2.2 4.3 -1.3v-15.2l-4.3 1.3 -3.3 -2.2zM0 0v-15.2"/><path class="l" d="M-3.3 -2.2L0 0v-15.2l-3.3 -2.2z"/><path d="M-3.3 -17.4L0 -15.2L4.3 -16.5L1 -18.7z" fill="#ff9100"/></g>
<g transform="translate(209.3 295.2)"><path d="M-3.3 -2.2l3.3 2.2 4.3 -1.3v-15l-4.3 1.3 -3.3 -2.2zM0 0v-15"/><path class="l" d="M-3.3 -2.2L0 0v-15l-3.3 -2.2z"/><path d="M-3.3 -17.2L0 -15L4.3 -16.3L1 -18.5z" fill="#ff9000"/></g>
<g transform="translate(203.9 296.9)"><path d="M-3.3 -2.2l3.3 2.2 4.3 -1.3v-14.8l-4.3 1.3 -3.3 -2.2zM0 0v-14.8"/><path class="l" d="M-3.3 -2.2L0 0v-14.8l-3.3 -2.2z"/><path d="M-3.3 -17L0 -14.8L4.3 -16.1L1 -18.3z" fill="#ff8e00"/></g>
<g transform="translate(198.6 298.5)"><path d="M-3.3 -2.2l3.3 2.2 4.3 -1.3v-14.6l-4.3 1.3 -3.3 -2.2zM0 0v-14.6"/><path class="l" d="M-3.3 -2.2L0 0v-14.6l-3.3 -2.2z"/><path d="M-3.3 -16.8L0 -14.6L4.3 -15.9L1 -18.1z" fill="#ff8c00"/></g>
<g transform="translate(193.2 300.2)"><path d="M-3.3 -2.2l3.3 2.2 4.3 -1.3v-14.4l-4.3 1.3 -3.3 -2.2zM0 0v-14.4"/><path class="l" d="M-3.3 -2.2L0 0v-14.4l-3.3 -2.2z"/><path d="M-3.3 -16.6L0 -14.4L4.3 -15.7L1 -17.9z" fill="#ff8a00"/></g>
<g transform="translate(187.8 301.8)"><path d="M-3.3 -2.2l3.3 2.2 4.3 -1.3v-14.2l-4.3 1.3 -3.3 -2.2zM0 0v-14.2"/><path class="l" d="M-3.3 -2.2L0 0v-14.2l-3.3 -2.2z"/><path d="M-3.3 -16.4L0 -14.2L4.3 -15.5L1 -17.7z" fill="#ff8800"/></g>
</g>
<linearGradient id="cb9" x1="0" y1="1" x2="0" y2="0"><stop offset="0" stop-color="#f00"/><stop offset="1" stop-color="#ff0"/></linearGradient>
<rect x="252" y="228.1" width="4.8" height="92.1" fill="url(#cb9)"/>
<g class="t" font-size="2.7">
<text x="165.6" y="288.3" text-anchor="end">0</text>
<text x="165.6" y="282.6" text-anchor="end">100</text>
<text x="165.6" y="276.9" text-anchor="end">200</text>
<text x="165.6" y="271.2" text-anchor="end">300</text>
<text x="157.4" y="276.3" font-size="3.35" text-anchor="middle" transform="rotate(-90 157.4 276.3)">Running Time(s)</text>
<text x="168.1" y="294.9" text-anchor="end">POL-NLT</text>
<text x="172.2" y="297.6" text-anchor="end">WS</text>
<text x="176.3" y="300.4" text-anchor="end">HMMS</text>
<text x="180.4" y="303.1" text-anchor="end">GMMS</text>
<text x="184.5" y="305.8" text-anchor="end">NC</text>
<text x="195.9" y="307" text-anchor="middle">10</text>
<text x="201.3" y="305.3" text-anchor="middle">11</text>
<text x="206.7" y="303.7" text-anchor="middle">12</text>
<text x="212.1" y="302" text-anchor="middle">13</text>
<text x="217.5" y="300.4" text-anchor="middle">14</text>
<text x="222.8" y="298.7" text-anchor="middle">15</text>
<text x="228.2" y="297.1" text-anchor="middle">16</text>
<text x="233.6" y="295.4" text-anchor="middle">17</text>
<text x="239" y="293.8" text-anchor="middle">18</text>
<text x="244.4" y="292.1" text-anchor="middle">19</text>
<text x="249.7" y="290.5" text-anchor="middle">20</text>
<text x="165.3" y="309.4" font-size="3.35" text-anchor="middle">Methods</text>
<text x="218.4" y="308.4" font-size="3.35" text-anchor="middle">δ</text>
<path d="M252 320.2h0.8M256.8 320.2h-0.8" stroke="#777" stroke-width="0.3"/>
<text x="257.4" y="321.7">0</text>
<path d="M252 307.9h0.8M256.8 307.9h-0.8" stroke="#777" stroke-width="0.3"/>
<text x="257.4" y="309.4">50</text>
<path d="M252 295.6h0.8M256.8 295.6h-0.8" stroke="#777" stroke-width="0.3"/>
<text x="257.4" y="297">100</text>
<path d="M252 283.3h0.8M256.8 283.3h-0.8" stroke="#777" stroke-width="0.3"/>
<text x="257.4" y="284.7">150</text>
<path d="M252 270.9h0.8M256.8 270.9h-0.8" stroke="#777" stroke-width="0.3"/>
<text x="257.4" y="272.4">200</text>
<path d="M252 258.6h0.8M256.8 258.6h-0.8" stroke="#777" stroke-width="0.3"/>
<text x="257.4" y="260.1">250</text>
<path d="M252 246.3h0.8M256.8 246.3h-0.8" stroke="#777" stroke-width="0.3"/>
<text x="257.4" y="247.8">300</text>
<path d="M252 234h0.8M256.8 234h-0.8" stroke="#777" stroke-width="0.3"/>
<text x="257.4" y="235.5">350</text>
</g>
<path d="M286.3 289.2L345.1 268.1L369 284.5M286.3 281.9L345.1 260.8L369 277.2M286.3 274.6L345.1 253.5L369 269.9M286.3 267.3L345.1 246.2L369 262.6M287.3 288.8L287.3 263.3M287.3 288.8L311.2 305.2M293 286.8L293 261.2M293 286.8L316.9 303.2M298.7 284.8L298.7 259.2M298.7 284.8L322.6 301.2M304.3 282.7L304.3 257.2M304.3 282.7L328.3 299.1M310 280.7L310 255.1M310 280.7L333.9 297.1M315.7 278.7L315.7 253.1M315.7 278.7L339.6 295M321.4 276.6L321.4 251.1M321.4 276.6L345.3 293M327 274.6L327 249M327 274.6L351 291M332.7 272.5L332.7 247M332.7 272.5L356.6 288.9M338.4 270.5L338.4 245M338.4 270.5L362.3 286.9M344.1 268.5L344.1 242.9M344.1 268.5L368 284.9M349 270.8L349 245.2M290.2 291.9L349 270.8M353 273.5L353 248M294.2 294.6L353 273.5M357 276.3L357 250.8M298.3 297.4L357 276.3M361.1 279.1L361.1 253.5M302.3 300.2L361.1 279.1M365.1 281.8L365.1 256.3M306.3 302.9L365.1 281.8" stroke="#e2e2e2" stroke-width="0.35" fill="none"/>
<path d="M286.3 289.2L345.1 268.1M345.1 268.1L369 284.5M345.1 268.1L345.1 242.6M369 284.5L369 259M286.3 263.6L345.1 242.6M345.1 242.6L369 259" stroke="#d0d0d0" stroke-width="0.35" fill="none"/>
<path d="M286.3 289.2L310.2 305.6M310.2 305.6L369 284.5M286.3 289.2L286.3 263.6" stroke="#aaa" stroke-width="0.4" fill="none"/>
<linearGradient id="g10" gradientUnits="userSpaceOnUse" x1="0" y1="0" x2="0" y2="-23.4"><stop offset="0" stop-color="#f00"/><stop offset="1" stop-color="#ff0"/></linearGradient>
<g fill="url(#g10)" stroke="rgba(100,30,0,0.55)" stroke-width="0.35">
<g transform="translate(347.3 273)"><path d="M-3.2 -2.2l3.2 2.2 4.5 -1.6v-19.9l-4.5 1.6 -3.2 -2.2zM0 0v-19.9"/><path class="l" d="M-3.2 -2.2L0 0v-19.9l-3.2 -2.2z"/><path d="M-3.2 -22.1L0 -19.9L4.5 -21.6L1.3 -23.8z" fill="#fffa00"/></g>
<g transform="translate(341.6 275.1)"><path d="M-3.2 -2.2l3.2 2.2 4.5 -1.6v-19.9l-4.5 1.6 -3.2 -2.2zM0 0v-19.9"/><path class="l" d="M-3.2 -2.2L0 0v-19.9l-3.2 -2.2z"/><path d="M-3.2 -22.1L0 -19.9L4.5 -21.6L1.3 -23.8z" fill="#fff700"/></g>
<g transform="translate(335.9 277.1)"><path d="M-3.2 -2.2l3.2 2.2 4.5 -1.6v-19.5l-4.5 1.6 -3.2 -2.2zM0 0v-19.5"/><path class="l" d="M-3.2 -2.2L0 0v-19.5l-3.2 -2.2z"/><path d="M-3.2 -21.8L0 -19.5L4.5 -21.2L1.3 -23.4z" fill="#ffef00"/></g>
<g transform="translate(330.3 279.2)"><path d="M-3.2 -2.2l3.2 2.2 4.5 -1.6v-18l-4.5 1.6 -3.2 -2.2zM0 0v-18"/><path class="l" d="M-3.2 -2.2L0 0v-18l-3.2 -2.2z"/><path d="M-3.2 -20.3L0 -18L4.5 -19.7L1.3 -21.9z" fill="#ffda00"/></g>
<g transform="translate(324.6 281.2)"><path d="M-3.2 -2.2l3.2 2.2 4.5 -1.6v-16.9l-4.5 1.6 -3.2 -2.2zM0 0v-16.9"/><path class="l" d="M-3.2 -2.2L0 0v-16.9l-3.2 -2.2z"/><path d="M-3.2 -19.1L0 -16.9L4.5 -18.5L1.3 -20.8z" fill="#ffc900"/></g>
<g transform="translate(318.9 283.2)"><path d="M-3.2 -2.2l3.2 2.2 4.5 -1.6v-15.8l-4.5 1.6 -3.2 -2.2zM0 0v-15.8"/><path class="l" d="M-3.2 -2.2L0 0v-15.8l-3.2 -2.2z"/><path d="M-3.2 -18L0 -15.8L4.5 -17.4L1.3 -19.6z" fill="#ffb900"/></g>
<g transform="translate(313.2 285.3)"><path d="M-3.2 -2.2l3.2 2.2 4.5 -1.6v-14.7l-4.5 1.6 -3.2 -2.2zM0 0v-14.7"/><path class="l" d="M-3.2 -2.2L0 0v-14.7l-3.2 -2.2z"/><path d="M-3.2 -16.9L0 -14.7L4.5 -16.3L1.3 -18.5z" fill="#ffaa00"/></g>
<g transform="translate(307.6 287.3)"><path d="M-3.2 -2.2l3.2 2.2 4.5 -1.6v-13.9l-4.5 1.6 -3.2 -2.2zM0 0v-13.9"/><path class="l" d="M-3.2 -2.2L0 0v-13.9l-3.2 -2.2z"/><path d="M-3.2 -16.1L0 -13.9L4.5 -15.5L1.3 -17.8z" fill="#ff9f00"/></g>
<g transform="translate(301.9 289.3)"><path d="M-3.2 -2.2l3.2 2.2 4.5 -1.6v-13.2l-4.5 1.6 -3.2 -2.2zM0 0v-13.2"/><path class="l" d="M-3.2 -2.2L0 0v-13.2l-3.2 -2.2z"/><path d="M-3.2 -15.4L0 -13.2L4.5 -14.8L1.3 -17z" fill="#ff9400"/></g>
<g transform="translate(296.2 291.4)"><path d="M-3.2 -2.2l3.2 2.2 4.5 -1.6v-12.8l-4.5 1.6 -3.2 -2.2zM0 0v-12.8"/><path class="l" d="M-3.2 -2.2L0 0v-12.8l-3.2 -2.2z"/><path d="M-3.2 -15L0 -12.8L4.5 -14.4L1.3 -16.6z" fill="#ff8e00"/></g>
<g transform="translate(290.5 293.4)"><path d="M-3.2 -2.2l3.2 2.2 4.5 -1.6v-12.4l-4.5 1.6 -3.2 -2.2zM0 0v-12.4"/><path class="l" d="M-3.2 -2.2L0 0v-12.4l-3.2 -2.2z"/><path d="M-3.2 -14.6L0 -12.4L4.5 -14L1.3 -16.3z" fill="#ff8700"/></g>
<g transform="translate(351.3 275.8)"><path d="M-3.2 -2.2l3.2 2.2 4.5 -1.6v-19.7l-4.5 1.6 -3.2 -2.2zM0 0v-19.7"/><path class="l" d="M-3.2 -2.2L0 0v-19.7l-3.2 -2.2z"/><path d="M-3.2 -21.9L0 -19.7L4.5 -21.4L1.3 -23.6z" fill="#fff100"/></g>
<g transform="translate(345.7 277.9)"><path d="M-3.2 -2.2l3.2 2.2 4.5 -1.6v-19.7l-4.5 1.6 -3.2 -2.2zM0 0v-19.7"/><path class="l" d="M-3.2 -2.2L0 0v-19.7l-3.2 -2.2z"/><path d="M-3.2 -21.9L0 -19.7L4.5 -21.4L1.3 -23.6z" fill="#ffef00"/></g>
<g transform="translate(340 279.9)"><path d="M-3.2 -2.2l3.2 2.2 4.5 -1.6v-19.4l-4.5 1.6 -3.2 -2.2zM0 0v-19.4"/><path class="l" d="M-3.2 -2.2L0 0v-19.4l-3.2 -2.2z"/><path d="M-3.2 -21.6L0 -19.4L4.5 -21L1.3 -23.2z" fill="#ffe800"/></g>
<g transform="translate(334.3 281.9)"><path d="M-3.2 -2.2l3.2 2.2 4.5 -1.6v-17.9l-4.5 1.6 -3.2 -2.2zM0 0v-17.9"/><path class="l" d="M-3.2 -2.2L0 0v-17.9l-3.2 -2.2z"/><path d="M-3.2 -20.1L0 -17.9L4.5 -19.5L1.3 -21.7z" fill="#ffd300"/></g>
<g transform="translate(328.6 284)"><path d="M-3.2 -2.2l3.2 2.2 4.5 -1.6v-16.8l-4.5 1.6 -3.2 -2.2zM0 0v-16.8"/><path class="l" d="M-3.2 -2.2L0 0v-16.8l-3.2 -2.2z"/><path d="M-3.2 -19L0 -16.8L4.5 -18.4L1.3 -20.6z" fill="#ffc400"/></g>
<g transform="translate(323 286)"><path d="M-3.2 -2.2l3.2 2.2 4.5 -1.6v-15.6l-4.5 1.6 -3.2 -2.2zM0 0v-15.6"/><path class="l" d="M-3.2 -2.2L0 0v-15.6l-3.2 -2.2z"/><path d="M-3.2 -17.9L0 -15.6L4.5 -17.3L1.3 -19.5z" fill="#ffb500"/></g>
<g transform="translate(317.3 288)"><path d="M-3.2 -2.2l3.2 2.2 4.5 -1.6v-14.5l-4.5 1.6 -3.2 -2.2zM0 0v-14.5"/><path class="l" d="M-3.2 -2.2L0 0v-14.5l-3.2 -2.2z"/><path d="M-3.2 -16.7L0 -14.5L4.5 -16.1L1.3 -18.4z" fill="#ffa600"/></g>
<g transform="translate(311.6 290.1)"><path d="M-3.2 -2.2l3.2 2.2 4.5 -1.6v-13.8l-4.5 1.6 -3.2 -2.2zM0 0v-13.8"/><path class="l" d="M-3.2 -2.2L0 0v-13.8l-3.2 -2.2z"/><path d="M-3.2 -16L0 -13.8L4.5 -15.4L1.3 -17.6z" fill="#ff9c00"/></g>
<g transform="translate(305.9 292.1)"><path d="M-3.2 -2.2l3.2 2.2 4.5 -1.6v-13l-4.5 1.6 -3.2 -2.2zM0 0v-13"/><path class="l" d="M-3.2 -2.2L0 0v-13l-3.2 -2.2z"/><path d="M-3.2 -15.2L0 -13L4.5 -14.7L1.3 -16.9z" fill="#ff9200"/></g>
<g transform="translate(300.3 294.2)"><path d="M-3.2 -2.2l3.2 2.2 4.5 -1.6v-12.7l-4.5 1.6 -3.2 -2.2zM0 0v-12.7"/><path class="l" d="M-3.2 -2.2L0 0v-12.7l-3.2 -2.2z"/><path d="M-3.2 -14.9L0 -12.7L4.5 -14.3L1.3 -16.5z" fill="#ff8c00"/></g>
<g transform="translate(294.6 296.2)"><path d="M-3.2 -2.2l3.2 2.2 4.5 -1.6v-12.3l-4.5 1.6 -3.2 -2.2zM0 0v-12.3"/><path class="l" d="M-3.2 -2.2L0 0v-12.3l-3.2 -2.2z"/><path d="M-3.2 -14.5L0 -12.3L4.5 -13.9L1.3 -16.1z" fill="#ff8600"/></g>
<g transform="translate(355.4 278.6)"><path d="M-3.2 -2.2l3.2 2.2 4.5 -1.6v-19.3l-4.5 1.6 -3.2 -2.2zM0 0v-19.3"/><path class="l" d="M-3.2 -2.2L0 0v-19.3l-3.2 -2.2z"/><path d="M-3.2 -21.6L0 -19.3L4.5 -21L1.3 -23.2z" fill="#ffde00"/></g>
<g transform="translate(349.7 280.6)"><path d="M-3.2 -2.2l3.2 2.2 4.5 -1.6v-19.3l-4.5 1.6 -3.2 -2.2zM0 0v-19.3"/><path class="l" d="M-3.2 -2.2L0 0v-19.3l-3.2 -2.2z"/><path d="M-3.2 -21.6L0 -19.3L4.5 -21L1.3 -23.2z" fill="#ffdd00"/></g>
<g transform="translate(344 282.7)"><path d="M-3.2 -2.2l3.2 2.2 4.5 -1.6v-19l-4.5 1.6 -3.2 -2.2zM0 0v-19"/><path class="l" d="M-3.2 -2.2L0 0v-19l-3.2 -2.2z"/><path d="M-3.2 -21.2L0 -19L4.5 -20.6L1.3 -22.8z" fill="#ffd700"/></g>
<g transform="translate(338.3 284.7)"><path d="M-3.2 -2.2l3.2 2.2 4.5 -1.6v-17.5l-4.5 1.6 -3.2 -2.2zM0 0v-17.5"/><path class="l" d="M-3.2 -2.2L0 0v-17.5l-3.2 -2.2z"/><path d="M-3.2 -19.7L0 -17.5L4.5 -19.1L1.3 -21.4z" fill="#ffc600"/></g>
<g transform="translate(332.7 286.7)"><path d="M-3.2 -2.2l3.2 2.2 4.5 -1.6v-16.4l-4.5 1.6 -3.2 -2.2zM0 0v-16.4"/><path class="l" d="M-3.2 -2.2L0 0v-16.4l-3.2 -2.2z"/><path d="M-3.2 -18.6L0 -16.4L4.5 -18.1L1.3 -20.3z" fill="#ffb900"/></g>
<g transform="translate(327 288.8)"><path d="M-3.2 -2.2l3.2 2.2 4.5 -1.6v-15.3l-4.5 1.6 -3.2 -2.2zM0 0v-15.3"/><path class="l" d="M-3.2 -2.2L0 0v-15.3l-3.2 -2.2z"/><path d="M-3.2 -17.5L0 -15.3L4.5 -17L1.3 -19.2z" fill="#ffac00"/></g>
<g transform="translate(321.3 290.8)"><path d="M-3.2 -2.2l3.2 2.2 4.5 -1.6v-14.2l-4.5 1.6 -3.2 -2.2zM0 0v-14.2"/><path class="l" d="M-3.2 -2.2L0 0v-14.2l-3.2 -2.2z"/><path d="M-3.2 -16.5L0 -14.2L4.5 -15.9L1.3 -18.1z" fill="#ff9e00"/></g>
<g transform="translate(315.6 292.8)"><path d="M-3.2 -2.2l3.2 2.2 4.5 -1.6v-13.5l-4.5 1.6 -3.2 -2.2zM0 0v-13.5"/><path class="l" d="M-3.2 -2.2L0 0v-13.5l-3.2 -2.2z"/><path d="M-3.2 -15.7L0 -13.5L4.5 -15.1L1.3 -17.4z" fill="#ff9600"/></g>
<g transform="translate(310 294.9)"><path d="M-3.2 -2.2l3.2 2.2 4.5 -1.6v-12.8l-4.5 1.6 -3.2 -2.2zM0 0v-12.8"/><path class="l" d="M-3.2 -2.2L0 0v-12.8l-3.2 -2.2z"/><path d="M-3.2 -15L0 -12.8L4.5 -14.4L1.3 -16.6z" fill="#ff8d00"/></g>
<g transform="translate(304.3 296.9)"><path d="M-3.2 -2.2l3.2 2.2 4.5 -1.6v-12.4l-4.5 1.6 -3.2 -2.2zM0 0v-12.4"/><path class="l" d="M-3.2 -2.2L0 0v-12.4l-3.2 -2.2z"/><path d="M-3.2 -14.6L0 -12.4L4.5 -14L1.3 -16.3z" fill="#ff8800"/></g>
<g transform="translate(298.6 299)"><path d="M-3.2 -2.2l3.2 2.2 4.5 -1.6v-12l-4.5 1.6 -3.2 -2.2zM0 0v-12"/><path class="l" d="M-3.2 -2.2L0 0v-12l-3.2 -2.2z"/><path d="M-3.2 -14.3L0 -12L4.5 -13.7L1.3 -15.9z" fill="#ff8300"/></g>
<g transform="translate(359.4 281.4)"><path d="M-3.2 -2.2l3.2 2.2 4.5 -1.6v-19.3l-4.5 1.6 -3.2 -2.2zM0 0v-19.3"/><path class="l" d="M-3.2 -2.2L0 0v-19.3l-3.2 -2.2z"/><path d="M-3.2 -21.6L0 -19.3L4.5 -21L1.3 -23.2z" fill="#ffc900"/></g>
<g transform="translate(353.7 283.4)"><path d="M-3.2 -2.2l3.2 2.2 4.5 -1.6v-19.3l-4.5 1.6 -3.2 -2.2zM0 0v-19.3"/><path class="l" d="M-3.2 -2.2L0 0v-19.3l-3.2 -2.2z"/><path d="M-3.2 -21.6L0 -19.3L4.5 -21L1.3 -23.2z" fill="#ffca00"/></g>
<g transform="translate(348.1 285.4)"><path d="M-3.2 -2.2l3.2 2.2 4.5 -1.6v-19l-4.5 1.6 -3.2 -2.2zM0 0v-19"/><path class="l" d="M-3.2 -2.2L0 0v-19l-3.2 -2.2z"/><path d="M-3.2 -21.2L0 -19L4.5 -20.6L1.3 -22.8z" fill="#ffc700"/></g>
<g transform="translate(342.4 287.5)"><path d="M-3.2 -2.2l3.2 2.2 4.5 -1.6v-17.5l-4.5 1.6 -3.2 -2.2zM0 0v-17.5"/><path class="l" d="M-3.2 -2.2L0 0v-17.5l-3.2 -2.2z"/><path d="M-3.2 -19.7L0 -17.5L4.5 -19.1L1.3 -21.4z" fill="#ffb900"/></g>
<g transform="translate(336.7 289.5)"><path d="M-3.2 -2.2l3.2 2.2 4.5 -1.6v-16.4l-4.5 1.6 -3.2 -2.2zM0 0v-16.4"/><path class="l" d="M-3.2 -2.2L0 0v-16.4l-3.2 -2.2z"/><path d="M-3.2 -18.6L0 -16.4L4.5 -18.1L1.3 -20.3z" fill="#ffae00"/></g>
<g transform="translate(331 291.5)"><path d="M-3.2 -2.2l3.2 2.2 4.5 -1.6v-15.3l-4.5 1.6 -3.2 -2.2zM0 0v-15.3"/><path class="l" d="M-3.2 -2.2L0 0v-15.3l-3.2 -2.2z"/><path d="M-3.2 -17.5L0 -15.3L4.5 -17L1.3 -19.2z" fill="#ffa300"/></g>
<g transform="translate(325.4 293.6)"><path d="M-3.2 -2.2l3.2 2.2 4.5 -1.6v-14.2l-4.5 1.6 -3.2 -2.2zM0 0v-14.2"/><path class="l" d="M-3.2 -2.2L0 0v-14.2l-3.2 -2.2z"/><path d="M-3.2 -16.5L0 -14.2L4.5 -15.9L1.3 -18.1z" fill="#ff9800"/></g>
<g transform="translate(319.7 295.6)"><path d="M-3.2 -2.2l3.2 2.2 4.5 -1.6v-13.5l-4.5 1.6 -3.2 -2.2zM0 0v-13.5"/><path class="l" d="M-3.2 -2.2L0 0v-13.5l-3.2 -2.2z"/><path d="M-3.2 -15.7L0 -13.5L4.5 -15.1L1.3 -17.4z" fill="#ff9100"/></g>
<g transform="translate(314 297.7)"><path d="M-3.2 -2.2l3.2 2.2 4.5 -1.6v-12.8l-4.5 1.6 -3.2 -2.2zM0 0v-12.8"/><path class="l" d="M-3.2 -2.2L0 0v-12.8l-3.2 -2.2z"/><path d="M-3.2 -15L0 -12.8L4.5 -14.4L1.3 -16.6z" fill="#ff8a00"/></g>
<g transform="translate(308.3 299.7)"><path d="M-3.2 -2.2l3.2 2.2 4.5 -1.6v-12.4l-4.5 1.6 -3.2 -2.2zM0 0v-12.4"/><path class="l" d="M-3.2 -2.2L0 0v-12.4l-3.2 -2.2z"/><path d="M-3.2 -14.6L0 -12.4L4.5 -14L1.3 -16.3z" fill="#ff8700"/></g>
<g transform="translate(302.7 301.7)"><path d="M-3.2 -2.2l3.2 2.2 4.5 -1.6v-12l-4.5 1.6 -3.2 -2.2zM0 0v-12"/><path class="l" d="M-3.2 -2.2L0 0v-12l-3.2 -2.2z"/><path d="M-3.2 -14.3L0 -12L4.5 -13.7L1.3 -15.9z" fill="#ff8300"/></g>
<g transform="translate(363.5 284.1)"><path d="M-3.2 -2.2l3.2 2.2 4.5 -1.6v-19.3l-4.5 1.6 -3.2 -2.2zM0 0v-19.3"/><path class="l" d="M-3.2 -2.2L0 0v-19.3l-3.2 -2.2z"/><path d="M-3.2 -21.6L0 -19.3L4.5 -21L1.3 -23.2z" fill="#ffc900"/></g>
<g transform="translate(357.8 286.2)"><path d="M-3.2 -2.2l3.2 2.2 4.5 -1.6v-19.3l-4.5 1.6 -3.2 -2.2zM0 0v-19.3"/><path class="l" d="M-3.2 -2.2L0 0v-19.3l-3.2 -2.2z"/><path d="M-3.2 -21.6L0 -19.3L4.5 -21L1.3 -23.2z" fill="#ffca00"/></g>
<g transform="translate(352.1 288.2)"><path d="M-3.2 -2.2l3.2 2.2 4.5 -1.6v-19l-4.5 1.6 -3.2 -2.2zM0 0v-19"/><path class="l" d="M-3.2 -2.2L0 0v-19l-3.2 -2.2z"/><path d="M-3.2 -21.2L0 -19L4.5 -20.6L1.3 -22.8z" fill="#ffc700"/></g>
<g transform="translate(346.4 290.2)"><path d="M-3.2 -2.2l3.2 2.2 4.5 -1.6v-17.5l-4.5 1.6 -3.2 -2.2zM0 0v-17.5"/><path class="l" d="M-3.2 -2.2L0 0v-17.5l-3.2 -2.2z"/><path d="M-3.2 -19.7L0 -17.5L4.5 -19.1L1.3 -21.4z" fill="#ffb900"/></g>
<g transform="translate(340.8 292.3)"><path d="M-3.2 -2.2l3.2 2.2 4.5 -1.6v-16.4l-4.5 1.6 -3.2 -2.2zM0 0v-16.4"/><path class="l" d="M-3.2 -2.2L0 0v-16.4l-3.2 -2.2z"/><path d="M-3.2 -18.6L0 -16.4L4.5 -18.1L1.3 -20.3z" fill="#ffae00"/></g>
<g transform="translate(335.1 294.3)"><path d="M-3.2 -2.2l3.2 2.2 4.5 -1.6v-15.3l-4.5 1.6 -3.2 -2.2zM0 0v-15.3"/><path class="l" d="M-3.2 -2.2L0 0v-15.3l-3.2 -2.2z"/><path d="M-3.2 -17.5L0 -15.3L4.5 -17L1.3 -19.2z" fill="#ffa300"/></g>
<g transform="translate(329.4 296.4)"><path d="M-3.2 -2.2l3.2 2.2 4.5 -1.6v-14.2l-4.5 1.6 -3.2 -2.2zM0 0v-14.2"/><path class="l" d="M-3.2 -2.2L0 0v-14.2l-3.2 -2.2z"/><path d="M-3.2 -16.5L0 -14.2L4.5 -15.9L1.3 -18.1z" fill="#ff9800"/></g>
<g transform="translate(323.7 298.4)"><path d="M-3.2 -2.2l3.2 2.2 4.5 -1.6v-13.5l-4.5 1.6 -3.2 -2.2zM0 0v-13.5"/><path class="l" d="M-3.2 -2.2L0 0v-13.5l-3.2 -2.2z"/><path d="M-3.2 -15.7L0 -13.5L4.5 -15.1L1.3 -17.4z" fill="#ff9100"/></g>
<g transform="translate(318.1 300.4)"><path d="M-3.2 -2.2l3.2 2.2 4.5 -1.6v-12.8l-4.5 1.6 -3.2 -2.2zM0 0v-12.8"/><path class="l" d="M-3.2 -2.2L0 0v-12.8l-3.2 -2.2z"/><path d="M-3.2 -15L0 -12.8L4.5 -14.4L1.3 -16.6z" fill="#ff8a00"/></g>
<g transform="translate(312.4 302.5)"><path d="M-3.2 -2.2l3.2 2.2 4.5 -1.6v-12.4l-4.5 1.6 -3.2 -2.2zM0 0v-12.4"/><path class="l" d="M-3.2 -2.2L0 0v-12.4l-3.2 -2.2z"/><path d="M-3.2 -14.6L0 -12.4L4.5 -14L1.3 -16.3z" fill="#ff8700"/></g>
<g transform="translate(306.7 304.5)"><path d="M-3.2 -2.2l3.2 2.2 4.5 -1.6v-12l-4.5 1.6 -3.2 -2.2zM0 0v-12"/><path class="l" d="M-3.2 -2.2L0 0v-12l-3.2 -2.2z"/><path d="M-3.2 -14.3L0 -12L4.5 -13.7L1.3 -15.9z" fill="#ff8300"/></g>
</g>
<linearGradient id="cb10" x1="0" y1="1" x2="0" y2="0"><stop offset="0" stop-color="#f00"/><stop offset="1" stop-color="#ff0"/></linearGradient>
<rect x="374.4" y="228.1" width="4.6" height="95.4" fill="url(#cb10)"/>
<g class="t" font-size="2.95">
<text x="284.5" y="290.3" text-anchor="end">0</text>
<text x="284.5" y="283" text-anchor="end">0.2</text>
<text x="284.5" y="275.7" text-anchor="end">0.4</text>
<text x="284.5" y="268.4" text-anchor="end">0.6</text>
<text x="273.3" y="271.7" font-size="3.45" text-anchor="middle" transform="rotate(-90 273.3 271.7)">Under-segmentation error</text>
<text x="287.6" y="297.3" text-anchor="end">POL-NLT</text>
<text x="291.6" y="300" text-anchor="end">WS</text>
<text x="295.7" y="302.8" text-anchor="end">HMMS</text>
<text x="299.7" y="305.6" text-anchor="end">GMMS</text>
<text x="303.7" y="308.3" text-anchor="end">NC</text>
<text x="315.5" y="309.9" text-anchor="middle">10</text>
<text x="321.2" y="307.9" text-anchor="middle">11</text>
<text x="326.9" y="305.9" text-anchor="middle">12</text>
<text x="332.6" y="303.8" text-anchor="middle">13</text>
<text x="338.2" y="301.8" text-anchor="middle">14</text>
<text x="343.9" y="299.7" text-anchor="middle">15</text>
<text x="349.6" y="297.7" text-anchor="middle">16</text>
<text x="355.3" y="295.7" text-anchor="middle">17</text>
<text x="360.9" y="293.6" text-anchor="middle">18</text>
<text x="366.6" y="291.6" text-anchor="middle">19</text>
<text x="372.3" y="289.6" text-anchor="middle">20</text>
<text x="284.2" y="312.1" font-size="3.45" text-anchor="middle">Methods</text>
<text x="338.9" y="309" font-size="3.45" text-anchor="middle">δ</text>
<path d="M374.4 323.5h0.8M379 323.5h-0.8" stroke="#777" stroke-width="0.3"/>
<text x="379.6" y="325.1">0</text>
<path d="M374.4 306.2h0.8M379 306.2h-0.8" stroke="#777" stroke-width="0.3"/>
<text x="379.6" y="307.8">0.1</text>
<path d="M374.4 289h0.8M379 289h-0.8" stroke="#777" stroke-width="0.3"/>
<text x="379.6" y="290.6">0.2</text>
<path d="M374.4 271.7h0.8M379 271.7h-0.8" stroke="#777" stroke-width="0.3"/>
<text x="379.6" y="273.3">0.3</text>
<path d="M374.4 254.5h0.8M379 254.5h-0.8" stroke="#777" stroke-width="0.3"/>
<text x="379.6" y="256.1">0.4</text>
<path d="M374.4 237.2h0.8M379 237.2h-0.8" stroke="#777" stroke-width="0.3"/>
<text x="379.6" y="238.8">0.5</text>
</g>
<path d="M412.6 289.9L474.2 267L498.7 284.1M412.6 278.8L474.2 255.7L498.7 272M412.6 267.8L474.2 244.4L498.7 259.9M415.2 288.9L415.2 266.8M415.2 288.9L439.7 306.1M420.8 286.8L420.8 264.7M420.8 286.8L445.4 304M426.5 284.7L426.5 262.5M426.5 284.7L451 301.9M432.1 282.6L432.1 260.4M432.1 282.6L456.6 299.8M437.7 280.5L437.7 258.2M437.7 280.5L462.3 297.7M443.4 278.4L443.4 256.1M443.4 278.4L467.9 295.6M449 276.3L449 254M449 276.3L473.6 293.5M454.7 274.2L454.7 251.8M454.7 274.2L479.2 291.4M460.3 272.1L460.3 249.7M460.3 272.1L484.8 289.3M465.9 270L465.9 247.5M465.9 270L490.5 287.2M471.6 267.9L471.6 245.4M471.6 267.9L496.1 285.1M478.3 269.8L478.3 247M416.7 292.8L478.3 269.8M482.3 272.7L482.3 249.6M420.8 295.6L482.3 272.7M486.4 275.5L486.4 252.2M424.9 298.5L486.4 275.5M490.5 278.4L490.5 254.7M429 301.3L490.5 278.4M494.6 281.2L494.6 257.3M433 304.2L494.6 281.2" stroke="#e2e2e2" stroke-width="0.35" fill="none"/>
<path d="M412.6 289.9L474.2 267M474.2 267L498.7 284.1M474.2 267L474.2 244.4M498.7 284.1L498.7 259.9M412.6 267.8L474.2 244.4M474.2 244.4L498.7 259.9" stroke="#d0d0d0" stroke-width="0.35" fill="none"/>
<path d="M412.6 289.9L437.1 307M437.1 307L498.7 284.1M412.6 289.9L412.6 267.8" stroke="#aaa" stroke-width="0.4" fill="none"/>
<linearGradient id="g11" gradientUnits="userSpaceOnUse" x1="0" y1="0" x2="0" y2="-19.3"><stop offset="0" stop-color="#f00"/><stop offset="1" stop-color="#ff0"/></linearGradient>
<g fill="url(#g11)" stroke="rgba(100,30,0,0.55)" stroke-width="0.35">
<g transform="translate(475.1 272.8)scale(1 1.005)"><path d="M-3.3 -2.3l3.3 2.3 4.5 -1.7v-19l-4.5 1.7 -3.3 -2.3zM0 0v-19"/><path class="l" d="M-3.3 -2.3L0 0v-19l-3.3 -2.3z"/><path d="M-3.3 -21.3L0 -19L4.5 -20.7L1.2 -22.9z" fill="#fffb00"/></g>
<g transform="translate(469.4 274.9)scale(1 1.007)"><path d="M-3.3 -2.3l3.3 2.3 4.5 -1.7v-19l-4.5 1.7 -3.3 -2.3zM0 0v-19"/><path class="l" d="M-3.3 -2.3L0 0v-19l-3.3 -2.3z"/><path d="M-3.3 -21.3L0 -19L4.5 -20.7L1.2 -22.9z" fill="#fffb00"/></g>
<g transform="translate(463.8 277)scale(1 1.008)"><path d="M-3.3 -2.3l3.3 2.3 4.5 -1.7v-19l-4.5 1.7 -3.3 -2.3zM0 0v-19"/><path class="l" d="M-3.3 -2.3L0 0v-19l-3.3 -2.3z"/><path d="M-3.3 -21.3L0 -19L4.5 -20.7L1.2 -22.9z" fill="#fffb00"/></g>
<g transform="translate(458.1 279.1)scale(1 1.009)"><path d="M-3.3 -2.3l3.3 2.3 4.5 -1.7v-19l-4.5 1.7 -3.3 -2.3zM0 0v-19"/><path class="l" d="M-3.3 -2.3L0 0v-19l-3.3 -2.3z"/><path d="M-3.3 -21.3L0 -19L4.5 -20.7L1.2 -22.9z" fill="#fffb00"/></g>
<g transform="translate(452.5 281.2)scale(1 1.01)"><path d="M-3.3 -2.3l3.3 2.3 4.5 -1.7v-19l-4.5 1.7 -3.3 -2.3zM0 0v-19"/><path class="l" d="M-3.3 -2.3L0 0v-19l-3.3 -2.3z"/><path d="M-3.3 -21.3L0 -19L4.5 -20.7L1.2 -22.9z" fill="#fffb00"/></g>
<g transform="translate(446.9 283.3)scale(1 1.011)"><path d="M-3.3 -2.3l3.3 2.3 4.5 -1.7v-19l-4.5 1.7 -3.3 -2.3zM0 0v-19"/><path class="l" d="M-3.3 -2.3L0 0v-19l-3.3 -2.3z"/><path d="M-3.3 -21.3L0 -19L4.5 -20.7L1.2 -22.9z" fill="#fffb00"/></g>
<g transform="translate(441.2 285.4)scale(1 1.012)"><path d="M-3.3 -2.3l3.3 2.3 4.5 -1.7v-19l-4.5 1.7 -3.3 -2.3zM0 0v-19"/><path class="l" d="M-3.3 -2.3L0 0v-19l-3.3 -2.3z"/><path d="M-3.3 -21.3L0 -19L4.5 -20.7L1.2 -22.9z" fill="#fffb00"/></g>
<g transform="translate(435.6 287.5)scale(1 1.013)"><path d="M-3.3 -2.3l3.3 2.3 4.5 -1.7v-19l-4.5 1.7 -3.3 -2.3zM0 0v-19"/><path class="l" d="M-3.3 -2.3L0 0v-19l-3.3 -2.3z"/><path d="M-3.3 -21.3L0 -19L4.5 -20.7L1.2 -22.9z" fill="#fffb00"/></g>
<g transform="translate(429.9 289.6)scale(1 1.014)"><path d="M-3.3 -2.3l3.3 2.3 4.5 -1.7v-19l-4.5 1.7 -3.3 -2.3zM0 0v-19"/><path class="l" d="M-3.3 -2.3L0 0v-19l-3.3 -2.3z"/><path d="M-3.3 -21.3L0 -19L4.5 -20.7L1.2 -22.9z" fill="#fffb00"/></g>
<g transform="translate(424.3 291.7)scale(1 1.015)"><path d="M-3.3 -2.2l3.3 2.2 4.5 -1.7v-19l-4.5 1.7 -3.3 -2.2zM0 0v-19"/><path class="l" d="M-3.3 -2.2L0 0v-19l-3.3 -2.2z"/><path d="M-3.3 -21.2L0 -19L4.5 -20.7L1.2 -22.9z" fill="#fffb00"/></g>
<g transform="translate(418.7 293.8)scale(1 1.016)"><path d="M-3.3 -2.2l3.3 2.2 4.5 -1.7v-19l-4.5 1.7 -3.3 -2.2zM0 0v-19"/><path class="l" d="M-3.3 -2.2L0 0v-19l-3.3 -2.2z"/><path d="M-3.3 -21.2L0 -19L4.5 -20.7L1.2 -22.9z" fill="#fffb00"/></g>
<g transform="translate(479.1 275.6)scale(1 1.019)"><path d="M-3.3 -2.2l3.3 2.2 4.5 -1.7v-19l-4.5 1.7 -3.3 -2.2zM0 0v-19"/><path class="l" d="M-3.3 -2.2L0 0v-19l-3.3 -2.2z"/><path d="M-3.3 -21.2L0 -19L4.5 -20.7L1.2 -22.9z" fill="#fffb00"/></g>
<g transform="translate(473.5 277.7)scale(1 1.023)"><path d="M-3.3 -2.2l3.3 2.2 4.5 -1.6v-19l-4.5 1.6 -3.3 -2.2zM0 0v-19"/><path class="l" d="M-3.3 -2.2L0 0v-19l-3.3 -2.2z"/><path d="M-3.3 -21.2L0 -19L4.5 -20.6L1.2 -22.9z" fill="#fffb00"/></g>
<g transform="translate(467.9 279.8)scale(1 1.027)"><path d="M-3.3 -2.2l3.3 2.2 4.5 -1.6v-19l-4.5 1.6 -3.3 -2.2zM0 0v-19"/><path class="l" d="M-3.3 -2.2L0 0v-19l-3.3 -2.2z"/><path d="M-3.3 -21.2L0 -19L4.5 -20.6L1.2 -22.9z" fill="#fffb00"/></g>
<g transform="translate(462.2 281.9)scale(1 1.03)"><path d="M-3.3 -2.2l3.3 2.2 4.5 -1.6v-19l-4.5 1.6 -3.3 -2.2zM0 0v-19"/><path class="l" d="M-3.3 -2.2L0 0v-19l-3.3 -2.2z"/><path d="M-3.3 -21.2L0 -19L4.5 -20.6L1.2 -22.8z" fill="#fffb00"/></g>
<g transform="translate(456.6 284)scale(1 1.034)"><path d="M-3.3 -2.2l3.3 2.2 4.5 -1.6v-19l-4.5 1.6 -3.3 -2.2zM0 0v-19"/><path class="l" d="M-3.3 -2.2L0 0v-19l-3.3 -2.2z"/><path d="M-3.3 -21.2L0 -19L4.5 -20.6L1.2 -22.8z" fill="#fffb00"/></g>
<g transform="translate(450.9 286.1)scale(1 1.038)"><path d="M-3.3 -2.2l3.3 2.2 4.5 -1.6v-19l-4.5 1.6 -3.3 -2.2zM0 0v-19"/><path class="l" d="M-3.3 -2.2L0 0v-19l-3.3 -2.2z"/><path d="M-3.3 -21.2L0 -19L4.5 -20.6L1.2 -22.8z" fill="#fffb00"/></g>
<g transform="translate(445.3 288.2)scale(1 1.042)"><path d="M-3.3 -2.2l3.3 2.2 4.5 -1.6v-19l-4.5 1.6 -3.3 -2.2zM0 0v-19"/><path class="l" d="M-3.3 -2.2L0 0v-19l-3.3 -2.2z"/><path d="M-3.3 -21.2L0 -19L4.5 -20.6L1.2 -22.8z" fill="#fffb00"/></g>
<g transform="translate(439.7 290.3)scale(1 1.045)"><path d="M-3.3 -2.2l3.3 2.2 4.5 -1.6v-19l-4.5 1.6 -3.3 -2.2zM0 0v-19"/><path class="l" d="M-3.3 -2.2L0 0v-19l-3.3 -2.2z"/><path d="M-3.3 -21.2L0 -19L4.5 -20.6L1.2 -22.8z" fill="#fffb00"/></g>
<g transform="translate(434 292.4)scale(1 1.049)"><path d="M-3.3 -2.2l3.3 2.2 4.5 -1.6v-19l-4.5 1.6 -3.3 -2.2zM0 0v-19"/><path class="l" d="M-3.3 -2.2L0 0v-19l-3.3 -2.2z"/><path d="M-3.3 -21.2L0 -19L4.5 -20.6L1.2 -22.8z" fill="#fffb00"/></g>
<g transform="translate(428.4 294.5)scale(1 1.053)"><path d="M-3.3 -2.2l3.3 2.2 4.5 -1.6v-19l-4.5 1.6 -3.3 -2.2zM0 0v-19"/><path class="l" d="M-3.3 -2.2L0 0v-19l-3.3 -2.2z"/><path d="M-3.3 -21.2L0 -19L4.5 -20.6L1.2 -22.8z" fill="#fffb00"/></g>
<g transform="translate(422.8 296.6)scale(1 1.057)"><path d="M-3.3 -2.2l3.3 2.2 4.5 -1.6v-19l-4.5 1.6 -3.3 -2.2zM0 0v-19"/><path class="l" d="M-3.3 -2.2L0 0v-19l-3.3 -2.2z"/><path d="M-3.3 -21.2L0 -19L4.5 -20.6L1.2 -22.8z" fill="#fffb00"/></g>
<g transform="translate(483.2 278.5)scale(1 1.033)"><path d="M-3.3 -2.2l3.3 2.2 4.5 -1.6v-19l-4.5 1.6 -3.3 -2.2zM0 0v-19"/><path class="l" d="M-3.3 -2.2L0 0v-19l-3.3 -2.2z"/><path d="M-3.3 -21.2L0 -19L4.5 -20.6L1.2 -22.8z" fill="#fffb00"/></g>
<g transform="translate(477.6 280.6)scale(1 1.039)"><path d="M-3.3 -2.2l3.3 2.2 4.5 -1.6v-19l-4.5 1.6 -3.3 -2.2zM0 0v-19"/><path class="l" d="M-3.3 -2.2L0 0v-19l-3.3 -2.2z"/><path d="M-3.3 -21.2L0 -19L4.5 -20.6L1.2 -22.8z" fill="#fffb00"/></g>
<g transform="translate(471.9 282.7)scale(1 1.046)"><path d="M-3.3 -2.2l3.3 2.2 4.5 -1.6v-19l-4.5 1.6 -3.3 -2.2zM0 0v-19"/><path class="l" d="M-3.3 -2.2L0 0v-19l-3.3 -2.2z"/><path d="M-3.3 -21.2L0 -19L4.5 -20.6L1.2 -22.8z" fill="#fffb00"/></g>
<g transform="translate(466.3 284.8)scale(1 1.052)"><path d="M-3.3 -2.2l3.3 2.2 4.5 -1.6v-19l-4.5 1.6 -3.3 -2.2zM0 0v-19"/><path class="l" d="M-3.3 -2.2L0 0v-19l-3.3 -2.2z"/><path d="M-3.3 -21.2L0 -19L4.5 -20.6L1.2 -22.8z" fill="#fffb00"/></g>
<g transform="translate(460.7 286.9)scale(1 1.059)"><path d="M-3.3 -2.2l3.3 2.2 4.5 -1.6v-19l-4.5 1.6 -3.3 -2.2zM0 0v-19"/><path class="l" d="M-3.3 -2.2L0 0v-19l-3.3 -2.2z"/><path d="M-3.3 -21.2L0 -19L4.5 -20.6L1.2 -22.7z" fill="#fffb00"/></g>
<g transform="translate(455 289)scale(1 1.065)"><path d="M-3.3 -2.1l3.3 2.1 4.5 -1.6v-19l-4.5 1.6 -3.3 -2.1zM0 0v-19"/><path class="l" d="M-3.3 -2.1L0 0v-19l-3.3 -2.1z"/><path d="M-3.3 -21.1L0 -19L4.5 -20.6L1.2 -22.7z" fill="#fffb00"/></g>
<g transform="translate(449.4 291.1)scale(1 1.071)"><path d="M-3.3 -2.1l3.3 2.1 4.5 -1.6v-19l-4.5 1.6 -3.3 -2.1zM0 0v-19"/><path class="l" d="M-3.3 -2.1L0 0v-19l-3.3 -2.1z"/><path d="M-3.3 -21.1L0 -19L4.5 -20.6L1.2 -22.7z" fill="#fffb00"/></g>
<g transform="translate(443.8 293.2)scale(1 1.078)"><path d="M-3.3 -2.1l3.3 2.1 4.5 -1.6v-19l-4.5 1.6 -3.3 -2.1zM0 0v-19"/><path class="l" d="M-3.3 -2.1L0 0v-19l-3.3 -2.1z"/><path d="M-3.3 -21.1L0 -19L4.5 -20.6L1.2 -22.7z" fill="#fffb00"/></g>
<g transform="translate(438.1 295.3)scale(1 1.084)"><path d="M-3.3 -2.1l3.3 2.1 4.5 -1.6v-19l-4.5 1.6 -3.3 -2.1zM0 0v-19"/><path class="l" d="M-3.3 -2.1L0 0v-19l-3.3 -2.1z"/><path d="M-3.3 -21.1L0 -19L4.5 -20.6L1.2 -22.7z" fill="#fffb00"/></g>
<g transform="translate(432.5 297.4)scale(1 1.091)"><path d="M-3.3 -2.1l3.3 2.1 4.5 -1.5v-19l-4.5 1.5 -3.3 -2.1zM0 0v-19"/><path class="l" d="M-3.3 -2.1L0 0v-19l-3.3 -2.1z"/><path d="M-3.3 -21.1L0 -19L4.5 -20.5L1.2 -22.6z" fill="#fffb00"/></g>
<g transform="translate(426.8 299.5)scale(1 1.097)"><path d="M-3.3 -2.1l3.3 2.1 4.5 -1.5v-19l-4.5 1.5 -3.3 -2.1zM0 0v-19"/><path class="l" d="M-3.3 -2.1L0 0v-19l-3.3 -2.1z"/><path d="M-3.3 -21.1L0 -19L4.5 -20.5L1.2 -22.6z" fill="#fffb00"/></g>
<g transform="translate(487.3 281.3)scale(1 1.046)"><path d="M-3.3 -2.2l3.3 2.2 4.5 -1.6v-19l-4.5 1.6 -3.3 -2.2zM0 0v-19"/><path class="l" d="M-3.3 -2.2L0 0v-19l-3.3 -2.2z"/><path d="M-3.3 -21.2L0 -19L4.5 -20.6L1.2 -22.8z" fill="#fffb00"/></g>
<g transform="translate(481.7 283.4)scale(1 1.055)"><path d="M-3.3 -2.2l3.3 2.2 4.5 -1.6v-19l-4.5 1.6 -3.3 -2.2zM0 0v-19"/><path class="l" d="M-3.3 -2.2L0 0v-19l-3.3 -2.2z"/><path d="M-3.3 -21.2L0 -19L4.5 -20.6L1.2 -22.8z" fill="#fffb00"/></g>
<g transform="translate(476 285.5)scale(1 1.065)"><path d="M-3.3 -2.1l3.3 2.1 4.5 -1.6v-19l-4.5 1.6 -3.3 -2.1zM0 0v-19"/><path class="l" d="M-3.3 -2.1L0 0v-19l-3.3 -2.1z"/><path d="M-3.3 -21.1L0 -19L4.5 -20.6L1.2 -22.7z" fill="#fffb00"/></g>
<g transform="translate(470.4 287.6)scale(1 1.074)"><path d="M-3.3 -2.1l3.3 2.1 4.5 -1.6v-19l-4.5 1.6 -3.3 -2.1zM0 0v-19"/><path class="l" d="M-3.3 -2.1L0 0v-19l-3.3 -2.1z"/><path d="M-3.3 -21.1L0 -19L4.5 -20.6L1.2 -22.7z" fill="#fffb00"/></g>
<g transform="translate(464.7 289.7)scale(1 1.083)"><path d="M-3.3 -2.1l3.3 2.1 4.5 -1.6v-19l-4.5 1.6 -3.3 -2.1zM0 0v-19"/><path class="l" d="M-3.3 -2.1L0 0v-19l-3.3 -2.1z"/><path d="M-3.3 -21.1L0 -19L4.5 -20.6L1.2 -22.7z" fill="#fffb00"/></g>
<g transform="translate(459.1 291.8)scale(1 1.092)"><path d="M-3.3 -2.1l3.3 2.1 4.5 -1.5v-19l-4.5 1.5 -3.3 -2.1zM0 0v-19"/><path class="l" d="M-3.3 -2.1L0 0v-19l-3.3 -2.1z"/><path d="M-3.3 -21.1L0 -19L4.5 -20.5L1.2 -22.6z" fill="#fffb00"/></g>
<g transform="translate(453.5 293.9)scale(1 1.101)"><path d="M-3.3 -2.1l3.3 2.1 4.5 -1.5v-19l-4.5 1.5 -3.3 -2.1zM0 0v-19"/><path class="l" d="M-3.3 -2.1L0 0v-19l-3.3 -2.1z"/><path d="M-3.3 -21.1L0 -19L4.5 -20.5L1.2 -22.6z" fill="#fffb00"/></g>
<g transform="translate(447.8 296)scale(1 1.11)"><path d="M-3.3 -2.1l3.3 2.1 4.5 -1.5v-19l-4.5 1.5 -3.3 -2.1zM0 0v-19"/><path class="l" d="M-3.3 -2.1L0 0v-19l-3.3 -2.1z"/><path d="M-3.3 -21.1L0 -19L4.5 -20.5L1.2 -22.6z" fill="#fffb00"/></g>
<g transform="translate(442.2 298.1)scale(1 1.12)"><path d="M-3.3 -2l3.3 2 4.5 -1.5v-19l-4.5 1.5 -3.3 -2zM0 0v-19"/><path class="l" d="M-3.3 -2L0 0v-19l-3.3 -2z"/><path d="M-3.3 -21L0 -19L4.5 -20.5L1.2 -22.5z" fill="#fffb00"/></g>
<g transform="translate(436.6 300.2)scale(1 1.129)"><path d="M-3.3 -2l3.3 2 4.5 -1.5v-19l-4.5 1.5 -3.3 -2zM0 0v-19"/><path class="l" d="M-3.3 -2L0 0v-19l-3.3 -2z"/><path d="M-3.3 -21L0 -19L4.5 -20.5L1.2 -22.5z" fill="#fffb00"/></g>
<g transform="translate(430.9 302.3)scale(1 1.138)"><path d="M-3.3 -2l3.3 2 4.5 -1.5v-19l-4.5 1.5 -3.3 -2zM0 0v-19"/><path class="l" d="M-3.3 -2L0 0v-19l-3.3 -2z"/><path d="M-3.3 -21L0 -19L4.5 -20.5L1.2 -22.5z" fill="#fffb00"/></g>
<g transform="translate(491.4 284.2)scale(1 1.06)"><path d="M-3.3 -2.2l3.3 2.2 4.5 -1.6v-19l-4.5 1.6 -3.3 -2.2zM0 0v-19"/><path class="l" d="M-3.3 -2.2L0 0v-19l-3.3 -2.2z"/><path d="M-3.3 -21.2L0 -19L4.5 -20.6L1.2 -22.7z" fill="#fffb00"/></g>
<g transform="translate(485.8 286.3)scale(1 1.072)"><path d="M-3.3 -2.1l3.3 2.1 4.5 -1.6v-19l-4.5 1.6 -3.3 -2.1zM0 0v-19"/><path class="l" d="M-3.3 -2.1L0 0v-19l-3.3 -2.1z"/><path d="M-3.3 -21.1L0 -19L4.5 -20.6L1.2 -22.7z" fill="#fffb00"/></g>
<g transform="translate(480.1 288.4)scale(1 1.084)"><path d="M-3.3 -2.1l3.3 2.1 4.5 -1.6v-19l-4.5 1.6 -3.3 -2.1zM0 0v-19"/><path class="l" d="M-3.3 -2.1L0 0v-19l-3.3 -2.1z"/><path d="M-3.3 -21.1L0 -19L4.5 -20.6L1.2 -22.7z" fill="#fffb00"/></g>
<g transform="translate(474.5 290.5)scale(1 1.095)"><path d="M-3.3 -2.1l3.3 2.1 4.5 -1.5v-19l-4.5 1.5 -3.3 -2.1zM0 0v-19"/><path class="l" d="M-3.3 -2.1L0 0v-19l-3.3 -2.1z"/><path d="M-3.3 -21.1L0 -19L4.5 -20.5L1.2 -22.6z" fill="#fffb00"/></g>
<g transform="translate(468.8 292.6)scale(1 1.107)"><path d="M-3.3 -2.1l3.3 2.1 4.5 -1.5v-19l-4.5 1.5 -3.3 -2.1zM0 0v-19"/><path class="l" d="M-3.3 -2.1L0 0v-19l-3.3 -2.1z"/><path d="M-3.3 -21.1L0 -19L4.5 -20.5L1.2 -22.6z" fill="#fffb00"/></g>
<g transform="translate(463.2 294.7)scale(1 1.119)"><path d="M-3.3 -2l3.3 2 4.5 -1.5v-19l-4.5 1.5 -3.3 -2zM0 0v-19"/><path class="l" d="M-3.3 -2L0 0v-19l-3.3 -2z"/><path d="M-3.3 -21L0 -19L4.5 -20.5L1.2 -22.5z" fill="#fffb00"/></g>
<g transform="translate(457.6 296.8)scale(1 1.131)"><path d="M-3.3 -2l3.3 2 4.5 -1.5v-19l-4.5 1.5 -3.3 -2zM0 0v-19"/><path class="l" d="M-3.3 -2L0 0v-19l-3.3 -2z"/><path d="M-3.3 -21L0 -19L4.5 -20.5L1.2 -22.5z" fill="#fffb00"/></g>
<g transform="translate(451.9 298.9)scale(1 1.143)"><path d="M-3.3 -2l3.3 2 4.5 -1.5v-19l-4.5 1.5 -3.3 -2zM0 0v-19"/><path class="l" d="M-3.3 -2L0 0v-19l-3.3 -2z"/><path d="M-3.3 -21L0 -19L4.5 -20.5L1.2 -22.5z" fill="#fffb00"/></g>
<g transform="translate(446.3 301)scale(1 1.155)"><path d="M-3.3 -2l3.3 2 4.5 -1.5v-19l-4.5 1.5 -3.3 -2zM0 0v-19"/><path class="l" d="M-3.3 -2L0 0v-19l-3.3 -2z"/><path d="M-3.3 -21L0 -19L4.5 -20.5L1.2 -22.4z" fill="#fffb00"/></g>
<g transform="translate(440.6 303.1)scale(1 1.167)"><path d="M-3.3 -2l3.3 2 4.5 -1.4v-19l-4.5 1.4 -3.3 -2zM0 0v-19"/><path class="l" d="M-3.3 -2L0 0v-19l-3.3 -2z"/><path d="M-3.3 -21L0 -19L4.5 -20.4L1.2 -22.4z" fill="#fffb00"/></g>
<g transform="translate(435 305.2)scale(1 1.179)"><path d="M-3.3 -1.9l3.3 1.9 4.5 -1.4v-19l-4.5 1.4 -3.3 -1.9zM0 0v-19"/><path class="l" d="M-3.3 -1.9L0 0v-19l-3.3 -1.9z"/><path d="M-3.3 -20.9L0 -19L4.5 -20.4L1.2 -22.4z" fill="#fffb00"/></g>
</g>
<linearGradient id="cb11" x1="0" y1="1" x2="0" y2="0"><stop offset="0" stop-color="#f00"/><stop offset="1" stop-color="#ff0"/></linearGradient>
<rect x="502" y="228.5" width="4.4" height="95" fill="url(#cb11)"/>
<g class="t" font-size="2.9">
<text x="410.8" y="290.9" text-anchor="end">0</text>
<text x="410.8" y="279.9" text-anchor="end">0.5</text>
<text x="410.8" y="268.8" text-anchor="end">1</text>
<text x="402.3" y="263.7" font-size="3.53" text-anchor="middle" transform="rotate(-90 402.3 263.7)">Achievable segmentation accuracy</text>
<text x="414.1" y="298.2" text-anchor="end">POL-NLT</text>
<text x="418.2" y="301" text-anchor="end">WS</text>
<text x="422.3" y="303.9" text-anchor="end">HMMS</text>
<text x="426.4" y="306.7" text-anchor="end">GMMS</text>
<text x="430.4" y="309.6" text-anchor="end">NC</text>
<text x="444" y="310.8" text-anchor="middle">10</text>
<text x="449.7" y="308.7" text-anchor="middle">11</text>
<text x="455.3" y="306.6" text-anchor="middle">12</text>
<text x="460.9" y="304.5" text-anchor="middle">13</text>
<text x="466.6" y="302.4" text-anchor="middle">14</text>
<text x="472.2" y="300.3" text-anchor="middle">15</text>
<text x="477.9" y="298.2" text-anchor="middle">16</text>
<text x="483.5" y="296.1" text-anchor="middle">17</text>
<text x="489.1" y="294" text-anchor="middle">18</text>
<text x="494.8" y="291.9" text-anchor="middle">19</text>
<text x="500.4" y="289.8" text-anchor="middle">20</text>
<text x="412.5" y="312.8" font-size="3.53" text-anchor="middle">Methods</text>
<text x="466.9" y="309.4" font-size="3.53" text-anchor="middle">δ</text>
<path d="M502 323.5h0.8M506.4 323.5h-0.8" stroke="#777" stroke-width="0.3"/>
<text x="507" y="325">0</text>
<path d="M502 313.1h0.8M506.4 313.1h-0.8" stroke="#777" stroke-width="0.3"/>
<text x="507" y="314.6">0.1</text>
<path d="M502 302.7h0.8M506.4 302.7h-0.8" stroke="#777" stroke-width="0.3"/>
<text x="507" y="304.2">0.2</text>
<path d="M502 292.3h0.8M506.4 292.3h-0.8" stroke="#777" stroke-width="0.3"/>
<text x="507" y="293.8">0.3</text>
<path d="M502 281.9h0.8M506.4 281.9h-0.8" stroke="#777" stroke-width="0.3"/>
<text x="507" y="283.4">0.4</text>
<path d="M502 271.5h0.8M506.4 271.5h-0.8" stroke="#777" stroke-width="0.3"/>
<text x="507" y="273">0.5</text>
<path d="M502 261.1h0.8M506.4 261.1h-0.8" stroke="#777" stroke-width="0.3"/>
<text x="507" y="262.6">0.6</text>
<path d="M502 250.7h0.8M506.4 250.7h-0.8" stroke="#777" stroke-width="0.3"/>
<text x="507" y="252.2">0.7</text>
<path d="M502 240.3h0.8M506.4 240.3h-0.8" stroke="#777" stroke-width="0.3"/>
<text x="507" y="241.8">0.8</text>
<path d="M502 229.9h0.8M506.4 229.9h-0.8" stroke="#777" stroke-width="0.3"/>
<text x="507" y="231.4">0.9</text>
</g>
<path d="M48.5 395.9L112.4 377.1L136.1 394.6M48.5 386.9L112.4 368.1L136.1 385.6M48.5 377.9L112.4 359.1L136.1 376.6M50.8 395.2L50.8 372.7M50.8 395.2L74.5 412.7M56.7 393.5L56.7 371M56.7 393.5L80.5 410.9M62.7 391.7L62.7 369.2M62.7 391.7L86.4 409.2M68.6 390L68.6 367.5M68.6 390L92.3 407.5M74.5 388.3L74.5 365.8M74.5 388.3L98.2 405.7M80.4 386.5L80.4 364M80.4 386.5L104.2 404M86.4 384.8L86.4 362.3M86.4 384.8L110.1 402.2M92.3 383L92.3 360.5M92.3 383L116 400.5M98.2 381.3L98.2 358.8M98.2 381.3L121.9 398.8M104.1 379.6L104.1 357.1M104.1 379.6L127.9 397M110.1 377.8L110.1 355.3M110.1 377.8L133.8 395.3M116.5 380.2L116.5 357.7M52.6 398.9L116.5 380.2M120.4 383L120.4 360.5M56.5 401.8L120.4 383M124.2 385.9L124.2 363.4M60.4 404.6L124.2 385.9M128.1 388.7L128.1 366.2M64.2 407.5L128.1 388.7M132 391.6L132 369.1M68.1 410.3L132 391.6" stroke="#e2e2e2" stroke-width="0.35" fill="none"/>
<path d="M48.5 395.9L112.4 377.1M112.4 377.1L136.1 394.6M112.4 377.1L112.4 354.6M136.1 394.6L136.1 372.1M48.5 373.4L112.4 354.6M112.4 354.6L136.1 372.1" stroke="#d0d0d0" stroke-width="0.35" fill="none"/>
<path d="M48.5 395.9L72.2 413.4M72.2 413.4L136.1 394.6M48.5 395.9L48.5 373.4" stroke="#aaa" stroke-width="0.4" fill="none"/>
<linearGradient id="g12" gradientUnits="userSpaceOnUse" x1="0" y1="0" x2="0" y2="-21.8"><stop offset="0" stop-color="#f00"/><stop offset="1" stop-color="#ff0"/></linearGradient>
<g fill="url(#g12)" stroke="rgba(100,30,0,0.55)" stroke-width="0.35">
<g transform="translate(113.4 382.7)"><path d="M-3.1 -2.3l3.1 2.3 4.7 -1.4v-22.1l-4.7 1.4 -3.1 -2.3zM0 0v-22.1"/><path class="l" d="M-3.1 -2.3L0 0v-22.1l-3.1 -2.3z"/><path d="M-3.1 -24.3L0 -22.1L4.7 -23.4L1.6 -25.7z" fill="#ffff00"/></g>
<g transform="translate(107.4 384.4)"><path d="M-3.1 -2.3l3.1 2.3 4.7 -1.4v-22.1l-4.7 1.4 -3.1 -2.3zM0 0v-22.1"/><path class="l" d="M-3.1 -2.3L0 0v-22.1l-3.1 -2.3z"/><path d="M-3.1 -24.3L0 -22.1L4.7 -23.4L1.6 -25.7z" fill="#ffff00"/></g>
<g transform="translate(101.5 386.2)"><path d="M-3.1 -2.3l3.1 2.3 4.7 -1.4v-22.1l-4.7 1.4 -3.1 -2.3zM0 0v-22.1"/><path class="l" d="M-3.1 -2.3L0 0v-22.1l-3.1 -2.3z"/><path d="M-3.1 -24.3L0 -22.1L4.7 -23.4L1.6 -25.7z" fill="#ffff00"/></g>
<g transform="translate(95.6 387.9)"><path d="M-3.1 -2.3l3.1 2.3 4.7 -1.4v-22.1l-4.7 1.4 -3.1 -2.3zM0 0v-22.1"/><path class="l" d="M-3.1 -2.3L0 0v-22.1l-3.1 -2.3z"/><path d="M-3.1 -24.3L0 -22.1L4.7 -23.4L1.6 -25.7z" fill="#ffff00"/></g>
<g transform="translate(89.7 389.6)"><path d="M-3.1 -2.3l3.1 2.3 4.7 -1.4v-22.1l-4.7 1.4 -3.1 -2.3zM0 0v-22.1"/><path class="l" d="M-3.1 -2.3L0 0v-22.1l-3.1 -2.3z"/><path d="M-3.1 -24.3L0 -22.1L4.7 -23.4L1.6 -25.7z" fill="#ffff00"/></g>
<g transform="translate(83.7 391.4)"><path d="M-3.1 -2.3l3.1 2.3 4.7 -1.4v-22.1l-4.7 1.4 -3.1 -2.3zM0 0v-22.1"/><path class="l" d="M-3.1 -2.3L0 0v-22.1l-3.1 -2.3z"/><path d="M-3.1 -24.3L0 -22.1L4.7 -23.4L1.6 -25.7z" fill="#ffff00"/></g>
<g transform="translate(77.8 393.1)"><path d="M-3.1 -2.3l3.1 2.3 4.7 -1.4v-22.1l-4.7 1.4 -3.1 -2.3zM0 0v-22.1"/><path class="l" d="M-3.1 -2.3L0 0v-22.1l-3.1 -2.3z"/><path d="M-3.1 -24.3L0 -22.1L4.7 -23.4L1.6 -25.7z" fill="#ffff00"/></g>
<g transform="translate(71.9 394.9)"><path d="M-3.1 -2.3l3.1 2.3 4.7 -1.4v-22.1l-4.7 1.4 -3.1 -2.3zM0 0v-22.1"/><path class="l" d="M-3.1 -2.3L0 0v-22.1l-3.1 -2.3z"/><path d="M-3.1 -24.3L0 -22.1L4.7 -23.4L1.6 -25.7z" fill="#ffff00"/></g>
<g transform="translate(66 396.6)"><path d="M-3.1 -2.3l3.1 2.3 4.7 -1.4v-22.1l-4.7 1.4 -3.1 -2.3zM0 0v-22.1"/><path class="l" d="M-3.1 -2.3L0 0v-22.1l-3.1 -2.3z"/><path d="M-3.1 -24.3L0 -22.1L4.7 -23.4L1.6 -25.7z" fill="#ffff00"/></g>
<g transform="translate(60 398.3)"><path d="M-3.1 -2.3l3.1 2.3 4.7 -1.4v-22.1l-4.7 1.4 -3.1 -2.3zM0 0v-22.1"/><path class="l" d="M-3.1 -2.3L0 0v-22.1l-3.1 -2.3z"/><path d="M-3.1 -24.3L0 -22.1L4.7 -23.4L1.6 -25.7z" fill="#ffff00"/></g>
<g transform="translate(54.1 400.1)"><path d="M-3.1 -2.3l3.1 2.3 4.7 -1.4v-22.1l-4.7 1.4 -3.1 -2.3zM0 0v-22.1"/><path class="l" d="M-3.1 -2.3L0 0v-22.1l-3.1 -2.3z"/><path d="M-3.1 -24.3L0 -22.1L4.7 -23.4L1.6 -25.7z" fill="#ffff00"/></g>
<g transform="translate(117.2 385.5)"><path d="M-3.1 -2.3l3.1 2.3 4.7 -1.4v-18l-4.7 1.4 -3.1 -2.3zM0 0v-18"/><path class="l" d="M-3.1 -2.3L0 0v-18l-3.1 -2.3z"/><path d="M-3.1 -20.3L0 -18L4.7 -19.4L1.6 -21.7z" fill="#ffd200"/></g>
<g transform="translate(111.3 387.3)"><path d="M-3.1 -2.3l3.1 2.3 4.7 -1.4v-18l-4.7 1.4 -3.1 -2.3zM0 0v-18"/><path class="l" d="M-3.1 -2.3L0 0v-18l-3.1 -2.3z"/><path d="M-3.1 -20.3L0 -18L4.7 -19.4L1.6 -21.7z" fill="#ffd200"/></g>
<g transform="translate(105.4 389)"><path d="M-3.1 -2.3l3.1 2.3 4.7 -1.4v-18l-4.7 1.4 -3.1 -2.3zM0 0v-18"/><path class="l" d="M-3.1 -2.3L0 0v-18l-3.1 -2.3z"/><path d="M-3.1 -20.3L0 -18L4.7 -19.4L1.6 -21.7z" fill="#ffd200"/></g>
<g transform="translate(99.5 390.8)"><path d="M-3.1 -2.3l3.1 2.3 4.7 -1.4v-18l-4.7 1.4 -3.1 -2.3zM0 0v-18"/><path class="l" d="M-3.1 -2.3L0 0v-18l-3.1 -2.3z"/><path d="M-3.1 -20.3L0 -18L4.7 -19.4L1.6 -21.7z" fill="#ffd200"/></g>
<g transform="translate(93.5 392.5)"><path d="M-3.1 -2.3l3.1 2.3 4.7 -1.4v-18.4l-4.7 1.4 -3.1 -2.3zM0 0v-18.4"/><path class="l" d="M-3.1 -2.3L0 0v-18.4l-3.1 -2.3z"/><path d="M-3.1 -20.7L0 -18.4L4.7 -19.8L1.6 -22.1z" fill="#ffd800"/></g>
<g transform="translate(87.6 394.2)"><path d="M-3.1 -2.3l3.1 2.3 4.7 -1.4v-18.9l-4.7 1.4 -3.1 -2.3zM0 0v-18.9"/><path class="l" d="M-3.1 -2.3L0 0v-18.9l-3.1 -2.3z"/><path d="M-3.1 -21.2L0 -18.9L4.7 -20.3L1.6 -22.6z" fill="#ffdd00"/></g>
<g transform="translate(81.7 396)"><path d="M-3.1 -2.3l3.1 2.3 4.7 -1.4v-19.8l-4.7 1.4 -3.1 -2.3zM0 0v-19.8"/><path class="l" d="M-3.1 -2.3L0 0v-19.8l-3.1 -2.3z"/><path d="M-3.1 -22.1L0 -19.8L4.7 -21.2L1.6 -23.5z" fill="#ffe700"/></g>
<g transform="translate(75.8 397.7)"><path d="M-3.1 -2.3l3.1 2.3 4.7 -1.4v-20.7l-4.7 1.4 -3.1 -2.3zM0 0v-20.7"/><path class="l" d="M-3.1 -2.3L0 0v-20.7l-3.1 -2.3z"/><path d="M-3.1 -23L0 -20.7L4.7 -22.1L1.6 -24.4z" fill="#fff200"/></g>
<g transform="translate(69.8 399.5)"><path d="M-3.1 -2.3l3.1 2.3 4.7 -1.4v-21.6l-4.7 1.4 -3.1 -2.3zM0 0v-21.6"/><path class="l" d="M-3.1 -2.3L0 0v-21.6l-3.1 -2.3z"/><path d="M-3.1 -23.9L0 -21.6L4.7 -23L1.6 -25.3z" fill="#fffc00"/></g>
<g transform="translate(63.9 401.2)"><path d="M-3.1 -2.3l3.1 2.3 4.7 -1.4v-22.1l-4.7 1.4 -3.1 -2.3zM0 0v-22.1"/><path class="l" d="M-3.1 -2.3L0 0v-22.1l-3.1 -2.3z"/><path d="M-3.1 -24.3L0 -22.1L4.7 -23.4L1.6 -25.7z" fill="#ffff00"/></g>
<g transform="translate(58 402.9)"><path d="M-3.1 -2.3l3.1 2.3 4.7 -1.4v-22.1l-4.7 1.4 -3.1 -2.3zM0 0v-22.1"/><path class="l" d="M-3.1 -2.3L0 0v-22.1l-3.1 -2.3z"/><path d="M-3.1 -24.3L0 -22.1L4.7 -23.4L1.6 -25.7z" fill="#ffff00"/></g>
<g transform="translate(121.1 388.4)"><path d="M-3.1 -2.3l3.1 2.3 4.7 -1.4v-19.8l-4.7 1.4 -3.1 -2.3zM0 0v-19.8"/><path class="l" d="M-3.1 -2.3L0 0v-19.8l-3.1 -2.3z"/><path d="M-3.1 -22.1L0 -19.8L4.7 -21.2L1.6 -23.5z" fill="#ffe700"/></g>
<g transform="translate(115.2 390.1)"><path d="M-3.1 -2.3l3.1 2.3 4.7 -1.4v-19.9l-4.7 1.4 -3.1 -2.3zM0 0v-19.9"/><path class="l" d="M-3.1 -2.3L0 0v-19.9l-3.1 -2.3z"/><path d="M-3.1 -22.2L0 -19.9L4.7 -21.3L1.6 -23.6z" fill="#ffe900"/></g>
<g transform="translate(109.3 391.9)"><path d="M-3.1 -2.3l3.1 2.3 4.7 -1.4v-20.1l-4.7 1.4 -3.1 -2.3zM0 0v-20.1"/><path class="l" d="M-3.1 -2.3L0 0v-20.1l-3.1 -2.3z"/><path d="M-3.1 -22.4L0 -20.1L4.7 -21.5L1.6 -23.7z" fill="#ffea00"/></g>
<g transform="translate(103.3 393.6)"><path d="M-3.1 -2.3l3.1 2.3 4.7 -1.4v-20.2l-4.7 1.4 -3.1 -2.3zM0 0v-20.2"/><path class="l" d="M-3.1 -2.3L0 0v-20.2l-3.1 -2.3z"/><path d="M-3.1 -22.5L0 -20.2L4.7 -21.6L1.6 -23.9z" fill="#ffec00"/></g>
<g transform="translate(97.4 395.3)"><path d="M-3.1 -2.3l3.1 2.3 4.7 -1.4v-20.3l-4.7 1.4 -3.1 -2.3zM0 0v-20.3"/><path class="l" d="M-3.1 -2.3L0 0v-20.3l-3.1 -2.3z"/><path d="M-3.1 -22.6L0 -20.3L4.7 -21.7L1.6 -24z" fill="#ffee00"/></g>
<g transform="translate(91.5 397.1)"><path d="M-3.1 -2.3l3.1 2.3 4.7 -1.4v-20.5l-4.7 1.4 -3.1 -2.3zM0 0v-20.5"/><path class="l" d="M-3.1 -2.3L0 0v-20.5l-3.1 -2.3z"/><path d="M-3.1 -22.8L0 -20.5L4.7 -21.9L1.6 -24.2z" fill="#ffef00"/></g>
<g transform="translate(85.6 398.8)"><path d="M-3.1 -2.3l3.1 2.3 4.7 -1.4v-20.6l-4.7 1.4 -3.1 -2.3zM0 0v-20.6"/><path class="l" d="M-3.1 -2.3L0 0v-20.6l-3.1 -2.3z"/><path d="M-3.1 -22.9L0 -20.6L4.7 -22L1.6 -24.3z" fill="#fff100"/></g>
<g transform="translate(79.6 400.6)"><path d="M-3.1 -2.3l3.1 2.3 4.7 -1.4v-20.7l-4.7 1.4 -3.1 -2.3zM0 0v-20.7"/><path class="l" d="M-3.1 -2.3L0 0v-20.7l-3.1 -2.3z"/><path d="M-3.1 -23L0 -20.7L4.7 -22.1L1.6 -24.4z" fill="#fff200"/></g>
<g transform="translate(73.7 402.3)"><path d="M-3.1 -2.3l3.1 2.3 4.7 -1.4v-20.9l-4.7 1.4 -3.1 -2.3zM0 0v-20.9"/><path class="l" d="M-3.1 -2.3L0 0v-20.9l-3.1 -2.3z"/><path d="M-3.1 -23.2L0 -20.9L4.7 -22.3L1.6 -24.6z" fill="#fff400"/></g>
<g transform="translate(67.8 404.1)"><path d="M-3.1 -2.3l3.1 2.3 4.7 -1.4v-21l-4.7 1.4 -3.1 -2.3zM0 0v-21"/><path class="l" d="M-3.1 -2.3L0 0v-21l-3.1 -2.3z"/><path d="M-3.1 -23.3L0 -21L4.7 -22.4L1.6 -24.7z" fill="#fff600"/></g>
<g transform="translate(61.8 405.8)"><path d="M-3.1 -2.3l3.1 2.3 4.7 -1.4v-21.1l-4.7 1.4 -3.1 -2.3zM0 0v-21.1"/><path class="l" d="M-3.1 -2.3L0 0v-21.1l-3.1 -2.3z"/><path d="M-3.1 -23.4L0 -21.1L4.7 -22.5L1.6 -24.8z" fill="#fff700"/></g>
<g transform="translate(125 391.2)"><path d="M-3.1 -2.3l3.1 2.3 4.7 -1.4v-15.3l-4.7 1.4 -3.1 -2.3zM0 0v-15.3"/><path class="l" d="M-3.1 -2.3L0 0v-15.3l-3.1 -2.3z"/><path d="M-3.1 -17.6L0 -15.3L4.7 -16.7L1.6 -19z" fill="#ffb300"/></g>
<g transform="translate(119.1 393)"><path d="M-3.1 -2.3l3.1 2.3 4.7 -1.4v-15.3l-4.7 1.4 -3.1 -2.3zM0 0v-15.3"/><path class="l" d="M-3.1 -2.3L0 0v-15.3l-3.1 -2.3z"/><path d="M-3.1 -17.6L0 -15.3L4.7 -16.7L1.6 -19z" fill="#ffb300"/></g>
<g transform="translate(113.1 394.7)"><path d="M-3.1 -2.3l3.1 2.3 4.7 -1.4v-15.3l-4.7 1.4 -3.1 -2.3zM0 0v-15.3"/><path class="l" d="M-3.1 -2.3L0 0v-15.3l-3.1 -2.3z"/><path d="M-3.1 -17.6L0 -15.3L4.7 -16.7L1.6 -19z" fill="#ffb300"/></g>
<g transform="translate(107.2 396.5)"><path d="M-3.1 -2.3l3.1 2.3 4.7 -1.4v-15.3l-4.7 1.4 -3.1 -2.3zM0 0v-15.3"/><path class="l" d="M-3.1 -2.3L0 0v-15.3l-3.1 -2.3z"/><path d="M-3.1 -17.6L0 -15.3L4.7 -16.7L1.6 -19z" fill="#ffb300"/></g>
<g transform="translate(101.3 398.2)"><path d="M-3.1 -2.3l3.1 2.3 4.7 -1.4v-15.3l-4.7 1.4 -3.1 -2.3zM0 0v-15.3"/><path class="l" d="M-3.1 -2.3L0 0v-15.3l-3.1 -2.3z"/><path d="M-3.1 -17.6L0 -15.3L4.7 -16.7L1.6 -19z" fill="#ffb300"/></g>
<g transform="translate(95.4 399.9)"><path d="M-3.1 -2.3l3.1 2.3 4.7 -1.4v-15.3l-4.7 1.4 -3.1 -2.3zM0 0v-15.3"/><path class="l" d="M-3.1 -2.3L0 0v-15.3l-3.1 -2.3z"/><path d="M-3.1 -17.6L0 -15.3L4.7 -16.7L1.6 -19z" fill="#ffb300"/></g>
<g transform="translate(89.4 401.7)"><path d="M-3.1 -2.3l3.1 2.3 4.7 -1.4v-15.3l-4.7 1.4 -3.1 -2.3zM0 0v-15.3"/><path class="l" d="M-3.1 -2.3L0 0v-15.3l-3.1 -2.3z"/><path d="M-3.1 -17.6L0 -15.3L4.7 -16.7L1.6 -19z" fill="#ffb300"/></g>
<g transform="translate(83.5 403.4)"><path d="M-3.1 -2.3l3.1 2.3 4.7 -1.4v-15.3l-4.7 1.4 -3.1 -2.3zM0 0v-15.3"/><path class="l" d="M-3.1 -2.3L0 0v-15.3l-3.1 -2.3z"/><path d="M-3.1 -17.6L0 -15.3L4.7 -16.7L1.6 -19z" fill="#ffb300"/></g>
<g transform="translate(77.6 405.2)"><path d="M-3.1 -2.3l3.1 2.3 4.7 -1.4v-15.3l-4.7 1.4 -3.1 -2.3zM0 0v-15.3"/><path class="l" d="M-3.1 -2.3L0 0v-15.3l-3.1 -2.3z"/><path d="M-3.1 -17.6L0 -15.3L4.7 -16.7L1.6 -19z" fill="#ffb300"/></g>
<g transform="translate(71.7 406.9)"><path d="M-3.1 -2.3l3.1 2.3 4.7 -1.4v-15.3l-4.7 1.4 -3.1 -2.3zM0 0v-15.3"/><path class="l" d="M-3.1 -2.3L0 0v-15.3l-3.1 -2.3z"/><path d="M-3.1 -17.6L0 -15.3L4.7 -16.7L1.6 -19z" fill="#ffb300"/></g>
<g transform="translate(65.7 408.6)"><path d="M-3.1 -2.3l3.1 2.3 4.7 -1.4v-15.3l-4.7 1.4 -3.1 -2.3zM0 0v-15.3"/><path class="l" d="M-3.1 -2.3L0 0v-15.3l-3.1 -2.3z"/><path d="M-3.1 -17.6L0 -15.3L4.7 -16.7L1.6 -19z" fill="#ffb300"/></g>
<g transform="translate(128.9 394.1)"><path d="M-3.1 -2.3l3.1 2.3 4.7 -1.4v-21.6l-4.7 1.4 -3.1 -2.3zM0 0v-21.6"/><path class="l" d="M-3.1 -2.3L0 0v-21.6l-3.1 -2.3z"/><path d="M-3.1 -23.9L0 -21.6L4.7 -23L1.6 -25.3z" fill="#fffc00"/></g>
<g transform="translate(122.9 395.8)"><path d="M-3.1 -2.3l3.1 2.3 4.7 -1.4v-21.6l-4.7 1.4 -3.1 -2.3zM0 0v-21.6"/><path class="l" d="M-3.1 -2.3L0 0v-21.6l-3.1 -2.3z"/><path d="M-3.1 -23.9L0 -21.6L4.7 -23L1.6 -25.3z" fill="#fffc00"/></g>
<g transform="translate(117 397.6)"><path d="M-3.1 -2.3l3.1 2.3 4.7 -1.4v-21.6l-4.7 1.4 -3.1 -2.3zM0 0v-21.6"/><path class="l" d="M-3.1 -2.3L0 0v-21.6l-3.1 -2.3z"/><path d="M-3.1 -23.9L0 -21.6L4.7 -23L1.6 -25.3z" fill="#fffc00"/></g>
<g transform="translate(111.1 399.3)"><path d="M-3.1 -2.3l3.1 2.3 4.7 -1.4v-21.6l-4.7 1.4 -3.1 -2.3zM0 0v-21.6"/><path class="l" d="M-3.1 -2.3L0 0v-21.6l-3.1 -2.3z"/><path d="M-3.1 -23.9L0 -21.6L4.7 -23L1.6 -25.3z" fill="#fffc00"/></g>
<g transform="translate(105.2 401.1)"><path d="M-3.1 -2.3l3.1 2.3 4.7 -1.4v-21.6l-4.7 1.4 -3.1 -2.3zM0 0v-21.6"/><path class="l" d="M-3.1 -2.3L0 0v-21.6l-3.1 -2.3z"/><path d="M-3.1 -23.9L0 -21.6L4.7 -23L1.6 -25.3z" fill="#fffc00"/></g>
<g transform="translate(99.2 402.8)"><path d="M-3.1 -2.3l3.1 2.3 4.7 -1.4v-21.6l-4.7 1.4 -3.1 -2.3zM0 0v-21.6"/><path class="l" d="M-3.1 -2.3L0 0v-21.6l-3.1 -2.3z"/><path d="M-3.1 -23.9L0 -21.6L4.7 -23L1.6 -25.3z" fill="#fffc00"/></g>
<g transform="translate(93.3 404.5)"><path d="M-3.1 -2.3l3.1 2.3 4.7 -1.4v-21.6l-4.7 1.4 -3.1 -2.3zM0 0v-21.6"/><path class="l" d="M-3.1 -2.3L0 0v-21.6l-3.1 -2.3z"/><path d="M-3.1 -23.9L0 -21.6L4.7 -23L1.6 -25.3z" fill="#fffc00"/></g>
<g transform="translate(87.4 406.3)"><path d="M-3.1 -2.3l3.1 2.3 4.7 -1.4v-21.6l-4.7 1.4 -3.1 -2.3zM0 0v-21.6"/><path class="l" d="M-3.1 -2.3L0 0v-21.6l-3.1 -2.3z"/><path d="M-3.1 -23.9L0 -21.6L4.7 -23L1.6 -25.3z" fill="#fffc00"/></g>
<g transform="translate(81.5 408)"><path d="M-3.1 -2.3l3.1 2.3 4.7 -1.4v-21.6l-4.7 1.4 -3.1 -2.3zM0 0v-21.6"/><path class="l" d="M-3.1 -2.3L0 0v-21.6l-3.1 -2.3z"/><path d="M-3.1 -23.9L0 -21.6L4.7 -23L1.6 -25.3z" fill="#fffc00"/></g>
<g transform="translate(75.5 409.8)"><path d="M-3.1 -2.3l3.1 2.3 4.7 -1.4v-21.6l-4.7 1.4 -3.1 -2.3zM0 0v-21.6"/><path class="l" d="M-3.1 -2.3L0 0v-21.6l-3.1 -2.3z"/><path d="M-3.1 -23.9L0 -21.6L4.7 -23L1.6 -25.3z" fill="#fffc00"/></g>
<g transform="translate(69.6 411.5)"><path d="M-3.1 -2.3l3.1 2.3 4.7 -1.4v-21.6l-4.7 1.4 -3.1 -2.3zM0 0v-21.6"/><path class="l" d="M-3.1 -2.3L0 0v-21.6l-3.1 -2.3z"/><path d="M-3.1 -23.9L0 -21.6L4.7 -23L1.6 -25.3z" fill="#fffc00"/></g>
</g>
<linearGradient id="cb12" x1="0" y1="1" x2="0" y2="0"><stop offset="0" stop-color="#f00"/><stop offset="1" stop-color="#ff0"/></linearGradient>
<rect x="139" y="334.8" width="5" height="96.1" fill="url(#cb12)"/>
<g class="t" font-size="2.6">
<text x="46.7" y="396.8" text-anchor="end">0</text>
<text x="46.7" y="387.8" text-anchor="end">0.2</text>
<text x="46.7" y="378.8" text-anchor="end">0.4</text>
<text x="39.5" y="384.4" font-size="3.2" text-anchor="middle" transform="rotate(-90 39.5 384.4)">Boundary recall</text>
<text x="50" y="404.3" text-anchor="end">POL-NLT</text>
<text x="53.9" y="407.2" text-anchor="end">WS</text>
<text x="57.8" y="410" text-anchor="end">HMMS</text>
<text x="61.6" y="412.9" text-anchor="end">GMMS</text>
<text x="65.5" y="415.7" text-anchor="end">NC</text>
<text x="78.8" y="417.4" text-anchor="middle">10</text>
<text x="84.8" y="415.6" text-anchor="middle">11</text>
<text x="90.7" y="413.9" text-anchor="middle">12</text>
<text x="96.6" y="412.2" text-anchor="middle">13</text>
<text x="102.5" y="410.4" text-anchor="middle">14</text>
<text x="108.5" y="408.7" text-anchor="middle">15</text>
<text x="114.4" y="406.9" text-anchor="middle">16</text>
<text x="120.3" y="405.2" text-anchor="middle">17</text>
<text x="126.2" y="403.5" text-anchor="middle">18</text>
<text x="132.2" y="401.7" text-anchor="middle">19</text>
<text x="138.1" y="400" text-anchor="middle">20</text>
<text x="47.1" y="419.1" font-size="3.2" text-anchor="middle">Methods</text>
<text x="103.1" y="417.6" font-size="3.2" text-anchor="middle">δ</text>
<path d="M139 430.9h0.8M144 430.9h-0.8" stroke="#777" stroke-width="0.3"/>
<text x="144.6" y="432.3">0</text>
<path d="M139 421h0.8M144 421h-0.8" stroke="#777" stroke-width="0.3"/>
<text x="144.6" y="422.4">0.05</text>
<path d="M139 411.1h0.8M144 411.1h-0.8" stroke="#777" stroke-width="0.3"/>
<text x="144.6" y="412.5">0.1</text>
<path d="M139 401.2h0.8M144 401.2h-0.8" stroke="#777" stroke-width="0.3"/>
<text x="144.6" y="402.6">0.15</text>
<path d="M139 391.3h0.8M144 391.3h-0.8" stroke="#777" stroke-width="0.3"/>
<text x="144.6" y="392.7">0.2</text>
<path d="M139 381.4h0.8M144 381.4h-0.8" stroke="#777" stroke-width="0.3"/>
<text x="144.6" y="382.8">0.25</text>
<path d="M139 371.5h0.8M144 371.5h-0.8" stroke="#777" stroke-width="0.3"/>
<text x="144.6" y="372.9">0.3</text>
<path d="M139 361.5h0.8M144 361.5h-0.8" stroke="#777" stroke-width="0.3"/>
<text x="144.6" y="363">0.35</text>
<path d="M139 351.6h0.8M144 351.6h-0.8" stroke="#777" stroke-width="0.3"/>
<text x="144.6" y="353.1">0.4</text>
<path d="M139 341.7h0.8M144 341.7h-0.8" stroke="#777" stroke-width="0.3"/>
<text x="144.6" y="343.2">0.45</text>
</g>
<path d="M166.3 400.3L223.4 381.7L248 397.8M166.3 393.4L223.4 374.8L248 390.9M166.3 386.5L223.4 367.9L248 384M166.3 379.6L223.4 361L248 377.1M167.8 399.8L167.8 375.7M167.8 399.8L192.4 415.9M173.2 398L173.2 373.9M173.2 398L197.8 414.1M178.6 396.3L178.6 372.1M178.6 396.3L203.2 412.4M184 394.5L184 370.4M184 394.5L208.6 410.6M189.5 392.8L189.5 368.6M189.5 392.8L214 408.9M194.9 391L194.9 366.9M194.9 391L219.4 407.1M200.3 389.2L200.3 365.1M200.3 389.2L224.8 405.3M205.7 387.5L205.7 363.3M205.7 387.5L230.3 403.6M211.1 385.7L211.1 361.6M211.1 385.7L235.7 401.8M216.5 384L216.5 359.8M216.5 384L241.1 400.1M221.9 382.2L221.9 358.1M221.9 382.2L246.5 398.3M227.8 384.5L227.8 360.4M170.6 403.1L227.8 384.5M231.7 387.2L231.7 363M174.6 405.7L231.7 387.2M235.7 389.8L235.7 365.6M178.6 408.3L235.7 389.8M239.7 392.4L239.7 368.2M182.6 410.9L239.7 392.4M243.7 395L243.7 370.8M186.5 413.6L243.7 395" stroke="#e2e2e2" stroke-width="0.35" fill="none"/>
<path d="M166.3 400.3L223.4 381.7M223.4 381.7L248 397.8M223.4 381.7L223.4 357.6M248 397.8L248 373.7M166.3 376.2L223.4 357.6M223.4 357.6L248 373.7" stroke="#d0d0d0" stroke-width="0.35" fill="none"/>
<path d="M166.3 400.3L190.9 416.4M190.9 416.4L248 397.8M166.3 400.3L166.3 376.2" stroke="#aaa" stroke-width="0.4" fill="none"/>
<linearGradient id="g13" gradientUnits="userSpaceOnUse" x1="0" y1="0" x2="0" y2="-23.3"><stop offset="0" stop-color="#f00"/><stop offset="1" stop-color="#ff0"/></linearGradient>
<g fill="url(#g13)" stroke="rgba(100,30,0,0.55)" stroke-width="0.35">
<g transform="translate(225.7 386.8)"><path d="M-3.2 -2.1l3.2 2.1 4.3 -1.4v-24.6l-4.3 1.4 -3.2 -2.1zM0 0v-24.6"/><path class="l" d="M-3.2 -2.1L0 0v-24.6l-3.2 -2.1z"/><path d="M-3.2 -26.7L0 -24.6L4.3 -26L1.1 -28.1z" fill="#ffff00"/></g>
<g transform="translate(220.2 388.5)"><path d="M-3.2 -2.1l3.2 2.1 4.3 -1.4v-24.4l-4.3 1.4 -3.2 -2.1zM0 0v-24.4"/><path class="l" d="M-3.2 -2.1L0 0v-24.4l-3.2 -2.1z"/><path d="M-3.2 -26.5L0 -24.4L4.3 -25.8L1.1 -27.9z" fill="#ffff00"/></g>
<g transform="translate(214.8 390.3)"><path d="M-3.2 -2.1l3.2 2.1 4.3 -1.4v-24.2l-4.3 1.4 -3.2 -2.1zM0 0v-24.2"/><path class="l" d="M-3.2 -2.1L0 0v-24.2l-3.2 -2.1z"/><path d="M-3.2 -26.3L0 -24.2L4.3 -25.6L1.1 -27.7z" fill="#ffff00"/></g>
<g transform="translate(209.4 392.1)"><path d="M-3.2 -2.1l3.2 2.1 4.3 -1.4v-24l-4.3 1.4 -3.2 -2.1zM0 0v-24"/><path class="l" d="M-3.2 -2.1L0 0v-24l-3.2 -2.1z"/><path d="M-3.2 -26.1L0 -24L4.3 -25.4L1.1 -27.5z" fill="#ffff00"/></g>
<g transform="translate(204 393.8)"><path d="M-3.2 -2.1l3.2 2.1 4.3 -1.4v-23.8l-4.3 1.4 -3.2 -2.1zM0 0v-23.8"/><path class="l" d="M-3.2 -2.1L0 0v-23.8l-3.2 -2.1z"/><path d="M-3.2 -25.8L0 -23.8L4.3 -25.2L1.1 -27.3z" fill="#ffff00"/></g>
<g transform="translate(198.6 395.6)"><path d="M-3.2 -2.1l3.2 2.1 4.3 -1.4v-23.6l-4.3 1.4 -3.2 -2.1zM0 0v-23.6"/><path class="l" d="M-3.2 -2.1L0 0v-23.6l-3.2 -2.1z"/><path d="M-3.2 -25.6L0 -23.6L4.3 -25L1.1 -27z" fill="#ffff00"/></g>
<g transform="translate(193.2 397.3)"><path d="M-3.2 -2.1l3.2 2.1 4.3 -1.4v-23.3l-4.3 1.4 -3.2 -2.1zM0 0v-23.3"/><path class="l" d="M-3.2 -2.1L0 0v-23.3l-3.2 -2.1z"/><path d="M-3.2 -25.4L0 -23.3L4.3 -24.7L1.1 -26.8z" fill="#ffff00"/></g>
<g transform="translate(187.8 399.1)"><path d="M-3.2 -2.1l3.2 2.1 4.3 -1.4v-23.1l-4.3 1.4 -3.2 -2.1zM0 0v-23.1"/><path class="l" d="M-3.2 -2.1L0 0v-23.1l-3.2 -2.1z"/><path d="M-3.2 -25.2L0 -23.1L4.3 -24.5L1.1 -26.6z" fill="#fffd00"/></g>
<g transform="translate(182.4 400.9)"><path d="M-3.2 -2.1l3.2 2.1 4.3 -1.4v-22.9l-4.3 1.4 -3.2 -2.1zM0 0v-22.9"/><path class="l" d="M-3.2 -2.1L0 0v-22.9l-3.2 -2.1z"/><path d="M-3.2 -25L0 -22.9L4.3 -24.3L1.1 -26.4z" fill="#fffb00"/></g>
<g transform="translate(177 402.6)"><path d="M-3.2 -2.1l3.2 2.1 4.3 -1.4v-22.7l-4.3 1.4 -3.2 -2.1zM0 0v-22.7"/><path class="l" d="M-3.2 -2.1L0 0v-22.7l-3.2 -2.1z"/><path d="M-3.2 -24.8L0 -22.7L4.3 -24.1L1.1 -26.2z" fill="#fff800"/></g>
<g transform="translate(171.6 404.4)"><path d="M-3.2 -2.1l3.2 2.1 4.3 -1.4v-22.5l-4.3 1.4 -3.2 -2.1zM0 0v-22.5"/><path class="l" d="M-3.2 -2.1L0 0v-22.5l-3.2 -2.1z"/><path d="M-3.2 -24.6L0 -22.5L4.3 -23.9L1.1 -26z" fill="#fff600"/></g>
<g transform="translate(229.6 389.4)"><path d="M-3.2 -2.1l3.2 2.1 4.3 -1.4v-20l-4.3 1.4 -3.2 -2.1zM0 0v-20"/><path class="l" d="M-3.2 -2.1L0 0v-20l-3.2 -2.1z"/><path d="M-3.2 -22.1L0 -20L4.3 -21.4L1.1 -23.5z" fill="#ffdb00"/></g>
<g transform="translate(224.2 391.2)"><path d="M-3.2 -2.1l3.2 2.1 4.3 -1.4v-20.2l-4.3 1.4 -3.2 -2.1zM0 0v-20.2"/><path class="l" d="M-3.2 -2.1L0 0v-20.2l-3.2 -2.1z"/><path d="M-3.2 -22.3L0 -20.2L4.3 -21.6L1.1 -23.7z" fill="#ffdd00"/></g>
<g transform="translate(218.8 392.9)"><path d="M-3.2 -2.1l3.2 2.1 4.3 -1.4v-20.4l-4.3 1.4 -3.2 -2.1zM0 0v-20.4"/><path class="l" d="M-3.2 -2.1L0 0v-20.4l-3.2 -2.1z"/><path d="M-3.2 -22.5L0 -20.4L4.3 -21.8L1.1 -23.9z" fill="#ffdf00"/></g>
<g transform="translate(213.4 394.7)"><path d="M-3.2 -2.1l3.2 2.1 4.3 -1.4v-20.6l-4.3 1.4 -3.2 -2.1zM0 0v-20.6"/><path class="l" d="M-3.2 -2.1L0 0v-20.6l-3.2 -2.1z"/><path d="M-3.2 -22.7L0 -20.6L4.3 -22L1.1 -24.1z" fill="#ffe100"/></g>
<g transform="translate(208 396.4)"><path d="M-3.2 -2.1l3.2 2.1 4.3 -1.4v-20.8l-4.3 1.4 -3.2 -2.1zM0 0v-20.8"/><path class="l" d="M-3.2 -2.1L0 0v-20.8l-3.2 -2.1z"/><path d="M-3.2 -22.9L0 -20.8L4.3 -22.2L1.1 -24.3z" fill="#ffe300"/></g>
<g transform="translate(202.6 398.2)"><path d="M-3.2 -2.1l3.2 2.1 4.3 -1.4v-21l-4.3 1.4 -3.2 -2.1zM0 0v-21"/><path class="l" d="M-3.2 -2.1L0 0v-21l-3.2 -2.1z"/><path d="M-3.2 -23.1L0 -21L4.3 -22.4L1.1 -24.5z" fill="#ffe600"/></g>
<g transform="translate(197.2 400)"><path d="M-3.2 -2.1l3.2 2.1 4.3 -1.4v-21.2l-4.3 1.4 -3.2 -2.1zM0 0v-21.2"/><path class="l" d="M-3.2 -2.1L0 0v-21.2l-3.2 -2.1z"/><path d="M-3.2 -23.3L0 -21.2L4.3 -22.6L1.1 -24.7z" fill="#ffe800"/></g>
<g transform="translate(191.8 401.7)"><path d="M-3.2 -2.1l3.2 2.1 4.3 -1.4v-21.4l-4.3 1.4 -3.2 -2.1zM0 0v-21.4"/><path class="l" d="M-3.2 -2.1L0 0v-21.4l-3.2 -2.1z"/><path d="M-3.2 -23.5L0 -21.4L4.3 -22.8L1.1 -24.9z" fill="#ffea00"/></g>
<g transform="translate(186.4 403.5)"><path d="M-3.2 -2.1l3.2 2.1 4.3 -1.4v-21.6l-4.3 1.4 -3.2 -2.1zM0 0v-21.6"/><path class="l" d="M-3.2 -2.1L0 0v-21.6l-3.2 -2.1z"/><path d="M-3.2 -23.7L0 -21.6L4.3 -23L1.1 -25.1z" fill="#ffec00"/></g>
<g transform="translate(181 405.2)"><path d="M-3.2 -2.1l3.2 2.1 4.3 -1.4v-21.8l-4.3 1.4 -3.2 -2.1zM0 0v-21.8"/><path class="l" d="M-3.2 -2.1L0 0v-21.8l-3.2 -2.1z"/><path d="M-3.2 -23.9L0 -21.8L4.3 -23.2L1.1 -25.3z" fill="#ffee00"/></g>
<g transform="translate(175.6 407)"><path d="M-3.2 -2.1l3.2 2.1 4.3 -1.4v-22l-4.3 1.4 -3.2 -2.1zM0 0v-22"/><path class="l" d="M-3.2 -2.1L0 0v-22l-3.2 -2.1z"/><path d="M-3.2 -24.1L0 -22L4.3 -23.4L1.1 -25.5z" fill="#fff100"/></g>
<g transform="translate(233.6 392)"><path d="M-3.2 -2.1l3.2 2.1 4.3 -1.4v-17.5l-4.3 1.4 -3.2 -2.1zM0 0v-17.5"/><path class="l" d="M-3.2 -2.1L0 0v-17.5l-3.2 -2.1z"/><path d="M-3.2 -19.6L0 -17.5L4.3 -18.9L1.1 -21z" fill="#ffb600"/></g>
<g transform="translate(228.2 393.8)"><path d="M-3.2 -2.1l3.2 2.1 4.3 -1.4v-17.9l-4.3 1.4 -3.2 -2.1zM0 0v-17.9"/><path class="l" d="M-3.2 -2.1L0 0v-17.9l-3.2 -2.1z"/><path d="M-3.2 -19.9L0 -17.9L4.3 -19.3L1.1 -21.3z" fill="#ffb900"/></g>
<g transform="translate(222.8 395.5)"><path d="M-3.2 -2.1l3.2 2.1 4.3 -1.4v-18.2l-4.3 1.4 -3.2 -2.1zM0 0v-18.2"/><path class="l" d="M-3.2 -2.1L0 0v-18.2l-3.2 -2.1z"/><path d="M-3.2 -20.3L0 -18.2L4.3 -19.6L1.1 -21.7z" fill="#ffbd00"/></g>
<g transform="translate(217.4 397.3)"><path d="M-3.2 -2.1l3.2 2.1 4.3 -1.4v-18.6l-4.3 1.4 -3.2 -2.1zM0 0v-18.6"/><path class="l" d="M-3.2 -2.1L0 0v-18.6l-3.2 -2.1z"/><path d="M-3.2 -20.6L0 -18.6L4.3 -20L1.1 -22z" fill="#ffc100"/></g>
<g transform="translate(212 399)"><path d="M-3.2 -2.1l3.2 2.1 4.3 -1.4v-18.9l-4.3 1.4 -3.2 -2.1zM0 0v-18.9"/><path class="l" d="M-3.2 -2.1L0 0v-18.9l-3.2 -2.1z"/><path d="M-3.2 -21L0 -18.9L4.3 -20.3L1.1 -22.4z" fill="#ffc400"/></g>
<g transform="translate(206.6 400.8)"><path d="M-3.2 -2.1l3.2 2.1 4.3 -1.4v-19.2l-4.3 1.4 -3.2 -2.1zM0 0v-19.2"/><path class="l" d="M-3.2 -2.1L0 0v-19.2l-3.2 -2.1z"/><path d="M-3.2 -21.3L0 -19.2L4.3 -20.7L1.1 -22.7z" fill="#ffc800"/></g>
<g transform="translate(201.2 402.6)"><path d="M-3.2 -2.1l3.2 2.1 4.3 -1.4v-19.6l-4.3 1.4 -3.2 -2.1zM0 0v-19.6"/><path class="l" d="M-3.2 -2.1L0 0v-19.6l-3.2 -2.1z"/><path d="M-3.2 -21.7L0 -19.6L4.3 -21L1.1 -23.1z" fill="#ffcc00"/></g>
<g transform="translate(195.8 404.3)"><path d="M-3.2 -2.1l3.2 2.1 4.3 -1.4v-20l-4.3 1.4 -3.2 -2.1zM0 0v-20"/><path class="l" d="M-3.2 -2.1L0 0v-20l-3.2 -2.1z"/><path d="M-3.2 -22L0 -20L4.3 -21.4L1.1 -23.4z" fill="#ffcf00"/></g>
<g transform="translate(190.4 406.1)"><path d="M-3.2 -2.1l3.2 2.1 4.3 -1.4v-20.3l-4.3 1.4 -3.2 -2.1zM0 0v-20.3"/><path class="l" d="M-3.2 -2.1L0 0v-20.3l-3.2 -2.1z"/><path d="M-3.2 -22.4L0 -20.3L4.3 -21.7L1.1 -23.8z" fill="#ffd300"/></g>
<g transform="translate(184.9 407.8)"><path d="M-3.2 -2.1l3.2 2.1 4.3 -1.4v-20.6l-4.3 1.4 -3.2 -2.1zM0 0v-20.6"/><path class="l" d="M-3.2 -2.1L0 0v-20.6l-3.2 -2.1z"/><path d="M-3.2 -22.7L0 -20.6L4.3 -22.1L1.1 -24.1z" fill="#ffd600"/></g>
<g transform="translate(179.5 409.6)"><path d="M-3.2 -2.1l3.2 2.1 4.3 -1.4v-21l-4.3 1.4 -3.2 -2.1zM0 0v-21"/><path class="l" d="M-3.2 -2.1L0 0v-21l-3.2 -2.1z"/><path d="M-3.2 -23.1L0 -21L4.3 -22.4L1.1 -24.5z" fill="#ffda00"/></g>
<g transform="translate(237.6 394.6)"><path d="M-3.2 -2.1l3.2 2.1 4.3 -1.4v-16l-4.3 1.4 -3.2 -2.1zM0 0v-16"/><path class="l" d="M-3.2 -2.1L0 0v-16l-3.2 -2.1z"/><path d="M-3.2 -18.1L0 -16L4.3 -17.4L1.1 -19.5z" fill="#ff9d00"/></g>
<g transform="translate(232.2 396.4)"><path d="M-3.2 -2.1l3.2 2.1 4.3 -1.4v-16.3l-4.3 1.4 -3.2 -2.1zM0 0v-16.3"/><path class="l" d="M-3.2 -2.1L0 0v-16.3l-3.2 -2.1z"/><path d="M-3.2 -18.4L0 -16.3L4.3 -17.7L1.1 -19.8z" fill="#ffa000"/></g>
<g transform="translate(226.8 398.1)"><path d="M-3.2 -2.1l3.2 2.1 4.3 -1.4v-16.6l-4.3 1.4 -3.2 -2.1zM0 0v-16.6"/><path class="l" d="M-3.2 -2.1L0 0v-16.6l-3.2 -2.1z"/><path d="M-3.2 -18.7L0 -16.6L4.3 -18L1.1 -20.1z" fill="#ffa300"/></g>
<g transform="translate(221.4 399.9)"><path d="M-3.2 -2.1l3.2 2.1 4.3 -1.4v-16.9l-4.3 1.4 -3.2 -2.1zM0 0v-16.9"/><path class="l" d="M-3.2 -2.1L0 0v-16.9l-3.2 -2.1z"/><path d="M-3.2 -19L0 -16.9L4.3 -18.3L1.1 -20.4z" fill="#ffa600"/></g>
<g transform="translate(216 401.6)"><path d="M-3.2 -2.1l3.2 2.1 4.3 -1.4v-17.2l-4.3 1.4 -3.2 -2.1zM0 0v-17.2"/><path class="l" d="M-3.2 -2.1L0 0v-17.2l-3.2 -2.1z"/><path d="M-3.2 -19.3L0 -17.2L4.3 -18.6L1.1 -20.7z" fill="#ffa900"/></g>
<g transform="translate(210.6 403.4)"><path d="M-3.2 -2.1l3.2 2.1 4.3 -1.4v-17.5l-4.3 1.4 -3.2 -2.1zM0 0v-17.5"/><path class="l" d="M-3.2 -2.1L0 0v-17.5l-3.2 -2.1z"/><path d="M-3.2 -19.6L0 -17.5L4.3 -18.9L1.1 -21z" fill="#ffac00"/></g>
<g transform="translate(205.2 405.2)"><path d="M-3.2 -2.1l3.2 2.1 4.3 -1.4v-17.8l-4.3 1.4 -3.2 -2.1zM0 0v-17.8"/><path class="l" d="M-3.2 -2.1L0 0v-17.8l-3.2 -2.1z"/><path d="M-3.2 -19.9L0 -17.8L4.3 -19.2L1.1 -21.3z" fill="#ffaf00"/></g>
<g transform="translate(199.7 406.9)"><path d="M-3.2 -2.1l3.2 2.1 4.3 -1.4v-18.1l-4.3 1.4 -3.2 -2.1zM0 0v-18.1"/><path class="l" d="M-3.2 -2.1L0 0v-18.1l-3.2 -2.1z"/><path d="M-3.2 -20.2L0 -18.1L4.3 -19.5L1.1 -21.6z" fill="#ffb200"/></g>
<g transform="translate(194.3 408.7)"><path d="M-3.2 -2.1l3.2 2.1 4.3 -1.4v-18.4l-4.3 1.4 -3.2 -2.1zM0 0v-18.4"/><path class="l" d="M-3.2 -2.1L0 0v-18.4l-3.2 -2.1z"/><path d="M-3.2 -20.5L0 -18.4L4.3 -19.8L1.1 -21.9z" fill="#ffb500"/></g>
<g transform="translate(188.9 410.4)"><path d="M-3.2 -2.1l3.2 2.1 4.3 -1.4v-18.7l-4.3 1.4 -3.2 -2.1zM0 0v-18.7"/><path class="l" d="M-3.2 -2.1L0 0v-18.7l-3.2 -2.1z"/><path d="M-3.2 -20.8L0 -18.7L4.3 -20.1L1.1 -22.2z" fill="#ffb800"/></g>
<g transform="translate(183.5 412.2)"><path d="M-3.2 -2.1l3.2 2.1 4.3 -1.4v-19l-4.3 1.4 -3.2 -2.1zM0 0v-19"/><path class="l" d="M-3.2 -2.1L0 0v-19l-3.2 -2.1z"/><path d="M-3.2 -21.1L0 -19L4.3 -20.4L1.1 -22.5z" fill="#ffbb00"/></g>
<g transform="translate(241.6 397.2)"><path d="M-3.2 -2.1l3.2 2.1 4.3 -1.4v-15l-4.3 1.4 -3.2 -2.1zM0 0v-15"/><path class="l" d="M-3.2 -2.1L0 0v-15l-3.2 -2.1z"/><path d="M-3.2 -17.1L0 -15L4.3 -16.4L1.1 -18.5z" fill="#ff8b00"/></g>
<g transform="translate(236.2 399)"><path d="M-3.2 -2.1l3.2 2.1 4.3 -1.4v-15.2l-4.3 1.4 -3.2 -2.1zM0 0v-15.2"/><path class="l" d="M-3.2 -2.1L0 0v-15.2l-3.2 -2.1z"/><path d="M-3.2 -17.3L0 -15.2L4.3 -16.6L1.1 -18.7z" fill="#ff8d00"/></g>
<g transform="translate(230.8 400.7)"><path d="M-3.2 -2.1l3.2 2.1 4.3 -1.4v-15.4l-4.3 1.4 -3.2 -2.1zM0 0v-15.4"/><path class="l" d="M-3.2 -2.1L0 0v-15.4l-3.2 -2.1z"/><path d="M-3.2 -17.5L0 -15.4L4.3 -16.8L1.1 -18.9z" fill="#ff8f00"/></g>
<g transform="translate(225.4 402.5)"><path d="M-3.2 -2.1l3.2 2.1 4.3 -1.4v-15.6l-4.3 1.4 -3.2 -2.1zM0 0v-15.6"/><path class="l" d="M-3.2 -2.1L0 0v-15.6l-3.2 -2.1z"/><path d="M-3.2 -17.7L0 -15.6L4.3 -17L1.1 -19.1z" fill="#ff9100"/></g>
<g transform="translate(219.9 404.2)"><path d="M-3.2 -2.1l3.2 2.1 4.3 -1.4v-15.8l-4.3 1.4 -3.2 -2.1zM0 0v-15.8"/><path class="l" d="M-3.2 -2.1L0 0v-15.8l-3.2 -2.1z"/><path d="M-3.2 -17.9L0 -15.8L4.3 -17.2L1.1 -19.3z" fill="#ff9300"/></g>
<g transform="translate(214.5 406)"><path d="M-3.2 -2.1l3.2 2.1 4.3 -1.4v-16l-4.3 1.4 -3.2 -2.1zM0 0v-16"/><path class="l" d="M-3.2 -2.1L0 0v-16l-3.2 -2.1z"/><path d="M-3.2 -18.1L0 -16L4.3 -17.4L1.1 -19.5z" fill="#ff9500"/></g>
<g transform="translate(209.1 407.8)"><path d="M-3.2 -2.1l3.2 2.1 4.3 -1.4v-16.2l-4.3 1.4 -3.2 -2.1zM0 0v-16.2"/><path class="l" d="M-3.2 -2.1L0 0v-16.2l-3.2 -2.1z"/><path d="M-3.2 -18.3L0 -16.2L4.3 -17.6L1.1 -19.7z" fill="#ff9700"/></g>
<g transform="translate(203.7 409.5)"><path d="M-3.2 -2.1l3.2 2.1 4.3 -1.4v-16.4l-4.3 1.4 -3.2 -2.1zM0 0v-16.4"/><path class="l" d="M-3.2 -2.1L0 0v-16.4l-3.2 -2.1z"/><path d="M-3.2 -18.5L0 -16.4L4.3 -17.8L1.1 -19.9z" fill="#ff9800"/></g>
<g transform="translate(198.3 411.3)"><path d="M-3.2 -2.1l3.2 2.1 4.3 -1.4v-16.6l-4.3 1.4 -3.2 -2.1zM0 0v-16.6"/><path class="l" d="M-3.2 -2.1L0 0v-16.6l-3.2 -2.1z"/><path d="M-3.2 -18.7L0 -16.6L4.3 -18L1.1 -20.1z" fill="#ff9a00"/></g>
<g transform="translate(192.9 413)"><path d="M-3.2 -2.1l3.2 2.1 4.3 -1.4v-16.8l-4.3 1.4 -3.2 -2.1zM0 0v-16.8"/><path class="l" d="M-3.2 -2.1L0 0v-16.8l-3.2 -2.1z"/><path d="M-3.2 -18.9L0 -16.8L4.3 -18.2L1.1 -20.3z" fill="#ff9c00"/></g>
<g transform="translate(187.5 414.8)"><path d="M-3.2 -2.1l3.2 2.1 4.3 -1.4v-17l-4.3 1.4 -3.2 -2.1zM0 0v-17"/><path class="l" d="M-3.2 -2.1L0 0v-17l-3.2 -2.1z"/><path d="M-3.2 -19.1L0 -17L4.3 -18.4L1.1 -20.5z" fill="#ff9e00"/></g>
</g>
<linearGradient id="cb13" x1="0" y1="1" x2="0" y2="0"><stop offset="0" stop-color="#f00"/><stop offset="1" stop-color="#ff0"/></linearGradient>
<rect x="252" y="341.2" width="4.8" height="91.9" fill="url(#cb13)"/>
<g class="t" font-size="2.7">
<text x="164.5" y="401.3" text-anchor="end">0</text>
<text x="164.5" y="394.4" text-anchor="end">100</text>
<text x="164.5" y="387.5" text-anchor="end">200</text>
<text x="164.5" y="380.6" text-anchor="end">300</text>
<text x="156.3" y="389.3" font-size="3.35" text-anchor="middle" transform="rotate(-90 156.3 389.3)">Running Time(s)</text>
<text x="168" y="408.5" text-anchor="end">POL-NLT</text>
<text x="172" y="411.1" text-anchor="end">WS</text>
<text x="176" y="413.7" text-anchor="end">HMMS</text>
<text x="180" y="416.3" text-anchor="end">GMMS</text>
<text x="183.9" y="419" text-anchor="end">NC</text>
<text x="196.7" y="420.6" text-anchor="middle">10</text>
<text x="202.1" y="418.8" text-anchor="middle">11</text>
<text x="207.5" y="417.1" text-anchor="middle">12</text>
<text x="212.9" y="415.3" text-anchor="middle">13</text>
<text x="218.3" y="413.6" text-anchor="middle">14</text>
<text x="223.7" y="411.8" text-anchor="middle">15</text>
<text x="229.1" y="410" text-anchor="middle">16</text>
<text x="234.6" y="408.3" text-anchor="middle">17</text>
<text x="240" y="406.5" text-anchor="middle">18</text>
<text x="245.4" y="404.8" text-anchor="middle">19</text>
<text x="250.8" y="403" text-anchor="middle">20</text>
<text x="165" y="422.4" font-size="3.35" text-anchor="middle">Methods</text>
<text x="218.2" y="420.8" font-size="3.35" text-anchor="middle">δ</text>
<path d="M252 433.1h0.8M256.8 433.1h-0.8" stroke="#777" stroke-width="0.3"/>
<text x="257.4" y="434.6">0</text>
<path d="M252 419.5h0.8M256.8 419.5h-0.8" stroke="#777" stroke-width="0.3"/>
<text x="257.4" y="421">50</text>
<path d="M252 405.9h0.8M256.8 405.9h-0.8" stroke="#777" stroke-width="0.3"/>
<text x="257.4" y="407.4">100</text>
<path d="M252 392.3h0.8M256.8 392.3h-0.8" stroke="#777" stroke-width="0.3"/>
<text x="257.4" y="393.8">150</text>
<path d="M252 378.7h0.8M256.8 378.7h-0.8" stroke="#777" stroke-width="0.3"/>
<text x="257.4" y="380.2">200</text>
<path d="M252 365.1h0.8M256.8 365.1h-0.8" stroke="#777" stroke-width="0.3"/>
<text x="257.4" y="366.6">250</text>
<path d="M252 351.5h0.8M256.8 351.5h-0.8" stroke="#777" stroke-width="0.3"/>
<text x="257.4" y="353">300</text>
</g>
<path d="M288 400.7L341.4 381.6L368.9 397.1M288 392.5L341.4 373.4L368.9 388.9M288 384.3L341.4 365.2L368.9 380.7M288.1 400.7L288.1 380.2M288.1 400.7L315.6 416.2M293.4 398.8L293.4 378.3M293.4 398.8L320.9 414.3M298.7 396.9L298.7 376.4M298.7 396.9L326.3 412.4M304 395L304 374.5M304 395L331.6 410.5M309.4 393.1L309.4 372.6M309.4 393.1L336.9 408.6M314.7 391.1L314.7 370.6M314.7 391.1L342.2 406.7M320 389.2L320 368.7M320 389.2L347.5 404.7M325.3 387.3L325.3 366.8M325.3 387.3L352.9 402.8M330.6 385.4L330.6 364.9M330.6 385.4L358.2 400.9M336 383.5L336 363M336 383.5L363.5 399M341.3 381.6L341.3 361.1M341.3 381.6L368.8 397.1M346.5 384.5L346.5 364M293.2 403.6L346.5 384.5M350.8 386.9L350.8 366.4M297.5 406L350.8 386.9M355.1 389.3L355.1 368.8M301.8 408.5L355.1 389.3M359.4 391.8L359.4 371.3M306.1 410.9L359.4 391.8M363.7 394.2L363.7 373.7M310.4 413.3L363.7 394.2" stroke="#e2e2e2" stroke-width="0.35" fill="none"/>
<path d="M288 400.7L341.4 381.6M341.4 381.6L368.9 397.1M341.4 381.6L341.4 361.1M368.9 397.1L368.9 376.6M288 380.2L341.4 361.1M341.4 361.1L368.9 376.6" stroke="#d0d0d0" stroke-width="0.35" fill="none"/>
<path d="M288 400.7L315.5 416.2M315.5 416.2L368.9 397.1M288 400.7L288 380.2" stroke="#aaa" stroke-width="0.4" fill="none"/>
<linearGradient id="g14" gradientUnits="userSpaceOnUse" x1="0" y1="0" x2="0" y2="-27.1"><stop offset="0" stop-color="#f00"/><stop offset="1" stop-color="#ff0"/></linearGradient>
<g fill="url(#g14)" stroke="rgba(100,30,0,0.55)" stroke-width="0.35">
<g transform="translate(346.1 386.3)"><path d="M-3.4 -1.9l3.4 1.9 4.3 -1.5v-22.8l-4.3 1.5 -3.4 -1.9zM0 0v-22.8"/><path class="l" d="M-3.4 -1.9L0 0v-22.8l-3.4 -1.9z"/><path d="M-3.4 -24.7L0 -22.8L4.3 -24.3L0.8 -26.3z" fill="#ffff00"/></g>
<g transform="translate(340.7 388.2)"><path d="M-3.4 -1.9l3.4 1.9 4.3 -1.5v-22.1l-4.3 1.5 -3.4 -1.9zM0 0v-22.1"/><path class="l" d="M-3.4 -1.9L0 0v-22.1l-3.4 -1.9z"/><path d="M-3.4 -24.1L0 -22.1L4.3 -23.7L0.8 -25.6z" fill="#fff600"/></g>
<g transform="translate(335.4 390.1)"><path d="M-3.4 -1.9l3.4 1.9 4.3 -1.5v-21.3l-4.3 1.5 -3.4 -1.9zM0 0v-21.3"/><path class="l" d="M-3.4 -1.9L0 0v-21.3l-3.4 -1.9z"/><path d="M-3.4 -23.3L0 -21.3L4.3 -22.8L0.8 -24.8z" fill="#ffe900"/></g>
<g transform="translate(330.1 392)"><path d="M-3.4 -1.9l3.4 1.9 4.3 -1.5v-20.1l-4.3 1.5 -3.4 -1.9zM0 0v-20.1"/><path class="l" d="M-3.4 -1.9L0 0v-20.1l-3.4 -1.9z"/><path d="M-3.4 -22L0 -20.1L4.3 -21.6L0.8 -23.5z" fill="#ffd800"/></g>
<g transform="translate(324.8 393.9)"><path d="M-3.4 -1.9l3.4 1.9 4.3 -1.5v-18.9l-4.3 1.5 -3.4 -1.9zM0 0v-18.9"/><path class="l" d="M-3.4 -1.9L0 0v-18.9l-3.4 -1.9z"/><path d="M-3.4 -20.8L0 -18.9L4.3 -20.4L0.8 -22.3z" fill="#ffc700"/></g>
<g transform="translate(319.5 395.8)"><path d="M-3.4 -1.9l3.4 1.9 4.3 -1.5v-18l-4.3 1.5 -3.4 -1.9zM0 0v-18"/><path class="l" d="M-3.4 -1.9L0 0v-18l-3.4 -1.9z"/><path d="M-3.4 -20L0 -18L4.3 -19.6L0.8 -21.5z" fill="#ffbb00"/></g>
<g transform="translate(314.1 397.7)"><path d="M-3.4 -1.9l3.4 1.9 4.3 -1.5v-17.2l-4.3 1.5 -3.4 -1.9zM0 0v-17.2"/><path class="l" d="M-3.4 -1.9L0 0v-17.2l-3.4 -1.9z"/><path d="M-3.4 -19.2L0 -17.2L4.3 -18.7L0.8 -20.7z" fill="#ffaf00"/></g>
<g transform="translate(308.8 399.6)"><path d="M-3.4 -1.9l3.4 1.9 4.3 -1.5v-16.4l-4.3 1.5 -3.4 -1.9zM0 0v-16.4"/><path class="l" d="M-3.4 -1.9L0 0v-16.4l-3.4 -1.9z"/><path d="M-3.4 -18.3L0 -16.4L4.3 -17.9L0.8 -19.9z" fill="#ffa400"/></g>
<g transform="translate(303.5 401.5)"><path d="M-3.4 -1.9l3.4 1.9 4.3 -1.5v-16l-4.3 1.5 -3.4 -1.9zM0 0v-16"/><path class="l" d="M-3.4 -1.9L0 0v-16l-3.4 -1.9z"/><path d="M-3.4 -17.9L0 -16L4.3 -17.5L0.8 -19.4z" fill="#ff9d00"/></g>
<g transform="translate(298.2 403.4)"><path d="M-3.4 -1.9l3.4 1.9 4.3 -1.5v-15.6l-4.3 1.5 -3.4 -1.9zM0 0v-15.6"/><path class="l" d="M-3.4 -1.9L0 0v-15.6l-3.4 -1.9z"/><path d="M-3.4 -17.5L0 -15.6L4.3 -17.1L0.8 -19z" fill="#ff9600"/></g>
<g transform="translate(292.8 405.3)"><path d="M-3.4 -1.9l3.4 1.9 4.3 -1.5v-15.4l-4.3 1.5 -3.4 -1.9zM0 0v-15.4"/><path class="l" d="M-3.4 -1.9L0 0v-15.4l-3.4 -1.9z"/><path d="M-3.4 -17.3L0 -15.4L4.3 -16.9L0.8 -18.8z" fill="#ff9100"/></g>
<g transform="translate(350.4 388.7)"><path d="M-3.4 -1.9l3.4 1.9 4.3 -1.5v-22.8l-4.3 1.5 -3.4 -1.9zM0 0v-22.8"/><path class="l" d="M-3.4 -1.9L0 0v-22.8l-3.4 -1.9z"/><path d="M-3.4 -24.7L0 -22.8L4.3 -24.3L0.8 -26.3z" fill="#ffec00"/></g>
<g transform="translate(345 390.6)"><path d="M-3.4 -1.9l3.4 1.9 4.3 -1.5v-22.1l-4.3 1.5 -3.4 -1.9zM0 0v-22.1"/><path class="l" d="M-3.4 -1.9L0 0v-22.1l-3.4 -1.9z"/><path d="M-3.4 -24.1L0 -22.1L4.3 -23.7L0.8 -25.6z" fill="#ffe300"/></g>
<g transform="translate(339.7 392.5)"><path d="M-3.4 -1.9l3.4 1.9 4.3 -1.5v-21.3l-4.3 1.5 -3.4 -1.9zM0 0v-21.3"/><path class="l" d="M-3.4 -1.9L0 0v-21.3l-3.4 -1.9z"/><path d="M-3.4 -23.3L0 -21.3L4.3 -22.8L0.8 -24.8z" fill="#ffd900"/></g>
<g transform="translate(334.4 394.4)"><path d="M-3.4 -1.9l3.4 1.9 4.3 -1.5v-20.1l-4.3 1.5 -3.4 -1.9zM0 0v-20.1"/><path class="l" d="M-3.4 -1.9L0 0v-20.1l-3.4 -1.9z"/><path d="M-3.4 -22L0 -20.1L4.3 -21.6L0.8 -23.5z" fill="#ffcb00"/></g>
<g transform="translate(329.1 396.3)"><path d="M-3.4 -1.9l3.4 1.9 4.3 -1.5v-18.9l-4.3 1.5 -3.4 -1.9zM0 0v-18.9"/><path class="l" d="M-3.4 -1.9L0 0v-18.9l-3.4 -1.9z"/><path d="M-3.4 -20.8L0 -18.9L4.3 -20.4L0.8 -22.3z" fill="#ffbc00"/></g>
<g transform="translate(323.7 398.2)"><path d="M-3.4 -1.9l3.4 1.9 4.3 -1.5v-18l-4.3 1.5 -3.4 -1.9zM0 0v-18"/><path class="l" d="M-3.4 -1.9L0 0v-18l-3.4 -1.9z"/><path d="M-3.4 -20L0 -18L4.3 -19.6L0.8 -21.5z" fill="#ffb200"/></g>
<g transform="translate(318.4 400.1)"><path d="M-3.4 -1.9l3.4 1.9 4.3 -1.5v-17.2l-4.3 1.5 -3.4 -1.9zM0 0v-17.2"/><path class="l" d="M-3.4 -1.9L0 0v-17.2l-3.4 -1.9z"/><path d="M-3.4 -19.2L0 -17.2L4.3 -18.7L0.8 -20.7z" fill="#ffa900"/></g>
<g transform="translate(313.1 402)"><path d="M-3.4 -1.9l3.4 1.9 4.3 -1.5v-16.4l-4.3 1.5 -3.4 -1.9zM0 0v-16.4"/><path class="l" d="M-3.4 -1.9L0 0v-16.4l-3.4 -1.9z"/><path d="M-3.4 -18.3L0 -16.4L4.3 -17.9L0.8 -19.9z" fill="#ff9f00"/></g>
<g transform="translate(307.8 403.9)"><path d="M-3.4 -1.9l3.4 1.9 4.3 -1.5v-16l-4.3 1.5 -3.4 -1.9zM0 0v-16"/><path class="l" d="M-3.4 -1.9L0 0v-16l-3.4 -1.9z"/><path d="M-3.4 -17.9L0 -16L4.3 -17.5L0.8 -19.4z" fill="#ff9a00"/></g>
<g transform="translate(302.4 405.8)"><path d="M-3.4 -1.9l3.4 1.9 4.3 -1.5v-15.6l-4.3 1.5 -3.4 -1.9zM0 0v-15.6"/><path class="l" d="M-3.4 -1.9L0 0v-15.6l-3.4 -1.9z"/><path d="M-3.4 -17.5L0 -15.6L4.3 -17.1L0.8 -19z" fill="#ff9400"/></g>
<g transform="translate(297.1 407.8)"><path d="M-3.4 -1.9l3.4 1.9 4.3 -1.5v-15.4l-4.3 1.5 -3.4 -1.9zM0 0v-15.4"/><path class="l" d="M-3.4 -1.9L0 0v-15.4l-3.4 -1.9z"/><path d="M-3.4 -17.3L0 -15.4L4.3 -16.9L0.8 -18.8z" fill="#ff9100"/></g>
<g transform="translate(354.7 391.1)"><path d="M-3.4 -1.9l3.4 1.9 4.3 -1.5v-22.8l-4.3 1.5 -3.4 -1.9zM0 0v-22.8"/><path class="l" d="M-3.4 -1.9L0 0v-22.8l-3.4 -1.9z"/><path d="M-3.4 -24.7L0 -22.8L4.3 -24.3L0.8 -26.3z" fill="#ffd700"/></g>
<g transform="translate(349.3 393)"><path d="M-3.4 -1.9l3.4 1.9 4.3 -1.5v-22.1l-4.3 1.5 -3.4 -1.9zM0 0v-22.1"/><path class="l" d="M-3.4 -1.9L0 0v-22.1l-3.4 -1.9z"/><path d="M-3.4 -24.1L0 -22.1L4.3 -23.7L0.8 -25.6z" fill="#ffd100"/></g>
<g transform="translate(344 394.9)"><path d="M-3.4 -1.9l3.4 1.9 4.3 -1.5v-21.3l-4.3 1.5 -3.4 -1.9zM0 0v-21.3"/><path class="l" d="M-3.4 -1.9L0 0v-21.3l-3.4 -1.9z"/><path d="M-3.4 -23.3L0 -21.3L4.3 -22.8L0.8 -24.8z" fill="#ffc900"/></g>
<g transform="translate(338.7 396.8)"><path d="M-3.4 -1.9l3.4 1.9 4.3 -1.5v-20.1l-4.3 1.5 -3.4 -1.9zM0 0v-20.1"/><path class="l" d="M-3.4 -1.9L0 0v-20.1l-3.4 -1.9z"/><path d="M-3.4 -22L0 -20.1L4.3 -21.6L0.8 -23.5z" fill="#ffbd00"/></g>
<g transform="translate(333.4 398.7)"><path d="M-3.4 -1.9l3.4 1.9 4.3 -1.5v-18.9l-4.3 1.5 -3.4 -1.9zM0 0v-18.9"/><path class="l" d="M-3.4 -1.9L0 0v-18.9l-3.4 -1.9z"/><path d="M-3.4 -20.8L0 -18.9L4.3 -20.4L0.8 -22.3z" fill="#ffb200"/></g>
<g transform="translate(328 400.6)"><path d="M-3.4 -1.9l3.4 1.9 4.3 -1.5v-18l-4.3 1.5 -3.4 -1.9zM0 0v-18"/><path class="l" d="M-3.4 -1.9L0 0v-18l-3.4 -1.9z"/><path d="M-3.4 -20L0 -18L4.3 -19.6L0.8 -21.5z" fill="#ffaa00"/></g>
<g transform="translate(322.7 402.5)"><path d="M-3.4 -1.9l3.4 1.9 4.3 -1.5v-17.2l-4.3 1.5 -3.4 -1.9zM0 0v-17.2"/><path class="l" d="M-3.4 -1.9L0 0v-17.2l-3.4 -1.9z"/><path d="M-3.4 -19.2L0 -17.2L4.3 -18.7L0.8 -20.7z" fill="#ffa200"/></g>
<g transform="translate(317.4 404.4)"><path d="M-3.4 -1.9l3.4 1.9 4.3 -1.5v-16.4l-4.3 1.5 -3.4 -1.9zM0 0v-16.4"/><path class="l" d="M-3.4 -1.9L0 0v-16.4l-3.4 -1.9z"/><path d="M-3.4 -18.3L0 -16.4L4.3 -17.9L0.8 -19.9z" fill="#ff9b00"/></g>
<g transform="translate(312.1 406.4)"><path d="M-3.4 -1.9l3.4 1.9 4.3 -1.5v-16l-4.3 1.5 -3.4 -1.9zM0 0v-16"/><path class="l" d="M-3.4 -1.9L0 0v-16l-3.4 -1.9z"/><path d="M-3.4 -17.9L0 -16L4.3 -17.5L0.8 -19.4z" fill="#ff9700"/></g>
<g transform="translate(306.7 408.3)"><path d="M-3.4 -1.9l3.4 1.9 4.3 -1.5v-15.6l-4.3 1.5 -3.4 -1.9zM0 0v-15.6"/><path class="l" d="M-3.4 -1.9L0 0v-15.6l-3.4 -1.9z"/><path d="M-3.4 -17.5L0 -15.6L4.3 -17.1L0.8 -19z" fill="#ff9300"/></g>
<g transform="translate(301.4 410.2)"><path d="M-3.4 -1.9l3.4 1.9 4.3 -1.5v-15.4l-4.3 1.5 -3.4 -1.9zM0 0v-15.4"/><path class="l" d="M-3.4 -1.9L0 0v-15.4l-3.4 -1.9z"/><path d="M-3.4 -17.3L0 -15.4L4.3 -16.9L0.8 -18.8z" fill="#ff9100"/></g>
<g transform="translate(358.9 393.5)"><path d="M-3.4 -1.9l3.4 1.9 4.3 -1.5v-22.8l-4.3 1.5 -3.4 -1.9zM0 0v-22.8"/><path class="l" d="M-3.4 -1.9L0 0v-22.8l-3.4 -1.9z"/><path d="M-3.4 -24.7L0 -22.8L4.3 -24.3L0.8 -26.3z" fill="#ffd700"/></g>
<g transform="translate(353.6 395.4)"><path d="M-3.4 -1.9l3.4 1.9 4.3 -1.5v-22.1l-4.3 1.5 -3.4 -1.9zM0 0v-22.1"/><path class="l" d="M-3.4 -1.9L0 0v-22.1l-3.4 -1.9z"/><path d="M-3.4 -24.1L0 -22.1L4.3 -23.7L0.8 -25.6z" fill="#ffd100"/></g>
<g transform="translate(348.3 397.3)"><path d="M-3.4 -1.9l3.4 1.9 4.3 -1.5v-21.3l-4.3 1.5 -3.4 -1.9zM0 0v-21.3"/><path class="l" d="M-3.4 -1.9L0 0v-21.3l-3.4 -1.9z"/><path d="M-3.4 -23.3L0 -21.3L4.3 -22.8L0.8 -24.8z" fill="#ffc900"/></g>
<g transform="translate(343 399.2)"><path d="M-3.4 -1.9l3.4 1.9 4.3 -1.5v-20.1l-4.3 1.5 -3.4 -1.9zM0 0v-20.1"/><path class="l" d="M-3.4 -1.9L0 0v-20.1l-3.4 -1.9z"/><path d="M-3.4 -22L0 -20.1L4.3 -21.6L0.8 -23.5z" fill="#ffbd00"/></g>
<g transform="translate(337.7 401.1)"><path d="M-3.4 -1.9l3.4 1.9 4.3 -1.5v-18.9l-4.3 1.5 -3.4 -1.9zM0 0v-18.9"/><path class="l" d="M-3.4 -1.9L0 0v-18.9l-3.4 -1.9z"/><path d="M-3.4 -20.8L0 -18.9L4.3 -20.4L0.8 -22.3z" fill="#ffb200"/></g>
<g transform="translate(332.3 403)"><path d="M-3.4 -1.9l3.4 1.9 4.3 -1.5v-18l-4.3 1.5 -3.4 -1.9zM0 0v-18"/><path class="l" d="M-3.4 -1.9L0 0v-18l-3.4 -1.9z"/><path d="M-3.4 -20L0 -18L4.3 -19.6L0.8 -21.5z" fill="#ffaa00"/></g>
<g transform="translate(327 405)"><path d="M-3.4 -1.9l3.4 1.9 4.3 -1.5v-17.2l-4.3 1.5 -3.4 -1.9zM0 0v-17.2"/><path class="l" d="M-3.4 -1.9L0 0v-17.2l-3.4 -1.9z"/><path d="M-3.4 -19.2L0 -17.2L4.3 -18.7L0.8 -20.7z" fill="#ffa200"/></g>
<g transform="translate(321.7 406.9)"><path d="M-3.4 -1.9l3.4 1.9 4.3 -1.5v-16.4l-4.3 1.5 -3.4 -1.9zM0 0v-16.4"/><path class="l" d="M-3.4 -1.9L0 0v-16.4l-3.4 -1.9z"/><path d="M-3.4 -18.3L0 -16.4L4.3 -17.9L0.8 -19.9z" fill="#ff9b00"/></g>
<g transform="translate(316.4 408.8)"><path d="M-3.4 -1.9l3.4 1.9 4.3 -1.5v-16l-4.3 1.5 -3.4 -1.9zM0 0v-16"/><path class="l" d="M-3.4 -1.9L0 0v-16l-3.4 -1.9z"/><path d="M-3.4 -17.9L0 -16L4.3 -17.5L0.8 -19.4z" fill="#ff9700"/></g>
<g transform="translate(311 410.7)"><path d="M-3.4 -1.9l3.4 1.9 4.3 -1.5v-15.6l-4.3 1.5 -3.4 -1.9zM0 0v-15.6"/><path class="l" d="M-3.4 -1.9L0 0v-15.6l-3.4 -1.9z"/><path d="M-3.4 -17.5L0 -15.6L4.3 -17.1L0.8 -19z" fill="#ff9300"/></g>
<g transform="translate(305.7 412.6)"><path d="M-3.4 -1.9l3.4 1.9 4.3 -1.5v-15.4l-4.3 1.5 -3.4 -1.9zM0 0v-15.4"/><path class="l" d="M-3.4 -1.9L0 0v-15.4l-3.4 -1.9z"/><path d="M-3.4 -17.3L0 -15.4L4.3 -16.9L0.8 -18.8z" fill="#ff9100"/></g>
<g transform="translate(363.2 395.9)"><path d="M-3.4 -1.9l3.4 1.9 4.3 -1.5v-22.8l-4.3 1.5 -3.4 -1.9zM0 0v-22.8"/><path class="l" d="M-3.4 -1.9L0 0v-22.8l-3.4 -1.9z"/><path d="M-3.4 -24.7L0 -22.8L4.3 -24.3L0.8 -26.3z" fill="#ffd700"/></g>
<g transform="translate(357.9 397.8)"><path d="M-3.4 -1.9l3.4 1.9 4.3 -1.5v-22.1l-4.3 1.5 -3.4 -1.9zM0 0v-22.1"/><path class="l" d="M-3.4 -1.9L0 0v-22.1l-3.4 -1.9z"/><path d="M-3.4 -24.1L0 -22.1L4.3 -23.7L0.8 -25.6z" fill="#ffd100"/></g>
<g transform="translate(352.6 399.7)"><path d="M-3.4 -1.9l3.4 1.9 4.3 -1.5v-21.3l-4.3 1.5 -3.4 -1.9zM0 0v-21.3"/><path class="l" d="M-3.4 -1.9L0 0v-21.3l-3.4 -1.9z"/><path d="M-3.4 -23.3L0 -21.3L4.3 -22.8L0.8 -24.8z" fill="#ffc900"/></g>
<g transform="translate(347.3 401.6)"><path d="M-3.4 -1.9l3.4 1.9 4.3 -1.5v-20.1l-4.3 1.5 -3.4 -1.9zM0 0v-20.1"/><path class="l" d="M-3.4 -1.9L0 0v-20.1l-3.4 -1.9z"/><path d="M-3.4 -22L0 -20.1L4.3 -21.6L0.8 -23.5z" fill="#ffbd00"/></g>
<g transform="translate(341.9 403.6)"><path d="M-3.4 -1.9l3.4 1.9 4.3 -1.5v-18.9l-4.3 1.5 -3.4 -1.9zM0 0v-18.9"/><path class="l" d="M-3.4 -1.9L0 0v-18.9l-3.4 -1.9z"/><path d="M-3.4 -20.8L0 -18.9L4.3 -20.4L0.8 -22.3z" fill="#ffb200"/></g>
<g transform="translate(336.6 405.5)"><path d="M-3.4 -1.9l3.4 1.9 4.3 -1.5v-18l-4.3 1.5 -3.4 -1.9zM0 0v-18"/><path class="l" d="M-3.4 -1.9L0 0v-18l-3.4 -1.9z"/><path d="M-3.4 -20L0 -18L4.3 -19.6L0.8 -21.5z" fill="#ffaa00"/></g>
<g transform="translate(331.3 407.4)"><path d="M-3.4 -1.9l3.4 1.9 4.3 -1.5v-17.2l-4.3 1.5 -3.4 -1.9zM0 0v-17.2"/><path class="l" d="M-3.4 -1.9L0 0v-17.2l-3.4 -1.9z"/><path d="M-3.4 -19.2L0 -17.2L4.3 -18.7L0.8 -20.7z" fill="#ffa200"/></g>
<g transform="translate(326 409.3)"><path d="M-3.4 -1.9l3.4 1.9 4.3 -1.5v-16.4l-4.3 1.5 -3.4 -1.9zM0 0v-16.4"/><path class="l" d="M-3.4 -1.9L0 0v-16.4l-3.4 -1.9z"/><path d="M-3.4 -18.3L0 -16.4L4.3 -17.9L0.8 -19.9z" fill="#ff9b00"/></g>
<g transform="translate(320.6 411.2)"><path d="M-3.4 -1.9l3.4 1.9 4.3 -1.5v-16l-4.3 1.5 -3.4 -1.9zM0 0v-16"/><path class="l" d="M-3.4 -1.9L0 0v-16l-3.4 -1.9z"/><path d="M-3.4 -17.9L0 -16L4.3 -17.5L0.8 -19.4z" fill="#ff9700"/></g>
<g transform="translate(315.3 413.1)"><path d="M-3.4 -1.9l3.4 1.9 4.3 -1.5v-15.6l-4.3 1.5 -3.4 -1.9zM0 0v-15.6"/><path class="l" d="M-3.4 -1.9L0 0v-15.6l-3.4 -1.9z"/><path d="M-3.4 -17.5L0 -15.6L4.3 -17.1L0.8 -19z" fill="#ff9300"/></g>
<g transform="translate(310 415)"><path d="M-3.4 -1.9l3.4 1.9 4.3 -1.5v-15.4l-4.3 1.5 -3.4 -1.9zM0 0v-15.4"/><path class="l" d="M-3.4 -1.9L0 0v-15.4l-3.4 -1.9z"/><path d="M-3.4 -17.3L0 -15.4L4.3 -16.9L0.8 -18.8z" fill="#ff9100"/></g>
</g>
<linearGradient id="cb14" x1="0" y1="1" x2="0" y2="0"><stop offset="0" stop-color="#f00"/><stop offset="1" stop-color="#ff0"/></linearGradient>
<rect x="374.4" y="340.1" width="4.6" height="93.9" fill="url(#cb14)"/>
<g class="t" font-size="2.95">
<text x="286.2" y="401.8" text-anchor="end">0</text>
<text x="286.2" y="393.6" text-anchor="end">0.2</text>
<text x="286.2" y="385.4" text-anchor="end">0.4</text>
<text x="275" y="383.2" font-size="3.45" text-anchor="middle" transform="rotate(-90 275 383.2)">Under-segmentation error</text>
<text x="290.6" y="409" text-anchor="end">POL-NLT</text>
<text x="294.9" y="411.4" text-anchor="end">WS</text>
<text x="299.2" y="413.9" text-anchor="end">HMMS</text>
<text x="303.5" y="416.3" text-anchor="end">GMMS</text>
<text x="307.8" y="418.7" text-anchor="end">NC</text>
<text x="319.9" y="420.9" text-anchor="middle">10</text>
<text x="325.2" y="419" text-anchor="middle">11</text>
<text x="330.6" y="417.1" text-anchor="middle">12</text>
<text x="335.9" y="415.2" text-anchor="middle">13</text>
<text x="341.2" y="413.3" text-anchor="middle">14</text>
<text x="346.5" y="411.4" text-anchor="middle">15</text>
<text x="351.8" y="409.4" text-anchor="middle">16</text>
<text x="357.2" y="407.5" text-anchor="middle">17</text>
<text x="362.5" y="405.6" text-anchor="middle">18</text>
<text x="367.8" y="403.7" text-anchor="middle">19</text>
<text x="373.1" y="401.8" text-anchor="middle">20</text>
<text x="287.5" y="422.6" font-size="3.45" text-anchor="middle">Methods</text>
<text x="340.2" y="420.2" font-size="3.45" text-anchor="middle">δ</text>
<path d="M374.4 434h0.8M379 434h-0.8" stroke="#777" stroke-width="0.3"/>
<text x="379.6" y="435.6">0</text>
<path d="M374.4 425.3h0.8M379 425.3h-0.8" stroke="#777" stroke-width="0.3"/>
<text x="379.6" y="426.9">0.05</text>
<path d="M374.4 416.6h0.8M379 416.6h-0.8" stroke="#777" stroke-width="0.3"/>
<text x="379.6" y="418.2">0.1</text>
<path d="M374.4 408h0.8M379 408h-0.8" stroke="#777" stroke-width="0.3"/>
<text x="379.6" y="409.5">0.15</text>
<path d="M374.4 399.3h0.8M379 399.3h-0.8" stroke="#777" stroke-width="0.3"/>
<text x="379.6" y="400.8">0.2</text>
<path d="M374.4 390.6h0.8M379 390.6h-0.8" stroke="#777" stroke-width="0.3"/>
<text x="379.6" y="392.2">0.25</text>
<path d="M374.4 381.9h0.8M379 381.9h-0.8" stroke="#777" stroke-width="0.3"/>
<text x="379.6" y="383.5">0.3</text>
<path d="M374.4 373.3h0.8M379 373.3h-0.8" stroke="#777" stroke-width="0.3"/>
<text x="379.6" y="374.8">0.35</text>
<path d="M374.4 364.6h0.8M379 364.6h-0.8" stroke="#777" stroke-width="0.3"/>
<text x="379.6" y="366.1">0.4</text>
<path d="M374.4 355.9h0.8M379 355.9h-0.8" stroke="#777" stroke-width="0.3"/>
<text x="379.6" y="357.5">0.45</text>
<path d="M374.4 347.2h0.8M379 347.2h-0.8" stroke="#777" stroke-width="0.3"/>
<text x="379.6" y="348.8">0.5</text>
</g>
<path d="M412.1 401L473.2 377.7L499.2 395.8M412.1 390L473.2 366.9L499.2 384.5M412.1 379.1L473.2 356.1L499.2 373.3M414.4 400.1L414.4 378.2M414.4 400.1L440.5 418.2M420.1 398L420.1 376.1M420.1 398L446.1 416M425.7 395.8L425.7 374M425.7 395.8L451.7 413.9M431.4 393.7L431.4 371.8M431.4 393.7L457.4 411.7M437 391.5L437 369.7M437 391.5L463 409.6M442.6 389.4L442.6 367.6M442.6 389.4L468.7 407.4M448.3 387.2L448.3 365.5M448.3 387.2L474.3 405.3M453.9 385.1L453.9 363.4M453.9 385.1L479.9 403.1M459.6 382.9L459.6 361.2M459.6 382.9L485.6 401M465.2 380.8L465.2 359.1M465.2 380.8L491.2 398.8M470.8 378.6L470.8 357M470.8 378.6L496.9 396.7M478 381.1L478 359.3M416.9 404.4L478 381.1M482.1 383.9L482.1 362M421 407.2L482.1 383.9M486.2 386.8L486.2 364.7M425.1 410L486.2 386.8M490.3 389.6L490.3 367.4M429.2 412.9L490.3 389.6M494.4 392.4L494.4 370.1M433.3 415.7L494.4 392.4" stroke="#e2e2e2" stroke-width="0.35" fill="none"/>
<path d="M412.1 401L473.2 377.7M473.2 377.7L499.2 395.8M473.2 377.7L473.2 356.1M499.2 395.8L499.2 373.3M412.1 379.1L473.2 356.1M473.2 356.1L499.2 373.3" stroke="#d0d0d0" stroke-width="0.35" fill="none"/>
<path d="M412.1 401L438.1 419.1M438.1 419.1L499.2 395.8M412.1 401L412.1 379.1" stroke="#aaa" stroke-width="0.4" fill="none"/>
<linearGradient id="g15" gradientUnits="userSpaceOnUse" x1="0" y1="0" x2="0" y2="-20.2"><stop offset="0" stop-color="#f00"/><stop offset="1" stop-color="#ff0"/></linearGradient>
<g fill="url(#g15)" stroke="rgba(100,30,0,0.55)" stroke-width="0.35">
<g transform="translate(475.1 384)scale(1 0.974)"><path d="M-3.3 -2.3l3.3 2.3 4.5 -1.8v-20.2l-4.5 1.8 -3.3 -2.3zM0 0v-20.2"/><path class="l" d="M-3.3 -2.3L0 0v-20.2l-3.3 -2.3z"/><path d="M-3.3 -22.5L0 -20.2L4.5 -21.9L1.2 -24.3z" fill="#ffff00"/></g>
<g transform="translate(469.4 386.1)scale(1 0.977)"><path d="M-3.3 -2.3l3.3 2.3 4.5 -1.8v-20.2l-4.5 1.8 -3.3 -2.3zM0 0v-20.2"/><path class="l" d="M-3.3 -2.3L0 0v-20.2l-3.3 -2.3z"/><path d="M-3.3 -22.5L0 -20.2L4.5 -21.9L1.2 -24.2z" fill="#ffff00"/></g>
<g transform="translate(463.8 388.3)scale(1 0.981)"><path d="M-3.3 -2.3l3.3 2.3 4.5 -1.8v-20.2l-4.5 1.8 -3.3 -2.3zM0 0v-20.2"/><path class="l" d="M-3.3 -2.3L0 0v-20.2l-3.3 -2.3z"/><path d="M-3.3 -22.5L0 -20.2L4.5 -21.9L1.2 -24.2z" fill="#ffff00"/></g>
<g transform="translate(458.1 390.4)scale(1 0.985)"><path d="M-3.3 -2.3l3.3 2.3 4.5 -1.7v-20.2l-4.5 1.7 -3.3 -2.3zM0 0v-20.2"/><path class="l" d="M-3.3 -2.3L0 0v-20.2l-3.3 -2.3z"/><path d="M-3.3 -22.5L0 -20.2L4.5 -21.9L1.2 -24.2z" fill="#ffff00"/></g>
<g transform="translate(452.5 392.6)scale(1 0.988)"><path d="M-3.3 -2.3l3.3 2.3 4.5 -1.7v-20.2l-4.5 1.7 -3.3 -2.3zM0 0v-20.2"/><path class="l" d="M-3.3 -2.3L0 0v-20.2l-3.3 -2.3z"/><path d="M-3.3 -22.5L0 -20.2L4.5 -21.9L1.2 -24.2z" fill="#ffff00"/></g>
<g transform="translate(446.9 394.7)scale(1 0.992)"><path d="M-3.3 -2.3l3.3 2.3 4.5 -1.7v-20.2l-4.5 1.7 -3.3 -2.3zM0 0v-20.2"/><path class="l" d="M-3.3 -2.3L0 0v-20.2l-3.3 -2.3z"/><path d="M-3.3 -22.4L0 -20.2L4.5 -21.9L1.2 -24.2z" fill="#ffff00"/></g>
<g transform="translate(441.2 396.9)"><path d="M-3.3 -2.3l3.3 2.3 4.5 -1.7v-20.2l-4.5 1.7 -3.3 -2.3zM0 0v-20.2"/><path class="l" d="M-3.3 -2.3L0 0v-20.2l-3.3 -2.3z"/><path d="M-3.3 -22.4L0 -20.2L4.5 -21.9L1.2 -24.2z" fill="#ffff00"/></g>
<g transform="translate(435.6 399)"><path d="M-3.3 -2.3l3.3 2.3 4.5 -1.7v-20.2l-4.5 1.7 -3.3 -2.3zM0 0v-20.2"/><path class="l" d="M-3.3 -2.3L0 0v-20.2l-3.3 -2.3z"/><path d="M-3.3 -22.4L0 -20.2L4.5 -21.9L1.2 -24.2z" fill="#ffff00"/></g>
<g transform="translate(429.9 401.2)"><path d="M-3.3 -2.3l3.3 2.3 4.5 -1.7v-20.2l-4.5 1.7 -3.3 -2.3zM0 0v-20.2"/><path class="l" d="M-3.3 -2.3L0 0v-20.2l-3.3 -2.3z"/><path d="M-3.3 -22.4L0 -20.2L4.5 -21.9L1.2 -24.1z" fill="#ffff00"/></g>
<g transform="translate(424.3 403.3)scale(1 1.006)"><path d="M-3.3 -2.3l3.3 2.3 4.5 -1.7v-20.2l-4.5 1.7 -3.3 -2.3zM0 0v-20.2"/><path class="l" d="M-3.3 -2.3L0 0v-20.2l-3.3 -2.3z"/><path d="M-3.3 -22.4L0 -20.2L4.5 -21.9L1.2 -24.1z" fill="#ffff00"/></g>
<g transform="translate(418.7 405.5)scale(1 1.009)"><path d="M-3.3 -2.2l3.3 2.2 4.5 -1.7v-20.2l-4.5 1.7 -3.3 -2.2zM0 0v-20.2"/><path class="l" d="M-3.3 -2.2L0 0v-20.2l-3.3 -2.2z"/><path d="M-3.3 -22.4L0 -20.2L4.5 -21.9L1.2 -24.1z" fill="#ffff00"/></g>
<g transform="translate(479.1 386.8)scale(1 0.981)"><path d="M-3.3 -2.3l3.3 2.3 4.5 -1.8v-20.2l-4.5 1.8 -3.3 -2.3zM0 0v-20.2"/><path class="l" d="M-3.3 -2.3L0 0v-20.2l-3.3 -2.3z"/><path d="M-3.3 -22.5L0 -20.2L4.5 -21.9L1.2 -24.2z" fill="#ffff00"/></g>
<g transform="translate(473.5 389)scale(1 0.986)"><path d="M-3.3 -2.3l3.3 2.3 4.5 -1.7v-20.2l-4.5 1.7 -3.3 -2.3zM0 0v-20.2"/><path class="l" d="M-3.3 -2.3L0 0v-20.2l-3.3 -2.3z"/><path d="M-3.3 -22.5L0 -20.2L4.5 -21.9L1.2 -24.2z" fill="#ffff00"/></g>
<g transform="translate(467.9 391.1)scale(1 0.992)"><path d="M-3.3 -2.3l3.3 2.3 4.5 -1.7v-20.2l-4.5 1.7 -3.3 -2.3zM0 0v-20.2"/><path class="l" d="M-3.3 -2.3L0 0v-20.2l-3.3 -2.3z"/><path d="M-3.3 -22.4L0 -20.2L4.5 -21.9L1.2 -24.2z" fill="#ffff00"/></g>
<g transform="translate(462.2 393.3)"><path d="M-3.3 -2.3l3.3 2.3 4.5 -1.7v-20.2l-4.5 1.7 -3.3 -2.3zM0 0v-20.2"/><path class="l" d="M-3.3 -2.3L0 0v-20.2l-3.3 -2.3z"/><path d="M-3.3 -22.4L0 -20.2L4.5 -21.9L1.2 -24.2z" fill="#ffff00"/></g>
<g transform="translate(456.6 395.4)"><path d="M-3.3 -2.3l3.3 2.3 4.5 -1.7v-20.2l-4.5 1.7 -3.3 -2.3zM0 0v-20.2"/><path class="l" d="M-3.3 -2.3L0 0v-20.2l-3.3 -2.3z"/><path d="M-3.3 -22.4L0 -20.2L4.5 -21.9L1.2 -24.1z" fill="#ffff00"/></g>
<g transform="translate(450.9 397.6)scale(1 1.008)"><path d="M-3.3 -2.2l3.3 2.2 4.5 -1.7v-20.2l-4.5 1.7 -3.3 -2.2zM0 0v-20.2"/><path class="l" d="M-3.3 -2.2L0 0v-20.2l-3.3 -2.2z"/><path d="M-3.3 -22.4L0 -20.2L4.5 -21.9L1.2 -24.1z" fill="#ffff00"/></g>
<g transform="translate(445.3 399.7)scale(1 1.014)"><path d="M-3.3 -2.2l3.3 2.2 4.5 -1.7v-20.2l-4.5 1.7 -3.3 -2.2zM0 0v-20.2"/><path class="l" d="M-3.3 -2.2L0 0v-20.2l-3.3 -2.2z"/><path d="M-3.3 -22.4L0 -20.2L4.5 -21.9L1.2 -24.1z" fill="#ffff00"/></g>
<g transform="translate(439.7 401.9)scale(1 1.019)"><path d="M-3.3 -2.2l3.3 2.2 4.5 -1.7v-20.2l-4.5 1.7 -3.3 -2.2zM0 0v-20.2"/><path class="l" d="M-3.3 -2.2L0 0v-20.2l-3.3 -2.2z"/><path d="M-3.3 -22.4L0 -20.2L4.5 -21.8L1.2 -24.1z" fill="#ffff00"/></g>
<g transform="translate(434 404)scale(1 1.025)"><path d="M-3.3 -2.2l3.3 2.2 4.5 -1.7v-20.2l-4.5 1.7 -3.3 -2.2zM0 0v-20.2"/><path class="l" d="M-3.3 -2.2L0 0v-20.2l-3.3 -2.2z"/><path d="M-3.3 -22.4L0 -20.2L4.5 -21.8L1.2 -24z" fill="#ffff00"/></g>
<g transform="translate(428.4 406.2)scale(1 1.03)"><path d="M-3.3 -2.2l3.3 2.2 4.5 -1.7v-20.2l-4.5 1.7 -3.3 -2.2zM0 0v-20.2"/><path class="l" d="M-3.3 -2.2L0 0v-20.2l-3.3 -2.2z"/><path d="M-3.3 -22.4L0 -20.2L4.5 -21.8L1.2 -24z" fill="#ffff00"/></g>
<g transform="translate(422.8 408.3)scale(1 1.036)"><path d="M-3.3 -2.2l3.3 2.2 4.5 -1.7v-20.2l-4.5 1.7 -3.3 -2.2zM0 0v-20.2"/><path class="l" d="M-3.3 -2.2L0 0v-20.2l-3.3 -2.2z"/><path d="M-3.3 -22.3L0 -20.2L4.5 -21.8L1.2 -24z" fill="#ffff00"/></g>
<g transform="translate(483.2 389.7)scale(1 0.988)"><path d="M-3.3 -2.3l3.3 2.3 4.5 -1.7v-20.2l-4.5 1.7 -3.3 -2.3zM0 0v-20.2"/><path class="l" d="M-3.3 -2.3L0 0v-20.2l-3.3 -2.3z"/><path d="M-3.3 -22.5L0 -20.2L4.5 -21.9L1.2 -24.2z" fill="#ffff00"/></g>
<g transform="translate(477.6 391.8)"><path d="M-3.3 -2.3l3.3 2.3 4.5 -1.7v-20.2l-4.5 1.7 -3.3 -2.3zM0 0v-20.2"/><path class="l" d="M-3.3 -2.3L0 0v-20.2l-3.3 -2.3z"/><path d="M-3.3 -22.4L0 -20.2L4.5 -21.9L1.2 -24.2z" fill="#ffff00"/></g>
<g transform="translate(471.9 393.9)"><path d="M-3.3 -2.3l3.3 2.3 4.5 -1.7v-20.2l-4.5 1.7 -3.3 -2.3zM0 0v-20.2"/><path class="l" d="M-3.3 -2.3L0 0v-20.2l-3.3 -2.3z"/><path d="M-3.3 -22.4L0 -20.2L4.5 -21.9L1.2 -24.1z" fill="#ffff00"/></g>
<g transform="translate(466.3 396.1)scale(1 1.01)"><path d="M-3.3 -2.2l3.3 2.2 4.5 -1.7v-20.2l-4.5 1.7 -3.3 -2.2zM0 0v-20.2"/><path class="l" d="M-3.3 -2.2L0 0v-20.2l-3.3 -2.2z"/><path d="M-3.3 -22.4L0 -20.2L4.5 -21.9L1.2 -24.1z" fill="#ffff00"/></g>
<g transform="translate(460.7 398.2)scale(1 1.018)"><path d="M-3.3 -2.2l3.3 2.2 4.5 -1.7v-20.2l-4.5 1.7 -3.3 -2.2zM0 0v-20.2"/><path class="l" d="M-3.3 -2.2L0 0v-20.2l-3.3 -2.2z"/><path d="M-3.3 -22.4L0 -20.2L4.5 -21.8L1.2 -24.1z" fill="#ffff00"/></g>
<g transform="translate(455 400.4)scale(1 1.025)"><path d="M-3.3 -2.2l3.3 2.2 4.5 -1.7v-20.2l-4.5 1.7 -3.3 -2.2zM0 0v-20.2"/><path class="l" d="M-3.3 -2.2L0 0v-20.2l-3.3 -2.2z"/><path d="M-3.3 -22.4L0 -20.2L4.5 -21.8L1.2 -24z" fill="#ffff00"/></g>
<g transform="translate(449.4 402.5)scale(1 1.032)"><path d="M-3.3 -2.2l3.3 2.2 4.5 -1.7v-20.2l-4.5 1.7 -3.3 -2.2zM0 0v-20.2"/><path class="l" d="M-3.3 -2.2L0 0v-20.2l-3.3 -2.2z"/><path d="M-3.3 -22.4L0 -20.2L4.5 -21.8L1.2 -24z" fill="#ffff00"/></g>
<g transform="translate(443.8 404.7)scale(1 1.04)"><path d="M-3.3 -2.2l3.3 2.2 4.5 -1.7v-20.2l-4.5 1.7 -3.3 -2.2zM0 0v-20.2"/><path class="l" d="M-3.3 -2.2L0 0v-20.2l-3.3 -2.2z"/><path d="M-3.3 -22.3L0 -20.2L4.5 -21.8L1.2 -24z" fill="#ffff00"/></g>
<g transform="translate(438.1 406.8)scale(1 1.047)"><path d="M-3.3 -2.2l3.3 2.2 4.5 -1.6v-20.2l-4.5 1.6 -3.3 -2.2zM0 0v-20.2"/><path class="l" d="M-3.3 -2.2L0 0v-20.2l-3.3 -2.2z"/><path d="M-3.3 -22.3L0 -20.2L4.5 -21.8L1.2 -24z" fill="#ffff00"/></g>
<g transform="translate(432.5 409)scale(1 1.055)"><path d="M-3.3 -2.1l3.3 2.1 4.5 -1.6v-20.2l-4.5 1.6 -3.3 -2.1zM0 0v-20.2"/><path class="l" d="M-3.3 -2.1L0 0v-20.2l-3.3 -2.1z"/><path d="M-3.3 -22.3L0 -20.2L4.5 -21.8L1.2 -23.9z" fill="#ffff00"/></g>
<g transform="translate(426.8 411.1)scale(1 1.062)"><path d="M-3.3 -2.1l3.3 2.1 4.5 -1.6v-20.2l-4.5 1.6 -3.3 -2.1zM0 0v-20.2"/><path class="l" d="M-3.3 -2.1L0 0v-20.2l-3.3 -2.1z"/><path d="M-3.3 -22.3L0 -20.2L4.5 -21.8L1.2 -23.9z" fill="#ffff00"/></g>
<g transform="translate(487.3 392.5)scale(1 0.995)"><path d="M-3.3 -2.3l3.3 2.3 4.5 -1.7v-20.2l-4.5 1.7 -3.3 -2.3zM0 0v-20.2"/><path class="l" d="M-3.3 -2.3L0 0v-20.2l-3.3 -2.3z"/><path d="M-3.3 -22.4L0 -20.2L4.5 -21.9L1.2 -24.2z" fill="#ffff00"/></g>
<g transform="translate(481.7 394.6)"><path d="M-3.3 -2.3l3.3 2.3 4.5 -1.7v-20.2l-4.5 1.7 -3.3 -2.3zM0 0v-20.2"/><path class="l" d="M-3.3 -2.3L0 0v-20.2l-3.3 -2.3z"/><path d="M-3.3 -22.4L0 -20.2L4.5 -21.9L1.2 -24.1z" fill="#ffff00"/></g>
<g transform="translate(476 396.8)scale(1 1.014)"><path d="M-3.3 -2.2l3.3 2.2 4.5 -1.7v-20.2l-4.5 1.7 -3.3 -2.2zM0 0v-20.2"/><path class="l" d="M-3.3 -2.2L0 0v-20.2l-3.3 -2.2z"/><path d="M-3.3 -22.4L0 -20.2L4.5 -21.9L1.2 -24.1z" fill="#ffff00"/></g>
<g transform="translate(470.4 398.9)scale(1 1.023)"><path d="M-3.3 -2.2l3.3 2.2 4.5 -1.7v-20.2l-4.5 1.7 -3.3 -2.2zM0 0v-20.2"/><path class="l" d="M-3.3 -2.2L0 0v-20.2l-3.3 -2.2z"/><path d="M-3.3 -22.4L0 -20.2L4.5 -21.8L1.2 -24.1z" fill="#ffff00"/></g>
<g transform="translate(464.7 401.1)scale(1 1.032)"><path d="M-3.3 -2.2l3.3 2.2 4.5 -1.7v-20.2l-4.5 1.7 -3.3 -2.2zM0 0v-20.2"/><path class="l" d="M-3.3 -2.2L0 0v-20.2l-3.3 -2.2z"/><path d="M-3.3 -22.4L0 -20.2L4.5 -21.8L1.2 -24z" fill="#ffff00"/></g>
<g transform="translate(459.1 403.2)scale(1 1.042)"><path d="M-3.3 -2.2l3.3 2.2 4.5 -1.6v-20.2l-4.5 1.6 -3.3 -2.2zM0 0v-20.2"/><path class="l" d="M-3.3 -2.2L0 0v-20.2l-3.3 -2.2z"/><path d="M-3.3 -22.3L0 -20.2L4.5 -21.8L1.2 -24z" fill="#ffff00"/></g>
<g transform="translate(453.5 405.4)scale(1 1.051)"><path d="M-3.3 -2.2l3.3 2.2 4.5 -1.6v-20.2l-4.5 1.6 -3.3 -2.2zM0 0v-20.2"/><path class="l" d="M-3.3 -2.2L0 0v-20.2l-3.3 -2.2z"/><path d="M-3.3 -22.3L0 -20.2L4.5 -21.8L1.2 -24z" fill="#ffff00"/></g>
<g transform="translate(447.8 407.5)scale(1 1.06)"><path d="M-3.3 -2.1l3.3 2.1 4.5 -1.6v-20.2l-4.5 1.6 -3.3 -2.1zM0 0v-20.2"/><path class="l" d="M-3.3 -2.1L0 0v-20.2l-3.3 -2.1z"/><path d="M-3.3 -22.3L0 -20.2L4.5 -21.8L1.2 -23.9z" fill="#ffff00"/></g>
<g transform="translate(442.2 409.7)scale(1 1.07)"><path d="M-3.3 -2.1l3.3 2.1 4.5 -1.6v-20.2l-4.5 1.6 -3.3 -2.1zM0 0v-20.2"/><path class="l" d="M-3.3 -2.1L0 0v-20.2l-3.3 -2.1z"/><path d="M-3.3 -22.3L0 -20.2L4.5 -21.8L1.2 -23.9z" fill="#ffff00"/></g>
<g transform="translate(436.6 411.8)scale(1 1.079)"><path d="M-3.3 -2.1l3.3 2.1 4.5 -1.6v-20.2l-4.5 1.6 -3.3 -2.1zM0 0v-20.2"/><path class="l" d="M-3.3 -2.1L0 0v-20.2l-3.3 -2.1z"/><path d="M-3.3 -22.3L0 -20.2L4.5 -21.8L1.2 -23.9z" fill="#ffff00"/></g>
<g transform="translate(430.9 414)scale(1 1.088)"><path d="M-3.3 -2.1l3.3 2.1 4.5 -1.6v-20.2l-4.5 1.6 -3.3 -2.1zM0 0v-20.2"/><path class="l" d="M-3.3 -2.1L0 0v-20.2l-3.3 -2.1z"/><path d="M-3.3 -22.2L0 -20.2L4.5 -21.7L1.2 -23.8z" fill="#ffff00"/></g>
<g transform="translate(491.4 395.3)"><path d="M-3.3 -2.3l3.3 2.3 4.5 -1.7v-20.2l-4.5 1.7 -3.3 -2.3zM0 0v-20.2"/><path class="l" d="M-3.3 -2.3L0 0v-20.2l-3.3 -2.3z"/><path d="M-3.3 -22.4L0 -20.2L4.5 -21.9L1.2 -24.1z" fill="#ffff00"/></g>
<g transform="translate(485.8 397.5)scale(1 1.013)"><path d="M-3.3 -2.2l3.3 2.2 4.5 -1.7v-20.2l-4.5 1.7 -3.3 -2.2zM0 0v-20.2"/><path class="l" d="M-3.3 -2.2L0 0v-20.2l-3.3 -2.2z"/><path d="M-3.3 -22.4L0 -20.2L4.5 -21.9L1.2 -24.1z" fill="#ffff00"/></g>
<g transform="translate(480.1 399.6)scale(1 1.025)"><path d="M-3.3 -2.2l3.3 2.2 4.5 -1.7v-20.2l-4.5 1.7 -3.3 -2.2zM0 0v-20.2"/><path class="l" d="M-3.3 -2.2L0 0v-20.2l-3.3 -2.2z"/><path d="M-3.3 -22.4L0 -20.2L4.5 -21.8L1.2 -24z" fill="#ffff00"/></g>
<g transform="translate(474.5 401.8)scale(1 1.036)"><path d="M-3.3 -2.2l3.3 2.2 4.5 -1.7v-20.2l-4.5 1.7 -3.3 -2.2zM0 0v-20.2"/><path class="l" d="M-3.3 -2.2L0 0v-20.2l-3.3 -2.2z"/><path d="M-3.3 -22.3L0 -20.2L4.5 -21.8L1.2 -24z" fill="#ffff00"/></g>
<g transform="translate(468.8 403.9)scale(1 1.047)"><path d="M-3.3 -2.2l3.3 2.2 4.5 -1.6v-20.2l-4.5 1.6 -3.3 -2.2zM0 0v-20.2"/><path class="l" d="M-3.3 -2.2L0 0v-20.2l-3.3 -2.2z"/><path d="M-3.3 -22.3L0 -20.2L4.5 -21.8L1.2 -24z" fill="#ffff00"/></g>
<g transform="translate(463.2 406.1)scale(1 1.058)"><path d="M-3.3 -2.1l3.3 2.1 4.5 -1.6v-20.2l-4.5 1.6 -3.3 -2.1zM0 0v-20.2"/><path class="l" d="M-3.3 -2.1L0 0v-20.2l-3.3 -2.1z"/><path d="M-3.3 -22.3L0 -20.2L4.5 -21.8L1.2 -23.9z" fill="#ffff00"/></g>
<g transform="translate(457.6 408.2)scale(1 1.07)"><path d="M-3.3 -2.1l3.3 2.1 4.5 -1.6v-20.2l-4.5 1.6 -3.3 -2.1zM0 0v-20.2"/><path class="l" d="M-3.3 -2.1L0 0v-20.2l-3.3 -2.1z"/><path d="M-3.3 -22.3L0 -20.2L4.5 -21.8L1.2 -23.9z" fill="#ffff00"/></g>
<g transform="translate(451.9 410.4)scale(1 1.081)"><path d="M-3.3 -2.1l3.3 2.1 4.5 -1.6v-20.2l-4.5 1.6 -3.3 -2.1zM0 0v-20.2"/><path class="l" d="M-3.3 -2.1L0 0v-20.2l-3.3 -2.1z"/><path d="M-3.3 -22.3L0 -20.2L4.5 -21.7L1.2 -23.8z" fill="#ffff00"/></g>
<g transform="translate(446.3 412.5)scale(1 1.092)"><path d="M-3.3 -2.1l3.3 2.1 4.5 -1.6v-20.2l-4.5 1.6 -3.3 -2.1zM0 0v-20.2"/><path class="l" d="M-3.3 -2.1L0 0v-20.2l-3.3 -2.1z"/><path d="M-3.3 -22.2L0 -20.2L4.5 -21.7L1.2 -23.8z" fill="#ffff00"/></g>
<g transform="translate(440.6 414.7)scale(1 1.103)"><path d="M-3.3 -2.1l3.3 2.1 4.5 -1.6v-20.2l-4.5 1.6 -3.3 -2.1zM0 0v-20.2"/><path class="l" d="M-3.3 -2.1L0 0v-20.2l-3.3 -2.1z"/><path d="M-3.3 -22.2L0 -20.2L4.5 -21.7L1.2 -23.8z" fill="#ffff00"/></g>
<g transform="translate(435 416.8)scale(1 1.115)"><path d="M-3.3 -2l3.3 2 4.5 -1.5v-20.2l-4.5 1.5 -3.3 -2zM0 0v-20.2"/><path class="l" d="M-3.3 -2L0 0v-20.2l-3.3 -2z"/><path d="M-3.3 -22.2L0 -20.2L4.5 -21.7L1.2 -23.7z" fill="#ffff00"/></g>
</g>
<linearGradient id="cb15" x1="0" y1="1" x2="0" y2="0"><stop offset="0" stop-color="#f00"/><stop offset="1" stop-color="#ff0"/></linearGradient>
<rect x="502" y="340.1" width="4.4" height="94.5" fill="url(#cb15)"/>
<g class="t" font-size="2.9">
<text x="410.3" y="402" text-anchor="end">0</text>
<text x="410.3" y="391.1" text-anchor="end">0.5</text>
<text x="410.3" y="380.1" text-anchor="end">1</text>
<text x="401" y="376.5" font-size="3.53" text-anchor="middle" transform="rotate(-90 401 376.5)">Achievable segmentation accuracy</text>
<text x="414.3" y="409.8" text-anchor="end">POL-NLT</text>
<text x="418.4" y="412.6" text-anchor="end">WS</text>
<text x="422.5" y="415.4" text-anchor="end">HMMS</text>
<text x="426.6" y="418.3" text-anchor="end">GMMS</text>
<text x="430.7" y="421.1" text-anchor="end">NC</text>
<text x="444.8" y="422.9" text-anchor="middle">10</text>
<text x="450.4" y="420.7" text-anchor="middle">11</text>
<text x="456" y="418.6" text-anchor="middle">12</text>
<text x="461.7" y="416.4" text-anchor="middle">13</text>
<text x="467.3" y="414.3" text-anchor="middle">14</text>
<text x="473" y="412.1" text-anchor="middle">15</text>
<text x="478.6" y="410" text-anchor="middle">16</text>
<text x="484.2" y="407.8" text-anchor="middle">17</text>
<text x="489.9" y="405.7" text-anchor="middle">18</text>
<text x="495.5" y="403.5" text-anchor="middle">19</text>
<text x="501.2" y="401.4" text-anchor="middle">20</text>
<text x="412.5" y="424.4" font-size="3.53" text-anchor="middle">Methods</text>
<text x="466.9" y="420.7" font-size="3.53" text-anchor="middle">δ</text>
<path d="M502 434.6h0.8M506.4 434.6h-0.8" stroke="#777" stroke-width="0.3"/>
<text x="507" y="436.1">0</text>
<path d="M502 424.3h0.8M506.4 424.3h-0.8" stroke="#777" stroke-width="0.3"/>
<text x="507" y="425.8">0.1</text>
<path d="M502 414h0.8M506.4 414h-0.8" stroke="#777" stroke-width="0.3"/>
<text x="507" y="415.5">0.2</text>
<path d="M502 403.7h0.8M506.4 403.7h-0.8" stroke="#777" stroke-width="0.3"/>
<text x="507" y="405.2">0.3</text>
<path d="M502 393.4h0.8M506.4 393.4h-0.8" stroke="#777" stroke-width="0.3"/>
<text x="507" y="394.9">0.4</text>
<path d="M502 383.1h0.8M506.4 383.1h-0.8" stroke="#777" stroke-width="0.3"/>
<text x="507" y="384.6">0.5</text>
<path d="M502 372.8h0.8M506.4 372.8h-0.8" stroke="#777" stroke-width="0.3"/>
<text x="507" y="374.3">0.6</text>
<path d="M502 362.5h0.8M506.4 362.5h-0.8" stroke="#777" stroke-width="0.3"/>
<text x="507" y="364">0.7</text>
<path d="M502 352.2h0.8M506.4 352.2h-0.8" stroke="#777" stroke-width="0.3"/>
<text x="507" y="353.7">0.8</text>
<path d="M502 341.9h0.8M506.4 341.9h-0.8" stroke="#777" stroke-width="0.3"/>
<text x="507" y="343.4">0.9</text>
</g>
<path d="M49.2 502L111.5 486L135.3 503M49.2 492.2L111.5 476.2L135.3 493.2M49.2 482.4L111.5 466.4L135.3 483.4M50.7 501.6L50.7 477.1M50.7 501.6L74.5 518.7M56.6 500.1L56.6 475.6M56.6 500.1L80.4 517.1M62.5 498.6L62.5 474.1M62.5 498.6L86.4 515.6M68.5 497L68.5 472.5M68.5 497L92.3 514.1M74.4 495.5L74.4 471M74.4 495.5L98.2 512.5M80.3 494L80.3 469.5M80.3 494L104.2 511M86.3 492.5L86.3 468M86.3 492.5L110.1 509.5M92.2 490.9L92.2 466.4M92.2 490.9L116 508M98.1 489.4L98.1 464.9M98.1 489.4L122 506.4M104.1 487.9L104.1 463.4M104.1 487.9L127.9 504.9M110 486.3L110 461.8M110 486.3L133.8 503.4M115.6 488.9L115.6 464.4M53.4 505L115.6 488.9M119.5 491.7L119.5 467.2M57.2 507.7L119.5 491.7M123.4 494.5L123.4 470M61.1 510.5L123.4 494.5M127.3 497.3L127.3 472.8M65 513.3L127.3 497.3M131.1 500L131.1 475.5M68.9 516.1L131.1 500" stroke="#e2e2e2" stroke-width="0.35" fill="none"/>
<path d="M49.2 502L111.5 486M111.5 486L135.3 503M111.5 486L111.5 461.5M135.3 503L135.3 478.5M49.2 477.5L111.5 461.5M111.5 461.5L135.3 478.5" stroke="#d0d0d0" stroke-width="0.35" fill="none"/>
<path d="M49.2 502L73 519M73 519L135.3 503M49.2 502L49.2 477.5" stroke="#aaa" stroke-width="0.4" fill="none"/>
<linearGradient id="g16" gradientUnits="userSpaceOnUse" x1="0" y1="0" x2="0" y2="-23"><stop offset="0" stop-color="#f00"/><stop offset="1" stop-color="#ff0"/></linearGradient>
<g fill="url(#g16)" stroke="rgba(100,30,0,0.55)" stroke-width="0.35">
<g transform="translate(113.4 491)"><path d="M-3.1 -2.2l3.1 2.2 4.7 -1.2v-24.5l-4.7 1.2 -3.1 -2.2zM0 0v-24.5"/><path class="l" d="M-3.1 -2.2L0 0v-24.5l-3.1 -2.2z"/><path d="M-3.1 -26.7L0 -24.5L4.7 -25.7L1.6 -27.9z" fill="#ffff00"/></g>
<g transform="translate(107.4 492.6)"><path d="M-3.1 -2.2l3.1 2.2 4.7 -1.2v-24.5l-4.7 1.2 -3.1 -2.2zM0 0v-24.5"/><path class="l" d="M-3.1 -2.2L0 0v-24.5l-3.1 -2.2z"/><path d="M-3.1 -26.7L0 -24.5L4.7 -25.7L1.6 -27.9z" fill="#ffff00"/></g>
<g transform="translate(101.5 494.1)"><path d="M-3.1 -2.2l3.1 2.2 4.7 -1.2v-24.5l-4.7 1.2 -3.1 -2.2zM0 0v-24.5"/><path class="l" d="M-3.1 -2.2L0 0v-24.5l-3.1 -2.2z"/><path d="M-3.1 -26.7L0 -24.5L4.7 -25.7L1.6 -27.9z" fill="#ffff00"/></g>
<g transform="translate(95.5 495.6)"><path d="M-3.1 -2.2l3.1 2.2 4.7 -1.2v-24.5l-4.7 1.2 -3.1 -2.2zM0 0v-24.5"/><path class="l" d="M-3.1 -2.2L0 0v-24.5l-3.1 -2.2z"/><path d="M-3.1 -26.7L0 -24.5L4.7 -25.7L1.6 -27.9z" fill="#ffff00"/></g>
<g transform="translate(89.6 497.1)"><path d="M-3.1 -2.2l3.1 2.2 4.7 -1.2v-24.5l-4.7 1.2 -3.1 -2.2zM0 0v-24.5"/><path class="l" d="M-3.1 -2.2L0 0v-24.5l-3.1 -2.2z"/><path d="M-3.1 -26.7L0 -24.5L4.7 -25.7L1.6 -27.9z" fill="#ffff00"/></g>
<g transform="translate(83.7 498.7)"><path d="M-3.1 -2.2l3.1 2.2 4.7 -1.2v-24.5l-4.7 1.2 -3.1 -2.2zM0 0v-24.5"/><path class="l" d="M-3.1 -2.2L0 0v-24.5l-3.1 -2.2z"/><path d="M-3.1 -26.7L0 -24.5L4.7 -25.7L1.6 -27.9z" fill="#ffff00"/></g>
<g transform="translate(77.7 500.2)"><path d="M-3.1 -2.2l3.1 2.2 4.7 -1.2v-24.5l-4.7 1.2 -3.1 -2.2zM0 0v-24.5"/><path class="l" d="M-3.1 -2.2L0 0v-24.5l-3.1 -2.2z"/><path d="M-3.1 -26.7L0 -24.5L4.7 -25.7L1.6 -27.9z" fill="#ffff00"/></g>
<g transform="translate(71.8 501.7)"><path d="M-3.1 -2.2l3.1 2.2 4.7 -1.2v-24.5l-4.7 1.2 -3.1 -2.2zM0 0v-24.5"/><path class="l" d="M-3.1 -2.2L0 0v-24.5l-3.1 -2.2z"/><path d="M-3.1 -26.7L0 -24.5L4.7 -25.7L1.6 -27.9z" fill="#ffff00"/></g>
<g transform="translate(65.9 503.3)"><path d="M-3.1 -2.2l3.1 2.2 4.7 -1.2v-24.5l-4.7 1.2 -3.1 -2.2zM0 0v-24.5"/><path class="l" d="M-3.1 -2.2L0 0v-24.5l-3.1 -2.2z"/><path d="M-3.1 -26.7L0 -24.5L4.7 -25.7L1.6 -27.9z" fill="#ffff00"/></g>
<g transform="translate(59.9 504.8)"><path d="M-3.1 -2.2l3.1 2.2 4.7 -1.2v-24.5l-4.7 1.2 -3.1 -2.2zM0 0v-24.5"/><path class="l" d="M-3.1 -2.2L0 0v-24.5l-3.1 -2.2z"/><path d="M-3.1 -26.7L0 -24.5L4.7 -25.7L1.6 -27.9z" fill="#ffff00"/></g>
<g transform="translate(54 506.3)"><path d="M-3.1 -2.2l3.1 2.2 4.7 -1.2v-24.5l-4.7 1.2 -3.1 -2.2zM0 0v-24.5"/><path class="l" d="M-3.1 -2.2L0 0v-24.5l-3.1 -2.2z"/><path d="M-3.1 -26.7L0 -24.5L4.7 -25.7L1.6 -27.9z" fill="#ffff00"/></g>
<g transform="translate(117.2 493.8)"><path d="M-3.1 -2.2l3.1 2.2 4.7 -1.2v-20.6l-4.7 1.2 -3.1 -2.2zM0 0v-20.6"/><path class="l" d="M-3.1 -2.2L0 0v-20.6l-3.1 -2.2z"/><path d="M-3.1 -22.8L0 -20.6L4.7 -21.8L1.6 -24z" fill="#ffe400"/></g>
<g transform="translate(111.3 495.3)"><path d="M-3.1 -2.2l3.1 2.2 4.7 -1.2v-20.6l-4.7 1.2 -3.1 -2.2zM0 0v-20.6"/><path class="l" d="M-3.1 -2.2L0 0v-20.6l-3.1 -2.2z"/><path d="M-3.1 -22.8L0 -20.6L4.7 -21.8L1.6 -24z" fill="#ffe400"/></g>
<g transform="translate(105.4 496.9)"><path d="M-3.1 -2.2l3.1 2.2 4.7 -1.2v-20.6l-4.7 1.2 -3.1 -2.2zM0 0v-20.6"/><path class="l" d="M-3.1 -2.2L0 0v-20.6l-3.1 -2.2z"/><path d="M-3.1 -22.8L0 -20.6L4.7 -21.8L1.6 -24z" fill="#ffe400"/></g>
<g transform="translate(99.4 498.4)"><path d="M-3.1 -2.2l3.1 2.2 4.7 -1.2v-20.6l-4.7 1.2 -3.1 -2.2zM0 0v-20.6"/><path class="l" d="M-3.1 -2.2L0 0v-20.6l-3.1 -2.2z"/><path d="M-3.1 -22.8L0 -20.6L4.7 -21.8L1.6 -24z" fill="#ffe400"/></g>
<g transform="translate(93.5 499.9)"><path d="M-3.1 -2.2l3.1 2.2 4.7 -1.2v-21.1l-4.7 1.2 -3.1 -2.2zM0 0v-21.1"/><path class="l" d="M-3.1 -2.2L0 0v-21.1l-3.1 -2.2z"/><path d="M-3.1 -23.3L0 -21.1L4.7 -22.3L1.6 -24.5z" fill="#ffe900"/></g>
<g transform="translate(87.6 501.4)"><path d="M-3.1 -2.2l3.1 2.2 4.7 -1.2v-21.6l-4.7 1.2 -3.1 -2.2zM0 0v-21.6"/><path class="l" d="M-3.1 -2.2L0 0v-21.6l-3.1 -2.2z"/><path d="M-3.1 -23.8L0 -21.6L4.7 -22.8L1.6 -25z" fill="#ffef00"/></g>
<g transform="translate(81.6 503)"><path d="M-3.1 -2.2l3.1 2.2 4.7 -1.2v-22.1l-4.7 1.2 -3.1 -2.2zM0 0v-22.1"/><path class="l" d="M-3.1 -2.2L0 0v-22.1l-3.1 -2.2z"/><path d="M-3.1 -24.3L0 -22.1L4.7 -23.3L1.6 -25.5z" fill="#fff400"/></g>
<g transform="translate(75.7 504.5)"><path d="M-3.1 -2.2l3.1 2.2 4.7 -1.2v-23l-4.7 1.2 -3.1 -2.2zM0 0v-23"/><path class="l" d="M-3.1 -2.2L0 0v-23l-3.1 -2.2z"/><path d="M-3.1 -25.2L0 -23L4.7 -24.3L1.6 -26.5z" fill="#ffff00"/></g>
<g transform="translate(69.7 506)"><path d="M-3.1 -2.2l3.1 2.2 4.7 -1.2v-24l-4.7 1.2 -3.1 -2.2zM0 0v-24"/><path class="l" d="M-3.1 -2.2L0 0v-24l-3.1 -2.2z"/><path d="M-3.1 -26.2L0 -24L4.7 -25.2L1.6 -27.4z" fill="#ffff00"/></g>
<g transform="translate(63.8 507.6)"><path d="M-3.1 -2.2l3.1 2.2 4.7 -1.2v-24.5l-4.7 1.2 -3.1 -2.2zM0 0v-24.5"/><path class="l" d="M-3.1 -2.2L0 0v-24.5l-3.1 -2.2z"/><path d="M-3.1 -26.7L0 -24.5L4.7 -25.7L1.6 -27.9z" fill="#ffff00"/></g>
<g transform="translate(57.9 509.1)"><path d="M-3.1 -2.2l3.1 2.2 4.7 -1.2v-24.5l-4.7 1.2 -3.1 -2.2zM0 0v-24.5"/><path class="l" d="M-3.1 -2.2L0 0v-24.5l-3.1 -2.2z"/><path d="M-3.1 -26.7L0 -24.5L4.7 -25.7L1.6 -27.9z" fill="#ffff00"/></g>
<g transform="translate(121.1 496.6)"><path d="M-3.1 -2.2l3.1 2.2 4.7 -1.2v-24l-4.7 1.2 -3.1 -2.2zM0 0v-24"/><path class="l" d="M-3.1 -2.2L0 0v-24l-3.1 -2.2z"/><path d="M-3.1 -26.2L0 -24L4.7 -25.2L1.6 -27.4z" fill="#ffff00"/></g>
<g transform="translate(115.2 498.1)"><path d="M-3.1 -2.2l3.1 2.2 4.7 -1.2v-24l-4.7 1.2 -3.1 -2.2zM0 0v-24"/><path class="l" d="M-3.1 -2.2L0 0v-24l-3.1 -2.2z"/><path d="M-3.1 -26.2L0 -24L4.7 -25.2L1.6 -27.4z" fill="#ffff00"/></g>
<g transform="translate(109.2 499.6)"><path d="M-3.1 -2.2l3.1 2.2 4.7 -1.2v-24l-4.7 1.2 -3.1 -2.2zM0 0v-24"/><path class="l" d="M-3.1 -2.2L0 0v-24l-3.1 -2.2z"/><path d="M-3.1 -26.2L0 -24L4.7 -25.2L1.6 -27.4z" fill="#ffff00"/></g>
<g transform="translate(103.3 501.2)"><path d="M-3.1 -2.2l3.1 2.2 4.7 -1.2v-24l-4.7 1.2 -3.1 -2.2zM0 0v-24"/><path class="l" d="M-3.1 -2.2L0 0v-24l-3.1 -2.2z"/><path d="M-3.1 -26.2L0 -24L4.7 -25.2L1.6 -27.4z" fill="#ffff00"/></g>
<g transform="translate(97.4 502.7)"><path d="M-3.1 -2.2l3.1 2.2 4.7 -1.2v-24l-4.7 1.2 -3.1 -2.2zM0 0v-24"/><path class="l" d="M-3.1 -2.2L0 0v-24l-3.1 -2.2z"/><path d="M-3.1 -26.2L0 -24L4.7 -25.2L1.6 -27.4z" fill="#ffff00"/></g>
<g transform="translate(91.4 504.2)"><path d="M-3.1 -2.2l3.1 2.2 4.7 -1.2v-24l-4.7 1.2 -3.1 -2.2zM0 0v-24"/><path class="l" d="M-3.1 -2.2L0 0v-24l-3.1 -2.2z"/><path d="M-3.1 -26.2L0 -24L4.7 -25.2L1.6 -27.4z" fill="#ffff00"/></g>
<g transform="translate(85.5 505.7)"><path d="M-3.1 -2.2l3.1 2.2 4.7 -1.2v-24l-4.7 1.2 -3.1 -2.2zM0 0v-24"/><path class="l" d="M-3.1 -2.2L0 0v-24l-3.1 -2.2z"/><path d="M-3.1 -26.2L0 -24L4.7 -25.2L1.6 -27.4z" fill="#ffff00"/></g>
<g transform="translate(79.6 507.3)"><path d="M-3.1 -2.2l3.1 2.2 4.7 -1.2v-24l-4.7 1.2 -3.1 -2.2zM0 0v-24"/><path class="l" d="M-3.1 -2.2L0 0v-24l-3.1 -2.2z"/><path d="M-3.1 -26.2L0 -24L4.7 -25.2L1.6 -27.4z" fill="#ffff00"/></g>
<g transform="translate(73.6 508.8)"><path d="M-3.1 -2.2l3.1 2.2 4.7 -1.2v-24l-4.7 1.2 -3.1 -2.2zM0 0v-24"/><path class="l" d="M-3.1 -2.2L0 0v-24l-3.1 -2.2z"/><path d="M-3.1 -26.2L0 -24L4.7 -25.2L1.6 -27.4z" fill="#ffff00"/></g>
<g transform="translate(67.7 510.3)"><path d="M-3.1 -2.2l3.1 2.2 4.7 -1.2v-24l-4.7 1.2 -3.1 -2.2zM0 0v-24"/><path class="l" d="M-3.1 -2.2L0 0v-24l-3.1 -2.2z"/><path d="M-3.1 -26.2L0 -24L4.7 -25.2L1.6 -27.4z" fill="#ffff00"/></g>
<g transform="translate(61.8 511.9)"><path d="M-3.1 -2.2l3.1 2.2 4.7 -1.2v-24l-4.7 1.2 -3.1 -2.2zM0 0v-24"/><path class="l" d="M-3.1 -2.2L0 0v-24l-3.1 -2.2z"/><path d="M-3.1 -26.2L0 -24L4.7 -25.2L1.6 -27.4z" fill="#ffff00"/></g>
<g transform="translate(125 499.4)"><path d="M-3.1 -2.2l3.1 2.2 4.7 -1.2v-16.7l-4.7 1.2 -3.1 -2.2zM0 0v-16.7"/><path class="l" d="M-3.1 -2.2L0 0v-16.7l-3.1 -2.2z"/><path d="M-3.1 -18.9L0 -16.7L4.7 -17.9L1.6 -20.1z" fill="#ffb800"/></g>
<g transform="translate(119 500.9)"><path d="M-3.1 -2.2l3.1 2.2 4.7 -1.2v-16.7l-4.7 1.2 -3.1 -2.2zM0 0v-16.7"/><path class="l" d="M-3.1 -2.2L0 0v-16.7l-3.1 -2.2z"/><path d="M-3.1 -18.9L0 -16.7L4.7 -17.9L1.6 -20.1z" fill="#ffb800"/></g>
<g transform="translate(113.1 502.4)"><path d="M-3.1 -2.2l3.1 2.2 4.7 -1.2v-16.7l-4.7 1.2 -3.1 -2.2zM0 0v-16.7"/><path class="l" d="M-3.1 -2.2L0 0v-16.7l-3.1 -2.2z"/><path d="M-3.1 -18.9L0 -16.7L4.7 -17.9L1.6 -20.1z" fill="#ffb800"/></g>
<g transform="translate(107.2 503.9)"><path d="M-3.1 -2.2l3.1 2.2 4.7 -1.2v-16.7l-4.7 1.2 -3.1 -2.2zM0 0v-16.7"/><path class="l" d="M-3.1 -2.2L0 0v-16.7l-3.1 -2.2z"/><path d="M-3.1 -18.9L0 -16.7L4.7 -17.9L1.6 -20.1z" fill="#ffb800"/></g>
<g transform="translate(101.2 505.5)"><path d="M-3.1 -2.2l3.1 2.2 4.7 -1.2v-16.7l-4.7 1.2 -3.1 -2.2zM0 0v-16.7"/><path class="l" d="M-3.1 -2.2L0 0v-16.7l-3.1 -2.2z"/><path d="M-3.1 -18.9L0 -16.7L4.7 -17.9L1.6 -20.1z" fill="#ffb800"/></g>
<g transform="translate(95.3 507)"><path d="M-3.1 -2.2l3.1 2.2 4.7 -1.2v-16.7l-4.7 1.2 -3.1 -2.2zM0 0v-16.7"/><path class="l" d="M-3.1 -2.2L0 0v-16.7l-3.1 -2.2z"/><path d="M-3.1 -18.9L0 -16.7L4.7 -17.9L1.6 -20.1z" fill="#ffb800"/></g>
<g transform="translate(89.4 508.5)"><path d="M-3.1 -2.2l3.1 2.2 4.7 -1.2v-16.7l-4.7 1.2 -3.1 -2.2zM0 0v-16.7"/><path class="l" d="M-3.1 -2.2L0 0v-16.7l-3.1 -2.2z"/><path d="M-3.1 -18.9L0 -16.7L4.7 -17.9L1.6 -20.1z" fill="#ffb800"/></g>
<g transform="translate(83.4 510)"><path d="M-3.1 -2.2l3.1 2.2 4.7 -1.2v-16.7l-4.7 1.2 -3.1 -2.2zM0 0v-16.7"/><path class="l" d="M-3.1 -2.2L0 0v-16.7l-3.1 -2.2z"/><path d="M-3.1 -18.9L0 -16.7L4.7 -17.9L1.6 -20.1z" fill="#ffb800"/></g>
<g transform="translate(77.5 511.6)"><path d="M-3.1 -2.2l3.1 2.2 4.7 -1.2v-16.7l-4.7 1.2 -3.1 -2.2zM0 0v-16.7"/><path class="l" d="M-3.1 -2.2L0 0v-16.7l-3.1 -2.2z"/><path d="M-3.1 -18.9L0 -16.7L4.7 -17.9L1.6 -20.1z" fill="#ffb800"/></g>
<g transform="translate(71.6 513.1)"><path d="M-3.1 -2.2l3.1 2.2 4.7 -1.2v-16.7l-4.7 1.2 -3.1 -2.2zM0 0v-16.7"/><path class="l" d="M-3.1 -2.2L0 0v-16.7l-3.1 -2.2z"/><path d="M-3.1 -18.9L0 -16.7L4.7 -17.9L1.6 -20.1z" fill="#ffb800"/></g>
<g transform="translate(65.6 514.6)"><path d="M-3.1 -2.2l3.1 2.2 4.7 -1.2v-16.7l-4.7 1.2 -3.1 -2.2zM0 0v-16.7"/><path class="l" d="M-3.1 -2.2L0 0v-16.7l-3.1 -2.2z"/><path d="M-3.1 -18.9L0 -16.7L4.7 -17.9L1.6 -20.1z" fill="#ffb800"/></g>
<g transform="translate(128.9 502.1)"><path d="M-3.1 -2.2l3.1 2.2 4.7 -1.2v-24l-4.7 1.2 -3.1 -2.2zM0 0v-24"/><path class="l" d="M-3.1 -2.2L0 0v-24l-3.1 -2.2z"/><path d="M-3.1 -26.2L0 -24L4.7 -25.2L1.6 -27.4z" fill="#ffff00"/></g>
<g transform="translate(122.9 503.6)"><path d="M-3.1 -2.2l3.1 2.2 4.7 -1.2v-24l-4.7 1.2 -3.1 -2.2zM0 0v-24"/><path class="l" d="M-3.1 -2.2L0 0v-24l-3.1 -2.2z"/><path d="M-3.1 -26.2L0 -24L4.7 -25.2L1.6 -27.4z" fill="#ffff00"/></g>
<g transform="translate(117 505.2)"><path d="M-3.1 -2.2l3.1 2.2 4.7 -1.2v-24l-4.7 1.2 -3.1 -2.2zM0 0v-24"/><path class="l" d="M-3.1 -2.2L0 0v-24l-3.1 -2.2z"/><path d="M-3.1 -26.2L0 -24L4.7 -25.2L1.6 -27.4z" fill="#ffff00"/></g>
<g transform="translate(111 506.7)"><path d="M-3.1 -2.2l3.1 2.2 4.7 -1.2v-24l-4.7 1.2 -3.1 -2.2zM0 0v-24"/><path class="l" d="M-3.1 -2.2L0 0v-24l-3.1 -2.2z"/><path d="M-3.1 -26.2L0 -24L4.7 -25.2L1.6 -27.4z" fill="#ffff00"/></g>
<g transform="translate(105.1 508.2)"><path d="M-3.1 -2.2l3.1 2.2 4.7 -1.2v-24l-4.7 1.2 -3.1 -2.2zM0 0v-24"/><path class="l" d="M-3.1 -2.2L0 0v-24l-3.1 -2.2z"/><path d="M-3.1 -26.2L0 -24L4.7 -25.2L1.6 -27.4z" fill="#ffff00"/></g>
<g transform="translate(99.2 509.8)"><path d="M-3.1 -2.2l3.1 2.2 4.7 -1.2v-24l-4.7 1.2 -3.1 -2.2zM0 0v-24"/><path class="l" d="M-3.1 -2.2L0 0v-24l-3.1 -2.2z"/><path d="M-3.1 -26.2L0 -24L4.7 -25.2L1.6 -27.4z" fill="#ffff00"/></g>
<g transform="translate(93.2 511.3)"><path d="M-3.1 -2.2l3.1 2.2 4.7 -1.2v-24l-4.7 1.2 -3.1 -2.2zM0 0v-24"/><path class="l" d="M-3.1 -2.2L0 0v-24l-3.1 -2.2z"/><path d="M-3.1 -26.2L0 -24L4.7 -25.2L1.6 -27.4z" fill="#ffff00"/></g>
<g transform="translate(87.3 512.8)"><path d="M-3.1 -2.2l3.1 2.2 4.7 -1.2v-24l-4.7 1.2 -3.1 -2.2zM0 0v-24"/><path class="l" d="M-3.1 -2.2L0 0v-24l-3.1 -2.2z"/><path d="M-3.1 -26.2L0 -24L4.7 -25.2L1.6 -27.4z" fill="#ffff00"/></g>
<g transform="translate(81.4 514.3)"><path d="M-3.1 -2.2l3.1 2.2 4.7 -1.2v-24l-4.7 1.2 -3.1 -2.2zM0 0v-24"/><path class="l" d="M-3.1 -2.2L0 0v-24l-3.1 -2.2z"/><path d="M-3.1 -26.2L0 -24L4.7 -25.2L1.6 -27.4z" fill="#ffff00"/></g>
<g transform="translate(75.4 515.9)"><path d="M-3.1 -2.2l3.1 2.2 4.7 -1.2v-24l-4.7 1.2 -3.1 -2.2zM0 0v-24"/><path class="l" d="M-3.1 -2.2L0 0v-24l-3.1 -2.2z"/><path d="M-3.1 -26.2L0 -24L4.7 -25.2L1.6 -27.4z" fill="#ffff00"/></g>
<g transform="translate(69.5 517.4)"><path d="M-3.1 -2.2l3.1 2.2 4.7 -1.2v-24l-4.7 1.2 -3.1 -2.2zM0 0v-24"/><path class="l" d="M-3.1 -2.2L0 0v-24l-3.1 -2.2z"/><path d="M-3.1 -26.2L0 -24L4.7 -25.2L1.6 -27.4z" fill="#ffff00"/></g>
</g>
<linearGradient id="cb16" x1="0" y1="1" x2="0" y2="0"><stop offset="0" stop-color="#f00"/><stop offset="1" stop-color="#ff0"/></linearGradient>
<rect x="139" y="440.5" width="5" height="96" fill="url(#cb16)"/>
<g class="t" font-size="2.6">
<text x="47.4" y="502.9" text-anchor="end">0</text>
<text x="47.4" y="493.1" text-anchor="end">0.2</text>
<text x="47.4" y="483.3" text-anchor="end">0.4</text>
<text x="40.2" y="490.5" font-size="3.2" text-anchor="middle" transform="rotate(-90 40.2 490.5)">Boundary recall</text>
<text x="50.8" y="510.4" text-anchor="end">POL-NLT</text>
<text x="54.6" y="513.1" text-anchor="end">WS</text>
<text x="58.5" y="515.9" text-anchor="end">HMMS</text>
<text x="62.4" y="518.7" text-anchor="end">GMMS</text>
<text x="66.3" y="521.5" text-anchor="end">NC</text>
<text x="78.8" y="523.4" text-anchor="middle">10</text>
<text x="84.7" y="521.8" text-anchor="middle">11</text>
<text x="90.7" y="520.3" text-anchor="middle">12</text>
<text x="96.6" y="518.8" text-anchor="middle">13</text>
<text x="102.5" y="517.2" text-anchor="middle">14</text>
<text x="108.5" y="515.7" text-anchor="middle">15</text>
<text x="114.4" y="514.2" text-anchor="middle">16</text>
<text x="120.3" y="512.7" text-anchor="middle">17</text>
<text x="126.3" y="511.1" text-anchor="middle">18</text>
<text x="132.2" y="509.6" text-anchor="middle">19</text>
<text x="138.1" y="508.1" text-anchor="middle">20</text>
<text x="47" y="525" font-size="3.2" text-anchor="middle">Methods</text>
<text x="103" y="524.6" font-size="3.2" text-anchor="middle">δ</text>
<path d="M139 536.5h0.8M144 536.5h-0.8" stroke="#777" stroke-width="0.3"/>
<text x="144.6" y="537.9">0</text>
<path d="M139 526.3h0.8M144 526.3h-0.8" stroke="#777" stroke-width="0.3"/>
<text x="144.6" y="527.7">0.05</text>
<path d="M139 516.1h0.8M144 516.1h-0.8" stroke="#777" stroke-width="0.3"/>
<text x="144.6" y="517.5">0.1</text>
<path d="M139 505.9h0.8M144 505.9h-0.8" stroke="#777" stroke-width="0.3"/>
<text x="144.6" y="507.3">0.15</text>
<path d="M139 495.6h0.8M144 495.6h-0.8" stroke="#777" stroke-width="0.3"/>
<text x="144.6" y="497.1">0.2</text>
<path d="M139 485.4h0.8M144 485.4h-0.8" stroke="#777" stroke-width="0.3"/>
<text x="144.6" y="486.9">0.25</text>
<path d="M139 475.2h0.8M144 475.2h-0.8" stroke="#777" stroke-width="0.3"/>
<text x="144.6" y="476.7">0.3</text>
<path d="M139 465h0.8M144 465h-0.8" stroke="#777" stroke-width="0.3"/>
<text x="144.6" y="466.4">0.35</text>
<path d="M139 454.8h0.8M144 454.8h-0.8" stroke="#777" stroke-width="0.3"/>
<text x="144.6" y="456.2">0.4</text>
<path d="M139 444.6h0.8M144 444.6h-0.8" stroke="#777" stroke-width="0.3"/>
<text x="144.6" y="446">0.45</text>
</g>
<path d="M166.3 504.3L218.9 486.3L246.7 503.4M166.3 497.2L218.9 479.2L246.7 496.3M166.3 490L218.9 472.1L246.7 489.1M166.3 482.9L218.9 465L246.7 482M166.8 504.1L166.8 479.2M166.8 504.1L194.6 521.2M172 502.4L172 477.4M172 502.4L199.8 519.4M177.1 500.6L177.1 475.6M177.1 500.6L204.9 517.7M182.3 498.8L182.3 473.9M182.3 498.8L210.1 515.9M187.5 497.1L187.5 472.1M187.5 497.1L215.2 514.1M192.6 495.3L192.6 470.4M192.6 495.3L220.4 512.4M197.8 493.6L197.8 468.6M197.8 493.6L225.5 510.6M202.9 491.8L202.9 466.8M202.9 491.8L230.7 508.9M208.1 490L208.1 465.1M208.1 490L235.9 507.1M213.2 488.3L213.2 463.3M213.2 488.3L241 505.3M218.4 486.5L218.4 461.6M218.4 486.5L246.2 503.6M224.6 489.8L224.6 464.9M172 507.8L224.6 489.8M228.7 492.4L228.7 467.4M176.1 510.3L228.7 492.4M232.8 494.9L232.8 469.9M180.2 512.8L232.8 494.9M236.9 497.4L236.9 472.4M184.3 515.3L236.9 497.4M241 499.9L241 475M188.4 517.9L241 499.9" stroke="#e2e2e2" stroke-width="0.35" fill="none"/>
<path d="M166.3 504.3L218.9 486.3M218.9 486.3L246.7 503.4M218.9 486.3L218.9 461.4M246.7 503.4L246.7 478.4M166.3 479.3L218.9 461.4M218.9 461.4L246.7 478.4" stroke="#d0d0d0" stroke-width="0.35" fill="none"/>
<path d="M166.3 504.3L194.1 521.4M194.1 521.4L246.7 503.4M166.3 504.3L166.3 479.3" stroke="#aaa" stroke-width="0.4" fill="none"/>
<linearGradient id="g17" gradientUnits="userSpaceOnUse" x1="0" y1="0" x2="0" y2="-21.7"><stop offset="0" stop-color="#f00"/><stop offset="1" stop-color="#ff0"/></linearGradient>
<g fill="url(#g17)" stroke="rgba(100,30,0,0.55)" stroke-width="0.35">
<g transform="translate(223.7 491.7)"><path d="M-3.3 -2l3.3 2 4.1 -1.4v-21.5l-4.1 1.4 -3.3 -2zM0 0v-21.5"/><path class="l" d="M-3.3 -2L0 0v-21.5l-3.3 -2z"/><path d="M-3.3 -23.5L0 -21.5L4.1 -22.9L0.8 -24.9z" fill="#fffd00"/></g>
<g transform="translate(218.5 493.5)"><path d="M-3.3 -2l3.3 2 4.1 -1.4v-21.6l-4.1 1.4 -3.3 -2zM0 0v-21.6"/><path class="l" d="M-3.3 -2L0 0v-21.6l-3.3 -2z"/><path d="M-3.3 -23.6L0 -21.6L4.1 -23L0.8 -25z" fill="#fffe00"/></g>
<g transform="translate(213.3 495.2)"><path d="M-3.3 -2l3.3 2 4.1 -1.4v-21.6l-4.1 1.4 -3.3 -2zM0 0v-21.6"/><path class="l" d="M-3.3 -2L0 0v-21.6l-3.3 -2z"/><path d="M-3.3 -23.7L0 -21.6L4.1 -23L0.8 -25.1z" fill="#ffff00"/></g>
<g transform="translate(208.2 497)"><path d="M-3.3 -2l3.3 2 4.1 -1.4v-21.7l-4.1 1.4 -3.3 -2zM0 0v-21.7"/><path class="l" d="M-3.3 -2L0 0v-21.7l-3.3 -2z"/><path d="M-3.3 -23.7L0 -21.7L4.1 -23.1L0.8 -25.1z" fill="#ffff00"/></g>
<g transform="translate(203 498.8)"><path d="M-3.3 -2l3.3 2 4.1 -1.4v-21.8l-4.1 1.4 -3.3 -2zM0 0v-21.8"/><path class="l" d="M-3.3 -2L0 0v-21.8l-3.3 -2z"/><path d="M-3.3 -23.8L0 -21.8L4.1 -23.2L0.8 -25.2z" fill="#ffff00"/></g>
<g transform="translate(197.9 500.5)"><path d="M-3.3 -2l3.3 2 4.1 -1.4v-21.9l-4.1 1.4 -3.3 -2zM0 0v-21.9"/><path class="l" d="M-3.3 -2L0 0v-21.9l-3.3 -2z"/><path d="M-3.3 -23.9L0 -21.9L4.1 -23.3L0.8 -25.3z" fill="#ffff00"/></g>
<g transform="translate(192.7 502.3)"><path d="M-3.3 -2l3.3 2 4.1 -1.4v-21.9l-4.1 1.4 -3.3 -2zM0 0v-21.9"/><path class="l" d="M-3.3 -2L0 0v-21.9l-3.3 -2z"/><path d="M-3.3 -23.9L0 -21.9L4.1 -23.3L0.8 -25.3z" fill="#ffff00"/></g>
<g transform="translate(187.6 504)"><path d="M-3.3 -2l3.3 2 4.1 -1.4v-22l-4.1 1.4 -3.3 -2zM0 0v-22"/><path class="l" d="M-3.3 -2L0 0v-22l-3.3 -2z"/><path d="M-3.3 -24L0 -22L4.1 -23.4L0.8 -25.4z" fill="#ffff00"/></g>
<g transform="translate(182.4 505.8)"><path d="M-3.3 -2l3.3 2 4.1 -1.4v-22.1l-4.1 1.4 -3.3 -2zM0 0v-22.1"/><path class="l" d="M-3.3 -2L0 0v-22.1l-3.3 -2z"/><path d="M-3.3 -24.1L0 -22.1L4.1 -23.5L0.8 -25.5z" fill="#ffff00"/></g>
<g transform="translate(177.2 507.6)"><path d="M-3.3 -2l3.3 2 4.1 -1.4v-22.1l-4.1 1.4 -3.3 -2zM0 0v-22.1"/><path class="l" d="M-3.3 -2L0 0v-22.1l-3.3 -2z"/><path d="M-3.3 -24.1L0 -22.1L4.1 -23.5L0.8 -25.6z" fill="#ffff00"/></g>
<g transform="translate(172.1 509.3)"><path d="M-3.3 -2l3.3 2 4.1 -1.4v-22.2l-4.1 1.4 -3.3 -2zM0 0v-22.2"/><path class="l" d="M-3.3 -2L0 0v-22.2l-3.3 -2z"/><path d="M-3.3 -24.2L0 -22.2L4.1 -23.6L0.8 -25.6z" fill="#ffff00"/></g>
<g transform="translate(227.8 494.2)"><path d="M-3.3 -2l3.3 2 4.1 -1.4v-19l-4.1 1.4 -3.3 -2zM0 0v-19"/><path class="l" d="M-3.3 -2L0 0v-19l-3.3 -2z"/><path d="M-3.3 -21L0 -19L4.1 -20.4L0.8 -22.4z" fill="#ffe000"/></g>
<g transform="translate(222.6 496)"><path d="M-3.3 -2l3.3 2 4.1 -1.4v-19.3l-4.1 1.4 -3.3 -2zM0 0v-19.3"/><path class="l" d="M-3.3 -2L0 0v-19.3l-3.3 -2z"/><path d="M-3.3 -21.3L0 -19.3L4.1 -20.7L0.8 -22.7z" fill="#ffe300"/></g>
<g transform="translate(217.4 497.8)"><path d="M-3.3 -2l3.3 2 4.1 -1.4v-19.6l-4.1 1.4 -3.3 -2zM0 0v-19.6"/><path class="l" d="M-3.3 -2L0 0v-19.6l-3.3 -2z"/><path d="M-3.3 -21.6L0 -19.6L4.1 -21L0.8 -23z" fill="#ffe700"/></g>
<g transform="translate(212.3 499.5)"><path d="M-3.3 -2l3.3 2 4.1 -1.4v-19.9l-4.1 1.4 -3.3 -2zM0 0v-19.9"/><path class="l" d="M-3.3 -2L0 0v-19.9l-3.3 -2z"/><path d="M-3.3 -21.9L0 -19.9L4.1 -21.3L0.8 -23.3z" fill="#ffea00"/></g>
<g transform="translate(207.1 501.3)"><path d="M-3.3 -2l3.3 2 4.1 -1.4v-20.2l-4.1 1.4 -3.3 -2zM0 0v-20.2"/><path class="l" d="M-3.3 -2L0 0v-20.2l-3.3 -2z"/><path d="M-3.3 -22.2L0 -20.2L4.1 -21.6L0.8 -23.6z" fill="#ffee00"/></g>
<g transform="translate(202 503)"><path d="M-3.3 -2l3.3 2 4.1 -1.4v-20.5l-4.1 1.4 -3.3 -2zM0 0v-20.5"/><path class="l" d="M-3.3 -2L0 0v-20.5l-3.3 -2z"/><path d="M-3.3 -22.5L0 -20.5L4.1 -21.9L0.8 -23.9z" fill="#fff100"/></g>
<g transform="translate(196.8 504.8)"><path d="M-3.3 -2l3.3 2 4.1 -1.4v-20.8l-4.1 1.4 -3.3 -2zM0 0v-20.8"/><path class="l" d="M-3.3 -2L0 0v-20.8l-3.3 -2z"/><path d="M-3.3 -22.8L0 -20.8L4.1 -22.2L0.8 -24.2z" fill="#fff500"/></g>
<g transform="translate(191.7 506.6)"><path d="M-3.3 -2l3.3 2 4.1 -1.4v-21.1l-4.1 1.4 -3.3 -2zM0 0v-21.1"/><path class="l" d="M-3.3 -2L0 0v-21.1l-3.3 -2z"/><path d="M-3.3 -23.1L0 -21.1L4.1 -22.5L0.8 -24.5z" fill="#fff800"/></g>
<g transform="translate(186.5 508.3)"><path d="M-3.3 -2l3.3 2 4.1 -1.4v-21.4l-4.1 1.4 -3.3 -2zM0 0v-21.4"/><path class="l" d="M-3.3 -2L0 0v-21.4l-3.3 -2z"/><path d="M-3.3 -23.4L0 -21.4L4.1 -22.8L0.8 -24.8z" fill="#fffc00"/></g>
<g transform="translate(181.3 510.1)"><path d="M-3.3 -2l3.3 2 4.1 -1.4v-21.7l-4.1 1.4 -3.3 -2zM0 0v-21.7"/><path class="l" d="M-3.3 -2L0 0v-21.7l-3.3 -2z"/><path d="M-3.3 -23.7L0 -21.7L4.1 -23.1L0.8 -25.1z" fill="#ffff00"/></g>
<g transform="translate(176.2 511.8)"><path d="M-3.3 -2l3.3 2 4.1 -1.4v-22l-4.1 1.4 -3.3 -2zM0 0v-22"/><path class="l" d="M-3.3 -2L0 0v-22l-3.3 -2z"/><path d="M-3.3 -24L0 -22L4.1 -23.4L0.8 -25.4z" fill="#ffff00"/></g>
<g transform="translate(231.9 496.8)"><path d="M-3.3 -2l3.3 2 4.1 -1.4v-16.5l-4.1 1.4 -3.3 -2zM0 0v-16.5"/><path class="l" d="M-3.3 -2L0 0v-16.5l-3.3 -2z"/><path d="M-3.3 -18.5L0 -16.5L4.1 -17.9L0.8 -19.9z" fill="#ffb800"/></g>
<g transform="translate(226.7 498.5)"><path d="M-3.3 -2l3.3 2 4.1 -1.4v-16.9l-4.1 1.4 -3.3 -2zM0 0v-16.9"/><path class="l" d="M-3.3 -2L0 0v-16.9l-3.3 -2z"/><path d="M-3.3 -19L0 -16.9L4.1 -18.4L0.8 -20.4z" fill="#ffbd00"/></g>
<g transform="translate(221.6 500.3)"><path d="M-3.3 -2l3.3 2 4.1 -1.4v-17.4l-4.1 1.4 -3.3 -2zM0 0v-17.4"/><path class="l" d="M-3.3 -2L0 0v-17.4l-3.3 -2z"/><path d="M-3.3 -19.4L0 -17.4L4.1 -18.8L0.8 -20.8z" fill="#ffc200"/></g>
<g transform="translate(216.4 502)"><path d="M-3.3 -2l3.3 2 4.1 -1.4v-17.9l-4.1 1.4 -3.3 -2zM0 0v-17.9"/><path class="l" d="M-3.3 -2L0 0v-17.9l-3.3 -2z"/><path d="M-3.3 -19.9L0 -17.9L4.1 -19.3L0.8 -21.3z" fill="#ffc700"/></g>
<g transform="translate(211.2 503.8)"><path d="M-3.3 -2l3.3 2 4.1 -1.4v-18.3l-4.1 1.4 -3.3 -2zM0 0v-18.3"/><path class="l" d="M-3.3 -2L0 0v-18.3l-3.3 -2z"/><path d="M-3.3 -20.3L0 -18.3L4.1 -19.7L0.8 -21.7z" fill="#ffcd00"/></g>
<g transform="translate(206.1 505.6)"><path d="M-3.3 -2l3.3 2 4.1 -1.4v-18.8l-4.1 1.4 -3.3 -2zM0 0v-18.8"/><path class="l" d="M-3.3 -2L0 0v-18.8l-3.3 -2z"/><path d="M-3.3 -20.8L0 -18.8L4.1 -20.2L0.8 -22.2z" fill="#ffd200"/></g>
<g transform="translate(200.9 507.3)"><path d="M-3.3 -2l3.3 2 4.1 -1.4v-19.2l-4.1 1.4 -3.3 -2zM0 0v-19.2"/><path class="l" d="M-3.3 -2L0 0v-19.2l-3.3 -2z"/><path d="M-3.3 -21.2L0 -19.2L4.1 -20.6L0.8 -22.6z" fill="#ffd700"/></g>
<g transform="translate(195.8 509.1)"><path d="M-3.3 -2l3.3 2 4.1 -1.4v-19.7l-4.1 1.4 -3.3 -2zM0 0v-19.7"/><path class="l" d="M-3.3 -2L0 0v-19.7l-3.3 -2z"/><path d="M-3.3 -21.7L0 -19.7L4.1 -21.1L0.8 -23.1z" fill="#ffdc00"/></g>
<g transform="translate(190.6 510.8)"><path d="M-3.3 -2l3.3 2 4.1 -1.4v-20.1l-4.1 1.4 -3.3 -2zM0 0v-20.1"/><path class="l" d="M-3.3 -2L0 0v-20.1l-3.3 -2z"/><path d="M-3.3 -22.1L0 -20.1L4.1 -21.5L0.8 -23.5z" fill="#ffe100"/></g>
<g transform="translate(185.4 512.6)"><path d="M-3.3 -2l3.3 2 4.1 -1.4v-20.6l-4.1 1.4 -3.3 -2zM0 0v-20.6"/><path class="l" d="M-3.3 -2L0 0v-20.6l-3.3 -2z"/><path d="M-3.3 -22.6L0 -20.6L4.1 -22L0.8 -24z" fill="#ffe600"/></g>
<g transform="translate(180.3 514.4)"><path d="M-3.3 -2l3.3 2 4.1 -1.4v-21l-4.1 1.4 -3.3 -2zM0 0v-21"/><path class="l" d="M-3.3 -2L0 0v-21l-3.3 -2z"/><path d="M-3.3 -23L0 -21L4.1 -22.4L0.8 -24.4z" fill="#ffeb00"/></g>
<g transform="translate(236 499.3)"><path d="M-3.3 -2l3.3 2 4.1 -1.4v-15.5l-4.1 1.4 -3.3 -2zM0 0v-15.5"/><path class="l" d="M-3.3 -2L0 0v-15.5l-3.3 -2z"/><path d="M-3.3 -17.5L0 -15.5L4.1 -16.9L0.8 -18.9z" fill="#ffa400"/></g>
<g transform="translate(230.8 501)"><path d="M-3.3 -2l3.3 2 4.1 -1.4v-15.9l-4.1 1.4 -3.3 -2zM0 0v-15.9"/><path class="l" d="M-3.3 -2L0 0v-15.9l-3.3 -2z"/><path d="M-3.3 -18L0 -15.9L4.1 -17.4L0.8 -19.4z" fill="#ffa900"/></g>
<g transform="translate(225.7 502.8)"><path d="M-3.3 -2l3.3 2 4.1 -1.4v-16.4l-4.1 1.4 -3.3 -2zM0 0v-16.4"/><path class="l" d="M-3.3 -2L0 0v-16.4l-3.3 -2z"/><path d="M-3.3 -18.4L0 -16.4L4.1 -17.8L0.8 -19.8z" fill="#ffae00"/></g>
<g transform="translate(220.5 504.6)"><path d="M-3.3 -2l3.3 2 4.1 -1.4v-16.9l-4.1 1.4 -3.3 -2zM0 0v-16.9"/><path class="l" d="M-3.3 -2L0 0v-16.9l-3.3 -2z"/><path d="M-3.3 -18.9L0 -16.9L4.1 -18.3L0.8 -20.3z" fill="#ffb200"/></g>
<g transform="translate(215.3 506.3)"><path d="M-3.3 -2l3.3 2 4.1 -1.4v-17.3l-4.1 1.4 -3.3 -2zM0 0v-17.3"/><path class="l" d="M-3.3 -2L0 0v-17.3l-3.3 -2z"/><path d="M-3.3 -19.3L0 -17.3L4.1 -18.7L0.8 -20.7z" fill="#ffb700"/></g>
<g transform="translate(210.2 508.1)"><path d="M-3.3 -2l3.3 2 4.1 -1.4v-17.8l-4.1 1.4 -3.3 -2zM0 0v-17.8"/><path class="l" d="M-3.3 -2L0 0v-17.8l-3.3 -2z"/><path d="M-3.3 -19.8L0 -17.8L4.1 -19.2L0.8 -21.2z" fill="#ffbc00"/></g>
<g transform="translate(205 509.8)"><path d="M-3.3 -2l3.3 2 4.1 -1.4v-18.2l-4.1 1.4 -3.3 -2zM0 0v-18.2"/><path class="l" d="M-3.3 -2L0 0v-18.2l-3.3 -2z"/><path d="M-3.3 -20.2L0 -18.2L4.1 -19.6L0.8 -21.6z" fill="#ffc100"/></g>
<g transform="translate(199.9 511.6)"><path d="M-3.3 -2l3.3 2 4.1 -1.4v-18.6l-4.1 1.4 -3.3 -2zM0 0v-18.6"/><path class="l" d="M-3.3 -2L0 0v-18.6l-3.3 -2z"/><path d="M-3.3 -20.7L0 -18.6L4.1 -20.1L0.8 -22.1z" fill="#ffc500"/></g>
<g transform="translate(194.7 513.4)"><path d="M-3.3 -2l3.3 2 4.1 -1.4v-19.1l-4.1 1.4 -3.3 -2zM0 0v-19.1"/><path class="l" d="M-3.3 -2L0 0v-19.1l-3.3 -2z"/><path d="M-3.3 -21.1L0 -19.1L4.1 -20.5L0.8 -22.5z" fill="#ffca00"/></g>
<g transform="translate(189.6 515.1)"><path d="M-3.3 -2l3.3 2 4.1 -1.4v-19.6l-4.1 1.4 -3.3 -2zM0 0v-19.6"/><path class="l" d="M-3.3 -2L0 0v-19.6l-3.3 -2z"/><path d="M-3.3 -21.6L0 -19.6L4.1 -21L0.8 -23z" fill="#ffcf00"/></g>
<g transform="translate(184.4 516.9)"><path d="M-3.3 -2l3.3 2 4.1 -1.4v-20l-4.1 1.4 -3.3 -2zM0 0v-20"/><path class="l" d="M-3.3 -2L0 0v-20l-3.3 -2z"/><path d="M-3.3 -22L0 -20L4.1 -21.4L0.8 -23.4z" fill="#ffd400"/></g>
<g transform="translate(240.1 501.8)"><path d="M-3.3 -2l3.3 2 4.1 -1.4v-15.6l-4.1 1.4 -3.3 -2zM0 0v-15.6"/><path class="l" d="M-3.3 -2L0 0v-15.6l-3.3 -2z"/><path d="M-3.3 -17.6L0 -15.6L4.1 -17L0.8 -19z" fill="#ff9c00"/></g>
<g transform="translate(234.9 503.6)"><path d="M-3.3 -2l3.3 2 4.1 -1.4v-15.9l-4.1 1.4 -3.3 -2zM0 0v-15.9"/><path class="l" d="M-3.3 -2L0 0v-15.9l-3.3 -2z"/><path d="M-3.3 -18L0 -15.9L4.1 -17.3L0.8 -19.4z" fill="#ff9f00"/></g>
<g transform="translate(229.8 505.3)"><path d="M-3.3 -2l3.3 2 4.1 -1.4v-16.3l-4.1 1.4 -3.3 -2zM0 0v-16.3"/><path class="l" d="M-3.3 -2L0 0v-16.3l-3.3 -2z"/><path d="M-3.3 -18.3L0 -16.3L4.1 -17.7L0.8 -19.7z" fill="#ffa300"/></g>
<g transform="translate(224.6 507.1)"><path d="M-3.3 -2l3.3 2 4.1 -1.4v-16.6l-4.1 1.4 -3.3 -2zM0 0v-16.6"/><path class="l" d="M-3.3 -2L0 0v-16.6l-3.3 -2z"/><path d="M-3.3 -18.6L0 -16.6L4.1 -18L0.8 -20z" fill="#ffa600"/></g>
<g transform="translate(219.4 508.8)"><path d="M-3.3 -2l3.3 2 4.1 -1.4v-17l-4.1 1.4 -3.3 -2zM0 0v-17"/><path class="l" d="M-3.3 -2L0 0v-17l-3.3 -2z"/><path d="M-3.3 -19L0 -17L4.1 -18.4L0.8 -20.4z" fill="#ffaa00"/></g>
<g transform="translate(214.3 510.6)"><path d="M-3.3 -2l3.3 2 4.1 -1.4v-17.3l-4.1 1.4 -3.3 -2zM0 0v-17.3"/><path class="l" d="M-3.3 -2L0 0v-17.3l-3.3 -2z"/><path d="M-3.3 -19.3L0 -17.3L4.1 -18.7L0.8 -20.7z" fill="#ffad00"/></g>
<g transform="translate(209.1 512.4)"><path d="M-3.3 -2l3.3 2 4.1 -1.4v-17.6l-4.1 1.4 -3.3 -2zM0 0v-17.6"/><path class="l" d="M-3.3 -2L0 0v-17.6l-3.3 -2z"/><path d="M-3.3 -19.7L0 -17.6L4.1 -19L0.8 -21.1z" fill="#ffb000"/></g>
<g transform="translate(204 514.1)"><path d="M-3.3 -2l3.3 2 4.1 -1.4v-18l-4.1 1.4 -3.3 -2zM0 0v-18"/><path class="l" d="M-3.3 -2L0 0v-18l-3.3 -2z"/><path d="M-3.3 -20L0 -18L4.1 -19.4L0.8 -21.4z" fill="#ffb400"/></g>
<g transform="translate(198.8 515.9)"><path d="M-3.3 -2l3.3 2 4.1 -1.4v-18.3l-4.1 1.4 -3.3 -2zM0 0v-18.3"/><path class="l" d="M-3.3 -2L0 0v-18.3l-3.3 -2z"/><path d="M-3.3 -20.3L0 -18.3L4.1 -19.7L0.8 -21.7z" fill="#ffb700"/></g>
<g transform="translate(193.7 517.6)"><path d="M-3.3 -2l3.3 2 4.1 -1.4v-18.7l-4.1 1.4 -3.3 -2zM0 0v-18.7"/><path class="l" d="M-3.3 -2L0 0v-18.7l-3.3 -2z"/><path d="M-3.3 -20.7L0 -18.7L4.1 -20.1L0.8 -22.1z" fill="#ffbb00"/></g>
<g transform="translate(188.5 519.4)"><path d="M-3.3 -2l3.3 2 4.1 -1.4v-19l-4.1 1.4 -3.3 -2zM0 0v-19"/><path class="l" d="M-3.3 -2L0 0v-19l-3.3 -2z"/><path d="M-3.3 -21L0 -19L4.1 -20.4L0.8 -22.4z" fill="#ffbe00"/></g>
</g>
<linearGradient id="cb17" x1="0" y1="1" x2="0" y2="0"><stop offset="0" stop-color="#f00"/><stop offset="1" stop-color="#ff0"/></linearGradient>
<rect x="252" y="446.4" width="4.8" height="90.2" fill="url(#cb17)"/>
<g class="t" font-size="2.7">
<text x="164.5" y="505.3" text-anchor="end">0</text>
<text x="164.5" y="498.1" text-anchor="end">100</text>
<text x="164.5" y="491" text-anchor="end">200</text>
<text x="164.5" y="483.9" text-anchor="end">300</text>
<text x="156.3" y="493.3" font-size="3.35" text-anchor="middle" transform="rotate(-90 156.3 493.3)">Running Time(s)</text>
<text x="169.4" y="513.2" text-anchor="end">POL-NLT</text>
<text x="173.5" y="515.7" text-anchor="end">WS</text>
<text x="177.6" y="518.2" text-anchor="end">HMMS</text>
<text x="181.7" y="520.7" text-anchor="end">GMMS</text>
<text x="185.8" y="523.3" text-anchor="end">NC</text>
<text x="198.9" y="525.9" text-anchor="middle">10</text>
<text x="204.1" y="524.1" text-anchor="middle">11</text>
<text x="209.2" y="522.4" text-anchor="middle">12</text>
<text x="214.4" y="520.6" text-anchor="middle">13</text>
<text x="219.5" y="518.8" text-anchor="middle">14</text>
<text x="224.7" y="517.1" text-anchor="middle">15</text>
<text x="229.8" y="515.3" text-anchor="middle">16</text>
<text x="235" y="513.6" text-anchor="middle">17</text>
<text x="240.2" y="511.8" text-anchor="middle">18</text>
<text x="245.3" y="510" text-anchor="middle">19</text>
<text x="250.5" y="508.3" text-anchor="middle">20</text>
<text x="166" y="527" font-size="3.35" text-anchor="middle">Methods</text>
<text x="217.8" y="525.4" font-size="3.35" text-anchor="middle">δ</text>
<path d="M252 536.6h0.8M256.8 536.6h-0.8" stroke="#777" stroke-width="0.3"/>
<text x="257.4" y="538.1">0</text>
<path d="M252 521.8h0.8M256.8 521.8h-0.8" stroke="#777" stroke-width="0.3"/>
<text x="257.4" y="523.2">50</text>
<path d="M252 506.9h0.8M256.8 506.9h-0.8" stroke="#777" stroke-width="0.3"/>
<text x="257.4" y="508.4">100</text>
<path d="M252 492.1h0.8M256.8 492.1h-0.8" stroke="#777" stroke-width="0.3"/>
<text x="257.4" y="493.6">150</text>
<path d="M252 477.3h0.8M256.8 477.3h-0.8" stroke="#777" stroke-width="0.3"/>
<text x="257.4" y="478.7">200</text>
<path d="M252 462.4h0.8M256.8 462.4h-0.8" stroke="#777" stroke-width="0.3"/>
<text x="257.4" y="463.9">250</text>
<path d="M252 447.6h0.8M256.8 447.6h-0.8" stroke="#777" stroke-width="0.3"/>
<text x="257.4" y="449.1">300</text>
</g>
<path d="M288 507.3L341.8 488.8L368.3 505.7M288 499.8L341.8 481.2L368.3 497.6M288 492.3L341.8 473.6L368.3 489.4M287.5 507.5L287.5 488.7M287.5 507.5L314 524.3M293 505.6L293 486.8M293 505.6L319.5 522.5M298.5 503.7L298.5 484.9M298.5 503.7L325 520.6M304 501.8L304 483M304 501.8L330.4 518.7M309.4 499.9L309.4 481.1M309.4 499.9L335.9 516.8M314.9 498.1L314.9 479.2M314.9 498.1L341.4 514.9M320.4 496.2L320.4 477.3M320.4 496.2L346.9 513.1M325.9 494.3L325.9 475.4M325.9 494.3L352.3 511.2M331.3 492.4L331.3 473.5M331.3 492.4L357.8 509.3M336.8 490.5L336.8 471.6M336.8 490.5L363.3 507.4M342.3 488.7L342.3 469.7M342.3 488.7L368.8 505.5M346.9 492L346.9 472.8M293.1 510.5L346.9 492M351 494.7L351 475.2M297.2 513.1L351 494.7M355.1 497.3L355.1 477.6M301.2 515.7L355.1 497.3M359.1 499.9L359.1 480M305.3 518.3L359.1 499.9M363.2 502.5L363.2 482.4M309.4 521L363.2 502.5" stroke="#e2e2e2" stroke-width="0.35" fill="none"/>
<path d="M288 507.3L341.8 488.8M341.8 488.8L368.3 505.7M341.8 488.8L341.8 469.8M368.3 505.7L368.3 485.4M288 488.5L341.8 469.8M341.8 469.8L368.3 485.4" stroke="#d0d0d0" stroke-width="0.35" fill="none"/>
<path d="M288 507.3L314.5 524.2M314.5 524.2L368.3 505.7M288 507.3L288 488.5" stroke="#aaa" stroke-width="0.4" fill="none"/>
<linearGradient id="g18" gradientUnits="userSpaceOnUse" x1="0" y1="0" x2="0" y2="-25.3"><stop offset="0" stop-color="#ff0000"/><stop offset="0.1" stop-color="#ff5000"/><stop offset="0.2" stop-color="#ff7300"/><stop offset="0.3" stop-color="#ff8200"/><stop offset="0.85" stop-color="#ff9600"/><stop offset="0.93" stop-color="#ffbe00"/><stop offset="1" stop-color="#ffff00"/></linearGradient>
<g fill="url(#g18)" stroke="rgba(100,30,0,0.55)" stroke-width="0.35">
<g transform="translate(346.8 493.7)"><path d="M-3.3 -2.1l3.3 2.1 4.4 -1.5v-21.4l-4.4 1.5 -3.3 -2.1zM0 0v-21.4"/><path class="l" d="M-3.3 -2.1L0 0v-21.4l-3.3 -2.1z"/><path d="M-3.3 -23.5L0 -21.4L4.4 -22.9L1.1 -25z" fill="#ff9600"/></g>
<g transform="translate(341.3 495.6)"><path d="M-3.3 -2.1l3.3 2.1 4.4 -1.5v-21.1l-4.4 1.5 -3.3 -2.1zM0 0v-21.1"/><path class="l" d="M-3.3 -2.1L0 0v-21.1l-3.3 -2.1z"/><path d="M-3.3 -23.1L0 -21.1L4.4 -22.6L1.1 -24.6z" fill="#ff9500"/></g>
<g transform="translate(335.8 497.4)scale(1 1.005)"><path d="M-3.3 -2.1l3.3 2.1 4.4 -1.5v-20.3l-4.4 1.5 -3.3 -2.1zM0 0v-20.3"/><path class="l" d="M-3.3 -2.1L0 0v-20.3l-3.3 -2.1z"/><path d="M-3.3 -22.4L0 -20.3L4.4 -21.8L1.1 -23.9z" fill="#ff9400"/></g>
<g transform="translate(330.4 499.3)scale(1 1.006)"><path d="M-3.3 -2.1l3.3 2.1 4.4 -1.5v-19.5l-4.4 1.5 -3.3 -2.1zM0 0v-19.5"/><path class="l" d="M-3.3 -2.1L0 0v-19.5l-3.3 -2.1z"/><path d="M-3.3 -21.6L0 -19.5L4.4 -21L1.1 -23.1z" fill="#ff9300"/></g>
<g transform="translate(324.9 501.2)scale(1 1.007)"><path d="M-3.3 -2.1l3.3 2.1 4.4 -1.5v-18.8l-4.4 1.5 -3.3 -2.1zM0 0v-18.8"/><path class="l" d="M-3.3 -2.1L0 0v-18.8l-3.3 -2.1z"/><path d="M-3.3 -20.8L0 -18.8L4.4 -20.3L1.1 -22.3z" fill="#ff9200"/></g>
<g transform="translate(319.4 503.1)scale(1 1.007)"><path d="M-3.3 -2.1l3.3 2.1 4.4 -1.5v-18l-4.4 1.5 -3.3 -2.1zM0 0v-18"/><path class="l" d="M-3.3 -2.1L0 0v-18l-3.3 -2.1z"/><path d="M-3.3 -20.1L0 -18L4.4 -19.5L1.1 -21.6z" fill="#ff9100"/></g>
<g transform="translate(314 505)scale(1 1.008)"><path d="M-3.3 -2.1l3.3 2.1 4.4 -1.5v-17.2l-4.4 1.5 -3.3 -2.1zM0 0v-17.2"/><path class="l" d="M-3.3 -2.1L0 0v-17.2l-3.3 -2.1z"/><path d="M-3.3 -19.3L0 -17.2L4.4 -18.7L1.1 -20.8z" fill="#ff9000"/></g>
<g transform="translate(308.5 506.8)scale(1 1.008)"><path d="M-3.3 -2.1l3.3 2.1 4.4 -1.5v-16.5l-4.4 1.5 -3.3 -2.1zM0 0v-16.5"/><path class="l" d="M-3.3 -2.1L0 0v-16.5l-3.3 -2.1z"/><path d="M-3.3 -18.5L0 -16.5L4.4 -18L1.1 -20z" fill="#ff8f00"/></g>
<g transform="translate(303 508.7)scale(1 1.009)"><path d="M-3.3 -2.1l3.3 2.1 4.4 -1.5v-16.1l-4.4 1.5 -3.3 -2.1zM0 0v-16.1"/><path class="l" d="M-3.3 -2.1L0 0v-16.1l-3.3 -2.1z"/><path d="M-3.3 -18.2L0 -16.1L4.4 -17.6L1.1 -19.6z" fill="#ff8e00"/></g>
<g transform="translate(297.5 510.6)scale(1 1.009)"><path d="M-3.3 -2.1l3.3 2.1 4.4 -1.5v-15.7l-4.4 1.5 -3.3 -2.1zM0 0v-15.7"/><path class="l" d="M-3.3 -2.1L0 0v-15.7l-3.3 -2.1z"/><path d="M-3.3 -17.8L0 -15.7L4.4 -17.2L1.1 -19.3z" fill="#ff8e00"/></g>
<g transform="translate(292.1 512.5)scale(1 1.01)"><path d="M-3.3 -2.1l3.3 2.1 4.4 -1.5v-15.7l-4.4 1.5 -3.3 -2.1zM0 0v-15.7"/><path class="l" d="M-3.3 -2.1L0 0v-15.7l-3.3 -2.1z"/><path d="M-3.3 -17.8L0 -15.7L4.4 -17.2L1.1 -19.3z" fill="#ff8e00"/></g>
<g transform="translate(350.9 496.3)scale(1 1.015)"><path d="M-3.3 -2.1l3.3 2.1 4.4 -1.5v-21.4l-4.4 1.5 -3.3 -2.1zM0 0v-21.4"/><path class="l" d="M-3.3 -2.1L0 0v-21.4l-3.3 -2.1z"/><path d="M-3.3 -23.5L0 -21.4L4.4 -22.9L1.1 -25z" fill="#ff9600"/></g>
<g transform="translate(345.4 498.2)scale(1 1.017)"><path d="M-3.3 -2l3.3 2 4.4 -1.5v-21.1l-4.4 1.5 -3.3 -2zM0 0v-21.1"/><path class="l" d="M-3.3 -2L0 0v-21.1l-3.3 -2z"/><path d="M-3.3 -23.1L0 -21.1L4.4 -22.5L1.1 -24.6z" fill="#ff9500"/></g>
<g transform="translate(339.9 500.1)scale(1 1.019)"><path d="M-3.3 -2l3.3 2 4.4 -1.5v-20.3l-4.4 1.5 -3.3 -2zM0 0v-20.3"/><path class="l" d="M-3.3 -2L0 0v-20.3l-3.3 -2z"/><path d="M-3.3 -22.3L0 -20.3L4.4 -21.8L1.1 -23.8z" fill="#ff9400"/></g>
<g transform="translate(334.5 501.9)scale(1 1.021)"><path d="M-3.3 -2l3.3 2 4.4 -1.5v-19.5l-4.4 1.5 -3.3 -2zM0 0v-19.5"/><path class="l" d="M-3.3 -2L0 0v-19.5l-3.3 -2z"/><path d="M-3.3 -21.6L0 -19.5L4.4 -21L1.1 -23z" fill="#ff9300"/></g>
<g transform="translate(329 503.8)scale(1 1.023)"><path d="M-3.3 -2l3.3 2 4.4 -1.5v-18.8l-4.4 1.5 -3.3 -2zM0 0v-18.8"/><path class="l" d="M-3.3 -2L0 0v-18.8l-3.3 -2z"/><path d="M-3.3 -20.8L0 -18.8L4.4 -20.2L1.1 -22.3z" fill="#ff9200"/></g>
<g transform="translate(323.5 505.7)scale(1 1.025)"><path d="M-3.3 -2l3.3 2 4.4 -1.5v-18l-4.4 1.5 -3.3 -2zM0 0v-18"/><path class="l" d="M-3.3 -2L0 0v-18l-3.3 -2z"/><path d="M-3.3 -20L0 -18L4.4 -19.5L1.1 -21.5z" fill="#ff9100"/></g>
<g transform="translate(318 507.6)scale(1 1.027)"><path d="M-3.3 -2l3.3 2 4.4 -1.5v-17.2l-4.4 1.5 -3.3 -2zM0 0v-17.2"/><path class="l" d="M-3.3 -2L0 0v-17.2l-3.3 -2z"/><path d="M-3.3 -19.3L0 -17.2L4.4 -18.7L1.1 -20.7z" fill="#ff9000"/></g>
<g transform="translate(312.6 509.4)scale(1 1.029)"><path d="M-3.3 -2l3.3 2 4.4 -1.5v-16.5l-4.4 1.5 -3.3 -2zM0 0v-16.5"/><path class="l" d="M-3.3 -2L0 0v-16.5l-3.3 -2z"/><path d="M-3.3 -18.5L0 -16.5L4.4 -17.9L1.1 -20z" fill="#ff8f00"/></g>
<g transform="translate(307.1 511.3)scale(1 1.03)"><path d="M-3.3 -2l3.3 2 4.4 -1.5v-16.1l-4.4 1.5 -3.3 -2zM0 0v-16.1"/><path class="l" d="M-3.3 -2L0 0v-16.1l-3.3 -2z"/><path d="M-3.3 -18.1L0 -16.1L4.4 -17.5L1.1 -19.6z" fill="#ff8e00"/></g>
<g transform="translate(301.6 513.2)scale(1 1.032)"><path d="M-3.3 -2l3.3 2 4.4 -1.5v-15.7l-4.4 1.5 -3.3 -2zM0 0v-15.7"/><path class="l" d="M-3.3 -2L0 0v-15.7l-3.3 -2z"/><path d="M-3.3 -17.7L0 -15.7L4.4 -17.2L1.1 -19.2z" fill="#ff8e00"/></g>
<g transform="translate(296.1 515.1)scale(1 1.034)"><path d="M-3.3 -2l3.3 2 4.4 -1.5v-15.7l-4.4 1.5 -3.3 -2zM0 0v-15.7"/><path class="l" d="M-3.3 -2L0 0v-15.7l-3.3 -2z"/><path d="M-3.3 -17.7L0 -15.7L4.4 -17.2L1.1 -19.2z" fill="#ff8e00"/></g>
<g transform="translate(355 498.9)scale(1 1.026)"><path d="M-3.3 -2l3.3 2 4.4 -1.5v-23l-4.4 1.5 -3.3 -2zM0 0v-23"/><path class="l" d="M-3.3 -2L0 0v-23l-3.3 -2z"/><path d="M-3.3 -25L0 -23L4.4 -24.4L1.1 -26.5z" fill="#ffff00"/></g>
<g transform="translate(349.5 500.8)scale(1 1.03)"><path d="M-3.3 -2l3.3 2 4.4 -1.5v-21.1l-4.4 1.5 -3.3 -2zM0 0v-21.1"/><path class="l" d="M-3.3 -2L0 0v-21.1l-3.3 -2z"/><path d="M-3.3 -23.1L0 -21.1L4.4 -22.5L1.1 -24.5z" fill="#ffb300"/></g>
<g transform="translate(344 502.7)scale(1 1.033)"><path d="M-3.3 -2l3.3 2 4.4 -1.5v-20.3l-4.4 1.5 -3.3 -2zM0 0v-20.3"/><path class="l" d="M-3.3 -2L0 0v-20.3l-3.3 -2z"/><path d="M-3.3 -22.3L0 -20.3L4.4 -21.8L1.1 -23.8z" fill="#ff9f00"/></g>
<g transform="translate(338.5 504.5)scale(1 1.036)"><path d="M-3.3 -2l3.3 2 4.4 -1.5v-19.5l-4.4 1.5 -3.3 -2zM0 0v-19.5"/><path class="l" d="M-3.3 -2L0 0v-19.5l-3.3 -2z"/><path d="M-3.3 -21.5L0 -19.5L4.4 -21L1.1 -23z" fill="#ff9500"/></g>
<g transform="translate(333.1 506.4)scale(1 1.039)"><path d="M-3.3 -2l3.3 2 4.4 -1.4v-18.8l-4.4 1.4 -3.3 -2zM0 0v-18.8"/><path class="l" d="M-3.3 -2L0 0v-18.8l-3.3 -2z"/><path d="M-3.3 -20.8L0 -18.8L4.4 -20.2L1.1 -22.2z" fill="#ff9400"/></g>
<g transform="translate(327.6 508.3)scale(1 1.042)"><path d="M-3.3 -2l3.3 2 4.4 -1.4v-18l-4.4 1.4 -3.3 -2zM0 0v-18"/><path class="l" d="M-3.3 -2L0 0v-18l-3.3 -2z"/><path d="M-3.3 -20L0 -18L4.4 -19.4L1.1 -21.4z" fill="#ff9200"/></g>
<g transform="translate(322.1 510.2)scale(1 1.046)"><path d="M-3.3 -2l3.3 2 4.4 -1.4v-17.2l-4.4 1.4 -3.3 -2zM0 0v-17.2"/><path class="l" d="M-3.3 -2L0 0v-17.2l-3.3 -2z"/><path d="M-3.3 -19.2L0 -17.2L4.4 -18.7L1.1 -20.7z" fill="#ff9100"/></g>
<g transform="translate(316.7 512.1)scale(1 1.049)"><path d="M-3.3 -2l3.3 2 4.4 -1.4v-16.5l-4.4 1.4 -3.3 -2zM0 0v-16.5"/><path class="l" d="M-3.3 -2L0 0v-16.5l-3.3 -2z"/><path d="M-3.3 -18.5L0 -16.5L4.4 -17.9L1.1 -19.9z" fill="#ff8f00"/></g>
<g transform="translate(311.2 513.9)scale(1 1.052)"><path d="M-3.3 -2l3.3 2 4.4 -1.4v-16.1l-4.4 1.4 -3.3 -2zM0 0v-16.1"/><path class="l" d="M-3.3 -2L0 0v-16.1l-3.3 -2z"/><path d="M-3.3 -18.1L0 -16.1L4.4 -17.5L1.1 -19.5z" fill="#ff8f00"/></g>
<g transform="translate(305.7 515.8)scale(1 1.055)"><path d="M-3.3 -2l3.3 2 4.4 -1.4v-15.7l-4.4 1.4 -3.3 -2zM0 0v-15.7"/><path class="l" d="M-3.3 -2L0 0v-15.7l-3.3 -2z"/><path d="M-3.3 -17.7L0 -15.7L4.4 -17.1L1.1 -19.1z" fill="#ff8e00"/></g>
<g transform="translate(300.2 517.7)scale(1 1.059)"><path d="M-3.3 -2l3.3 2 4.4 -1.4v-15.7l-4.4 1.4 -3.3 -2zM0 0v-15.7"/><path class="l" d="M-3.3 -2L0 0v-15.7l-3.3 -2z"/><path d="M-3.3 -17.7L0 -15.7L4.4 -17.1L1.1 -19.1z" fill="#ff8e00"/></g>
<g transform="translate(359 501.5)scale(1 1.037)"><path d="M-3.3 -2l3.3 2 4.4 -1.4v-21.4l-4.4 1.4 -3.3 -2zM0 0v-21.4"/><path class="l" d="M-3.3 -2L0 0v-21.4l-3.3 -2z"/><path d="M-3.3 -23.5L0 -21.4L4.4 -22.9L1.1 -24.9z" fill="#ff9600"/></g>
<g transform="translate(353.6 503.4)scale(1 1.042)"><path d="M-3.3 -2l3.3 2 4.4 -1.4v-21.1l-4.4 1.4 -3.3 -2zM0 0v-21.1"/><path class="l" d="M-3.3 -2L0 0v-21.1l-3.3 -2z"/><path d="M-3.3 -23.1L0 -21.1L4.4 -22.5L1.1 -24.5z" fill="#ff9500"/></g>
<g transform="translate(348.1 505.3)scale(1 1.046)"><path d="M-3.3 -2l3.3 2 4.4 -1.4v-20.3l-4.4 1.4 -3.3 -2zM0 0v-20.3"/><path class="l" d="M-3.3 -2L0 0v-20.3l-3.3 -2z"/><path d="M-3.3 -22.3L0 -20.3L4.4 -21.7L1.1 -23.7z" fill="#ff9400"/></g>
<g transform="translate(342.6 507.1)scale(1 1.051)"><path d="M-3.3 -2l3.3 2 4.4 -1.4v-19.5l-4.4 1.4 -3.3 -2zM0 0v-19.5"/><path class="l" d="M-3.3 -2L0 0v-19.5l-3.3 -2z"/><path d="M-3.3 -21.5L0 -19.5L4.4 -21L1.1 -22.9z" fill="#ff9300"/></g>
<g transform="translate(337.1 509)scale(1 1.056)"><path d="M-3.3 -2l3.3 2 4.4 -1.4v-18.8l-4.4 1.4 -3.3 -2zM0 0v-18.8"/><path class="l" d="M-3.3 -2L0 0v-18.8l-3.3 -2z"/><path d="M-3.3 -20.7L0 -18.8L4.4 -20.2L1.1 -22.2z" fill="#ff9200"/></g>
<g transform="translate(331.7 510.9)scale(1 1.06)"><path d="M-3.3 -2l3.3 2 4.4 -1.4v-18l-4.4 1.4 -3.3 -2zM0 0v-18"/><path class="l" d="M-3.3 -2L0 0v-18l-3.3 -2z"/><path d="M-3.3 -20L0 -18L4.4 -19.4L1.1 -21.4z" fill="#ff9100"/></g>
<g transform="translate(326.2 512.8)scale(1 1.065)"><path d="M-3.3 -2l3.3 2 4.4 -1.4v-17.2l-4.4 1.4 -3.3 -2zM0 0v-17.2"/><path class="l" d="M-3.3 -2L0 0v-17.2l-3.3 -2z"/><path d="M-3.3 -19.2L0 -17.2L4.4 -18.6L1.1 -20.6z" fill="#ff9000"/></g>
<g transform="translate(320.7 514.7)scale(1 1.069)"><path d="M-3.3 -1.9l3.3 1.9 4.4 -1.4v-16.5l-4.4 1.4 -3.3 -1.9zM0 0v-16.5"/><path class="l" d="M-3.3 -1.9L0 0v-16.5l-3.3 -1.9z"/><path d="M-3.3 -18.4L0 -16.5L4.4 -17.9L1.1 -19.8z" fill="#ff8f00"/></g>
<g transform="translate(315.3 516.5)scale(1 1.074)"><path d="M-3.3 -1.9l3.3 1.9 4.4 -1.4v-16.1l-4.4 1.4 -3.3 -1.9zM0 0v-16.1"/><path class="l" d="M-3.3 -1.9L0 0v-16.1l-3.3 -1.9z"/><path d="M-3.3 -18L0 -16.1L4.4 -17.5L1.1 -19.4z" fill="#ff8e00"/></g>
<g transform="translate(309.8 518.4)scale(1 1.079)"><path d="M-3.3 -1.9l3.3 1.9 4.4 -1.4v-15.7l-4.4 1.4 -3.3 -1.9zM0 0v-15.7"/><path class="l" d="M-3.3 -1.9L0 0v-15.7l-3.3 -1.9z"/><path d="M-3.3 -17.6L0 -15.7L4.4 -17.1L1.1 -19z" fill="#ff8e00"/></g>
<g transform="translate(304.3 520.3)scale(1 1.083)"><path d="M-3.3 -1.9l3.3 1.9 4.4 -1.4v-15.7l-4.4 1.4 -3.3 -1.9zM0 0v-15.7"/><path class="l" d="M-3.3 -1.9L0 0v-15.7l-3.3 -1.9z"/><path d="M-3.3 -17.6L0 -15.7L4.4 -17.1L1.1 -19z" fill="#ff8e00"/></g>
<g transform="translate(363.1 504.1)scale(1 1.048)"><path d="M-3.3 -2l3.3 2 4.4 -1.4v-21.4l-4.4 1.4 -3.3 -2zM0 0v-21.4"/><path class="l" d="M-3.3 -2L0 0v-21.4l-3.3 -2z"/><path d="M-3.3 -23.4L0 -21.4L4.4 -22.9L1.1 -24.9z" fill="#ff9600"/></g>
<g transform="translate(357.7 506)scale(1 1.054)"><path d="M-3.3 -2l3.3 2 4.4 -1.4v-21.1l-4.4 1.4 -3.3 -2zM0 0v-21.1"/><path class="l" d="M-3.3 -2L0 0v-21.1l-3.3 -2z"/><path d="M-3.3 -23L0 -21.1L4.4 -22.5L1.1 -24.5z" fill="#ff9500"/></g>
<g transform="translate(352.2 507.9)scale(1 1.06)"><path d="M-3.3 -2l3.3 2 4.4 -1.4v-20.3l-4.4 1.4 -3.3 -2zM0 0v-20.3"/><path class="l" d="M-3.3 -2L0 0v-20.3l-3.3 -2z"/><path d="M-3.3 -22.3L0 -20.3L4.4 -21.7L1.1 -23.7z" fill="#ff9400"/></g>
<g transform="translate(346.7 509.7)scale(1 1.066)"><path d="M-3.3 -2l3.3 2 4.4 -1.4v-19.5l-4.4 1.4 -3.3 -2zM0 0v-19.5"/><path class="l" d="M-3.3 -2L0 0v-19.5l-3.3 -2z"/><path d="M-3.3 -21.5L0 -19.5L4.4 -20.9L1.1 -22.9z" fill="#ff9300"/></g>
<g transform="translate(341.2 511.6)scale(1 1.072)"><path d="M-3.3 -1.9l3.3 1.9 4.4 -1.4v-18.8l-4.4 1.4 -3.3 -1.9zM0 0v-18.8"/><path class="l" d="M-3.3 -1.9L0 0v-18.8l-3.3 -1.9z"/><path d="M-3.3 -20.7L0 -18.8L4.4 -20.2L1.1 -22.1z" fill="#ff9200"/></g>
<g transform="translate(335.8 513.5)scale(1 1.078)"><path d="M-3.3 -1.9l3.3 1.9 4.4 -1.4v-18l-4.4 1.4 -3.3 -1.9zM0 0v-18"/><path class="l" d="M-3.3 -1.9L0 0v-18l-3.3 -1.9z"/><path d="M-3.3 -19.9L0 -18L4.4 -19.4L1.1 -21.3z" fill="#ff9100"/></g>
<g transform="translate(330.3 515.4)scale(1 1.084)"><path d="M-3.3 -1.9l3.3 1.9 4.4 -1.4v-17.2l-4.4 1.4 -3.3 -1.9zM0 0v-17.2"/><path class="l" d="M-3.3 -1.9L0 0v-17.2l-3.3 -1.9z"/><path d="M-3.3 -19.2L0 -17.2L4.4 -18.6L1.1 -20.5z" fill="#ff9000"/></g>
<g transform="translate(324.8 517.3)scale(1 1.09)"><path d="M-3.3 -1.9l3.3 1.9 4.4 -1.4v-16.5l-4.4 1.4 -3.3 -1.9zM0 0v-16.5"/><path class="l" d="M-3.3 -1.9L0 0v-16.5l-3.3 -1.9z"/><path d="M-3.3 -18.4L0 -16.5L4.4 -17.8L1.1 -19.8z" fill="#ff8f00"/></g>
<g transform="translate(319.3 519.1)scale(1 1.096)"><path d="M-3.3 -1.9l3.3 1.9 4.4 -1.4v-16.1l-4.4 1.4 -3.3 -1.9zM0 0v-16.1"/><path class="l" d="M-3.3 -1.9L0 0v-16.1l-3.3 -1.9z"/><path d="M-3.3 -18L0 -16.1L4.4 -17.5L1.1 -19.4z" fill="#ff8e00"/></g>
<g transform="translate(313.9 521)scale(1 1.102)"><path d="M-3.3 -1.9l3.3 1.9 4.4 -1.4v-15.7l-4.4 1.4 -3.3 -1.9zM0 0v-15.7"/><path class="l" d="M-3.3 -1.9L0 0v-15.7l-3.3 -1.9z"/><path d="M-3.3 -17.6L0 -15.7L4.4 -17.1L1.1 -19z" fill="#ff8e00"/></g>
<g transform="translate(308.4 522.9)scale(1 1.108)"><path d="M-3.3 -1.9l3.3 1.9 4.4 -1.4v-15.7l-4.4 1.4 -3.3 -1.9zM0 0v-15.7"/><path class="l" d="M-3.3 -1.9L0 0v-15.7l-3.3 -1.9z"/><path d="M-3.3 -17.6L0 -15.7L4.4 -17.1L1.1 -18.9z" fill="#ff8e00"/></g>
</g>
<linearGradient id="cb18" x1="0" y1="1" x2="0" y2="0"><stop offset="0" stop-color="#ff0000"/><stop offset="0.1" stop-color="#ff5000"/><stop offset="0.2" stop-color="#ff7300"/><stop offset="0.3" stop-color="#ff8200"/><stop offset="0.85" stop-color="#ff9600"/><stop offset="0.93" stop-color="#ffbe00"/><stop offset="1" stop-color="#ffff00"/></linearGradient>
<rect x="374.4" y="447" width="4.6" height="93.9" fill="url(#cb18)"/>
<g class="t" font-size="2.95">
<text x="286.2" y="508.4" text-anchor="end">0</text>
<text x="286.2" y="500.9" text-anchor="end">0.2</text>
<text x="286.2" y="493.4" text-anchor="end">0.4</text>
<text x="275" y="489.8" font-size="3.45" text-anchor="middle" transform="rotate(-90 275 489.8)">Under-segmentation error</text>
<text x="290.5" y="515.9" text-anchor="end">POL-NLT</text>
<text x="294.6" y="518.5" text-anchor="end">WS</text>
<text x="298.6" y="521.1" text-anchor="end">HMMS</text>
<text x="302.7" y="523.7" text-anchor="end">GMMS</text>
<text x="306.8" y="526.4" text-anchor="end">NC</text>
<text x="318.3" y="529" text-anchor="middle">10</text>
<text x="323.8" y="527.2" text-anchor="middle">11</text>
<text x="329.3" y="525.3" text-anchor="middle">12</text>
<text x="334.7" y="523.4" text-anchor="middle">13</text>
<text x="340.2" y="521.5" text-anchor="middle">14</text>
<text x="345.7" y="519.6" text-anchor="middle">15</text>
<text x="351.2" y="517.8" text-anchor="middle">16</text>
<text x="356.6" y="515.9" text-anchor="middle">17</text>
<text x="362.1" y="514" text-anchor="middle">18</text>
<text x="367.6" y="512.1" text-anchor="middle">19</text>
<text x="373.1" y="510.2" text-anchor="middle">20</text>
<text x="285.9" y="530.5" font-size="3.45" text-anchor="middle">Methods</text>
<text x="339.4" y="528.2" font-size="3.45" text-anchor="middle">δ</text>
<path d="M374.4 540.9h0.8M379 540.9h-0.8" stroke="#777" stroke-width="0.3"/>
<text x="379.6" y="542.5">0</text>
<path d="M374.4 532.3h0.8M379 532.3h-0.8" stroke="#777" stroke-width="0.3"/>
<text x="379.6" y="533.8">0.05</text>
<path d="M374.4 523.6h0.8M379 523.6h-0.8" stroke="#777" stroke-width="0.3"/>
<text x="379.6" y="525.2">0.1</text>
<path d="M374.4 515h0.8M379 515h-0.8" stroke="#777" stroke-width="0.3"/>
<text x="379.6" y="516.5">0.15</text>
<path d="M374.4 506.3h0.8M379 506.3h-0.8" stroke="#777" stroke-width="0.3"/>
<text x="379.6" y="507.9">0.2</text>
<path d="M374.4 497.7h0.8M379 497.7h-0.8" stroke="#777" stroke-width="0.3"/>
<text x="379.6" y="499.2">0.25</text>
<path d="M374.4 489h0.8M379 489h-0.8" stroke="#777" stroke-width="0.3"/>
<text x="379.6" y="490.6">0.3</text>
<path d="M374.4 480.4h0.8M379 480.4h-0.8" stroke="#777" stroke-width="0.3"/>
<text x="379.6" y="481.9">0.35</text>
<path d="M374.4 471.7h0.8M379 471.7h-0.8" stroke="#777" stroke-width="0.3"/>
<text x="379.6" y="473.3">0.4</text>
<path d="M374.4 463.1h0.8M379 463.1h-0.8" stroke="#777" stroke-width="0.3"/>
<text x="379.6" y="464.6">0.45</text>
<path d="M374.4 454.4h0.8M379 454.4h-0.8" stroke="#777" stroke-width="0.3"/>
<text x="379.6" y="456">0.5</text>
</g>
<path d="M411.5 507.3L473.5 483.8L498.7 501.7M411.5 496.2L473.5 472.1L498.7 489.3M411.5 485.2L473.5 460.4L498.7 477M414.3 506.2L414.3 484M414.3 506.2L439.5 524.1M419.9 504.1L419.9 481.8M419.9 504.1L445.2 522M425.6 502L425.6 479.5M425.6 502L450.8 519.9M431.2 499.8L431.2 477.3M431.2 499.8L456.4 517.7M436.9 497.7L436.9 475M436.9 497.7L462.1 515.6M442.5 495.5L442.5 472.8M442.5 495.5L467.7 513.5M448.1 493.4L448.1 470.5M448.1 493.4L473.3 511.3M453.8 491.3L453.8 468.3M453.8 491.3L479 509.2M459.4 489.1L459.4 466M459.4 489.1L484.6 507M465 487L465 463.8M465 487L490.3 504.9M470.7 484.9L470.7 461.5M470.7 484.9L495.9 502.8M477.5 486.6L477.5 463M415.5 510.1L477.5 486.6M481.8 489.7L481.8 465.8M419.8 513.2L481.8 489.7M486.1 492.7L486.1 468.7M424.1 516.3L486.1 492.7M490.4 495.8L490.4 471.5M428.4 519.3L490.4 495.8M494.7 498.9L494.7 474.3M432.7 522.4L494.7 498.9" stroke="#e2e2e2" stroke-width="0.35" fill="none"/>
<path d="M411.5 507.3L473.5 483.8M473.5 483.8L498.7 501.7M473.5 483.8L473.5 460.4M498.7 501.7L498.7 477M411.5 485.2L473.5 460.4M473.5 460.4L498.7 477" stroke="#d0d0d0" stroke-width="0.35" fill="none"/>
<path d="M411.5 507.3L436.7 525.2M436.7 525.2L498.7 501.7M411.5 507.3L411.5 485.2" stroke="#aaa" stroke-width="0.4" fill="none"/>
<linearGradient id="g19" gradientUnits="userSpaceOnUse" x1="0" y1="0" x2="0" y2="-19.4"><stop offset="0" stop-color="#f00"/><stop offset="1" stop-color="#ff0"/></linearGradient>
<g fill="url(#g19)" stroke="rgba(100,30,0,0.55)" stroke-width="0.35">
<g transform="translate(474.1 489.8)scale(1 1.043)"><path d="M-3.4 -2.3l3.4 2.3 4.5 -1.6v-19l-4.5 1.6 -3.4 -2.3zM0 0v-19"/><path class="l" d="M-3.4 -2.3L0 0v-19l-3.4 -2.3z"/><path d="M-3.4 -21.3L0 -19L4.5 -20.6L1.1 -23z" fill="#fff900"/></g>
<g transform="translate(468.5 491.9)scale(1 1.04)"><path d="M-3.4 -2.4l3.4 2.4 4.5 -1.6v-19l-4.5 1.6 -3.4 -2.4zM0 0v-19"/><path class="l" d="M-3.4 -2.4L0 0v-19l-3.4 -2.4z"/><path d="M-3.4 -21.3L0 -19L4.5 -20.6L1.1 -23z" fill="#fff900"/></g>
<g transform="translate(462.9 494)scale(1 1.038)"><path d="M-3.5 -2.4l3.5 2.4 4.5 -1.6v-19l-4.5 1.6 -3.5 -2.4zM0 0v-19"/><path class="l" d="M-3.5 -2.4L0 0v-19l-3.5 -2.4z"/><path d="M-3.5 -21.3L0 -19L4.5 -20.6L1.1 -23z" fill="#fff900"/></g>
<g transform="translate(457.2 496.2)scale(1 1.035)"><path d="M-3.4 -2.4l3.4 2.4 4.5 -1.7v-19l-4.5 1.7 -3.4 -2.4zM0 0v-19"/><path class="l" d="M-3.4 -2.4L0 0v-19l-3.4 -2.4z"/><path d="M-3.4 -21.4L0 -19L4.5 -20.6L1.1 -23z" fill="#fff900"/></g>
<g transform="translate(451.6 498.3)scale(1 1.032)"><path d="M-3.4 -2.4l3.4 2.4 4.5 -1.7v-19l-4.5 1.7 -3.4 -2.4zM0 0v-19"/><path class="l" d="M-3.4 -2.4L0 0v-19l-3.4 -2.4z"/><path d="M-3.4 -21.4L0 -19L4.5 -20.6L1.1 -23z" fill="#fff900"/></g>
<g transform="translate(445.9 500.5)scale(1 1.03)"><path d="M-3.4 -2.4l3.4 2.4 4.5 -1.7v-19l-4.5 1.7 -3.4 -2.4zM0 0v-19"/><path class="l" d="M-3.4 -2.4L0 0v-19l-3.4 -2.4z"/><path d="M-3.4 -21.4L0 -19L4.5 -20.6L1.1 -23z" fill="#fff900"/></g>
<g transform="translate(440.3 502.6)scale(1 1.027)"><path d="M-3.4 -2.4l3.4 2.4 4.5 -1.7v-19l-4.5 1.7 -3.4 -2.4zM0 0v-19"/><path class="l" d="M-3.4 -2.4L0 0v-19l-3.4 -2.4z"/><path d="M-3.4 -21.4L0 -19L4.5 -20.7L1.1 -23z" fill="#fff900"/></g>
<g transform="translate(434.7 504.7)scale(1 1.024)"><path d="M-3.4 -2.4l3.4 2.4 4.5 -1.7v-19l-4.5 1.7 -3.4 -2.4zM0 0v-19"/><path class="l" d="M-3.4 -2.4L0 0v-19l-3.4 -2.4z"/><path d="M-3.4 -21.4L0 -19L4.5 -20.7L1.1 -23z" fill="#fff900"/></g>
<g transform="translate(429 506.9)scale(1 1.021)"><path d="M-3.4 -2.4l3.4 2.4 4.5 -1.7v-19l-4.5 1.7 -3.4 -2.4zM0 0v-19"/><path class="l" d="M-3.4 -2.4L0 0v-19l-3.4 -2.4z"/><path d="M-3.4 -21.4L0 -19L4.5 -20.7L1.1 -23.1z" fill="#fff900"/></g>
<g transform="translate(423.4 509)scale(1 1.019)"><path d="M-3.4 -2.4l3.4 2.4 4.5 -1.7v-19l-4.5 1.7 -3.4 -2.4zM0 0v-19"/><path class="l" d="M-3.4 -2.4L0 0v-19l-3.4 -2.4z"/><path d="M-3.4 -21.4L0 -19L4.5 -20.7L1.1 -23.1z" fill="#fff900"/></g>
<g transform="translate(417.8 511.1)scale(1 1.016)"><path d="M-3.4 -2.4l3.4 2.4 4.5 -1.7v-19l-4.5 1.7 -3.4 -2.4zM0 0v-19"/><path class="l" d="M-3.4 -2.4L0 0v-19l-3.4 -2.4z"/><path d="M-3.4 -21.4L0 -19L4.5 -20.7L1.1 -23.1z" fill="#fff900"/></g>
<g transform="translate(478.5 492.8)scale(1 1.055)"><path d="M-3.5 -2.3l3.5 2.3 4.5 -1.6v-19l-4.5 1.6 -3.5 -2.3zM0 0v-19"/><path class="l" d="M-3.5 -2.3L0 0v-19l-3.5 -2.3z"/><path d="M-3.5 -21.3L0 -19L4.5 -20.6L1.1 -22.9z" fill="#fff900"/></g>
<g transform="translate(472.8 495)scale(1 1.054)"><path d="M-3.5 -2.3l3.5 2.3 4.5 -1.6v-19l-4.5 1.6 -3.5 -2.3zM0 0v-19"/><path class="l" d="M-3.5 -2.3L0 0v-19l-3.5 -2.3z"/><path d="M-3.5 -21.3L0 -19L4.5 -20.6L1.1 -22.9z" fill="#fff900"/></g>
<g transform="translate(467.2 497.1)scale(1 1.054)"><path d="M-3.4 -2.3l3.4 2.3 4.5 -1.6v-19l-4.5 1.6 -3.4 -2.3zM0 0v-19"/><path class="l" d="M-3.4 -2.3L0 0v-19l-3.4 -2.3z"/><path d="M-3.4 -21.3L0 -19L4.5 -20.6L1.1 -22.9z" fill="#fff900"/></g>
<g transform="translate(461.5 499.2)scale(1 1.054)"><path d="M-3.4 -2.3l3.4 2.3 4.5 -1.6v-19l-4.5 1.6 -3.4 -2.3zM0 0v-19"/><path class="l" d="M-3.4 -2.3L0 0v-19l-3.4 -2.3z"/><path d="M-3.4 -21.3L0 -19L4.5 -20.6L1.1 -22.9z" fill="#fff900"/></g>
<g transform="translate(455.9 501.4)scale(1 1.054)"><path d="M-3.5 -2.3l3.5 2.3 4.5 -1.6v-19l-4.5 1.6 -3.5 -2.3zM0 0v-19"/><path class="l" d="M-3.5 -2.3L0 0v-19l-3.5 -2.3z"/><path d="M-3.5 -21.3L0 -19L4.5 -20.6L1.1 -22.9z" fill="#fff900"/></g>
<g transform="translate(450.3 503.5)scale(1 1.054)"><path d="M-3.5 -2.3l3.5 2.3 4.5 -1.6v-19l-4.5 1.6 -3.5 -2.3zM0 0v-19"/><path class="l" d="M-3.5 -2.3L0 0v-19l-3.5 -2.3z"/><path d="M-3.5 -21.3L0 -19L4.5 -20.6L1.1 -22.9z" fill="#fff900"/></g>
<g transform="translate(444.6 505.7)scale(1 1.053)"><path d="M-3.5 -2.3l3.5 2.3 4.5 -1.6v-19l-4.5 1.6 -3.5 -2.3zM0 0v-19"/><path class="l" d="M-3.5 -2.3L0 0v-19l-3.5 -2.3z"/><path d="M-3.5 -21.3L0 -19L4.5 -20.6L1.1 -22.9z" fill="#fff900"/></g>
<g transform="translate(439 507.8)scale(1 1.053)"><path d="M-3.4 -2.3l3.4 2.3 4.5 -1.6v-19l-4.5 1.6 -3.4 -2.3zM0 0v-19"/><path class="l" d="M-3.4 -2.3L0 0v-19l-3.4 -2.3z"/><path d="M-3.4 -21.3L0 -19L4.5 -20.6L1.1 -22.9z" fill="#fff900"/></g>
<g transform="translate(433.3 509.9)scale(1 1.053)"><path d="M-3.4 -2.3l3.4 2.3 4.5 -1.6v-19l-4.5 1.6 -3.4 -2.3zM0 0v-19"/><path class="l" d="M-3.4 -2.3L0 0v-19l-3.4 -2.3z"/><path d="M-3.4 -21.3L0 -19L4.5 -20.6L1.1 -22.9z" fill="#fff900"/></g>
<g transform="translate(427.7 512.1)scale(1 1.053)"><path d="M-3.4 -2.3l3.4 2.3 4.5 -1.6v-19l-4.5 1.6 -3.4 -2.3zM0 0v-19"/><path class="l" d="M-3.4 -2.3L0 0v-19l-3.4 -2.3z"/><path d="M-3.4 -21.3L0 -19L4.5 -20.6L1.1 -22.9z" fill="#fff900"/></g>
<g transform="translate(422.1 514.2)scale(1 1.053)"><path d="M-3.4 -2.3l3.4 2.3 4.5 -1.6v-19l-4.5 1.6 -3.4 -2.3zM0 0v-19"/><path class="l" d="M-3.4 -2.3L0 0v-19l-3.4 -2.3z"/><path d="M-3.4 -21.3L0 -19L4.5 -20.6L1.1 -22.9z" fill="#fff900"/></g>
<g transform="translate(482.8 495.9)scale(1 1.066)"><path d="M-3.4 -2.3l3.4 2.3 4.5 -1.6v-19l-4.5 1.6 -3.4 -2.3zM0 0v-19"/><path class="l" d="M-3.4 -2.3L0 0v-19l-3.4 -2.3z"/><path d="M-3.4 -21.3L0 -19L4.5 -20.6L1.1 -22.9z" fill="#fff900"/></g>
<g transform="translate(477.1 498)scale(1 1.068)"><path d="M-3.5 -2.3l3.5 2.3 4.5 -1.6v-19l-4.5 1.6 -3.5 -2.3zM0 0v-19"/><path class="l" d="M-3.5 -2.3L0 0v-19l-3.5 -2.3z"/><path d="M-3.5 -21.3L0 -19L4.5 -20.6L1.1 -22.9z" fill="#fff900"/></g>
<g transform="translate(471.5 500.2)scale(1 1.071)"><path d="M-3.5 -2.3l3.5 2.3 4.5 -1.6v-19l-4.5 1.6 -3.5 -2.3zM0 0v-19"/><path class="l" d="M-3.5 -2.3L0 0v-19l-3.5 -2.3z"/><path d="M-3.5 -21.3L0 -19L4.5 -20.6L1.1 -22.9z" fill="#fff900"/></g>
<g transform="translate(465.8 502.3)scale(1 1.073)"><path d="M-3.5 -2.3l3.5 2.3 4.5 -1.6v-19l-4.5 1.6 -3.5 -2.3zM0 0v-19"/><path class="l" d="M-3.5 -2.3L0 0v-19l-3.5 -2.3z"/><path d="M-3.5 -21.3L0 -19L4.5 -20.6L1.1 -22.9z" fill="#fff900"/></g>
<g transform="translate(460.2 504.4)scale(1 1.075)"><path d="M-3.5 -2.3l3.5 2.3 4.5 -1.6v-19l-4.5 1.6 -3.5 -2.3zM0 0v-19"/><path class="l" d="M-3.5 -2.3L0 0v-19l-3.5 -2.3z"/><path d="M-3.5 -21.3L0 -19L4.5 -20.6L1.1 -22.9z" fill="#fff900"/></g>
<g transform="translate(454.6 506.6)scale(1 1.077)"><path d="M-3.4 -2.3l3.4 2.3 4.5 -1.6v-19l-4.5 1.6 -3.4 -2.3zM0 0v-19"/><path class="l" d="M-3.4 -2.3L0 0v-19l-3.4 -2.3z"/><path d="M-3.4 -21.3L0 -19L4.5 -20.6L1.1 -22.8z" fill="#fff900"/></g>
<g transform="translate(448.9 508.7)scale(1 1.08)"><path d="M-3.4 -2.3l3.4 2.3 4.5 -1.6v-19l-4.5 1.6 -3.4 -2.3zM0 0v-19"/><path class="l" d="M-3.4 -2.3L0 0v-19l-3.4 -2.3z"/><path d="M-3.4 -21.3L0 -19L4.5 -20.6L1.1 -22.8z" fill="#fff900"/></g>
<g transform="translate(443.3 510.9)scale(1 1.082)"><path d="M-3.5 -2.3l3.5 2.3 4.5 -1.6v-19l-4.5 1.6 -3.5 -2.3zM0 0v-19"/><path class="l" d="M-3.5 -2.3L0 0v-19l-3.5 -2.3z"/><path d="M-3.5 -21.2L0 -19L4.5 -20.6L1.1 -22.8z" fill="#fff900"/></g>
<g transform="translate(437.7 513)scale(1 1.084)"><path d="M-3.5 -2.3l3.5 2.3 4.5 -1.6v-19l-4.5 1.6 -3.5 -2.3zM0 0v-19"/><path class="l" d="M-3.5 -2.3L0 0v-19l-3.5 -2.3z"/><path d="M-3.5 -21.2L0 -19L4.5 -20.6L1.1 -22.8z" fill="#fff900"/></g>
<g transform="translate(432 515.1)scale(1 1.087)"><path d="M-3.4 -2.3l3.4 2.3 4.5 -1.6v-19l-4.5 1.6 -3.4 -2.3zM0 0v-19"/><path class="l" d="M-3.4 -2.3L0 0v-19l-3.4 -2.3z"/><path d="M-3.4 -21.2L0 -19L4.5 -20.6L1.1 -22.8z" fill="#fff900"/></g>
<g transform="translate(426.4 517.3)scale(1 1.089)"><path d="M-3.5 -2.2l3.5 2.2 4.5 -1.6v-19l-4.5 1.6 -3.5 -2.2zM0 0v-19"/><path class="l" d="M-3.5 -2.2L0 0v-19l-3.5 -2.2z"/><path d="M-3.5 -21.2L0 -19L4.5 -20.6L1.1 -22.8z" fill="#fff900"/></g>
<g transform="translate(487.1 498.9)scale(1 1.077)"><path d="M-3.5 -2.3l3.5 2.3 4.5 -1.6v-19l-4.5 1.6 -3.5 -2.3zM0 0v-19"/><path class="l" d="M-3.5 -2.3L0 0v-19l-3.5 -2.3z"/><path d="M-3.5 -21.3L0 -19L4.5 -20.6L1.1 -22.8z" fill="#fff900"/></g>
<g transform="translate(481.4 501.1)scale(1 1.082)"><path d="M-3.5 -2.3l3.5 2.3 4.5 -1.6v-19l-4.5 1.6 -3.5 -2.3zM0 0v-19"/><path class="l" d="M-3.5 -2.3L0 0v-19l-3.5 -2.3z"/><path d="M-3.5 -21.2L0 -19L4.5 -20.6L1.1 -22.8z" fill="#fff900"/></g>
<g transform="translate(475.8 503.2)scale(1 1.087)"><path d="M-3.4 -2.3l3.4 2.3 4.5 -1.6v-19l-4.5 1.6 -3.4 -2.3zM0 0v-19"/><path class="l" d="M-3.4 -2.3L0 0v-19l-3.4 -2.3z"/><path d="M-3.4 -21.2L0 -19L4.5 -20.6L1.1 -22.8z" fill="#fff900"/></g>
<g transform="translate(470.2 505.4)scale(1 1.092)"><path d="M-3.5 -2.2l3.5 2.2 4.5 -1.6v-19l-4.5 1.6 -3.5 -2.2zM0 0v-19"/><path class="l" d="M-3.5 -2.2L0 0v-19l-3.5 -2.2z"/><path d="M-3.5 -21.2L0 -19L4.5 -20.6L1.1 -22.8z" fill="#fff900"/></g>
<g transform="translate(464.5 507.5)scale(1 1.097)"><path d="M-3.4 -2.2l3.4 2.2 4.5 -1.6v-19l-4.5 1.6 -3.4 -2.2zM0 0v-19"/><path class="l" d="M-3.4 -2.2L0 0v-19l-3.4 -2.2z"/><path d="M-3.4 -21.2L0 -19L4.5 -20.5L1.1 -22.8z" fill="#fff900"/></g>
<g transform="translate(458.9 509.6)scale(1 1.101)"><path d="M-3.5 -2.2l3.5 2.2 4.5 -1.6v-19l-4.5 1.6 -3.5 -2.2zM0 0v-19"/><path class="l" d="M-3.5 -2.2L0 0v-19l-3.5 -2.2z"/><path d="M-3.5 -21.2L0 -19L4.5 -20.5L1.1 -22.8z" fill="#fff900"/></g>
<g transform="translate(453.2 511.8)scale(1 1.106)"><path d="M-3.4 -2.2l3.4 2.2 4.5 -1.5v-19l-4.5 1.5 -3.4 -2.2zM0 0v-19"/><path class="l" d="M-3.4 -2.2L0 0v-19l-3.4 -2.2z"/><path d="M-3.4 -21.2L0 -19L4.5 -20.5L1.1 -22.7z" fill="#fff900"/></g>
<g transform="translate(447.6 513.9)scale(1 1.111)"><path d="M-3.4 -2.2l3.4 2.2 4.5 -1.5v-19l-4.5 1.5 -3.4 -2.2zM0 0v-19"/><path class="l" d="M-3.4 -2.2L0 0v-19l-3.4 -2.2z"/><path d="M-3.4 -21.2L0 -19L4.5 -20.5L1.1 -22.7z" fill="#fff900"/></g>
<g transform="translate(442 516.1)scale(1 1.116)"><path d="M-3.4 -2.2l3.4 2.2 4.5 -1.5v-19l-4.5 1.5 -3.4 -2.2zM0 0v-19"/><path class="l" d="M-3.4 -2.2L0 0v-19l-3.4 -2.2z"/><path d="M-3.4 -21.2L0 -19L4.5 -20.5L1.1 -22.7z" fill="#fff900"/></g>
<g transform="translate(436.3 518.2)scale(1 1.121)"><path d="M-3.4 -2.2l3.4 2.2 4.5 -1.5v-19l-4.5 1.5 -3.4 -2.2zM0 0v-19"/><path class="l" d="M-3.4 -2.2L0 0v-19l-3.4 -2.2z"/><path d="M-3.4 -21.2L0 -19L4.5 -20.5L1.1 -22.7z" fill="#fff900"/></g>
<g transform="translate(430.7 520.3)scale(1 1.126)"><path d="M-3.4 -2.2l3.4 2.2 4.5 -1.5v-19l-4.5 1.5 -3.4 -2.2zM0 0v-19"/><path class="l" d="M-3.4 -2.2L0 0v-19l-3.4 -2.2z"/><path d="M-3.4 -21.2L0 -19L4.5 -20.5L1.1 -22.7z" fill="#fff900"/></g>
<g transform="translate(491.4 502)scale(1 1.089)"><path d="M-3.4 -2.3l3.4 2.3 4.5 -1.6v-19l-4.5 1.6 -3.4 -2.3zM0 0v-19"/><path class="l" d="M-3.4 -2.3L0 0v-19l-3.4 -2.3z"/><path d="M-3.4 -21.2L0 -19L4.5 -20.6L1.1 -22.8z" fill="#fff900"/></g>
<g transform="translate(485.8 504.1)scale(1 1.096)"><path d="M-3.4 -2.2l3.4 2.2 4.5 -1.6v-19l-4.5 1.6 -3.4 -2.2zM0 0v-19"/><path class="l" d="M-3.4 -2.2L0 0v-19l-3.4 -2.2z"/><path d="M-3.4 -21.2L0 -19L4.5 -20.5L1.1 -22.8z" fill="#fff900"/></g>
<g transform="translate(480.1 506.3)scale(1 1.103)"><path d="M-3.4 -2.2l3.4 2.2 4.5 -1.6v-19l-4.5 1.6 -3.4 -2.2zM0 0v-19"/><path class="l" d="M-3.4 -2.2L0 0v-19l-3.4 -2.2z"/><path d="M-3.4 -21.2L0 -19L4.5 -20.5L1.1 -22.8z" fill="#fff900"/></g>
<g transform="translate(474.5 508.4)scale(1 1.111)"><path d="M-3.4 -2.2l3.4 2.2 4.5 -1.5v-19l-4.5 1.5 -3.4 -2.2zM0 0v-19"/><path class="l" d="M-3.4 -2.2L0 0v-19l-3.4 -2.2z"/><path d="M-3.4 -21.2L0 -19L4.5 -20.5L1.1 -22.7z" fill="#fff900"/></g>
<g transform="translate(468.8 510.6)scale(1 1.118)"><path d="M-3.5 -2.2l3.5 2.2 4.5 -1.5v-19l-4.5 1.5 -3.5 -2.2zM0 0v-19"/><path class="l" d="M-3.5 -2.2L0 0v-19l-3.5 -2.2z"/><path d="M-3.5 -21.2L0 -19L4.5 -20.5L1.1 -22.7z" fill="#fff900"/></g>
<g transform="translate(463.2 512.7)scale(1 1.125)"><path d="M-3.4 -2.2l3.4 2.2 4.5 -1.5v-19l-4.5 1.5 -3.4 -2.2zM0 0v-19"/><path class="l" d="M-3.4 -2.2L0 0v-19l-3.4 -2.2z"/><path d="M-3.4 -21.2L0 -19L4.5 -20.5L1.1 -22.7z" fill="#fff900"/></g>
<g transform="translate(457.6 514.8)scale(1 1.133)"><path d="M-3.4 -2.2l3.4 2.2 4.5 -1.5v-19l-4.5 1.5 -3.4 -2.2zM0 0v-19"/><path class="l" d="M-3.4 -2.2L0 0v-19l-3.4 -2.2z"/><path d="M-3.4 -21.1L0 -19L4.5 -20.5L1.1 -22.7z" fill="#fff900"/></g>
<g transform="translate(451.9 517)scale(1 1.14)"><path d="M-3.4 -2.1l3.4 2.1 4.5 -1.5v-19l-4.5 1.5 -3.4 -2.1zM0 0v-19"/><path class="l" d="M-3.4 -2.1L0 0v-19l-3.4 -2.1z"/><path d="M-3.4 -21.1L0 -19L4.5 -20.5L1.1 -22.6z" fill="#fff900"/></g>
<g transform="translate(446.3 519.1)scale(1 1.147)"><path d="M-3.4 -2.1l3.4 2.1 4.5 -1.5v-19l-4.5 1.5 -3.4 -2.1zM0 0v-19"/><path class="l" d="M-3.4 -2.1L0 0v-19l-3.4 -2.1z"/><path d="M-3.4 -21.1L0 -19L4.5 -20.5L1.1 -22.6z" fill="#fff900"/></g>
<g transform="translate(440.6 521.3)scale(1 1.155)"><path d="M-3.5 -2.1l3.5 2.1 4.5 -1.5v-19l-4.5 1.5 -3.5 -2.1zM0 0v-19"/><path class="l" d="M-3.5 -2.1L0 0v-19l-3.5 -2.1z"/><path d="M-3.5 -21.1L0 -19L4.5 -20.5L1.1 -22.6z" fill="#fff900"/></g>
<g transform="translate(435 523.4)scale(1 1.162)"><path d="M-3.5 -2.1l3.5 2.1 4.5 -1.5v-19l-4.5 1.5 -3.5 -2.1zM0 0v-19"/><path class="l" d="M-3.5 -2.1L0 0v-19l-3.5 -2.1z"/><path d="M-3.5 -21.1L0 -19L4.5 -20.5L1.1 -22.6z" fill="#fff900"/></g>
</g>
<linearGradient id="cb19" x1="0" y1="1" x2="0" y2="0"><stop offset="0" stop-color="#f00"/><stop offset="1" stop-color="#ff0"/></linearGradient>
<rect x="502.5" y="444.8" width="4.3" height="97" fill="url(#cb19)"/>
<g class="t" font-size="2.9">
<text x="409.7" y="508.3" text-anchor="end">0</text>
<text x="409.7" y="497.3" text-anchor="end">0.5</text>
<text x="409.7" y="486.2" text-anchor="end">1</text>
<text x="400.6" y="485.2" font-size="3.53" text-anchor="middle" transform="rotate(-90 400.6 485.2)">Achievable segmentation accuracy</text>
<text x="412.9" y="515.5" text-anchor="end">POL-NLT</text>
<text x="417.2" y="518.6" text-anchor="end">WS</text>
<text x="421.5" y="521.7" text-anchor="end">HMMS</text>
<text x="425.8" y="524.7" text-anchor="end">GMMS</text>
<text x="430.1" y="527.8" text-anchor="end">NC</text>
<text x="443.8" y="528.8" text-anchor="middle">10</text>
<text x="449.5" y="526.7" text-anchor="middle">11</text>
<text x="455.1" y="524.6" text-anchor="middle">12</text>
<text x="460.7" y="522.4" text-anchor="middle">13</text>
<text x="466.4" y="520.3" text-anchor="middle">14</text>
<text x="472" y="518.2" text-anchor="middle">15</text>
<text x="477.6" y="516" text-anchor="middle">16</text>
<text x="483.3" y="513.9" text-anchor="middle">17</text>
<text x="488.9" y="511.7" text-anchor="middle">18</text>
<text x="494.6" y="509.6" text-anchor="middle">19</text>
<text x="500.2" y="507.5" text-anchor="middle">20</text>
<text x="412.5" y="531" font-size="3.53" text-anchor="middle">Methods</text>
<text x="466.9" y="527.4" font-size="3.53" text-anchor="middle">δ</text>
<path d="M502.5 541.8h0.8M506.8 541.8h-0.8" stroke="#777" stroke-width="0.3"/>
<text x="507.4" y="543.3">0</text>
<path d="M502.5 531.2h0.8M506.8 531.2h-0.8" stroke="#777" stroke-width="0.3"/>
<text x="507.4" y="532.7">0.1</text>
<path d="M502.5 520.6h0.8M506.8 520.6h-0.8" stroke="#777" stroke-width="0.3"/>
<text x="507.4" y="522.1">0.2</text>
<path d="M502.5 510h0.8M506.8 510h-0.8" stroke="#777" stroke-width="0.3"/>
<text x="507.4" y="511.5">0.3</text>
<path d="M502.5 499.4h0.8M506.8 499.4h-0.8" stroke="#777" stroke-width="0.3"/>
<text x="507.4" y="500.9">0.4</text>
<path d="M502.5 488.8h0.8M506.8 488.8h-0.8" stroke="#777" stroke-width="0.3"/>
<text x="507.4" y="490.3">0.5</text>
<path d="M502.5 478.2h0.8M506.8 478.2h-0.8" stroke="#777" stroke-width="0.3"/>
<text x="507.4" y="479.7">0.6</text>
<path d="M502.5 467.6h0.8M506.8 467.6h-0.8" stroke="#777" stroke-width="0.3"/>
<text x="507.4" y="469.1">0.7</text>
<path d="M502.5 457h0.8M506.8 457h-0.8" stroke="#777" stroke-width="0.3"/>
<text x="507.4" y="458.5">0.8</text>
<path d="M502.5 446.4h0.8M506.8 446.4h-0.8" stroke="#777" stroke-width="0.3"/>
<text x="507.4" y="447.9">0.9</text>
</g><text x="88.7" y="8.6" font-size="6.5" text-anchor="middle" font-family="Liberation Serif, serif" font-weight="bold" stroke="#000" stroke-width="0.15">Boundary recall</text><text x="198.9" y="8.6" font-size="6.47" text-anchor="middle" font-family="Liberation Serif, serif" font-weight="bold" stroke="#000" stroke-width="0.15">Running time</text><text x="318.4" y="8.3" font-size="6.56" text-anchor="middle" font-family="Liberation Serif, serif" font-weight="bold" stroke="#000" stroke-width="0.15">Under-segmentation error</text><text x="440.5" y="8.3" font-size="6.56" text-anchor="middle" font-family="Liberation Serif, serif" font-weight="bold" stroke="#000" stroke-width="0.15">Achievable segmentation accuracy</text><text x="19.8" y="68.2" font-size="6.4" text-anchor="middle" font-family="Liberation Serif, serif" font-weight="bold" stroke="#000" stroke-width="0.22">Unfiltered</text><text transform="translate(22.7 170)scale(1 1.15)" font-size="6.2" text-anchor="middle" font-family="Liberation Serif, serif" font-weight="bold" stroke="#000" stroke-width="0.22">Lee filter</text><text transform="translate(22.7 177.5)scale(1 1.15)" font-size="6.2" text-anchor="middle" font-family="Liberation Serif, serif" font-weight="bold" stroke="#000" stroke-width="0.22"><tspan font-size="5.4">n=</tspan><tspan font-size="6.8">3</tspan></text><text transform="translate(22.7 274.8)scale(1 1.15)" font-size="6.2" text-anchor="middle" font-family="Liberation Serif, serif" font-weight="bold" stroke="#000" stroke-width="0.22">Lee filter</text><text transform="translate(22.7 282.3)scale(1 1.15)" font-size="6.2" text-anchor="middle" font-family="Liberation Serif, serif" font-weight="bold" stroke="#000" stroke-width="0.22"><tspan font-size="5.4">n=</tspan><tspan font-size="6.8">5</tspan></text><text transform="translate(22.7 387)scale(1 1.15)" font-size="6.2" text-anchor="middle" font-family="Liberation Serif, serif" font-weight="bold" stroke="#000" stroke-width="0.22">Lee filter</text><text transform="translate(22.7 394.5)scale(1 1.15)" font-size="6.2" text-anchor="middle" font-family="Liberation Serif, serif" font-weight="bold" stroke="#000" stroke-width="0.22"><tspan font-size="5.4">n=</tspan><tspan font-size="6.8">7</tspan></text><text transform="translate(22.7 492)scale(1 1.15)" font-size="6.2" text-anchor="middle" font-family="Liberation Serif, serif" font-weight="bold" stroke="#000" stroke-width="0.22">Lee filter</text><text transform="translate(22.7 499.5)scale(1 1.15)" font-size="6.2" text-anchor="middle" font-family="Liberation Serif, serif" font-weight="bold" stroke="#000" stroke-width="0.22"><tspan font-size="5.4">n=</tspan><tspan font-size="6.8">9</tspan></text></svg></body></html>
